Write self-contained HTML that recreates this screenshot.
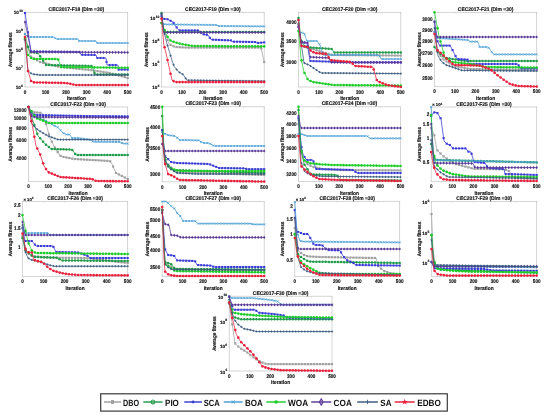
<!DOCTYPE html><html><head><meta charset="utf-8"><style>html,body{margin:0;padding:0;background:#fff;width:550px;height:416px;overflow:hidden}svg{display:block;will-change:transform;text-rendering:geometricPrecision}.t{font-weight:bold;fill:#111;stroke:#111;stroke-width:0.15px}.m{text-anchor:middle}.e{text-anchor:end}</style></head><body>
<svg width="550" height="416" viewBox="0 0 550 416" font-family='"Liberation Sans", sans-serif'>
<g><rect x="25" y="12.3" width="102.70" height="74.70" fill="#fff" stroke="#c4c4c4" stroke-width="0.7"/><path d="M25.00 87v-1M25.00 12.3v1" stroke="#c4c4c4" stroke-width="0.6"/><text x="25.00" y="93.70" class="t m" font-size="5.3" textLength="2.56" lengthAdjust="spacingAndGlyphs">0</text><path d="M45.54 87v-1M45.54 12.3v1" stroke="#c4c4c4" stroke-width="0.6"/><text x="45.54" y="93.70" class="t m" font-size="5.3" textLength="7.67" lengthAdjust="spacingAndGlyphs">100</text><path d="M66.08 87v-1M66.08 12.3v1" stroke="#c4c4c4" stroke-width="0.6"/><text x="66.08" y="93.70" class="t m" font-size="5.3" textLength="7.67" lengthAdjust="spacingAndGlyphs">200</text><path d="M86.62 87v-1M86.62 12.3v1" stroke="#c4c4c4" stroke-width="0.6"/><text x="86.62" y="93.70" class="t m" font-size="5.3" textLength="7.67" lengthAdjust="spacingAndGlyphs">300</text><path d="M107.16 87v-1M107.16 12.3v1" stroke="#c4c4c4" stroke-width="0.6"/><text x="107.16" y="93.70" class="t m" font-size="5.3" textLength="7.67" lengthAdjust="spacingAndGlyphs">400</text><path d="M127.70 87v-1M127.70 12.3v1" stroke="#c4c4c4" stroke-width="0.6"/><text x="127.70" y="93.70" class="t m" font-size="5.3" textLength="7.67" lengthAdjust="spacingAndGlyphs">500</text><text x="23.00" y="14.40" class="t e" font-size="4.6">10<tspan font-size="3.4" dx="0.3" dy="-2.3">10</tspan></text><text x="23.00" y="33.10" class="t e" font-size="4.6">10<tspan font-size="3.4" dx="0.3" dy="-2.3">9</tspan></text><text x="23.00" y="51.80" class="t e" font-size="4.6">10<tspan font-size="3.4" dx="0.3" dy="-2.3">8</tspan></text><text x="23.00" y="70.40" class="t e" font-size="4.6">10<tspan font-size="3.4" dx="0.3" dy="-2.3">7</tspan></text><text x="23.00" y="89.10" class="t e" font-size="4.6">10<tspan font-size="3.4" dx="0.3" dy="-2.3">6</tspan></text><text x="76.35" y="10.90" class="t m" font-size="5.4" textLength="55.5" lengthAdjust="spacingAndGlyphs">CEC2017-F18 (Dim =30)</text><text x="76.35" y="100.40" class="t m" font-size="5.4" textLength="19" lengthAdjust="spacingAndGlyphs">Iteration</text><text x="12.20" y="49.65" class="t m" font-size="5.3" textLength="34.5" lengthAdjust="spacingAndGlyphs" transform="rotate(-90 12.20 49.65)">Average fitness</text><path d="M25.00 34.00 L30.00 56.00 L40.00 62.00 L60.00 67.00 L90.00 70.00 L110.00 73.00 L127.70 78.00" fill="none" stroke="#a0a0a0" stroke-width="0.75" stroke-linejoin="round"/><rect x="23.90" y="32.90" width="2.2" height="2.2" fill="#a0a0a0"/><rect x="26.92" y="46.19" width="2.2" height="2.2" fill="#a0a0a0"/><rect x="29.94" y="55.52" width="2.2" height="2.2" fill="#a0a0a0"/><rect x="32.96" y="57.34" width="2.2" height="2.2" fill="#a0a0a0"/><rect x="35.98" y="59.15" width="2.2" height="2.2" fill="#a0a0a0"/><rect x="39.00" y="60.93" width="2.2" height="2.2" fill="#a0a0a0"/><rect x="42.02" y="61.68" width="2.2" height="2.2" fill="#a0a0a0"/><rect x="45.04" y="62.44" width="2.2" height="2.2" fill="#a0a0a0"/><rect x="48.06" y="63.19" width="2.2" height="2.2" fill="#a0a0a0"/><rect x="51.09" y="63.95" width="2.2" height="2.2" fill="#a0a0a0"/><rect x="54.11" y="64.70" width="2.2" height="2.2" fill="#a0a0a0"/><rect x="57.13" y="65.46" width="2.2" height="2.2" fill="#a0a0a0"/><rect x="60.15" y="66.02" width="2.2" height="2.2" fill="#a0a0a0"/><rect x="63.17" y="66.33" width="2.2" height="2.2" fill="#a0a0a0"/><rect x="66.19" y="66.63" width="2.2" height="2.2" fill="#a0a0a0"/><rect x="69.21" y="66.93" width="2.2" height="2.2" fill="#a0a0a0"/><rect x="72.23" y="67.23" width="2.2" height="2.2" fill="#a0a0a0"/><rect x="75.25" y="67.54" width="2.2" height="2.2" fill="#a0a0a0"/><rect x="78.27" y="67.84" width="2.2" height="2.2" fill="#a0a0a0"/><rect x="81.29" y="68.14" width="2.2" height="2.2" fill="#a0a0a0"/><rect x="84.31" y="68.44" width="2.2" height="2.2" fill="#a0a0a0"/><rect x="87.33" y="68.74" width="2.2" height="2.2" fill="#a0a0a0"/><rect x="90.35" y="69.12" width="2.2" height="2.2" fill="#a0a0a0"/><rect x="93.37" y="69.57" width="2.2" height="2.2" fill="#a0a0a0"/><rect x="96.39" y="70.02" width="2.2" height="2.2" fill="#a0a0a0"/><rect x="99.41" y="70.48" width="2.2" height="2.2" fill="#a0a0a0"/><rect x="102.44" y="70.93" width="2.2" height="2.2" fill="#a0a0a0"/><rect x="105.46" y="71.38" width="2.2" height="2.2" fill="#a0a0a0"/><rect x="108.48" y="71.84" width="2.2" height="2.2" fill="#a0a0a0"/><rect x="111.50" y="72.63" width="2.2" height="2.2" fill="#a0a0a0"/><rect x="114.52" y="73.49" width="2.2" height="2.2" fill="#a0a0a0"/><rect x="117.54" y="74.34" width="2.2" height="2.2" fill="#a0a0a0"/><rect x="120.56" y="75.19" width="2.2" height="2.2" fill="#a0a0a0"/><rect x="123.58" y="76.05" width="2.2" height="2.2" fill="#a0a0a0"/><rect x="126.60" y="76.90" width="2.2" height="2.2" fill="#a0a0a0"/><path d="M25.00 39.00 L30.00 52.00 L38.00 53.00 L46.00 65.00 L92.00 66.00 L95.00 74.40 L127.70 74.40" fill="none" stroke="#1f9a48" stroke-width="0.75" stroke-linejoin="round"/><circle cx="25.00" cy="39.00" r="1.25" fill="#1f9a48"/><circle cx="28.02" cy="46.85" r="1.25" fill="#1f9a48"/><circle cx="31.04" cy="52.13" r="1.25" fill="#1f9a48"/><circle cx="34.06" cy="52.51" r="1.25" fill="#1f9a48"/><circle cx="37.08" cy="52.89" r="1.25" fill="#1f9a48"/><circle cx="40.10" cy="56.15" r="1.25" fill="#1f9a48"/><circle cx="43.12" cy="60.69" r="1.25" fill="#1f9a48"/><circle cx="46.14" cy="65.00" r="1.25" fill="#1f9a48"/><circle cx="49.16" cy="65.07" r="1.25" fill="#1f9a48"/><circle cx="52.19" cy="65.13" r="1.25" fill="#1f9a48"/><circle cx="55.21" cy="65.20" r="1.25" fill="#1f9a48"/><circle cx="58.23" cy="65.27" r="1.25" fill="#1f9a48"/><circle cx="61.25" cy="65.33" r="1.25" fill="#1f9a48"/><circle cx="64.27" cy="65.40" r="1.25" fill="#1f9a48"/><circle cx="67.29" cy="65.46" r="1.25" fill="#1f9a48"/><circle cx="70.31" cy="65.53" r="1.25" fill="#1f9a48"/><circle cx="73.33" cy="65.59" r="1.25" fill="#1f9a48"/><circle cx="76.35" cy="65.66" r="1.25" fill="#1f9a48"/><circle cx="79.37" cy="65.73" r="1.25" fill="#1f9a48"/><circle cx="82.39" cy="65.79" r="1.25" fill="#1f9a48"/><circle cx="85.41" cy="65.86" r="1.25" fill="#1f9a48"/><circle cx="88.43" cy="65.92" r="1.25" fill="#1f9a48"/><circle cx="91.45" cy="65.99" r="1.25" fill="#1f9a48"/><circle cx="94.47" cy="72.93" r="1.25" fill="#1f9a48"/><circle cx="97.49" cy="74.40" r="1.25" fill="#1f9a48"/><circle cx="100.51" cy="74.40" r="1.25" fill="#1f9a48"/><circle cx="103.54" cy="74.40" r="1.25" fill="#1f9a48"/><circle cx="106.56" cy="74.40" r="1.25" fill="#1f9a48"/><circle cx="109.58" cy="74.40" r="1.25" fill="#1f9a48"/><circle cx="112.60" cy="74.40" r="1.25" fill="#1f9a48"/><circle cx="115.62" cy="74.40" r="1.25" fill="#1f9a48"/><circle cx="118.64" cy="74.40" r="1.25" fill="#1f9a48"/><circle cx="121.66" cy="74.40" r="1.25" fill="#1f9a48"/><circle cx="124.68" cy="74.40" r="1.25" fill="#1f9a48"/><circle cx="127.70" cy="74.40" r="1.25" fill="#1f9a48"/><path d="M25.00 13.00 L31.00 51.40 L80.00 52.00 L81.00 54.80 L96.00 55.00 L97.00 58.00 L106.00 58.00 L107.00 65.00 L118.00 65.00 L118.40 69.60 L127.70 69.60" fill="none" stroke="#3a3ad6" stroke-width="0.75" stroke-linejoin="round"/><rect x="23.95" y="11.95" width="2.1" height="2.1" fill="#3a3ad6"/><rect x="26.97" y="31.28" width="2.1" height="2.1" fill="#3a3ad6"/><rect x="29.99" y="50.35" width="2.1" height="2.1" fill="#3a3ad6"/><rect x="33.01" y="50.39" width="2.1" height="2.1" fill="#3a3ad6"/><rect x="36.03" y="50.42" width="2.1" height="2.1" fill="#3a3ad6"/><rect x="39.05" y="50.46" width="2.1" height="2.1" fill="#3a3ad6"/><rect x="42.07" y="50.50" width="2.1" height="2.1" fill="#3a3ad6"/><rect x="45.09" y="50.54" width="2.1" height="2.1" fill="#3a3ad6"/><rect x="48.11" y="50.57" width="2.1" height="2.1" fill="#3a3ad6"/><rect x="51.14" y="50.61" width="2.1" height="2.1" fill="#3a3ad6"/><rect x="54.16" y="50.65" width="2.1" height="2.1" fill="#3a3ad6"/><rect x="57.18" y="50.68" width="2.1" height="2.1" fill="#3a3ad6"/><rect x="60.20" y="50.72" width="2.1" height="2.1" fill="#3a3ad6"/><rect x="63.22" y="50.76" width="2.1" height="2.1" fill="#3a3ad6"/><rect x="66.24" y="50.79" width="2.1" height="2.1" fill="#3a3ad6"/><rect x="69.26" y="50.83" width="2.1" height="2.1" fill="#3a3ad6"/><rect x="72.28" y="50.87" width="2.1" height="2.1" fill="#3a3ad6"/><rect x="75.30" y="50.91" width="2.1" height="2.1" fill="#3a3ad6"/><rect x="78.32" y="50.94" width="2.1" height="2.1" fill="#3a3ad6"/><rect x="81.34" y="53.77" width="2.1" height="2.1" fill="#3a3ad6"/><rect x="84.36" y="53.81" width="2.1" height="2.1" fill="#3a3ad6"/><rect x="87.38" y="53.85" width="2.1" height="2.1" fill="#3a3ad6"/><rect x="90.40" y="53.89" width="2.1" height="2.1" fill="#3a3ad6"/><rect x="93.42" y="53.93" width="2.1" height="2.1" fill="#3a3ad6"/><rect x="96.44" y="56.95" width="2.1" height="2.1" fill="#3a3ad6"/><rect x="99.46" y="56.95" width="2.1" height="2.1" fill="#3a3ad6"/><rect x="102.49" y="56.95" width="2.1" height="2.1" fill="#3a3ad6"/><rect x="105.51" y="60.84" width="2.1" height="2.1" fill="#3a3ad6"/><rect x="108.53" y="63.95" width="2.1" height="2.1" fill="#3a3ad6"/><rect x="111.55" y="63.95" width="2.1" height="2.1" fill="#3a3ad6"/><rect x="114.57" y="63.95" width="2.1" height="2.1" fill="#3a3ad6"/><rect x="117.59" y="68.55" width="2.1" height="2.1" fill="#3a3ad6"/><rect x="120.61" y="68.55" width="2.1" height="2.1" fill="#3a3ad6"/><rect x="123.63" y="68.55" width="2.1" height="2.1" fill="#3a3ad6"/><rect x="126.65" y="68.55" width="2.1" height="2.1" fill="#3a3ad6"/><path d="M25.00 34.00 L27.00 36.00 L29.00 37.00 L54.00 37.00 L56.00 39.00 L78.00 39.00 L79.00 41.00 L96.00 41.00 L97.00 43.00 L127.70 43.00" fill="none" stroke="#4a9fd6" stroke-width="0.75" stroke-linejoin="round"/><path d="M24.00 33.00L26.00 35.00M24.00 35.00L26.00 33.00" stroke="#4a9fd6" stroke-width="0.8" fill="none"/><path d="M27.02 35.51L29.02 37.51M27.02 37.51L29.02 35.51" stroke="#4a9fd6" stroke-width="0.8" fill="none"/><path d="M30.04 36.00L32.04 38.00M30.04 38.00L32.04 36.00" stroke="#4a9fd6" stroke-width="0.8" fill="none"/><path d="M33.06 36.00L35.06 38.00M33.06 38.00L35.06 36.00" stroke="#4a9fd6" stroke-width="0.8" fill="none"/><path d="M36.08 36.00L38.08 38.00M36.08 38.00L38.08 36.00" stroke="#4a9fd6" stroke-width="0.8" fill="none"/><path d="M39.10 36.00L41.10 38.00M39.10 38.00L41.10 36.00" stroke="#4a9fd6" stroke-width="0.8" fill="none"/><path d="M42.12 36.00L44.12 38.00M42.12 38.00L44.12 36.00" stroke="#4a9fd6" stroke-width="0.8" fill="none"/><path d="M45.14 36.00L47.14 38.00M45.14 38.00L47.14 36.00" stroke="#4a9fd6" stroke-width="0.8" fill="none"/><path d="M48.16 36.00L50.16 38.00M48.16 38.00L50.16 36.00" stroke="#4a9fd6" stroke-width="0.8" fill="none"/><path d="M51.19 36.00L53.19 38.00M51.19 38.00L53.19 36.00" stroke="#4a9fd6" stroke-width="0.8" fill="none"/><path d="M54.21 37.21L56.21 39.21M54.21 39.21L56.21 37.21" stroke="#4a9fd6" stroke-width="0.8" fill="none"/><path d="M57.23 38.00L59.23 40.00M57.23 40.00L59.23 38.00" stroke="#4a9fd6" stroke-width="0.8" fill="none"/><path d="M60.25 38.00L62.25 40.00M60.25 40.00L62.25 38.00" stroke="#4a9fd6" stroke-width="0.8" fill="none"/><path d="M63.27 38.00L65.27 40.00M63.27 40.00L65.27 38.00" stroke="#4a9fd6" stroke-width="0.8" fill="none"/><path d="M66.29 38.00L68.29 40.00M66.29 40.00L68.29 38.00" stroke="#4a9fd6" stroke-width="0.8" fill="none"/><path d="M69.31 38.00L71.31 40.00M69.31 40.00L71.31 38.00" stroke="#4a9fd6" stroke-width="0.8" fill="none"/><path d="M72.33 38.00L74.33 40.00M72.33 40.00L74.33 38.00" stroke="#4a9fd6" stroke-width="0.8" fill="none"/><path d="M75.35 38.00L77.35 40.00M75.35 40.00L77.35 38.00" stroke="#4a9fd6" stroke-width="0.8" fill="none"/><path d="M78.37 40.00L80.37 42.00M78.37 42.00L80.37 40.00" stroke="#4a9fd6" stroke-width="0.8" fill="none"/><path d="M81.39 40.00L83.39 42.00M81.39 42.00L83.39 40.00" stroke="#4a9fd6" stroke-width="0.8" fill="none"/><path d="M84.41 40.00L86.41 42.00M84.41 42.00L86.41 40.00" stroke="#4a9fd6" stroke-width="0.8" fill="none"/><path d="M87.43 40.00L89.43 42.00M87.43 42.00L89.43 40.00" stroke="#4a9fd6" stroke-width="0.8" fill="none"/><path d="M90.45 40.00L92.45 42.00M90.45 42.00L92.45 40.00" stroke="#4a9fd6" stroke-width="0.8" fill="none"/><path d="M93.47 40.00L95.47 42.00M93.47 42.00L95.47 40.00" stroke="#4a9fd6" stroke-width="0.8" fill="none"/><path d="M96.49 42.00L98.49 44.00M96.49 44.00L98.49 42.00" stroke="#4a9fd6" stroke-width="0.8" fill="none"/><path d="M99.51 42.00L101.51 44.00M99.51 44.00L101.51 42.00" stroke="#4a9fd6" stroke-width="0.8" fill="none"/><path d="M102.54 42.00L104.54 44.00M102.54 44.00L104.54 42.00" stroke="#4a9fd6" stroke-width="0.8" fill="none"/><path d="M105.56 42.00L107.56 44.00M105.56 44.00L107.56 42.00" stroke="#4a9fd6" stroke-width="0.8" fill="none"/><path d="M108.58 42.00L110.58 44.00M108.58 44.00L110.58 42.00" stroke="#4a9fd6" stroke-width="0.8" fill="none"/><path d="M111.60 42.00L113.60 44.00M111.60 44.00L113.60 42.00" stroke="#4a9fd6" stroke-width="0.8" fill="none"/><path d="M114.62 42.00L116.62 44.00M114.62 44.00L116.62 42.00" stroke="#4a9fd6" stroke-width="0.8" fill="none"/><path d="M117.64 42.00L119.64 44.00M117.64 44.00L119.64 42.00" stroke="#4a9fd6" stroke-width="0.8" fill="none"/><path d="M120.66 42.00L122.66 44.00M120.66 44.00L122.66 42.00" stroke="#4a9fd6" stroke-width="0.8" fill="none"/><path d="M123.68 42.00L125.68 44.00M123.68 44.00L125.68 42.00" stroke="#4a9fd6" stroke-width="0.8" fill="none"/><path d="M126.70 42.00L128.70 44.00M126.70 44.00L128.70 42.00" stroke="#4a9fd6" stroke-width="0.8" fill="none"/><path d="M25.00 39.00 L28.00 55.00 L32.00 59.00 L58.00 59.00 L61.00 67.00 L127.70 67.80" fill="none" stroke="#1ecc28" stroke-width="0.75" stroke-linejoin="round"/><circle cx="25.00" cy="39.00" r="1.3" fill="#1ecc28"/><circle cx="28.02" cy="55.02" r="1.3" fill="#1ecc28"/><circle cx="31.04" cy="58.04" r="1.3" fill="#1ecc28"/><circle cx="34.06" cy="59.00" r="1.3" fill="#1ecc28"/><circle cx="37.08" cy="59.00" r="1.3" fill="#1ecc28"/><circle cx="40.10" cy="59.00" r="1.3" fill="#1ecc28"/><circle cx="43.12" cy="59.00" r="1.3" fill="#1ecc28"/><circle cx="46.14" cy="59.00" r="1.3" fill="#1ecc28"/><circle cx="49.16" cy="59.00" r="1.3" fill="#1ecc28"/><circle cx="52.19" cy="59.00" r="1.3" fill="#1ecc28"/><circle cx="55.21" cy="59.00" r="1.3" fill="#1ecc28"/><circle cx="58.23" cy="59.60" r="1.3" fill="#1ecc28"/><circle cx="61.25" cy="67.00" r="1.3" fill="#1ecc28"/><circle cx="64.27" cy="67.04" r="1.3" fill="#1ecc28"/><circle cx="67.29" cy="67.08" r="1.3" fill="#1ecc28"/><circle cx="70.31" cy="67.11" r="1.3" fill="#1ecc28"/><circle cx="73.33" cy="67.15" r="1.3" fill="#1ecc28"/><circle cx="76.35" cy="67.18" r="1.3" fill="#1ecc28"/><circle cx="79.37" cy="67.22" r="1.3" fill="#1ecc28"/><circle cx="82.39" cy="67.26" r="1.3" fill="#1ecc28"/><circle cx="85.41" cy="67.29" r="1.3" fill="#1ecc28"/><circle cx="88.43" cy="67.33" r="1.3" fill="#1ecc28"/><circle cx="91.45" cy="67.37" r="1.3" fill="#1ecc28"/><circle cx="94.47" cy="67.40" r="1.3" fill="#1ecc28"/><circle cx="97.49" cy="67.44" r="1.3" fill="#1ecc28"/><circle cx="100.51" cy="67.47" r="1.3" fill="#1ecc28"/><circle cx="103.54" cy="67.51" r="1.3" fill="#1ecc28"/><circle cx="106.56" cy="67.55" r="1.3" fill="#1ecc28"/><circle cx="109.58" cy="67.58" r="1.3" fill="#1ecc28"/><circle cx="112.60" cy="67.62" r="1.3" fill="#1ecc28"/><circle cx="115.62" cy="67.66" r="1.3" fill="#1ecc28"/><circle cx="118.64" cy="67.69" r="1.3" fill="#1ecc28"/><circle cx="121.66" cy="67.73" r="1.3" fill="#1ecc28"/><circle cx="124.68" cy="67.76" r="1.3" fill="#1ecc28"/><circle cx="127.70" cy="67.80" r="1.3" fill="#1ecc28"/><path d="M25.00 22.00 L28.00 36.00 L31.00 52.00 L127.70 52.40" fill="none" stroke="#5a3a98" stroke-width="0.75" stroke-linejoin="round"/><path d="M25.00 20.40L26.25 22.00L25.00 23.60L23.75 22.00Z" fill="#5a3a98"/><path d="M28.02 34.51L29.27 36.11L28.02 37.71L26.77 36.11Z" fill="#5a3a98"/><path d="M31.04 50.40L32.29 52.00L31.04 53.60L29.79 52.00Z" fill="#5a3a98"/><path d="M34.06 50.41L35.31 52.01L34.06 53.61L32.81 52.01Z" fill="#5a3a98"/><path d="M37.08 50.43L38.33 52.03L37.08 53.63L35.83 52.03Z" fill="#5a3a98"/><path d="M40.10 50.44L41.35 52.04L40.10 53.64L38.85 52.04Z" fill="#5a3a98"/><path d="M43.12 50.45L44.37 52.05L43.12 53.65L41.87 52.05Z" fill="#5a3a98"/><path d="M46.14 50.46L47.39 52.06L46.14 53.66L44.89 52.06Z" fill="#5a3a98"/><path d="M49.16 50.48L50.41 52.08L49.16 53.68L47.91 52.08Z" fill="#5a3a98"/><path d="M52.19 50.49L53.44 52.09L52.19 53.69L50.94 52.09Z" fill="#5a3a98"/><path d="M55.21 50.50L56.46 52.10L55.21 53.70L53.96 52.10Z" fill="#5a3a98"/><path d="M58.23 50.51L59.48 52.11L58.23 53.71L56.98 52.11Z" fill="#5a3a98"/><path d="M61.25 50.53L62.50 52.13L61.25 53.73L60.00 52.13Z" fill="#5a3a98"/><path d="M64.27 50.54L65.52 52.14L64.27 53.74L63.02 52.14Z" fill="#5a3a98"/><path d="M67.29 50.55L68.54 52.15L67.29 53.75L66.04 52.15Z" fill="#5a3a98"/><path d="M70.31 50.56L71.56 52.16L70.31 53.76L69.06 52.16Z" fill="#5a3a98"/><path d="M73.33 50.58L74.58 52.18L73.33 53.78L72.08 52.18Z" fill="#5a3a98"/><path d="M76.35 50.59L77.60 52.19L76.35 53.79L75.10 52.19Z" fill="#5a3a98"/><path d="M79.37 50.60L80.62 52.20L79.37 53.80L78.12 52.20Z" fill="#5a3a98"/><path d="M82.39 50.61L83.64 52.21L82.39 53.81L81.14 52.21Z" fill="#5a3a98"/><path d="M85.41 50.63L86.66 52.23L85.41 53.83L84.16 52.23Z" fill="#5a3a98"/><path d="M88.43 50.64L89.68 52.24L88.43 53.84L87.18 52.24Z" fill="#5a3a98"/><path d="M91.45 50.65L92.70 52.25L91.45 53.85L90.20 52.25Z" fill="#5a3a98"/><path d="M94.47 50.66L95.72 52.26L94.47 53.86L93.22 52.26Z" fill="#5a3a98"/><path d="M97.49 50.68L98.74 52.28L97.49 53.88L96.24 52.28Z" fill="#5a3a98"/><path d="M100.51 50.69L101.76 52.29L100.51 53.89L99.26 52.29Z" fill="#5a3a98"/><path d="M103.54 50.70L104.79 52.30L103.54 53.90L102.29 52.30Z" fill="#5a3a98"/><path d="M106.56 50.71L107.81 52.31L106.56 53.91L105.31 52.31Z" fill="#5a3a98"/><path d="M109.58 50.73L110.83 52.33L109.58 53.93L108.33 52.33Z" fill="#5a3a98"/><path d="M112.60 50.74L113.85 52.34L112.60 53.94L111.35 52.34Z" fill="#5a3a98"/><path d="M115.62 50.75L116.87 52.35L115.62 53.95L114.37 52.35Z" fill="#5a3a98"/><path d="M118.64 50.76L119.89 52.36L118.64 53.96L117.39 52.36Z" fill="#5a3a98"/><path d="M121.66 50.78L122.91 52.38L121.66 53.98L120.41 52.38Z" fill="#5a3a98"/><path d="M124.68 50.79L125.93 52.39L124.68 53.99L123.43 52.39Z" fill="#5a3a98"/><path d="M127.70 50.80L128.95 52.40L127.70 54.00L126.45 52.40Z" fill="#5a3a98"/><path d="M25.00 40.00 L28.00 71.00 L32.00 74.00 L40.00 75.00 L127.70 75.00" fill="none" stroke="#3a5a7e" stroke-width="0.75" stroke-linejoin="round"/><path d="M23.90 40.00H26.10M25.00 38.90V41.10" stroke="#3a5a7e" stroke-width="0.8" fill="none"/><path d="M26.92 71.02H29.12M28.02 69.92V72.12" stroke="#3a5a7e" stroke-width="0.8" fill="none"/><path d="M29.94 73.28H32.14M31.04 72.18V74.38" stroke="#3a5a7e" stroke-width="0.8" fill="none"/><path d="M32.96 74.26H35.16M34.06 73.16V75.36" stroke="#3a5a7e" stroke-width="0.8" fill="none"/><path d="M35.98 74.64H38.18M37.08 73.54V75.74" stroke="#3a5a7e" stroke-width="0.8" fill="none"/><path d="M39.00 75.00H41.20M40.10 73.90V76.10" stroke="#3a5a7e" stroke-width="0.8" fill="none"/><path d="M42.02 75.00H44.22M43.12 73.90V76.10" stroke="#3a5a7e" stroke-width="0.8" fill="none"/><path d="M45.04 75.00H47.24M46.14 73.90V76.10" stroke="#3a5a7e" stroke-width="0.8" fill="none"/><path d="M48.06 75.00H50.26M49.16 73.90V76.10" stroke="#3a5a7e" stroke-width="0.8" fill="none"/><path d="M51.09 75.00H53.29M52.19 73.90V76.10" stroke="#3a5a7e" stroke-width="0.8" fill="none"/><path d="M54.11 75.00H56.31M55.21 73.90V76.10" stroke="#3a5a7e" stroke-width="0.8" fill="none"/><path d="M57.13 75.00H59.33M58.23 73.90V76.10" stroke="#3a5a7e" stroke-width="0.8" fill="none"/><path d="M60.15 75.00H62.35M61.25 73.90V76.10" stroke="#3a5a7e" stroke-width="0.8" fill="none"/><path d="M63.17 75.00H65.37M64.27 73.90V76.10" stroke="#3a5a7e" stroke-width="0.8" fill="none"/><path d="M66.19 75.00H68.39M67.29 73.90V76.10" stroke="#3a5a7e" stroke-width="0.8" fill="none"/><path d="M69.21 75.00H71.41M70.31 73.90V76.10" stroke="#3a5a7e" stroke-width="0.8" fill="none"/><path d="M72.23 75.00H74.43M73.33 73.90V76.10" stroke="#3a5a7e" stroke-width="0.8" fill="none"/><path d="M75.25 75.00H77.45M76.35 73.90V76.10" stroke="#3a5a7e" stroke-width="0.8" fill="none"/><path d="M78.27 75.00H80.47M79.37 73.90V76.10" stroke="#3a5a7e" stroke-width="0.8" fill="none"/><path d="M81.29 75.00H83.49M82.39 73.90V76.10" stroke="#3a5a7e" stroke-width="0.8" fill="none"/><path d="M84.31 75.00H86.51M85.41 73.90V76.10" stroke="#3a5a7e" stroke-width="0.8" fill="none"/><path d="M87.33 75.00H89.53M88.43 73.90V76.10" stroke="#3a5a7e" stroke-width="0.8" fill="none"/><path d="M90.35 75.00H92.55M91.45 73.90V76.10" stroke="#3a5a7e" stroke-width="0.8" fill="none"/><path d="M93.37 75.00H95.57M94.47 73.90V76.10" stroke="#3a5a7e" stroke-width="0.8" fill="none"/><path d="M96.39 75.00H98.59M97.49 73.90V76.10" stroke="#3a5a7e" stroke-width="0.8" fill="none"/><path d="M99.41 75.00H101.61M100.51 73.90V76.10" stroke="#3a5a7e" stroke-width="0.8" fill="none"/><path d="M102.44 75.00H104.64M103.54 73.90V76.10" stroke="#3a5a7e" stroke-width="0.8" fill="none"/><path d="M105.46 75.00H107.66M106.56 73.90V76.10" stroke="#3a5a7e" stroke-width="0.8" fill="none"/><path d="M108.48 75.00H110.68M109.58 73.90V76.10" stroke="#3a5a7e" stroke-width="0.8" fill="none"/><path d="M111.50 75.00H113.70M112.60 73.90V76.10" stroke="#3a5a7e" stroke-width="0.8" fill="none"/><path d="M114.52 75.00H116.72M115.62 73.90V76.10" stroke="#3a5a7e" stroke-width="0.8" fill="none"/><path d="M117.54 75.00H119.74M118.64 73.90V76.10" stroke="#3a5a7e" stroke-width="0.8" fill="none"/><path d="M120.56 75.00H122.76M121.66 73.90V76.10" stroke="#3a5a7e" stroke-width="0.8" fill="none"/><path d="M123.58 75.00H125.78M124.68 73.90V76.10" stroke="#3a5a7e" stroke-width="0.8" fill="none"/><path d="M126.60 75.00H128.80M127.70 73.90V76.10" stroke="#3a5a7e" stroke-width="0.8" fill="none"/><path d="M25.00 37.00 L28.00 71.00 L31.00 81.00 L34.00 82.40 L66.00 83.00 L76.00 85.00 L127.70 85.00" fill="none" stroke="#e8203c" stroke-width="0.75" stroke-linejoin="round"/><circle cx="25.00" cy="37.00" r="1.3" fill="#e8203c"/><circle cx="28.02" cy="71.07" r="1.3" fill="#e8203c"/><circle cx="31.04" cy="81.02" r="1.3" fill="#e8203c"/><circle cx="34.06" cy="82.40" r="1.3" fill="#e8203c"/><circle cx="37.08" cy="82.46" r="1.3" fill="#e8203c"/><circle cx="40.10" cy="82.51" r="1.3" fill="#e8203c"/><circle cx="43.12" cy="82.57" r="1.3" fill="#e8203c"/><circle cx="46.14" cy="82.63" r="1.3" fill="#e8203c"/><circle cx="49.16" cy="82.68" r="1.3" fill="#e8203c"/><circle cx="52.19" cy="82.74" r="1.3" fill="#e8203c"/><circle cx="55.21" cy="82.80" r="1.3" fill="#e8203c"/><circle cx="58.23" cy="82.85" r="1.3" fill="#e8203c"/><circle cx="61.25" cy="82.91" r="1.3" fill="#e8203c"/><circle cx="64.27" cy="82.97" r="1.3" fill="#e8203c"/><circle cx="67.29" cy="83.26" r="1.3" fill="#e8203c"/><circle cx="70.31" cy="83.86" r="1.3" fill="#e8203c"/><circle cx="73.33" cy="84.47" r="1.3" fill="#e8203c"/><circle cx="76.35" cy="85.00" r="1.3" fill="#e8203c"/><circle cx="79.37" cy="85.00" r="1.3" fill="#e8203c"/><circle cx="82.39" cy="85.00" r="1.3" fill="#e8203c"/><circle cx="85.41" cy="85.00" r="1.3" fill="#e8203c"/><circle cx="88.43" cy="85.00" r="1.3" fill="#e8203c"/><circle cx="91.45" cy="85.00" r="1.3" fill="#e8203c"/><circle cx="94.47" cy="85.00" r="1.3" fill="#e8203c"/><circle cx="97.49" cy="85.00" r="1.3" fill="#e8203c"/><circle cx="100.51" cy="85.00" r="1.3" fill="#e8203c"/><circle cx="103.54" cy="85.00" r="1.3" fill="#e8203c"/><circle cx="106.56" cy="85.00" r="1.3" fill="#e8203c"/><circle cx="109.58" cy="85.00" r="1.3" fill="#e8203c"/><circle cx="112.60" cy="85.00" r="1.3" fill="#e8203c"/><circle cx="115.62" cy="85.00" r="1.3" fill="#e8203c"/><circle cx="118.64" cy="85.00" r="1.3" fill="#e8203c"/><circle cx="121.66" cy="85.00" r="1.3" fill="#e8203c"/><circle cx="124.68" cy="85.00" r="1.3" fill="#e8203c"/><circle cx="127.70" cy="85.00" r="1.3" fill="#e8203c"/></g>
<g><rect x="161.5" y="12.3" width="102.70" height="74.70" fill="#fff" stroke="#c4c4c4" stroke-width="0.7"/><path d="M161.50 87v-1M161.50 12.3v1" stroke="#c4c4c4" stroke-width="0.6"/><text x="161.50" y="93.70" class="t m" font-size="5.3" textLength="2.56" lengthAdjust="spacingAndGlyphs">0</text><path d="M182.04 87v-1M182.04 12.3v1" stroke="#c4c4c4" stroke-width="0.6"/><text x="182.04" y="93.70" class="t m" font-size="5.3" textLength="7.67" lengthAdjust="spacingAndGlyphs">100</text><path d="M202.58 87v-1M202.58 12.3v1" stroke="#c4c4c4" stroke-width="0.6"/><text x="202.58" y="93.70" class="t m" font-size="5.3" textLength="7.67" lengthAdjust="spacingAndGlyphs">200</text><path d="M223.12 87v-1M223.12 12.3v1" stroke="#c4c4c4" stroke-width="0.6"/><text x="223.12" y="93.70" class="t m" font-size="5.3" textLength="7.67" lengthAdjust="spacingAndGlyphs">300</text><path d="M243.66 87v-1M243.66 12.3v1" stroke="#c4c4c4" stroke-width="0.6"/><text x="243.66" y="93.70" class="t m" font-size="5.3" textLength="7.67" lengthAdjust="spacingAndGlyphs">400</text><path d="M264.20 87v-1M264.20 12.3v1" stroke="#c4c4c4" stroke-width="0.6"/><text x="264.20" y="93.70" class="t m" font-size="5.3" textLength="7.67" lengthAdjust="spacingAndGlyphs">500</text><text x="159.50" y="19.90" class="t e" font-size="4.6">10<tspan font-size="3.4" dx="0.3" dy="-2.3">10</tspan></text><text x="159.50" y="42.80" class="t e" font-size="4.6">10<tspan font-size="3.4" dx="0.3" dy="-2.3">8</tspan></text><text x="159.50" y="65.70" class="t e" font-size="4.6">10<tspan font-size="3.4" dx="0.3" dy="-2.3">6</tspan></text><text x="159.50" y="89.10" class="t e" font-size="4.6">10<tspan font-size="3.4" dx="0.3" dy="-2.3">4</tspan></text><text x="212.85" y="10.90" class="t m" font-size="5.4" textLength="55.5" lengthAdjust="spacingAndGlyphs">CEC2017-F19 (Dim =30)</text><text x="212.85" y="100.40" class="t m" font-size="5.4" textLength="19" lengthAdjust="spacingAndGlyphs">Iteration</text><text x="148.40" y="49.65" class="t m" font-size="5.3" textLength="34.5" lengthAdjust="spacingAndGlyphs" transform="rotate(-90 148.40 49.65)">Average fitness</text><path d="M161.50 23.00 L169.00 44.00 L175.00 47.00 L187.00 47.60 L261.00 47.60 L264.20 62.00" fill="none" stroke="#a0a0a0" stroke-width="0.75" stroke-linejoin="round"/><rect x="160.40" y="21.90" width="2.2" height="2.2" fill="#a0a0a0"/><rect x="163.42" y="30.36" width="2.2" height="2.2" fill="#a0a0a0"/><rect x="166.44" y="38.82" width="2.2" height="2.2" fill="#a0a0a0"/><rect x="169.46" y="43.68" width="2.2" height="2.2" fill="#a0a0a0"/><rect x="172.48" y="45.19" width="2.2" height="2.2" fill="#a0a0a0"/><rect x="175.50" y="45.98" width="2.2" height="2.2" fill="#a0a0a0"/><rect x="178.52" y="46.13" width="2.2" height="2.2" fill="#a0a0a0"/><rect x="181.54" y="46.28" width="2.2" height="2.2" fill="#a0a0a0"/><rect x="184.56" y="46.43" width="2.2" height="2.2" fill="#a0a0a0"/><rect x="187.59" y="46.50" width="2.2" height="2.2" fill="#a0a0a0"/><rect x="190.61" y="46.50" width="2.2" height="2.2" fill="#a0a0a0"/><rect x="193.63" y="46.50" width="2.2" height="2.2" fill="#a0a0a0"/><rect x="196.65" y="46.50" width="2.2" height="2.2" fill="#a0a0a0"/><rect x="199.67" y="46.50" width="2.2" height="2.2" fill="#a0a0a0"/><rect x="202.69" y="46.50" width="2.2" height="2.2" fill="#a0a0a0"/><rect x="205.71" y="46.50" width="2.2" height="2.2" fill="#a0a0a0"/><rect x="208.73" y="46.50" width="2.2" height="2.2" fill="#a0a0a0"/><rect x="211.75" y="46.50" width="2.2" height="2.2" fill="#a0a0a0"/><rect x="214.77" y="46.50" width="2.2" height="2.2" fill="#a0a0a0"/><rect x="217.79" y="46.50" width="2.2" height="2.2" fill="#a0a0a0"/><rect x="220.81" y="46.50" width="2.2" height="2.2" fill="#a0a0a0"/><rect x="223.83" y="46.50" width="2.2" height="2.2" fill="#a0a0a0"/><rect x="226.85" y="46.50" width="2.2" height="2.2" fill="#a0a0a0"/><rect x="229.87" y="46.50" width="2.2" height="2.2" fill="#a0a0a0"/><rect x="232.89" y="46.50" width="2.2" height="2.2" fill="#a0a0a0"/><rect x="235.91" y="46.50" width="2.2" height="2.2" fill="#a0a0a0"/><rect x="238.94" y="46.50" width="2.2" height="2.2" fill="#a0a0a0"/><rect x="241.96" y="46.50" width="2.2" height="2.2" fill="#a0a0a0"/><rect x="244.98" y="46.50" width="2.2" height="2.2" fill="#a0a0a0"/><rect x="248.00" y="46.50" width="2.2" height="2.2" fill="#a0a0a0"/><rect x="251.02" y="46.50" width="2.2" height="2.2" fill="#a0a0a0"/><rect x="254.04" y="46.50" width="2.2" height="2.2" fill="#a0a0a0"/><rect x="257.06" y="46.50" width="2.2" height="2.2" fill="#a0a0a0"/><rect x="260.08" y="47.31" width="2.2" height="2.2" fill="#a0a0a0"/><rect x="263.10" y="60.90" width="2.2" height="2.2" fill="#a0a0a0"/><path d="M161.50 13.00 L164.00 32.00 L264.20 32.00" fill="none" stroke="#1f9a48" stroke-width="0.75" stroke-linejoin="round"/><circle cx="161.50" cy="13.00" r="1.25" fill="#1f9a48"/><circle cx="164.52" cy="32.00" r="1.25" fill="#1f9a48"/><circle cx="167.54" cy="32.00" r="1.25" fill="#1f9a48"/><circle cx="170.56" cy="32.00" r="1.25" fill="#1f9a48"/><circle cx="173.58" cy="32.00" r="1.25" fill="#1f9a48"/><circle cx="176.60" cy="32.00" r="1.25" fill="#1f9a48"/><circle cx="179.62" cy="32.00" r="1.25" fill="#1f9a48"/><circle cx="182.64" cy="32.00" r="1.25" fill="#1f9a48"/><circle cx="185.66" cy="32.00" r="1.25" fill="#1f9a48"/><circle cx="188.69" cy="32.00" r="1.25" fill="#1f9a48"/><circle cx="191.71" cy="32.00" r="1.25" fill="#1f9a48"/><circle cx="194.73" cy="32.00" r="1.25" fill="#1f9a48"/><circle cx="197.75" cy="32.00" r="1.25" fill="#1f9a48"/><circle cx="200.77" cy="32.00" r="1.25" fill="#1f9a48"/><circle cx="203.79" cy="32.00" r="1.25" fill="#1f9a48"/><circle cx="206.81" cy="32.00" r="1.25" fill="#1f9a48"/><circle cx="209.83" cy="32.00" r="1.25" fill="#1f9a48"/><circle cx="212.85" cy="32.00" r="1.25" fill="#1f9a48"/><circle cx="215.87" cy="32.00" r="1.25" fill="#1f9a48"/><circle cx="218.89" cy="32.00" r="1.25" fill="#1f9a48"/><circle cx="221.91" cy="32.00" r="1.25" fill="#1f9a48"/><circle cx="224.93" cy="32.00" r="1.25" fill="#1f9a48"/><circle cx="227.95" cy="32.00" r="1.25" fill="#1f9a48"/><circle cx="230.97" cy="32.00" r="1.25" fill="#1f9a48"/><circle cx="233.99" cy="32.00" r="1.25" fill="#1f9a48"/><circle cx="237.01" cy="32.00" r="1.25" fill="#1f9a48"/><circle cx="240.04" cy="32.00" r="1.25" fill="#1f9a48"/><circle cx="243.06" cy="32.00" r="1.25" fill="#1f9a48"/><circle cx="246.08" cy="32.00" r="1.25" fill="#1f9a48"/><circle cx="249.10" cy="32.00" r="1.25" fill="#1f9a48"/><circle cx="252.12" cy="32.00" r="1.25" fill="#1f9a48"/><circle cx="255.14" cy="32.00" r="1.25" fill="#1f9a48"/><circle cx="258.16" cy="32.00" r="1.25" fill="#1f9a48"/><circle cx="261.18" cy="32.00" r="1.25" fill="#1f9a48"/><circle cx="264.20" cy="32.00" r="1.25" fill="#1f9a48"/><path d="M161.50 16.00 L164.00 19.00 L167.00 19.00 L173.00 22.00 L177.00 28.00 L179.00 30.40 L199.00 30.40 L202.00 34.00 L208.00 35.00 L211.00 39.60 L231.00 40.40 L232.00 41.60 L255.00 42.00 L257.00 43.00 L264.20 42.40" fill="none" stroke="#3a3ad6" stroke-width="0.75" stroke-linejoin="round"/><rect x="160.45" y="14.95" width="2.1" height="2.1" fill="#3a3ad6"/><rect x="163.47" y="17.95" width="2.1" height="2.1" fill="#3a3ad6"/><rect x="166.49" y="18.22" width="2.1" height="2.1" fill="#3a3ad6"/><rect x="169.51" y="19.73" width="2.1" height="2.1" fill="#3a3ad6"/><rect x="172.53" y="21.82" width="2.1" height="2.1" fill="#3a3ad6"/><rect x="175.55" y="26.35" width="2.1" height="2.1" fill="#3a3ad6"/><rect x="178.57" y="29.35" width="2.1" height="2.1" fill="#3a3ad6"/><rect x="181.59" y="29.35" width="2.1" height="2.1" fill="#3a3ad6"/><rect x="184.61" y="29.35" width="2.1" height="2.1" fill="#3a3ad6"/><rect x="187.64" y="29.35" width="2.1" height="2.1" fill="#3a3ad6"/><rect x="190.66" y="29.35" width="2.1" height="2.1" fill="#3a3ad6"/><rect x="193.68" y="29.35" width="2.1" height="2.1" fill="#3a3ad6"/><rect x="196.70" y="29.35" width="2.1" height="2.1" fill="#3a3ad6"/><rect x="199.72" y="31.47" width="2.1" height="2.1" fill="#3a3ad6"/><rect x="202.74" y="33.25" width="2.1" height="2.1" fill="#3a3ad6"/><rect x="205.76" y="33.75" width="2.1" height="2.1" fill="#3a3ad6"/><rect x="208.78" y="36.76" width="2.1" height="2.1" fill="#3a3ad6"/><rect x="211.80" y="38.62" width="2.1" height="2.1" fill="#3a3ad6"/><rect x="214.82" y="38.74" width="2.1" height="2.1" fill="#3a3ad6"/><rect x="217.84" y="38.87" width="2.1" height="2.1" fill="#3a3ad6"/><rect x="220.86" y="38.99" width="2.1" height="2.1" fill="#3a3ad6"/><rect x="223.88" y="39.11" width="2.1" height="2.1" fill="#3a3ad6"/><rect x="226.90" y="39.23" width="2.1" height="2.1" fill="#3a3ad6"/><rect x="229.92" y="39.35" width="2.1" height="2.1" fill="#3a3ad6"/><rect x="232.94" y="40.58" width="2.1" height="2.1" fill="#3a3ad6"/><rect x="235.96" y="40.64" width="2.1" height="2.1" fill="#3a3ad6"/><rect x="238.99" y="40.69" width="2.1" height="2.1" fill="#3a3ad6"/><rect x="242.01" y="40.74" width="2.1" height="2.1" fill="#3a3ad6"/><rect x="245.03" y="40.79" width="2.1" height="2.1" fill="#3a3ad6"/><rect x="248.05" y="40.85" width="2.1" height="2.1" fill="#3a3ad6"/><rect x="251.07" y="40.90" width="2.1" height="2.1" fill="#3a3ad6"/><rect x="254.09" y="41.02" width="2.1" height="2.1" fill="#3a3ad6"/><rect x="257.11" y="41.85" width="2.1" height="2.1" fill="#3a3ad6"/><rect x="260.13" y="41.60" width="2.1" height="2.1" fill="#3a3ad6"/><rect x="263.15" y="41.35" width="2.1" height="2.1" fill="#3a3ad6"/><path d="M161.50 23.00 L165.00 24.40 L217.00 25.00 L218.00 26.00 L264.20 26.40" fill="none" stroke="#4a9fd6" stroke-width="0.75" stroke-linejoin="round"/><path d="M160.50 22.00L162.50 24.00M160.50 24.00L162.50 22.00" stroke="#4a9fd6" stroke-width="0.8" fill="none"/><path d="M163.52 23.21L165.52 25.21M163.52 25.21L165.52 23.21" stroke="#4a9fd6" stroke-width="0.8" fill="none"/><path d="M166.54 23.43L168.54 25.43M166.54 25.43L168.54 23.43" stroke="#4a9fd6" stroke-width="0.8" fill="none"/><path d="M169.56 23.46L171.56 25.46M169.56 25.46L171.56 23.46" stroke="#4a9fd6" stroke-width="0.8" fill="none"/><path d="M172.58 23.50L174.58 25.50M172.58 25.50L174.58 23.50" stroke="#4a9fd6" stroke-width="0.8" fill="none"/><path d="M175.60 23.53L177.60 25.53M175.60 25.53L177.60 23.53" stroke="#4a9fd6" stroke-width="0.8" fill="none"/><path d="M178.62 23.57L180.62 25.57M178.62 25.57L180.62 23.57" stroke="#4a9fd6" stroke-width="0.8" fill="none"/><path d="M181.64 23.60L183.64 25.60M181.64 25.60L183.64 23.60" stroke="#4a9fd6" stroke-width="0.8" fill="none"/><path d="M184.66 23.64L186.66 25.64M184.66 25.64L186.66 23.64" stroke="#4a9fd6" stroke-width="0.8" fill="none"/><path d="M187.69 23.67L189.69 25.67M187.69 25.67L189.69 23.67" stroke="#4a9fd6" stroke-width="0.8" fill="none"/><path d="M190.71 23.71L192.71 25.71M190.71 25.71L192.71 23.71" stroke="#4a9fd6" stroke-width="0.8" fill="none"/><path d="M193.73 23.74L195.73 25.74M193.73 25.74L195.73 23.74" stroke="#4a9fd6" stroke-width="0.8" fill="none"/><path d="M196.75 23.78L198.75 25.78M196.75 25.78L198.75 23.78" stroke="#4a9fd6" stroke-width="0.8" fill="none"/><path d="M199.77 23.81L201.77 25.81M199.77 25.81L201.77 23.81" stroke="#4a9fd6" stroke-width="0.8" fill="none"/><path d="M202.79 23.85L204.79 25.85M202.79 25.85L204.79 23.85" stroke="#4a9fd6" stroke-width="0.8" fill="none"/><path d="M205.81 23.88L207.81 25.88M205.81 25.88L207.81 23.88" stroke="#4a9fd6" stroke-width="0.8" fill="none"/><path d="M208.83 23.92L210.83 25.92M208.83 25.92L210.83 23.92" stroke="#4a9fd6" stroke-width="0.8" fill="none"/><path d="M211.85 23.95L213.85 25.95M211.85 25.95L213.85 23.95" stroke="#4a9fd6" stroke-width="0.8" fill="none"/><path d="M214.87 23.99L216.87 25.99M214.87 25.99L216.87 23.99" stroke="#4a9fd6" stroke-width="0.8" fill="none"/><path d="M217.89 25.01L219.89 27.01M217.89 27.01L219.89 25.01" stroke="#4a9fd6" stroke-width="0.8" fill="none"/><path d="M220.91 25.03L222.91 27.03M220.91 27.03L222.91 25.03" stroke="#4a9fd6" stroke-width="0.8" fill="none"/><path d="M223.93 25.06L225.93 27.06M223.93 27.06L225.93 25.06" stroke="#4a9fd6" stroke-width="0.8" fill="none"/><path d="M226.95 25.09L228.95 27.09M226.95 27.09L228.95 25.09" stroke="#4a9fd6" stroke-width="0.8" fill="none"/><path d="M229.97 25.11L231.97 27.11M229.97 27.11L231.97 25.11" stroke="#4a9fd6" stroke-width="0.8" fill="none"/><path d="M232.99 25.14L234.99 27.14M232.99 27.14L234.99 25.14" stroke="#4a9fd6" stroke-width="0.8" fill="none"/><path d="M236.01 25.16L238.01 27.16M236.01 27.16L238.01 25.16" stroke="#4a9fd6" stroke-width="0.8" fill="none"/><path d="M239.04 25.19L241.04 27.19M239.04 27.19L241.04 25.19" stroke="#4a9fd6" stroke-width="0.8" fill="none"/><path d="M242.06 25.22L244.06 27.22M242.06 27.22L244.06 25.22" stroke="#4a9fd6" stroke-width="0.8" fill="none"/><path d="M245.08 25.24L247.08 27.24M245.08 27.24L247.08 25.24" stroke="#4a9fd6" stroke-width="0.8" fill="none"/><path d="M248.10 25.27L250.10 27.27M248.10 27.27L250.10 25.27" stroke="#4a9fd6" stroke-width="0.8" fill="none"/><path d="M251.12 25.30L253.12 27.30M251.12 27.30L253.12 25.30" stroke="#4a9fd6" stroke-width="0.8" fill="none"/><path d="M254.14 25.32L256.14 27.32M254.14 27.32L256.14 25.32" stroke="#4a9fd6" stroke-width="0.8" fill="none"/><path d="M257.16 25.35L259.16 27.35M257.16 27.35L259.16 25.35" stroke="#4a9fd6" stroke-width="0.8" fill="none"/><path d="M260.18 25.37L262.18 27.37M260.18 27.37L262.18 25.37" stroke="#4a9fd6" stroke-width="0.8" fill="none"/><path d="M263.20 25.40L265.20 27.40M263.20 27.40L265.20 25.40" stroke="#4a9fd6" stroke-width="0.8" fill="none"/><path d="M161.50 23.00 L167.00 36.00 L171.00 41.00 L181.00 44.00 L193.00 46.00 L264.20 46.40" fill="none" stroke="#1ecc28" stroke-width="0.75" stroke-linejoin="round"/><circle cx="161.50" cy="23.00" r="1.3" fill="#1ecc28"/><circle cx="164.52" cy="30.14" r="1.3" fill="#1ecc28"/><circle cx="167.54" cy="36.68" r="1.3" fill="#1ecc28"/><circle cx="170.56" cy="40.45" r="1.3" fill="#1ecc28"/><circle cx="173.58" cy="41.77" r="1.3" fill="#1ecc28"/><circle cx="176.60" cy="42.68" r="1.3" fill="#1ecc28"/><circle cx="179.62" cy="43.59" r="1.3" fill="#1ecc28"/><circle cx="182.64" cy="44.27" r="1.3" fill="#1ecc28"/><circle cx="185.66" cy="44.78" r="1.3" fill="#1ecc28"/><circle cx="188.69" cy="45.28" r="1.3" fill="#1ecc28"/><circle cx="191.71" cy="45.78" r="1.3" fill="#1ecc28"/><circle cx="194.73" cy="46.01" r="1.3" fill="#1ecc28"/><circle cx="197.75" cy="46.03" r="1.3" fill="#1ecc28"/><circle cx="200.77" cy="46.04" r="1.3" fill="#1ecc28"/><circle cx="203.79" cy="46.06" r="1.3" fill="#1ecc28"/><circle cx="206.81" cy="46.08" r="1.3" fill="#1ecc28"/><circle cx="209.83" cy="46.09" r="1.3" fill="#1ecc28"/><circle cx="212.85" cy="46.11" r="1.3" fill="#1ecc28"/><circle cx="215.87" cy="46.13" r="1.3" fill="#1ecc28"/><circle cx="218.89" cy="46.15" r="1.3" fill="#1ecc28"/><circle cx="221.91" cy="46.16" r="1.3" fill="#1ecc28"/><circle cx="224.93" cy="46.18" r="1.3" fill="#1ecc28"/><circle cx="227.95" cy="46.20" r="1.3" fill="#1ecc28"/><circle cx="230.97" cy="46.21" r="1.3" fill="#1ecc28"/><circle cx="233.99" cy="46.23" r="1.3" fill="#1ecc28"/><circle cx="237.01" cy="46.25" r="1.3" fill="#1ecc28"/><circle cx="240.04" cy="46.26" r="1.3" fill="#1ecc28"/><circle cx="243.06" cy="46.28" r="1.3" fill="#1ecc28"/><circle cx="246.08" cy="46.30" r="1.3" fill="#1ecc28"/><circle cx="249.10" cy="46.32" r="1.3" fill="#1ecc28"/><circle cx="252.12" cy="46.33" r="1.3" fill="#1ecc28"/><circle cx="255.14" cy="46.35" r="1.3" fill="#1ecc28"/><circle cx="258.16" cy="46.37" r="1.3" fill="#1ecc28"/><circle cx="261.18" cy="46.38" r="1.3" fill="#1ecc28"/><circle cx="264.20" cy="46.40" r="1.3" fill="#1ecc28"/><path d="M161.50 14.00 L164.00 32.40 L264.20 32.40" fill="none" stroke="#5a3a98" stroke-width="0.75" stroke-linejoin="round"/><path d="M161.50 12.40L162.75 14.00L161.50 15.60L160.25 14.00Z" fill="#5a3a98"/><path d="M164.52 30.80L165.77 32.40L164.52 34.00L163.27 32.40Z" fill="#5a3a98"/><path d="M167.54 30.80L168.79 32.40L167.54 34.00L166.29 32.40Z" fill="#5a3a98"/><path d="M170.56 30.80L171.81 32.40L170.56 34.00L169.31 32.40Z" fill="#5a3a98"/><path d="M173.58 30.80L174.83 32.40L173.58 34.00L172.33 32.40Z" fill="#5a3a98"/><path d="M176.60 30.80L177.85 32.40L176.60 34.00L175.35 32.40Z" fill="#5a3a98"/><path d="M179.62 30.80L180.87 32.40L179.62 34.00L178.37 32.40Z" fill="#5a3a98"/><path d="M182.64 30.80L183.89 32.40L182.64 34.00L181.39 32.40Z" fill="#5a3a98"/><path d="M185.66 30.80L186.91 32.40L185.66 34.00L184.41 32.40Z" fill="#5a3a98"/><path d="M188.69 30.80L189.94 32.40L188.69 34.00L187.44 32.40Z" fill="#5a3a98"/><path d="M191.71 30.80L192.96 32.40L191.71 34.00L190.46 32.40Z" fill="#5a3a98"/><path d="M194.73 30.80L195.98 32.40L194.73 34.00L193.48 32.40Z" fill="#5a3a98"/><path d="M197.75 30.80L199.00 32.40L197.75 34.00L196.50 32.40Z" fill="#5a3a98"/><path d="M200.77 30.80L202.02 32.40L200.77 34.00L199.52 32.40Z" fill="#5a3a98"/><path d="M203.79 30.80L205.04 32.40L203.79 34.00L202.54 32.40Z" fill="#5a3a98"/><path d="M206.81 30.80L208.06 32.40L206.81 34.00L205.56 32.40Z" fill="#5a3a98"/><path d="M209.83 30.80L211.08 32.40L209.83 34.00L208.58 32.40Z" fill="#5a3a98"/><path d="M212.85 30.80L214.10 32.40L212.85 34.00L211.60 32.40Z" fill="#5a3a98"/><path d="M215.87 30.80L217.12 32.40L215.87 34.00L214.62 32.40Z" fill="#5a3a98"/><path d="M218.89 30.80L220.14 32.40L218.89 34.00L217.64 32.40Z" fill="#5a3a98"/><path d="M221.91 30.80L223.16 32.40L221.91 34.00L220.66 32.40Z" fill="#5a3a98"/><path d="M224.93 30.80L226.18 32.40L224.93 34.00L223.68 32.40Z" fill="#5a3a98"/><path d="M227.95 30.80L229.20 32.40L227.95 34.00L226.70 32.40Z" fill="#5a3a98"/><path d="M230.97 30.80L232.22 32.40L230.97 34.00L229.72 32.40Z" fill="#5a3a98"/><path d="M233.99 30.80L235.24 32.40L233.99 34.00L232.74 32.40Z" fill="#5a3a98"/><path d="M237.01 30.80L238.26 32.40L237.01 34.00L235.76 32.40Z" fill="#5a3a98"/><path d="M240.04 30.80L241.29 32.40L240.04 34.00L238.79 32.40Z" fill="#5a3a98"/><path d="M243.06 30.80L244.31 32.40L243.06 34.00L241.81 32.40Z" fill="#5a3a98"/><path d="M246.08 30.80L247.33 32.40L246.08 34.00L244.83 32.40Z" fill="#5a3a98"/><path d="M249.10 30.80L250.35 32.40L249.10 34.00L247.85 32.40Z" fill="#5a3a98"/><path d="M252.12 30.80L253.37 32.40L252.12 34.00L250.87 32.40Z" fill="#5a3a98"/><path d="M255.14 30.80L256.39 32.40L255.14 34.00L253.89 32.40Z" fill="#5a3a98"/><path d="M258.16 30.80L259.41 32.40L258.16 34.00L256.91 32.40Z" fill="#5a3a98"/><path d="M261.18 30.80L262.43 32.40L261.18 34.00L259.93 32.40Z" fill="#5a3a98"/><path d="M264.20 30.80L265.45 32.40L264.20 34.00L262.95 32.40Z" fill="#5a3a98"/><path d="M161.50 13.85 L163.81 31.15 L166.69 42.69 L169.58 52.31 L172.46 61.92 L174.38 66.73 L178.23 71.54 L181.12 73.46 L183.04 74.42 L186.88 80.19 L264.19 81.15" fill="none" stroke="#3a5a7e" stroke-width="0.75" stroke-linejoin="round"/><path d="M160.40 13.85H162.60M161.50 12.75V14.95" stroke="#3a5a7e" stroke-width="0.8" fill="none"/><path d="M163.42 34.01H165.62M164.52 32.91V35.11" stroke="#3a5a7e" stroke-width="0.8" fill="none"/><path d="M166.44 45.52H168.64M167.54 44.42V46.62" stroke="#3a5a7e" stroke-width="0.8" fill="none"/><path d="M169.46 55.59H171.66M170.56 54.49V56.69" stroke="#3a5a7e" stroke-width="0.8" fill="none"/><path d="M172.48 64.73H174.68M173.58 63.63V65.83" stroke="#3a5a7e" stroke-width="0.8" fill="none"/><path d="M175.50 69.50H177.70M176.60 68.40V70.60" stroke="#3a5a7e" stroke-width="0.8" fill="none"/><path d="M178.52 72.47H180.72M179.62 71.37V73.57" stroke="#3a5a7e" stroke-width="0.8" fill="none"/><path d="M181.54 74.23H183.74M182.64 73.13V75.33" stroke="#3a5a7e" stroke-width="0.8" fill="none"/><path d="M184.56 78.36H186.76M185.66 77.26V79.46" stroke="#3a5a7e" stroke-width="0.8" fill="none"/><path d="M187.59 80.21H189.79M188.69 79.11V81.31" stroke="#3a5a7e" stroke-width="0.8" fill="none"/><path d="M190.61 80.25H192.81M191.71 79.15V81.35" stroke="#3a5a7e" stroke-width="0.8" fill="none"/><path d="M193.63 80.29H195.83M194.73 79.19V81.39" stroke="#3a5a7e" stroke-width="0.8" fill="none"/><path d="M196.65 80.33H198.85M197.75 79.23V81.43" stroke="#3a5a7e" stroke-width="0.8" fill="none"/><path d="M199.67 80.36H201.87M200.77 79.26V81.46" stroke="#3a5a7e" stroke-width="0.8" fill="none"/><path d="M202.69 80.40H204.89M203.79 79.30V81.50" stroke="#3a5a7e" stroke-width="0.8" fill="none"/><path d="M205.71 80.44H207.91M206.81 79.34V81.54" stroke="#3a5a7e" stroke-width="0.8" fill="none"/><path d="M208.73 80.48H210.93M209.83 79.38V81.58" stroke="#3a5a7e" stroke-width="0.8" fill="none"/><path d="M211.75 80.52H213.95M212.85 79.42V81.62" stroke="#3a5a7e" stroke-width="0.8" fill="none"/><path d="M214.77 80.55H216.97M215.87 79.45V81.65" stroke="#3a5a7e" stroke-width="0.8" fill="none"/><path d="M217.79 80.59H219.99M218.89 79.49V81.69" stroke="#3a5a7e" stroke-width="0.8" fill="none"/><path d="M220.81 80.63H223.01M221.91 79.53V81.73" stroke="#3a5a7e" stroke-width="0.8" fill="none"/><path d="M223.83 80.67H226.03M224.93 79.57V81.77" stroke="#3a5a7e" stroke-width="0.8" fill="none"/><path d="M226.85 80.70H229.05M227.95 79.60V81.80" stroke="#3a5a7e" stroke-width="0.8" fill="none"/><path d="M229.87 80.74H232.07M230.97 79.64V81.84" stroke="#3a5a7e" stroke-width="0.8" fill="none"/><path d="M232.89 80.78H235.09M233.99 79.68V81.88" stroke="#3a5a7e" stroke-width="0.8" fill="none"/><path d="M235.91 80.82H238.11M237.01 79.72V81.92" stroke="#3a5a7e" stroke-width="0.8" fill="none"/><path d="M238.94 80.85H241.14M240.04 79.75V81.95" stroke="#3a5a7e" stroke-width="0.8" fill="none"/><path d="M241.96 80.89H244.16M243.06 79.79V81.99" stroke="#3a5a7e" stroke-width="0.8" fill="none"/><path d="M244.98 80.93H247.18M246.08 79.83V82.03" stroke="#3a5a7e" stroke-width="0.8" fill="none"/><path d="M248.00 80.97H250.20M249.10 79.87V82.07" stroke="#3a5a7e" stroke-width="0.8" fill="none"/><path d="M251.02 81.00H253.22M252.12 79.90V82.10" stroke="#3a5a7e" stroke-width="0.8" fill="none"/><path d="M254.04 81.04H256.24M255.14 79.94V82.14" stroke="#3a5a7e" stroke-width="0.8" fill="none"/><path d="M257.06 81.08H259.26M258.16 79.98V82.18" stroke="#3a5a7e" stroke-width="0.8" fill="none"/><path d="M260.08 81.12H262.28M261.18 80.02V82.22" stroke="#3a5a7e" stroke-width="0.8" fill="none"/><path d="M263.10 81.15H265.30M264.20 80.05V82.25" stroke="#3a5a7e" stroke-width="0.8" fill="none"/><path d="M161.50 18.65 L163.81 44.23 L166.69 56.15 L169.58 69.62 L172.08 80.19 L175.35 82.12 L264.19 82.12" fill="none" stroke="#e8203c" stroke-width="0.75" stroke-linejoin="round"/><circle cx="161.50" cy="18.65" r="1.3" fill="#e8203c"/><circle cx="164.52" cy="47.18" r="1.3" fill="#e8203c"/><circle cx="167.54" cy="60.12" r="1.3" fill="#e8203c"/><circle cx="170.56" cy="73.78" r="1.3" fill="#e8203c"/><circle cx="173.58" cy="81.08" r="1.3" fill="#e8203c"/><circle cx="176.60" cy="82.12" r="1.3" fill="#e8203c"/><circle cx="179.62" cy="82.12" r="1.3" fill="#e8203c"/><circle cx="182.64" cy="82.12" r="1.3" fill="#e8203c"/><circle cx="185.66" cy="82.12" r="1.3" fill="#e8203c"/><circle cx="188.69" cy="82.12" r="1.3" fill="#e8203c"/><circle cx="191.71" cy="82.12" r="1.3" fill="#e8203c"/><circle cx="194.73" cy="82.12" r="1.3" fill="#e8203c"/><circle cx="197.75" cy="82.12" r="1.3" fill="#e8203c"/><circle cx="200.77" cy="82.12" r="1.3" fill="#e8203c"/><circle cx="203.79" cy="82.12" r="1.3" fill="#e8203c"/><circle cx="206.81" cy="82.12" r="1.3" fill="#e8203c"/><circle cx="209.83" cy="82.12" r="1.3" fill="#e8203c"/><circle cx="212.85" cy="82.12" r="1.3" fill="#e8203c"/><circle cx="215.87" cy="82.12" r="1.3" fill="#e8203c"/><circle cx="218.89" cy="82.12" r="1.3" fill="#e8203c"/><circle cx="221.91" cy="82.12" r="1.3" fill="#e8203c"/><circle cx="224.93" cy="82.12" r="1.3" fill="#e8203c"/><circle cx="227.95" cy="82.12" r="1.3" fill="#e8203c"/><circle cx="230.97" cy="82.12" r="1.3" fill="#e8203c"/><circle cx="233.99" cy="82.12" r="1.3" fill="#e8203c"/><circle cx="237.01" cy="82.12" r="1.3" fill="#e8203c"/><circle cx="240.04" cy="82.12" r="1.3" fill="#e8203c"/><circle cx="243.06" cy="82.12" r="1.3" fill="#e8203c"/><circle cx="246.08" cy="82.12" r="1.3" fill="#e8203c"/><circle cx="249.10" cy="82.12" r="1.3" fill="#e8203c"/><circle cx="252.12" cy="82.12" r="1.3" fill="#e8203c"/><circle cx="255.14" cy="82.12" r="1.3" fill="#e8203c"/><circle cx="258.16" cy="82.12" r="1.3" fill="#e8203c"/><circle cx="261.18" cy="82.12" r="1.3" fill="#e8203c"/><circle cx="264.20" cy="82.12" r="1.3" fill="#e8203c"/></g>
<g><rect x="298.5" y="12.3" width="102.30" height="74.70" fill="#fff" stroke="#c4c4c4" stroke-width="0.7"/><path d="M298.50 87v-1M298.50 12.3v1" stroke="#c4c4c4" stroke-width="0.6"/><text x="298.50" y="93.70" class="t m" font-size="5.3" textLength="2.56" lengthAdjust="spacingAndGlyphs">0</text><path d="M318.96 87v-1M318.96 12.3v1" stroke="#c4c4c4" stroke-width="0.6"/><text x="318.96" y="93.70" class="t m" font-size="5.3" textLength="7.67" lengthAdjust="spacingAndGlyphs">100</text><path d="M339.42 87v-1M339.42 12.3v1" stroke="#c4c4c4" stroke-width="0.6"/><text x="339.42" y="93.70" class="t m" font-size="5.3" textLength="7.67" lengthAdjust="spacingAndGlyphs">200</text><path d="M359.88 87v-1M359.88 12.3v1" stroke="#c4c4c4" stroke-width="0.6"/><text x="359.88" y="93.70" class="t m" font-size="5.3" textLength="7.67" lengthAdjust="spacingAndGlyphs">300</text><path d="M380.34 87v-1M380.34 12.3v1" stroke="#c4c4c4" stroke-width="0.6"/><text x="380.34" y="93.70" class="t m" font-size="5.3" textLength="7.67" lengthAdjust="spacingAndGlyphs">400</text><path d="M400.80 87v-1M400.80 12.3v1" stroke="#c4c4c4" stroke-width="0.6"/><text x="400.80" y="93.70" class="t m" font-size="5.3" textLength="7.67" lengthAdjust="spacingAndGlyphs">500</text><text x="296.50" y="23.50" class="t e" font-size="5.3" textLength="10.23" lengthAdjust="spacingAndGlyphs">4000</text><text x="296.50" y="42.60" class="t e" font-size="5.3" textLength="10.23" lengthAdjust="spacingAndGlyphs">3500</text><text x="296.50" y="63.70" class="t e" font-size="5.3" textLength="10.23" lengthAdjust="spacingAndGlyphs">3000</text><text x="349.65" y="10.90" class="t m" font-size="5.4" textLength="55.5" lengthAdjust="spacingAndGlyphs">CEC2017-F20 (Dim =30)</text><text x="349.65" y="100.40" class="t m" font-size="5.4" textLength="19" lengthAdjust="spacingAndGlyphs">Iteration</text><text x="284.20" y="49.65" class="t m" font-size="5.3" textLength="34.5" lengthAdjust="spacingAndGlyphs" transform="rotate(-90 284.20 49.65)">Average fitness</text><path d="M298.50 24.00 L302.00 46.00 L309.00 48.00 L329.00 54.00 L333.00 55.00 L400.80 55.60" fill="none" stroke="#a0a0a0" stroke-width="0.75" stroke-linejoin="round"/><rect x="297.40" y="22.90" width="2.2" height="2.2" fill="#a0a0a0"/><rect x="300.41" y="41.81" width="2.2" height="2.2" fill="#a0a0a0"/><rect x="303.42" y="45.62" width="2.2" height="2.2" fill="#a0a0a0"/><rect x="306.43" y="46.48" width="2.2" height="2.2" fill="#a0a0a0"/><rect x="309.44" y="47.36" width="2.2" height="2.2" fill="#a0a0a0"/><rect x="312.44" y="48.26" width="2.2" height="2.2" fill="#a0a0a0"/><rect x="315.45" y="49.17" width="2.2" height="2.2" fill="#a0a0a0"/><rect x="318.46" y="50.07" width="2.2" height="2.2" fill="#a0a0a0"/><rect x="321.47" y="50.97" width="2.2" height="2.2" fill="#a0a0a0"/><rect x="324.48" y="51.87" width="2.2" height="2.2" fill="#a0a0a0"/><rect x="327.49" y="52.78" width="2.2" height="2.2" fill="#a0a0a0"/><rect x="330.50" y="53.55" width="2.2" height="2.2" fill="#a0a0a0"/><rect x="333.51" y="53.91" width="2.2" height="2.2" fill="#a0a0a0"/><rect x="336.51" y="53.94" width="2.2" height="2.2" fill="#a0a0a0"/><rect x="339.52" y="53.97" width="2.2" height="2.2" fill="#a0a0a0"/><rect x="342.53" y="53.99" width="2.2" height="2.2" fill="#a0a0a0"/><rect x="345.54" y="54.02" width="2.2" height="2.2" fill="#a0a0a0"/><rect x="348.55" y="54.05" width="2.2" height="2.2" fill="#a0a0a0"/><rect x="351.56" y="54.07" width="2.2" height="2.2" fill="#a0a0a0"/><rect x="354.57" y="54.10" width="2.2" height="2.2" fill="#a0a0a0"/><rect x="357.58" y="54.13" width="2.2" height="2.2" fill="#a0a0a0"/><rect x="360.59" y="54.15" width="2.2" height="2.2" fill="#a0a0a0"/><rect x="363.59" y="54.18" width="2.2" height="2.2" fill="#a0a0a0"/><rect x="366.60" y="54.21" width="2.2" height="2.2" fill="#a0a0a0"/><rect x="369.61" y="54.23" width="2.2" height="2.2" fill="#a0a0a0"/><rect x="372.62" y="54.26" width="2.2" height="2.2" fill="#a0a0a0"/><rect x="375.63" y="54.29" width="2.2" height="2.2" fill="#a0a0a0"/><rect x="378.64" y="54.31" width="2.2" height="2.2" fill="#a0a0a0"/><rect x="381.65" y="54.34" width="2.2" height="2.2" fill="#a0a0a0"/><rect x="384.66" y="54.37" width="2.2" height="2.2" fill="#a0a0a0"/><rect x="387.66" y="54.39" width="2.2" height="2.2" fill="#a0a0a0"/><rect x="390.67" y="54.42" width="2.2" height="2.2" fill="#a0a0a0"/><rect x="393.68" y="54.45" width="2.2" height="2.2" fill="#a0a0a0"/><rect x="396.69" y="54.47" width="2.2" height="2.2" fill="#a0a0a0"/><rect x="399.70" y="54.50" width="2.2" height="2.2" fill="#a0a0a0"/><path d="M298.50 18.00 L301.00 40.00 L305.00 47.00 L311.00 47.60 L332.00 49.00 L334.00 52.40 L400.80 52.40" fill="none" stroke="#1f9a48" stroke-width="0.75" stroke-linejoin="round"/><circle cx="298.50" cy="18.00" r="1.25" fill="#1f9a48"/><circle cx="301.51" cy="40.89" r="1.25" fill="#1f9a48"/><circle cx="304.52" cy="46.16" r="1.25" fill="#1f9a48"/><circle cx="307.53" cy="47.25" r="1.25" fill="#1f9a48"/><circle cx="310.54" cy="47.55" r="1.25" fill="#1f9a48"/><circle cx="313.54" cy="47.77" r="1.25" fill="#1f9a48"/><circle cx="316.55" cy="47.97" r="1.25" fill="#1f9a48"/><circle cx="319.56" cy="48.17" r="1.25" fill="#1f9a48"/><circle cx="322.57" cy="48.37" r="1.25" fill="#1f9a48"/><circle cx="325.58" cy="48.57" r="1.25" fill="#1f9a48"/><circle cx="328.59" cy="48.77" r="1.25" fill="#1f9a48"/><circle cx="331.60" cy="48.97" r="1.25" fill="#1f9a48"/><circle cx="334.61" cy="52.40" r="1.25" fill="#1f9a48"/><circle cx="337.61" cy="52.40" r="1.25" fill="#1f9a48"/><circle cx="340.62" cy="52.40" r="1.25" fill="#1f9a48"/><circle cx="343.63" cy="52.40" r="1.25" fill="#1f9a48"/><circle cx="346.64" cy="52.40" r="1.25" fill="#1f9a48"/><circle cx="349.65" cy="52.40" r="1.25" fill="#1f9a48"/><circle cx="352.66" cy="52.40" r="1.25" fill="#1f9a48"/><circle cx="355.67" cy="52.40" r="1.25" fill="#1f9a48"/><circle cx="358.68" cy="52.40" r="1.25" fill="#1f9a48"/><circle cx="361.69" cy="52.40" r="1.25" fill="#1f9a48"/><circle cx="364.69" cy="52.40" r="1.25" fill="#1f9a48"/><circle cx="367.70" cy="52.40" r="1.25" fill="#1f9a48"/><circle cx="370.71" cy="52.40" r="1.25" fill="#1f9a48"/><circle cx="373.72" cy="52.40" r="1.25" fill="#1f9a48"/><circle cx="376.73" cy="52.40" r="1.25" fill="#1f9a48"/><circle cx="379.74" cy="52.40" r="1.25" fill="#1f9a48"/><circle cx="382.75" cy="52.40" r="1.25" fill="#1f9a48"/><circle cx="385.76" cy="52.40" r="1.25" fill="#1f9a48"/><circle cx="388.76" cy="52.40" r="1.25" fill="#1f9a48"/><circle cx="391.77" cy="52.40" r="1.25" fill="#1f9a48"/><circle cx="394.78" cy="52.40" r="1.25" fill="#1f9a48"/><circle cx="397.79" cy="52.40" r="1.25" fill="#1f9a48"/><circle cx="400.80" cy="52.40" r="1.25" fill="#1f9a48"/><path d="M298.50 27.00 L301.00 42.00 L307.00 43.00 L310.00 61.00 L353.00 62.40 L400.80 62.40" fill="none" stroke="#3a3ad6" stroke-width="0.75" stroke-linejoin="round"/><rect x="297.45" y="25.95" width="2.1" height="2.1" fill="#3a3ad6"/><rect x="300.46" y="41.03" width="2.1" height="2.1" fill="#3a3ad6"/><rect x="303.47" y="41.54" width="2.1" height="2.1" fill="#3a3ad6"/><rect x="306.48" y="45.11" width="2.1" height="2.1" fill="#3a3ad6"/><rect x="309.49" y="59.97" width="2.1" height="2.1" fill="#3a3ad6"/><rect x="312.49" y="60.07" width="2.1" height="2.1" fill="#3a3ad6"/><rect x="315.50" y="60.16" width="2.1" height="2.1" fill="#3a3ad6"/><rect x="318.51" y="60.26" width="2.1" height="2.1" fill="#3a3ad6"/><rect x="321.52" y="60.36" width="2.1" height="2.1" fill="#3a3ad6"/><rect x="324.53" y="60.46" width="2.1" height="2.1" fill="#3a3ad6"/><rect x="327.54" y="60.56" width="2.1" height="2.1" fill="#3a3ad6"/><rect x="330.55" y="60.65" width="2.1" height="2.1" fill="#3a3ad6"/><rect x="333.56" y="60.75" width="2.1" height="2.1" fill="#3a3ad6"/><rect x="336.56" y="60.85" width="2.1" height="2.1" fill="#3a3ad6"/><rect x="339.57" y="60.95" width="2.1" height="2.1" fill="#3a3ad6"/><rect x="342.58" y="61.05" width="2.1" height="2.1" fill="#3a3ad6"/><rect x="345.59" y="61.14" width="2.1" height="2.1" fill="#3a3ad6"/><rect x="348.60" y="61.24" width="2.1" height="2.1" fill="#3a3ad6"/><rect x="351.61" y="61.34" width="2.1" height="2.1" fill="#3a3ad6"/><rect x="354.62" y="61.35" width="2.1" height="2.1" fill="#3a3ad6"/><rect x="357.63" y="61.35" width="2.1" height="2.1" fill="#3a3ad6"/><rect x="360.64" y="61.35" width="2.1" height="2.1" fill="#3a3ad6"/><rect x="363.64" y="61.35" width="2.1" height="2.1" fill="#3a3ad6"/><rect x="366.65" y="61.35" width="2.1" height="2.1" fill="#3a3ad6"/><rect x="369.66" y="61.35" width="2.1" height="2.1" fill="#3a3ad6"/><rect x="372.67" y="61.35" width="2.1" height="2.1" fill="#3a3ad6"/><rect x="375.68" y="61.35" width="2.1" height="2.1" fill="#3a3ad6"/><rect x="378.69" y="61.35" width="2.1" height="2.1" fill="#3a3ad6"/><rect x="381.70" y="61.35" width="2.1" height="2.1" fill="#3a3ad6"/><rect x="384.71" y="61.35" width="2.1" height="2.1" fill="#3a3ad6"/><rect x="387.71" y="61.35" width="2.1" height="2.1" fill="#3a3ad6"/><rect x="390.72" y="61.35" width="2.1" height="2.1" fill="#3a3ad6"/><rect x="393.73" y="61.35" width="2.1" height="2.1" fill="#3a3ad6"/><rect x="396.74" y="61.35" width="2.1" height="2.1" fill="#3a3ad6"/><rect x="399.75" y="61.35" width="2.1" height="2.1" fill="#3a3ad6"/><path d="M298.50 20.00 L300.00 32.40 L304.00 33.00 L307.00 41.00 L317.00 41.00 L320.00 45.00 L323.00 55.00 L379.00 55.00 L381.00 59.00 L400.80 59.00" fill="none" stroke="#4a9fd6" stroke-width="0.75" stroke-linejoin="round"/><path d="M297.50 19.00L299.50 21.00M297.50 21.00L299.50 19.00" stroke="#4a9fd6" stroke-width="0.8" fill="none"/><path d="M300.51 31.63L302.51 33.63M300.51 33.63L302.51 31.63" stroke="#4a9fd6" stroke-width="0.8" fill="none"/><path d="M303.52 33.38L305.52 35.38M303.52 35.38L305.52 33.38" stroke="#4a9fd6" stroke-width="0.8" fill="none"/><path d="M306.53 40.00L308.53 42.00M306.53 42.00L308.53 40.00" stroke="#4a9fd6" stroke-width="0.8" fill="none"/><path d="M309.54 40.00L311.54 42.00M309.54 42.00L311.54 40.00" stroke="#4a9fd6" stroke-width="0.8" fill="none"/><path d="M312.54 40.00L314.54 42.00M312.54 42.00L314.54 40.00" stroke="#4a9fd6" stroke-width="0.8" fill="none"/><path d="M315.55 40.00L317.55 42.00M315.55 42.00L317.55 40.00" stroke="#4a9fd6" stroke-width="0.8" fill="none"/><path d="M318.56 43.42L320.56 45.42M318.56 45.42L320.56 43.42" stroke="#4a9fd6" stroke-width="0.8" fill="none"/><path d="M321.57 52.57L323.57 54.57M321.57 54.57L323.57 52.57" stroke="#4a9fd6" stroke-width="0.8" fill="none"/><path d="M324.58 54.00L326.58 56.00M324.58 56.00L326.58 54.00" stroke="#4a9fd6" stroke-width="0.8" fill="none"/><path d="M327.59 54.00L329.59 56.00M327.59 56.00L329.59 54.00" stroke="#4a9fd6" stroke-width="0.8" fill="none"/><path d="M330.60 54.00L332.60 56.00M330.60 56.00L332.60 54.00" stroke="#4a9fd6" stroke-width="0.8" fill="none"/><path d="M333.61 54.00L335.61 56.00M333.61 56.00L335.61 54.00" stroke="#4a9fd6" stroke-width="0.8" fill="none"/><path d="M336.61 54.00L338.61 56.00M336.61 56.00L338.61 54.00" stroke="#4a9fd6" stroke-width="0.8" fill="none"/><path d="M339.62 54.00L341.62 56.00M339.62 56.00L341.62 54.00" stroke="#4a9fd6" stroke-width="0.8" fill="none"/><path d="M342.63 54.00L344.63 56.00M342.63 56.00L344.63 54.00" stroke="#4a9fd6" stroke-width="0.8" fill="none"/><path d="M345.64 54.00L347.64 56.00M345.64 56.00L347.64 54.00" stroke="#4a9fd6" stroke-width="0.8" fill="none"/><path d="M348.65 54.00L350.65 56.00M348.65 56.00L350.65 54.00" stroke="#4a9fd6" stroke-width="0.8" fill="none"/><path d="M351.66 54.00L353.66 56.00M351.66 56.00L353.66 54.00" stroke="#4a9fd6" stroke-width="0.8" fill="none"/><path d="M354.67 54.00L356.67 56.00M354.67 56.00L356.67 54.00" stroke="#4a9fd6" stroke-width="0.8" fill="none"/><path d="M357.68 54.00L359.68 56.00M357.68 56.00L359.68 54.00" stroke="#4a9fd6" stroke-width="0.8" fill="none"/><path d="M360.69 54.00L362.69 56.00M360.69 56.00L362.69 54.00" stroke="#4a9fd6" stroke-width="0.8" fill="none"/><path d="M363.69 54.00L365.69 56.00M363.69 56.00L365.69 54.00" stroke="#4a9fd6" stroke-width="0.8" fill="none"/><path d="M366.70 54.00L368.70 56.00M366.70 56.00L368.70 54.00" stroke="#4a9fd6" stroke-width="0.8" fill="none"/><path d="M369.71 54.00L371.71 56.00M369.71 56.00L371.71 54.00" stroke="#4a9fd6" stroke-width="0.8" fill="none"/><path d="M372.72 54.00L374.72 56.00M372.72 56.00L374.72 54.00" stroke="#4a9fd6" stroke-width="0.8" fill="none"/><path d="M375.73 54.00L377.73 56.00M375.73 56.00L377.73 54.00" stroke="#4a9fd6" stroke-width="0.8" fill="none"/><path d="M378.74 55.48L380.74 57.48M378.74 57.48L380.74 55.48" stroke="#4a9fd6" stroke-width="0.8" fill="none"/><path d="M381.75 58.00L383.75 60.00M381.75 60.00L383.75 58.00" stroke="#4a9fd6" stroke-width="0.8" fill="none"/><path d="M384.76 58.00L386.76 60.00M384.76 60.00L386.76 58.00" stroke="#4a9fd6" stroke-width="0.8" fill="none"/><path d="M387.76 58.00L389.76 60.00M387.76 60.00L389.76 58.00" stroke="#4a9fd6" stroke-width="0.8" fill="none"/><path d="M390.77 58.00L392.77 60.00M390.77 60.00L392.77 58.00" stroke="#4a9fd6" stroke-width="0.8" fill="none"/><path d="M393.78 58.00L395.78 60.00M393.78 60.00L395.78 58.00" stroke="#4a9fd6" stroke-width="0.8" fill="none"/><path d="M396.79 58.00L398.79 60.00M396.79 60.00L398.79 58.00" stroke="#4a9fd6" stroke-width="0.8" fill="none"/><path d="M399.80 58.00L401.80 60.00M399.80 60.00L401.80 58.00" stroke="#4a9fd6" stroke-width="0.8" fill="none"/><path d="M298.50 31.00 L301.00 58.00 L304.00 72.00 L308.00 80.00 L313.00 82.00 L333.00 85.00 L400.80 85.60" fill="none" stroke="#1ecc28" stroke-width="0.75" stroke-linejoin="round"/><circle cx="298.50" cy="31.00" r="1.3" fill="#1ecc28"/><circle cx="301.51" cy="60.37" r="1.3" fill="#1ecc28"/><circle cx="304.52" cy="73.04" r="1.3" fill="#1ecc28"/><circle cx="307.53" cy="79.05" r="1.3" fill="#1ecc28"/><circle cx="310.54" cy="81.01" r="1.3" fill="#1ecc28"/><circle cx="313.54" cy="82.08" r="1.3" fill="#1ecc28"/><circle cx="316.55" cy="82.53" r="1.3" fill="#1ecc28"/><circle cx="319.56" cy="82.98" r="1.3" fill="#1ecc28"/><circle cx="322.57" cy="83.44" r="1.3" fill="#1ecc28"/><circle cx="325.58" cy="83.89" r="1.3" fill="#1ecc28"/><circle cx="328.59" cy="84.34" r="1.3" fill="#1ecc28"/><circle cx="331.60" cy="84.79" r="1.3" fill="#1ecc28"/><circle cx="334.61" cy="85.01" r="1.3" fill="#1ecc28"/><circle cx="337.61" cy="85.04" r="1.3" fill="#1ecc28"/><circle cx="340.62" cy="85.07" r="1.3" fill="#1ecc28"/><circle cx="343.63" cy="85.09" r="1.3" fill="#1ecc28"/><circle cx="346.64" cy="85.12" r="1.3" fill="#1ecc28"/><circle cx="349.65" cy="85.15" r="1.3" fill="#1ecc28"/><circle cx="352.66" cy="85.17" r="1.3" fill="#1ecc28"/><circle cx="355.67" cy="85.20" r="1.3" fill="#1ecc28"/><circle cx="358.68" cy="85.23" r="1.3" fill="#1ecc28"/><circle cx="361.69" cy="85.25" r="1.3" fill="#1ecc28"/><circle cx="364.69" cy="85.28" r="1.3" fill="#1ecc28"/><circle cx="367.70" cy="85.31" r="1.3" fill="#1ecc28"/><circle cx="370.71" cy="85.33" r="1.3" fill="#1ecc28"/><circle cx="373.72" cy="85.36" r="1.3" fill="#1ecc28"/><circle cx="376.73" cy="85.39" r="1.3" fill="#1ecc28"/><circle cx="379.74" cy="85.41" r="1.3" fill="#1ecc28"/><circle cx="382.75" cy="85.44" r="1.3" fill="#1ecc28"/><circle cx="385.76" cy="85.47" r="1.3" fill="#1ecc28"/><circle cx="388.76" cy="85.49" r="1.3" fill="#1ecc28"/><circle cx="391.77" cy="85.52" r="1.3" fill="#1ecc28"/><circle cx="394.78" cy="85.55" r="1.3" fill="#1ecc28"/><circle cx="397.79" cy="85.57" r="1.3" fill="#1ecc28"/><circle cx="400.80" cy="85.60" r="1.3" fill="#1ecc28"/><path d="M298.50 26.00 L301.00 42.00 L308.00 43.00 L310.00 57.00 L329.00 58.00 L331.00 62.40 L400.80 62.40" fill="none" stroke="#5a3a98" stroke-width="0.75" stroke-linejoin="round"/><path d="M298.50 24.40L299.75 26.00L298.50 27.60L297.25 26.00Z" fill="#5a3a98"/><path d="M301.51 40.47L302.76 42.07L301.51 43.67L300.26 42.07Z" fill="#5a3a98"/><path d="M304.52 40.90L305.77 42.50L304.52 44.10L303.27 42.50Z" fill="#5a3a98"/><path d="M307.53 41.33L308.78 42.93L307.53 44.53L306.28 42.93Z" fill="#5a3a98"/><path d="M310.54 55.43L311.79 57.03L310.54 58.63L309.29 57.03Z" fill="#5a3a98"/><path d="M313.54 55.59L314.79 57.19L313.54 58.79L312.29 57.19Z" fill="#5a3a98"/><path d="M316.55 55.74L317.80 57.34L316.55 58.94L315.30 57.34Z" fill="#5a3a98"/><path d="M319.56 55.90L320.81 57.50L319.56 59.10L318.31 57.50Z" fill="#5a3a98"/><path d="M322.57 56.06L323.82 57.66L322.57 59.26L321.32 57.66Z" fill="#5a3a98"/><path d="M325.58 56.22L326.83 57.82L325.58 59.42L324.33 57.82Z" fill="#5a3a98"/><path d="M328.59 56.38L329.84 57.98L328.59 59.58L327.34 57.98Z" fill="#5a3a98"/><path d="M331.60 60.80L332.85 62.40L331.60 64.00L330.35 62.40Z" fill="#5a3a98"/><path d="M334.61 60.80L335.86 62.40L334.61 64.00L333.36 62.40Z" fill="#5a3a98"/><path d="M337.61 60.80L338.86 62.40L337.61 64.00L336.36 62.40Z" fill="#5a3a98"/><path d="M340.62 60.80L341.87 62.40L340.62 64.00L339.37 62.40Z" fill="#5a3a98"/><path d="M343.63 60.80L344.88 62.40L343.63 64.00L342.38 62.40Z" fill="#5a3a98"/><path d="M346.64 60.80L347.89 62.40L346.64 64.00L345.39 62.40Z" fill="#5a3a98"/><path d="M349.65 60.80L350.90 62.40L349.65 64.00L348.40 62.40Z" fill="#5a3a98"/><path d="M352.66 60.80L353.91 62.40L352.66 64.00L351.41 62.40Z" fill="#5a3a98"/><path d="M355.67 60.80L356.92 62.40L355.67 64.00L354.42 62.40Z" fill="#5a3a98"/><path d="M358.68 60.80L359.93 62.40L358.68 64.00L357.43 62.40Z" fill="#5a3a98"/><path d="M361.69 60.80L362.94 62.40L361.69 64.00L360.44 62.40Z" fill="#5a3a98"/><path d="M364.69 60.80L365.94 62.40L364.69 64.00L363.44 62.40Z" fill="#5a3a98"/><path d="M367.70 60.80L368.95 62.40L367.70 64.00L366.45 62.40Z" fill="#5a3a98"/><path d="M370.71 60.80L371.96 62.40L370.71 64.00L369.46 62.40Z" fill="#5a3a98"/><path d="M373.72 60.80L374.97 62.40L373.72 64.00L372.47 62.40Z" fill="#5a3a98"/><path d="M376.73 60.80L377.98 62.40L376.73 64.00L375.48 62.40Z" fill="#5a3a98"/><path d="M379.74 60.80L380.99 62.40L379.74 64.00L378.49 62.40Z" fill="#5a3a98"/><path d="M382.75 60.80L384.00 62.40L382.75 64.00L381.50 62.40Z" fill="#5a3a98"/><path d="M385.76 60.80L387.01 62.40L385.76 64.00L384.51 62.40Z" fill="#5a3a98"/><path d="M388.76 60.80L390.01 62.40L388.76 64.00L387.51 62.40Z" fill="#5a3a98"/><path d="M391.77 60.80L393.02 62.40L391.77 64.00L390.52 62.40Z" fill="#5a3a98"/><path d="M394.78 60.80L396.03 62.40L394.78 64.00L393.53 62.40Z" fill="#5a3a98"/><path d="M397.79 60.80L399.04 62.40L397.79 64.00L396.54 62.40Z" fill="#5a3a98"/><path d="M400.80 60.80L402.05 62.40L400.80 64.00L399.55 62.40Z" fill="#5a3a98"/><path d="M298.50 24.00 L304.00 63.00 L309.00 65.00 L315.00 69.00 L321.00 73.00 L400.80 73.60" fill="none" stroke="#3a5a7e" stroke-width="0.75" stroke-linejoin="round"/><path d="M297.40 24.00H299.60M298.50 22.90V25.10" stroke="#3a5a7e" stroke-width="0.8" fill="none"/><path d="M300.41 45.34H302.61M301.51 44.24V46.44" stroke="#3a5a7e" stroke-width="0.8" fill="none"/><path d="M303.42 63.21H305.62M304.52 62.11V64.31" stroke="#3a5a7e" stroke-width="0.8" fill="none"/><path d="M306.43 64.41H308.63M307.53 63.31V65.51" stroke="#3a5a7e" stroke-width="0.8" fill="none"/><path d="M309.44 66.02H311.64M310.54 64.92V67.12" stroke="#3a5a7e" stroke-width="0.8" fill="none"/><path d="M312.44 68.03H314.64M313.54 66.93V69.13" stroke="#3a5a7e" stroke-width="0.8" fill="none"/><path d="M315.45 70.04H317.65M316.55 68.94V71.14" stroke="#3a5a7e" stroke-width="0.8" fill="none"/><path d="M318.46 72.04H320.66M319.56 70.94V73.14" stroke="#3a5a7e" stroke-width="0.8" fill="none"/><path d="M321.47 73.01H323.67M322.57 71.91V74.11" stroke="#3a5a7e" stroke-width="0.8" fill="none"/><path d="M324.48 73.03H326.68M325.58 71.93V74.13" stroke="#3a5a7e" stroke-width="0.8" fill="none"/><path d="M327.49 73.06H329.69M328.59 71.96V74.16" stroke="#3a5a7e" stroke-width="0.8" fill="none"/><path d="M330.50 73.08H332.70M331.60 71.98V74.18" stroke="#3a5a7e" stroke-width="0.8" fill="none"/><path d="M333.51 73.10H335.71M334.61 72.00V74.20" stroke="#3a5a7e" stroke-width="0.8" fill="none"/><path d="M336.51 73.12H338.71M337.61 72.02V74.22" stroke="#3a5a7e" stroke-width="0.8" fill="none"/><path d="M339.52 73.15H341.72M340.62 72.05V74.25" stroke="#3a5a7e" stroke-width="0.8" fill="none"/><path d="M342.53 73.17H344.73M343.63 72.07V74.27" stroke="#3a5a7e" stroke-width="0.8" fill="none"/><path d="M345.54 73.19H347.74M346.64 72.09V74.29" stroke="#3a5a7e" stroke-width="0.8" fill="none"/><path d="M348.55 73.22H350.75M349.65 72.12V74.32" stroke="#3a5a7e" stroke-width="0.8" fill="none"/><path d="M351.56 73.24H353.76M352.66 72.14V74.34" stroke="#3a5a7e" stroke-width="0.8" fill="none"/><path d="M354.57 73.26H356.77M355.67 72.16V74.36" stroke="#3a5a7e" stroke-width="0.8" fill="none"/><path d="M357.58 73.28H359.78M358.68 72.18V74.38" stroke="#3a5a7e" stroke-width="0.8" fill="none"/><path d="M360.59 73.31H362.79M361.69 72.21V74.41" stroke="#3a5a7e" stroke-width="0.8" fill="none"/><path d="M363.59 73.33H365.79M364.69 72.23V74.43" stroke="#3a5a7e" stroke-width="0.8" fill="none"/><path d="M366.60 73.35H368.80M367.70 72.25V74.45" stroke="#3a5a7e" stroke-width="0.8" fill="none"/><path d="M369.61 73.37H371.81M370.71 72.27V74.47" stroke="#3a5a7e" stroke-width="0.8" fill="none"/><path d="M372.62 73.40H374.82M373.72 72.30V74.50" stroke="#3a5a7e" stroke-width="0.8" fill="none"/><path d="M375.63 73.42H377.83M376.73 72.32V74.52" stroke="#3a5a7e" stroke-width="0.8" fill="none"/><path d="M378.64 73.44H380.84M379.74 72.34V74.54" stroke="#3a5a7e" stroke-width="0.8" fill="none"/><path d="M381.65 73.46H383.85M382.75 72.36V74.56" stroke="#3a5a7e" stroke-width="0.8" fill="none"/><path d="M384.66 73.49H386.86M385.76 72.39V74.59" stroke="#3a5a7e" stroke-width="0.8" fill="none"/><path d="M387.66 73.51H389.86M388.76 72.41V74.61" stroke="#3a5a7e" stroke-width="0.8" fill="none"/><path d="M390.67 73.53H392.87M391.77 72.43V74.63" stroke="#3a5a7e" stroke-width="0.8" fill="none"/><path d="M393.68 73.55H395.88M394.78 72.45V74.65" stroke="#3a5a7e" stroke-width="0.8" fill="none"/><path d="M396.69 73.58H398.89M397.79 72.48V74.68" stroke="#3a5a7e" stroke-width="0.8" fill="none"/><path d="M399.70 73.60H401.90M400.80 72.50V74.70" stroke="#3a5a7e" stroke-width="0.8" fill="none"/><path d="M298.50 20.00 L301.00 46.00 L308.00 47.00 L311.00 51.00 L315.00 53.00 L327.00 54.00 L330.00 60.00 L351.00 62.00 L355.00 66.00 L373.00 67.00 L375.00 74.00 L377.00 81.00 L387.00 85.00 L400.80 87.00" fill="none" stroke="#e8203c" stroke-width="0.75" stroke-linejoin="round"/><circle cx="298.50" cy="20.00" r="1.3" fill="#e8203c"/><circle cx="301.51" cy="46.07" r="1.3" fill="#e8203c"/><circle cx="304.52" cy="46.50" r="1.3" fill="#e8203c"/><circle cx="307.53" cy="46.93" r="1.3" fill="#e8203c"/><circle cx="310.54" cy="50.38" r="1.3" fill="#e8203c"/><circle cx="313.54" cy="52.27" r="1.3" fill="#e8203c"/><circle cx="316.55" cy="53.13" r="1.3" fill="#e8203c"/><circle cx="319.56" cy="53.38" r="1.3" fill="#e8203c"/><circle cx="322.57" cy="53.63" r="1.3" fill="#e8203c"/><circle cx="325.58" cy="53.88" r="1.3" fill="#e8203c"/><circle cx="328.59" cy="57.18" r="1.3" fill="#e8203c"/><circle cx="331.60" cy="60.15" r="1.3" fill="#e8203c"/><circle cx="334.61" cy="60.44" r="1.3" fill="#e8203c"/><circle cx="337.61" cy="60.73" r="1.3" fill="#e8203c"/><circle cx="340.62" cy="61.01" r="1.3" fill="#e8203c"/><circle cx="343.63" cy="61.30" r="1.3" fill="#e8203c"/><circle cx="346.64" cy="61.58" r="1.3" fill="#e8203c"/><circle cx="349.65" cy="61.87" r="1.3" fill="#e8203c"/><circle cx="352.66" cy="63.66" r="1.3" fill="#e8203c"/><circle cx="355.67" cy="66.04" r="1.3" fill="#e8203c"/><circle cx="358.68" cy="66.20" r="1.3" fill="#e8203c"/><circle cx="361.69" cy="66.37" r="1.3" fill="#e8203c"/><circle cx="364.69" cy="66.54" r="1.3" fill="#e8203c"/><circle cx="367.70" cy="66.71" r="1.3" fill="#e8203c"/><circle cx="370.71" cy="66.87" r="1.3" fill="#e8203c"/><circle cx="373.72" cy="69.52" r="1.3" fill="#e8203c"/><circle cx="376.73" cy="80.05" r="1.3" fill="#e8203c"/><circle cx="379.74" cy="82.10" r="1.3" fill="#e8203c"/><circle cx="382.75" cy="83.30" r="1.3" fill="#e8203c"/><circle cx="385.76" cy="84.50" r="1.3" fill="#e8203c"/><circle cx="388.76" cy="85.26" r="1.3" fill="#e8203c"/><circle cx="391.77" cy="85.69" r="1.3" fill="#e8203c"/><circle cx="394.78" cy="86.13" r="1.3" fill="#e8203c"/><circle cx="397.79" cy="86.56" r="1.3" fill="#e8203c"/><circle cx="400.80" cy="87.00" r="1.3" fill="#e8203c"/></g>
<g><rect x="434.5" y="12.3" width="102.20" height="74.40" fill="#fff" stroke="#c4c4c4" stroke-width="0.7"/><path d="M434.50 86.7v-1M434.50 12.3v1" stroke="#c4c4c4" stroke-width="0.6"/><text x="434.50" y="93.40" class="t m" font-size="5.3" textLength="2.56" lengthAdjust="spacingAndGlyphs">0</text><path d="M454.94 86.7v-1M454.94 12.3v1" stroke="#c4c4c4" stroke-width="0.6"/><text x="454.94" y="93.40" class="t m" font-size="5.3" textLength="7.67" lengthAdjust="spacingAndGlyphs">100</text><path d="M475.38 86.7v-1M475.38 12.3v1" stroke="#c4c4c4" stroke-width="0.6"/><text x="475.38" y="93.40" class="t m" font-size="5.3" textLength="7.67" lengthAdjust="spacingAndGlyphs">200</text><path d="M495.82 86.7v-1M495.82 12.3v1" stroke="#c4c4c4" stroke-width="0.6"/><text x="495.82" y="93.40" class="t m" font-size="5.3" textLength="7.67" lengthAdjust="spacingAndGlyphs">300</text><path d="M516.26 86.7v-1M516.26 12.3v1" stroke="#c4c4c4" stroke-width="0.6"/><text x="516.26" y="93.40" class="t m" font-size="5.3" textLength="7.67" lengthAdjust="spacingAndGlyphs">400</text><path d="M536.70 86.7v-1M536.70 12.3v1" stroke="#c4c4c4" stroke-width="0.6"/><text x="536.70" y="93.40" class="t m" font-size="5.3" textLength="7.67" lengthAdjust="spacingAndGlyphs">500</text><text x="432.50" y="21.40" class="t e" font-size="5.3" textLength="10.23" lengthAdjust="spacingAndGlyphs">3000</text><text x="432.50" y="31.70" class="t e" font-size="5.3" textLength="10.23" lengthAdjust="spacingAndGlyphs">2900</text><text x="432.50" y="43.10" class="t e" font-size="5.3" textLength="10.23" lengthAdjust="spacingAndGlyphs">2800</text><text x="432.50" y="54.80" class="t e" font-size="5.3" textLength="10.23" lengthAdjust="spacingAndGlyphs">2700</text><text x="432.50" y="66.80" class="t e" font-size="5.3" textLength="10.23" lengthAdjust="spacingAndGlyphs">2600</text><text x="432.50" y="79.50" class="t e" font-size="5.3" textLength="10.23" lengthAdjust="spacingAndGlyphs">2500</text><text x="485.60" y="10.90" class="t m" font-size="5.4" textLength="55.5" lengthAdjust="spacingAndGlyphs">CEC2017-F21 (Dim =30)</text><text x="485.60" y="100.10" class="t m" font-size="5.4" textLength="19" lengthAdjust="spacingAndGlyphs">Iteration</text><text x="421.20" y="49.50" class="t m" font-size="5.3" textLength="34.5" lengthAdjust="spacingAndGlyphs" transform="rotate(-90 421.20 49.50)">Average fitness</text><path d="M434.50 32.00 L438.00 53.00 L444.00 60.00 L454.00 66.00 L470.00 69.00 L536.70 70.00" fill="none" stroke="#a0a0a0" stroke-width="0.75" stroke-linejoin="round"/><rect x="433.40" y="30.90" width="2.2" height="2.2" fill="#a0a0a0"/><rect x="436.41" y="48.94" width="2.2" height="2.2" fill="#a0a0a0"/><rect x="439.41" y="54.83" width="2.2" height="2.2" fill="#a0a0a0"/><rect x="442.42" y="58.34" width="2.2" height="2.2" fill="#a0a0a0"/><rect x="445.42" y="60.41" width="2.2" height="2.2" fill="#a0a0a0"/><rect x="448.43" y="62.22" width="2.2" height="2.2" fill="#a0a0a0"/><rect x="451.44" y="64.02" width="2.2" height="2.2" fill="#a0a0a0"/><rect x="454.44" y="65.19" width="2.2" height="2.2" fill="#a0a0a0"/><rect x="457.45" y="65.75" width="2.2" height="2.2" fill="#a0a0a0"/><rect x="460.45" y="66.32" width="2.2" height="2.2" fill="#a0a0a0"/><rect x="463.46" y="66.88" width="2.2" height="2.2" fill="#a0a0a0"/><rect x="466.46" y="67.44" width="2.2" height="2.2" fill="#a0a0a0"/><rect x="469.47" y="67.91" width="2.2" height="2.2" fill="#a0a0a0"/><rect x="472.48" y="67.95" width="2.2" height="2.2" fill="#a0a0a0"/><rect x="475.48" y="68.00" width="2.2" height="2.2" fill="#a0a0a0"/><rect x="478.49" y="68.04" width="2.2" height="2.2" fill="#a0a0a0"/><rect x="481.49" y="68.09" width="2.2" height="2.2" fill="#a0a0a0"/><rect x="484.50" y="68.13" width="2.2" height="2.2" fill="#a0a0a0"/><rect x="487.51" y="68.18" width="2.2" height="2.2" fill="#a0a0a0"/><rect x="490.51" y="68.22" width="2.2" height="2.2" fill="#a0a0a0"/><rect x="493.52" y="68.27" width="2.2" height="2.2" fill="#a0a0a0"/><rect x="496.52" y="68.31" width="2.2" height="2.2" fill="#a0a0a0"/><rect x="499.53" y="68.36" width="2.2" height="2.2" fill="#a0a0a0"/><rect x="502.54" y="68.40" width="2.2" height="2.2" fill="#a0a0a0"/><rect x="505.54" y="68.45" width="2.2" height="2.2" fill="#a0a0a0"/><rect x="508.55" y="68.49" width="2.2" height="2.2" fill="#a0a0a0"/><rect x="511.55" y="68.54" width="2.2" height="2.2" fill="#a0a0a0"/><rect x="514.56" y="68.58" width="2.2" height="2.2" fill="#a0a0a0"/><rect x="517.56" y="68.63" width="2.2" height="2.2" fill="#a0a0a0"/><rect x="520.57" y="68.67" width="2.2" height="2.2" fill="#a0a0a0"/><rect x="523.58" y="68.72" width="2.2" height="2.2" fill="#a0a0a0"/><rect x="526.58" y="68.76" width="2.2" height="2.2" fill="#a0a0a0"/><rect x="529.59" y="68.81" width="2.2" height="2.2" fill="#a0a0a0"/><rect x="532.59" y="68.85" width="2.2" height="2.2" fill="#a0a0a0"/><rect x="535.60" y="68.90" width="2.2" height="2.2" fill="#a0a0a0"/><path d="M434.50 47.00 L438.00 52.00 L446.00 58.00 L456.00 59.60 L466.00 61.00 L536.70 61.00" fill="none" stroke="#1f9a48" stroke-width="0.75" stroke-linejoin="round"/><circle cx="434.50" cy="47.00" r="1.25" fill="#1f9a48"/><circle cx="437.51" cy="51.29" r="1.25" fill="#1f9a48"/><circle cx="440.51" cy="53.88" r="1.25" fill="#1f9a48"/><circle cx="443.52" cy="56.14" r="1.25" fill="#1f9a48"/><circle cx="446.52" cy="58.08" r="1.25" fill="#1f9a48"/><circle cx="449.53" cy="58.56" r="1.25" fill="#1f9a48"/><circle cx="452.54" cy="59.05" r="1.25" fill="#1f9a48"/><circle cx="455.54" cy="59.53" r="1.25" fill="#1f9a48"/><circle cx="458.55" cy="59.96" r="1.25" fill="#1f9a48"/><circle cx="461.55" cy="60.38" r="1.25" fill="#1f9a48"/><circle cx="464.56" cy="60.80" r="1.25" fill="#1f9a48"/><circle cx="467.56" cy="61.00" r="1.25" fill="#1f9a48"/><circle cx="470.57" cy="61.00" r="1.25" fill="#1f9a48"/><circle cx="473.58" cy="61.00" r="1.25" fill="#1f9a48"/><circle cx="476.58" cy="61.00" r="1.25" fill="#1f9a48"/><circle cx="479.59" cy="61.00" r="1.25" fill="#1f9a48"/><circle cx="482.59" cy="61.00" r="1.25" fill="#1f9a48"/><circle cx="485.60" cy="61.00" r="1.25" fill="#1f9a48"/><circle cx="488.61" cy="61.00" r="1.25" fill="#1f9a48"/><circle cx="491.61" cy="61.00" r="1.25" fill="#1f9a48"/><circle cx="494.62" cy="61.00" r="1.25" fill="#1f9a48"/><circle cx="497.62" cy="61.00" r="1.25" fill="#1f9a48"/><circle cx="500.63" cy="61.00" r="1.25" fill="#1f9a48"/><circle cx="503.64" cy="61.00" r="1.25" fill="#1f9a48"/><circle cx="506.64" cy="61.00" r="1.25" fill="#1f9a48"/><circle cx="509.65" cy="61.00" r="1.25" fill="#1f9a48"/><circle cx="512.65" cy="61.00" r="1.25" fill="#1f9a48"/><circle cx="515.66" cy="61.00" r="1.25" fill="#1f9a48"/><circle cx="518.66" cy="61.00" r="1.25" fill="#1f9a48"/><circle cx="521.67" cy="61.00" r="1.25" fill="#1f9a48"/><circle cx="524.68" cy="61.00" r="1.25" fill="#1f9a48"/><circle cx="527.68" cy="61.00" r="1.25" fill="#1f9a48"/><circle cx="530.69" cy="61.00" r="1.25" fill="#1f9a48"/><circle cx="533.69" cy="61.00" r="1.25" fill="#1f9a48"/><circle cx="536.70" cy="61.00" r="1.25" fill="#1f9a48"/><path d="M434.50 21.60 L436.80 39.80 L439.70 45.60 L450.20 45.60 L454.12 53.20 L457.00 59.00 L467.60 59.60 L468.60 62.40 L470.00 64.00 L518.00 64.00 L520.00 68.40 L536.70 68.40" fill="none" stroke="#3a3ad6" stroke-width="0.75" stroke-linejoin="round"/><rect x="433.45" y="20.55" width="2.1" height="2.1" fill="#3a3ad6"/><rect x="436.46" y="40.16" width="2.1" height="2.1" fill="#3a3ad6"/><rect x="439.46" y="44.55" width="2.1" height="2.1" fill="#3a3ad6"/><rect x="442.47" y="44.55" width="2.1" height="2.1" fill="#3a3ad6"/><rect x="445.47" y="44.55" width="2.1" height="2.1" fill="#3a3ad6"/><rect x="448.48" y="44.55" width="2.1" height="2.1" fill="#3a3ad6"/><rect x="451.49" y="49.08" width="2.1" height="2.1" fill="#3a3ad6"/><rect x="454.49" y="55.01" width="2.1" height="2.1" fill="#3a3ad6"/><rect x="457.50" y="58.04" width="2.1" height="2.1" fill="#3a3ad6"/><rect x="460.50" y="58.21" width="2.1" height="2.1" fill="#3a3ad6"/><rect x="463.51" y="58.38" width="2.1" height="2.1" fill="#3a3ad6"/><rect x="466.51" y="58.55" width="2.1" height="2.1" fill="#3a3ad6"/><rect x="469.52" y="62.95" width="2.1" height="2.1" fill="#3a3ad6"/><rect x="472.53" y="62.95" width="2.1" height="2.1" fill="#3a3ad6"/><rect x="475.53" y="62.95" width="2.1" height="2.1" fill="#3a3ad6"/><rect x="478.54" y="62.95" width="2.1" height="2.1" fill="#3a3ad6"/><rect x="481.54" y="62.95" width="2.1" height="2.1" fill="#3a3ad6"/><rect x="484.55" y="62.95" width="2.1" height="2.1" fill="#3a3ad6"/><rect x="487.56" y="62.95" width="2.1" height="2.1" fill="#3a3ad6"/><rect x="490.56" y="62.95" width="2.1" height="2.1" fill="#3a3ad6"/><rect x="493.57" y="62.95" width="2.1" height="2.1" fill="#3a3ad6"/><rect x="496.57" y="62.95" width="2.1" height="2.1" fill="#3a3ad6"/><rect x="499.58" y="62.95" width="2.1" height="2.1" fill="#3a3ad6"/><rect x="502.59" y="62.95" width="2.1" height="2.1" fill="#3a3ad6"/><rect x="505.59" y="62.95" width="2.1" height="2.1" fill="#3a3ad6"/><rect x="508.60" y="62.95" width="2.1" height="2.1" fill="#3a3ad6"/><rect x="511.60" y="62.95" width="2.1" height="2.1" fill="#3a3ad6"/><rect x="514.61" y="62.95" width="2.1" height="2.1" fill="#3a3ad6"/><rect x="517.61" y="64.41" width="2.1" height="2.1" fill="#3a3ad6"/><rect x="520.62" y="67.35" width="2.1" height="2.1" fill="#3a3ad6"/><rect x="523.63" y="67.35" width="2.1" height="2.1" fill="#3a3ad6"/><rect x="526.63" y="67.35" width="2.1" height="2.1" fill="#3a3ad6"/><rect x="529.64" y="67.35" width="2.1" height="2.1" fill="#3a3ad6"/><rect x="532.64" y="67.35" width="2.1" height="2.1" fill="#3a3ad6"/><rect x="535.65" y="67.35" width="2.1" height="2.1" fill="#3a3ad6"/><path d="M434.50 32.00 L437.00 38.00 L468.00 40.00 L470.00 41.60 L478.00 41.60 L479.60 47.00 L488.00 47.00 L493.60 54.40 L536.70 54.40" fill="none" stroke="#4a9fd6" stroke-width="0.75" stroke-linejoin="round"/><path d="M433.50 31.00L435.50 33.00M433.50 33.00L435.50 31.00" stroke="#4a9fd6" stroke-width="0.8" fill="none"/><path d="M436.51 37.03L438.51 39.03M436.51 39.03L438.51 37.03" stroke="#4a9fd6" stroke-width="0.8" fill="none"/><path d="M439.51 37.23L441.51 39.23M439.51 39.23L441.51 37.23" stroke="#4a9fd6" stroke-width="0.8" fill="none"/><path d="M442.52 37.42L444.52 39.42M442.52 39.42L444.52 37.42" stroke="#4a9fd6" stroke-width="0.8" fill="none"/><path d="M445.52 37.61L447.52 39.61M445.52 39.61L447.52 37.61" stroke="#4a9fd6" stroke-width="0.8" fill="none"/><path d="M448.53 37.81L450.53 39.81M448.53 39.81L450.53 37.81" stroke="#4a9fd6" stroke-width="0.8" fill="none"/><path d="M451.54 38.00L453.54 40.00M451.54 40.00L453.54 38.00" stroke="#4a9fd6" stroke-width="0.8" fill="none"/><path d="M454.54 38.20L456.54 40.20M454.54 40.20L456.54 38.20" stroke="#4a9fd6" stroke-width="0.8" fill="none"/><path d="M457.55 38.39L459.55 40.39M457.55 40.39L459.55 38.39" stroke="#4a9fd6" stroke-width="0.8" fill="none"/><path d="M460.55 38.58L462.55 40.58M460.55 40.58L462.55 38.58" stroke="#4a9fd6" stroke-width="0.8" fill="none"/><path d="M463.56 38.78L465.56 40.78M463.56 40.78L465.56 38.78" stroke="#4a9fd6" stroke-width="0.8" fill="none"/><path d="M466.56 38.97L468.56 40.97M466.56 40.97L468.56 38.97" stroke="#4a9fd6" stroke-width="0.8" fill="none"/><path d="M469.57 40.60L471.57 42.60M469.57 42.60L471.57 40.60" stroke="#4a9fd6" stroke-width="0.8" fill="none"/><path d="M472.58 40.60L474.58 42.60M472.58 42.60L474.58 40.60" stroke="#4a9fd6" stroke-width="0.8" fill="none"/><path d="M475.58 40.60L477.58 42.60M475.58 42.60L477.58 40.60" stroke="#4a9fd6" stroke-width="0.8" fill="none"/><path d="M478.59 45.96L480.59 47.96M478.59 47.96L480.59 45.96" stroke="#4a9fd6" stroke-width="0.8" fill="none"/><path d="M481.59 46.00L483.59 48.00M481.59 48.00L483.59 46.00" stroke="#4a9fd6" stroke-width="0.8" fill="none"/><path d="M484.60 46.00L486.60 48.00M484.60 48.00L486.60 46.00" stroke="#4a9fd6" stroke-width="0.8" fill="none"/><path d="M487.61 46.80L489.61 48.80M487.61 48.80L489.61 46.80" stroke="#4a9fd6" stroke-width="0.8" fill="none"/><path d="M490.61 50.77L492.61 52.77M490.61 52.77L492.61 50.77" stroke="#4a9fd6" stroke-width="0.8" fill="none"/><path d="M493.62 53.40L495.62 55.40M493.62 55.40L495.62 53.40" stroke="#4a9fd6" stroke-width="0.8" fill="none"/><path d="M496.62 53.40L498.62 55.40M496.62 55.40L498.62 53.40" stroke="#4a9fd6" stroke-width="0.8" fill="none"/><path d="M499.63 53.40L501.63 55.40M499.63 55.40L501.63 53.40" stroke="#4a9fd6" stroke-width="0.8" fill="none"/><path d="M502.64 53.40L504.64 55.40M502.64 55.40L504.64 53.40" stroke="#4a9fd6" stroke-width="0.8" fill="none"/><path d="M505.64 53.40L507.64 55.40M505.64 55.40L507.64 53.40" stroke="#4a9fd6" stroke-width="0.8" fill="none"/><path d="M508.65 53.40L510.65 55.40M508.65 55.40L510.65 53.40" stroke="#4a9fd6" stroke-width="0.8" fill="none"/><path d="M511.65 53.40L513.65 55.40M511.65 55.40L513.65 53.40" stroke="#4a9fd6" stroke-width="0.8" fill="none"/><path d="M514.66 53.40L516.66 55.40M514.66 55.40L516.66 53.40" stroke="#4a9fd6" stroke-width="0.8" fill="none"/><path d="M517.66 53.40L519.66 55.40M517.66 55.40L519.66 53.40" stroke="#4a9fd6" stroke-width="0.8" fill="none"/><path d="M520.67 53.40L522.67 55.40M520.67 55.40L522.67 53.40" stroke="#4a9fd6" stroke-width="0.8" fill="none"/><path d="M523.68 53.40L525.68 55.40M523.68 55.40L525.68 53.40" stroke="#4a9fd6" stroke-width="0.8" fill="none"/><path d="M526.68 53.40L528.68 55.40M526.68 55.40L528.68 53.40" stroke="#4a9fd6" stroke-width="0.8" fill="none"/><path d="M529.69 53.40L531.69 55.40M529.69 55.40L531.69 53.40" stroke="#4a9fd6" stroke-width="0.8" fill="none"/><path d="M532.69 53.40L534.69 55.40M532.69 55.40L534.69 53.40" stroke="#4a9fd6" stroke-width="0.8" fill="none"/><path d="M535.70 53.40L537.70 55.40M535.70 55.40L537.70 53.40" stroke="#4a9fd6" stroke-width="0.8" fill="none"/><path d="M434.50 12.30 L439.00 36.00 L445.00 58.00 L452.00 62.00 L470.00 64.00 L486.00 67.00 L536.70 67.60" fill="none" stroke="#1ecc28" stroke-width="0.75" stroke-linejoin="round"/><circle cx="434.50" cy="12.30" r="1.3" fill="#1ecc28"/><circle cx="437.51" cy="28.13" r="1.3" fill="#1ecc28"/><circle cx="440.51" cy="41.54" r="1.3" fill="#1ecc28"/><circle cx="443.52" cy="52.56" r="1.3" fill="#1ecc28"/><circle cx="446.52" cy="58.87" r="1.3" fill="#1ecc28"/><circle cx="449.53" cy="60.59" r="1.3" fill="#1ecc28"/><circle cx="452.54" cy="62.06" r="1.3" fill="#1ecc28"/><circle cx="455.54" cy="62.39" r="1.3" fill="#1ecc28"/><circle cx="458.55" cy="62.73" r="1.3" fill="#1ecc28"/><circle cx="461.55" cy="63.06" r="1.3" fill="#1ecc28"/><circle cx="464.56" cy="63.40" r="1.3" fill="#1ecc28"/><circle cx="467.56" cy="63.73" r="1.3" fill="#1ecc28"/><circle cx="470.57" cy="64.11" r="1.3" fill="#1ecc28"/><circle cx="473.58" cy="64.67" r="1.3" fill="#1ecc28"/><circle cx="476.58" cy="65.23" r="1.3" fill="#1ecc28"/><circle cx="479.59" cy="65.80" r="1.3" fill="#1ecc28"/><circle cx="482.59" cy="66.36" r="1.3" fill="#1ecc28"/><circle cx="485.60" cy="66.93" r="1.3" fill="#1ecc28"/><circle cx="488.61" cy="67.03" r="1.3" fill="#1ecc28"/><circle cx="491.61" cy="67.07" r="1.3" fill="#1ecc28"/><circle cx="494.62" cy="67.10" r="1.3" fill="#1ecc28"/><circle cx="497.62" cy="67.14" r="1.3" fill="#1ecc28"/><circle cx="500.63" cy="67.17" r="1.3" fill="#1ecc28"/><circle cx="503.64" cy="67.21" r="1.3" fill="#1ecc28"/><circle cx="506.64" cy="67.24" r="1.3" fill="#1ecc28"/><circle cx="509.65" cy="67.28" r="1.3" fill="#1ecc28"/><circle cx="512.65" cy="67.32" r="1.3" fill="#1ecc28"/><circle cx="515.66" cy="67.35" r="1.3" fill="#1ecc28"/><circle cx="518.66" cy="67.39" r="1.3" fill="#1ecc28"/><circle cx="521.67" cy="67.42" r="1.3" fill="#1ecc28"/><circle cx="524.68" cy="67.46" r="1.3" fill="#1ecc28"/><circle cx="527.68" cy="67.49" r="1.3" fill="#1ecc28"/><circle cx="530.69" cy="67.53" r="1.3" fill="#1ecc28"/><circle cx="533.69" cy="67.56" r="1.3" fill="#1ecc28"/><circle cx="536.70" cy="67.60" r="1.3" fill="#1ecc28"/><path d="M434.50 22.00 L437.00 37.00 L536.70 37.00" fill="none" stroke="#5a3a98" stroke-width="0.75" stroke-linejoin="round"/><path d="M434.50 20.40L435.75 22.00L434.50 23.60L433.25 22.00Z" fill="#5a3a98"/><path d="M437.51 35.40L438.76 37.00L437.51 38.60L436.26 37.00Z" fill="#5a3a98"/><path d="M440.51 35.40L441.76 37.00L440.51 38.60L439.26 37.00Z" fill="#5a3a98"/><path d="M443.52 35.40L444.77 37.00L443.52 38.60L442.27 37.00Z" fill="#5a3a98"/><path d="M446.52 35.40L447.77 37.00L446.52 38.60L445.27 37.00Z" fill="#5a3a98"/><path d="M449.53 35.40L450.78 37.00L449.53 38.60L448.28 37.00Z" fill="#5a3a98"/><path d="M452.54 35.40L453.79 37.00L452.54 38.60L451.29 37.00Z" fill="#5a3a98"/><path d="M455.54 35.40L456.79 37.00L455.54 38.60L454.29 37.00Z" fill="#5a3a98"/><path d="M458.55 35.40L459.80 37.00L458.55 38.60L457.30 37.00Z" fill="#5a3a98"/><path d="M461.55 35.40L462.80 37.00L461.55 38.60L460.30 37.00Z" fill="#5a3a98"/><path d="M464.56 35.40L465.81 37.00L464.56 38.60L463.31 37.00Z" fill="#5a3a98"/><path d="M467.56 35.40L468.81 37.00L467.56 38.60L466.31 37.00Z" fill="#5a3a98"/><path d="M470.57 35.40L471.82 37.00L470.57 38.60L469.32 37.00Z" fill="#5a3a98"/><path d="M473.58 35.40L474.83 37.00L473.58 38.60L472.33 37.00Z" fill="#5a3a98"/><path d="M476.58 35.40L477.83 37.00L476.58 38.60L475.33 37.00Z" fill="#5a3a98"/><path d="M479.59 35.40L480.84 37.00L479.59 38.60L478.34 37.00Z" fill="#5a3a98"/><path d="M482.59 35.40L483.84 37.00L482.59 38.60L481.34 37.00Z" fill="#5a3a98"/><path d="M485.60 35.40L486.85 37.00L485.60 38.60L484.35 37.00Z" fill="#5a3a98"/><path d="M488.61 35.40L489.86 37.00L488.61 38.60L487.36 37.00Z" fill="#5a3a98"/><path d="M491.61 35.40L492.86 37.00L491.61 38.60L490.36 37.00Z" fill="#5a3a98"/><path d="M494.62 35.40L495.87 37.00L494.62 38.60L493.37 37.00Z" fill="#5a3a98"/><path d="M497.62 35.40L498.87 37.00L497.62 38.60L496.37 37.00Z" fill="#5a3a98"/><path d="M500.63 35.40L501.88 37.00L500.63 38.60L499.38 37.00Z" fill="#5a3a98"/><path d="M503.64 35.40L504.89 37.00L503.64 38.60L502.39 37.00Z" fill="#5a3a98"/><path d="M506.64 35.40L507.89 37.00L506.64 38.60L505.39 37.00Z" fill="#5a3a98"/><path d="M509.65 35.40L510.90 37.00L509.65 38.60L508.40 37.00Z" fill="#5a3a98"/><path d="M512.65 35.40L513.90 37.00L512.65 38.60L511.40 37.00Z" fill="#5a3a98"/><path d="M515.66 35.40L516.91 37.00L515.66 38.60L514.41 37.00Z" fill="#5a3a98"/><path d="M518.66 35.40L519.91 37.00L518.66 38.60L517.41 37.00Z" fill="#5a3a98"/><path d="M521.67 35.40L522.92 37.00L521.67 38.60L520.42 37.00Z" fill="#5a3a98"/><path d="M524.68 35.40L525.93 37.00L524.68 38.60L523.43 37.00Z" fill="#5a3a98"/><path d="M527.68 35.40L528.93 37.00L527.68 38.60L526.43 37.00Z" fill="#5a3a98"/><path d="M530.69 35.40L531.94 37.00L530.69 38.60L529.44 37.00Z" fill="#5a3a98"/><path d="M533.69 35.40L534.94 37.00L533.69 38.60L532.44 37.00Z" fill="#5a3a98"/><path d="M536.70 35.40L537.95 37.00L536.70 38.60L535.45 37.00Z" fill="#5a3a98"/><path d="M434.50 28.00 L438.00 56.00 L442.00 62.00 L446.00 65.00 L452.00 67.00 L462.00 70.40 L536.70 71.00" fill="none" stroke="#3a5a7e" stroke-width="0.75" stroke-linejoin="round"/><path d="M433.40 28.00H435.60M434.50 26.90V29.10" stroke="#3a5a7e" stroke-width="0.8" fill="none"/><path d="M436.41 52.05H438.61M437.51 50.95V53.15" stroke="#3a5a7e" stroke-width="0.8" fill="none"/><path d="M439.41 59.77H441.61M440.51 58.67V60.87" stroke="#3a5a7e" stroke-width="0.8" fill="none"/><path d="M442.42 63.14H444.62M443.52 62.04V64.24" stroke="#3a5a7e" stroke-width="0.8" fill="none"/><path d="M445.42 65.17H447.62M446.52 64.07V66.27" stroke="#3a5a7e" stroke-width="0.8" fill="none"/><path d="M448.43 66.18H450.63M449.53 65.08V67.28" stroke="#3a5a7e" stroke-width="0.8" fill="none"/><path d="M451.44 67.18H453.64M452.54 66.08V68.28" stroke="#3a5a7e" stroke-width="0.8" fill="none"/><path d="M454.44 68.20H456.64M455.54 67.10V69.30" stroke="#3a5a7e" stroke-width="0.8" fill="none"/><path d="M457.45 69.23H459.65M458.55 68.13V70.33" stroke="#3a5a7e" stroke-width="0.8" fill="none"/><path d="M460.45 70.25H462.65M461.55 69.15V71.35" stroke="#3a5a7e" stroke-width="0.8" fill="none"/><path d="M463.46 70.42H465.66M464.56 69.32V71.52" stroke="#3a5a7e" stroke-width="0.8" fill="none"/><path d="M466.46 70.44H468.66M467.56 69.34V71.54" stroke="#3a5a7e" stroke-width="0.8" fill="none"/><path d="M469.47 70.47H471.67M470.57 69.37V71.57" stroke="#3a5a7e" stroke-width="0.8" fill="none"/><path d="M472.48 70.49H474.68M473.58 69.39V71.59" stroke="#3a5a7e" stroke-width="0.8" fill="none"/><path d="M475.48 70.52H477.68M476.58 69.42V71.62" stroke="#3a5a7e" stroke-width="0.8" fill="none"/><path d="M478.49 70.54H480.69M479.59 69.44V71.64" stroke="#3a5a7e" stroke-width="0.8" fill="none"/><path d="M481.49 70.57H483.69M482.59 69.47V71.67" stroke="#3a5a7e" stroke-width="0.8" fill="none"/><path d="M484.50 70.59H486.70M485.60 69.49V71.69" stroke="#3a5a7e" stroke-width="0.8" fill="none"/><path d="M487.51 70.61H489.71M488.61 69.51V71.71" stroke="#3a5a7e" stroke-width="0.8" fill="none"/><path d="M490.51 70.64H492.71M491.61 69.54V71.74" stroke="#3a5a7e" stroke-width="0.8" fill="none"/><path d="M493.52 70.66H495.72M494.62 69.56V71.76" stroke="#3a5a7e" stroke-width="0.8" fill="none"/><path d="M496.52 70.69H498.72M497.62 69.59V71.79" stroke="#3a5a7e" stroke-width="0.8" fill="none"/><path d="M499.53 70.71H501.73M500.63 69.61V71.81" stroke="#3a5a7e" stroke-width="0.8" fill="none"/><path d="M502.54 70.73H504.74M503.64 69.63V71.83" stroke="#3a5a7e" stroke-width="0.8" fill="none"/><path d="M505.54 70.76H507.74M506.64 69.66V71.86" stroke="#3a5a7e" stroke-width="0.8" fill="none"/><path d="M508.55 70.78H510.75M509.65 69.68V71.88" stroke="#3a5a7e" stroke-width="0.8" fill="none"/><path d="M511.55 70.81H513.75M512.65 69.71V71.91" stroke="#3a5a7e" stroke-width="0.8" fill="none"/><path d="M514.56 70.83H516.76M515.66 69.73V71.93" stroke="#3a5a7e" stroke-width="0.8" fill="none"/><path d="M517.56 70.86H519.76M518.66 69.76V71.96" stroke="#3a5a7e" stroke-width="0.8" fill="none"/><path d="M520.57 70.88H522.77M521.67 69.78V71.98" stroke="#3a5a7e" stroke-width="0.8" fill="none"/><path d="M523.58 70.90H525.78M524.68 69.80V72.00" stroke="#3a5a7e" stroke-width="0.8" fill="none"/><path d="M526.58 70.93H528.78M527.68 69.83V72.03" stroke="#3a5a7e" stroke-width="0.8" fill="none"/><path d="M529.59 70.95H531.79M530.69 69.85V72.05" stroke="#3a5a7e" stroke-width="0.8" fill="none"/><path d="M532.59 70.98H534.79M533.69 69.88V72.08" stroke="#3a5a7e" stroke-width="0.8" fill="none"/><path d="M535.60 71.00H537.80M536.70 69.90V72.10" stroke="#3a5a7e" stroke-width="0.8" fill="none"/><path d="M434.50 34.00 L437.00 50.00 L442.00 54.00 L448.00 60.00 L454.00 65.00 L480.00 65.60 L490.00 69.00 L496.00 74.00 L504.00 80.00 L510.00 84.00 L518.00 86.00 L536.70 86.60" fill="none" stroke="#e8203c" stroke-width="0.75" stroke-linejoin="round"/><circle cx="434.50" cy="34.00" r="1.3" fill="#e8203c"/><circle cx="437.51" cy="50.40" r="1.3" fill="#e8203c"/><circle cx="440.51" cy="52.81" r="1.3" fill="#e8203c"/><circle cx="443.52" cy="55.52" r="1.3" fill="#e8203c"/><circle cx="446.52" cy="58.52" r="1.3" fill="#e8203c"/><circle cx="449.53" cy="61.27" r="1.3" fill="#e8203c"/><circle cx="452.54" cy="63.78" r="1.3" fill="#e8203c"/><circle cx="455.54" cy="65.04" r="1.3" fill="#e8203c"/><circle cx="458.55" cy="65.10" r="1.3" fill="#e8203c"/><circle cx="461.55" cy="65.17" r="1.3" fill="#e8203c"/><circle cx="464.56" cy="65.24" r="1.3" fill="#e8203c"/><circle cx="467.56" cy="65.31" r="1.3" fill="#e8203c"/><circle cx="470.57" cy="65.38" r="1.3" fill="#e8203c"/><circle cx="473.58" cy="65.45" r="1.3" fill="#e8203c"/><circle cx="476.58" cy="65.52" r="1.3" fill="#e8203c"/><circle cx="479.59" cy="65.59" r="1.3" fill="#e8203c"/><circle cx="482.59" cy="66.48" r="1.3" fill="#e8203c"/><circle cx="485.60" cy="67.50" r="1.3" fill="#e8203c"/><circle cx="488.61" cy="68.53" r="1.3" fill="#e8203c"/><circle cx="491.61" cy="70.34" r="1.3" fill="#e8203c"/><circle cx="494.62" cy="72.85" r="1.3" fill="#e8203c"/><circle cx="497.62" cy="75.22" r="1.3" fill="#e8203c"/><circle cx="500.63" cy="77.47" r="1.3" fill="#e8203c"/><circle cx="503.64" cy="79.73" r="1.3" fill="#e8203c"/><circle cx="506.64" cy="81.76" r="1.3" fill="#e8203c"/><circle cx="509.65" cy="83.76" r="1.3" fill="#e8203c"/><circle cx="512.65" cy="84.66" r="1.3" fill="#e8203c"/><circle cx="515.66" cy="85.41" r="1.3" fill="#e8203c"/><circle cx="518.66" cy="86.02" r="1.3" fill="#e8203c"/><circle cx="521.67" cy="86.12" r="1.3" fill="#e8203c"/><circle cx="524.68" cy="86.21" r="1.3" fill="#e8203c"/><circle cx="527.68" cy="86.31" r="1.3" fill="#e8203c"/><circle cx="530.69" cy="86.41" r="1.3" fill="#e8203c"/><circle cx="533.69" cy="86.50" r="1.3" fill="#e8203c"/><circle cx="536.70" cy="86.60" r="1.3" fill="#e8203c"/></g>
<g><rect x="28.5" y="107" width="99.20" height="74.30" fill="#fff" stroke="#c4c4c4" stroke-width="0.7"/><path d="M28.50 181.3v-1M28.50 107v1" stroke="#c4c4c4" stroke-width="0.6"/><text x="28.50" y="188.00" class="t m" font-size="5.3" textLength="2.56" lengthAdjust="spacingAndGlyphs">0</text><path d="M48.34 181.3v-1M48.34 107v1" stroke="#c4c4c4" stroke-width="0.6"/><text x="48.34" y="188.00" class="t m" font-size="5.3" textLength="7.67" lengthAdjust="spacingAndGlyphs">100</text><path d="M68.18 181.3v-1M68.18 107v1" stroke="#c4c4c4" stroke-width="0.6"/><text x="68.18" y="188.00" class="t m" font-size="5.3" textLength="7.67" lengthAdjust="spacingAndGlyphs">200</text><path d="M88.02 181.3v-1M88.02 107v1" stroke="#c4c4c4" stroke-width="0.6"/><text x="88.02" y="188.00" class="t m" font-size="5.3" textLength="7.67" lengthAdjust="spacingAndGlyphs">300</text><path d="M107.86 181.3v-1M107.86 107v1" stroke="#c4c4c4" stroke-width="0.6"/><text x="107.86" y="188.00" class="t m" font-size="5.3" textLength="7.67" lengthAdjust="spacingAndGlyphs">400</text><path d="M127.70 181.3v-1M127.70 107v1" stroke="#c4c4c4" stroke-width="0.6"/><text x="127.70" y="188.00" class="t m" font-size="5.3" textLength="7.67" lengthAdjust="spacingAndGlyphs">500</text><text x="26.50" y="112.20" class="t e" font-size="5.3" textLength="12.79" lengthAdjust="spacingAndGlyphs">12000</text><text x="26.50" y="120.30" class="t e" font-size="5.3" textLength="12.79" lengthAdjust="spacingAndGlyphs">10000</text><text x="26.50" y="129.90" class="t e" font-size="5.3" textLength="10.23" lengthAdjust="spacingAndGlyphs">8000</text><text x="26.50" y="142.20" class="t e" font-size="5.3" textLength="10.23" lengthAdjust="spacingAndGlyphs">6000</text><text x="26.50" y="160.00" class="t e" font-size="5.3" textLength="10.23" lengthAdjust="spacingAndGlyphs">4000</text><text x="78.10" y="105.60" class="t m" font-size="5.4" textLength="55.5" lengthAdjust="spacingAndGlyphs">CEC2017-F22 (Dim =30)</text><text x="78.10" y="194.70" class="t m" font-size="5.4" textLength="19" lengthAdjust="spacingAndGlyphs">Iteration</text><text x="12.40" y="144.15" class="t m" font-size="5.3" textLength="34.5" lengthAdjust="spacingAndGlyphs" transform="rotate(-90 12.40 144.15)">Average fitness</text><path d="M28.50 107.00 L32.00 112.00 L42.00 113.00 L46.00 124.00 L50.00 138.00 L56.00 150.00 L61.00 156.40 L74.00 159.00 L110.00 161.00 L112.00 164.00 L116.00 173.00 L122.00 176.00 L127.60 179.00" fill="none" stroke="#a0a0a0" stroke-width="0.75" stroke-linejoin="round"/><rect x="27.40" y="105.90" width="2.2" height="2.2" fill="#a0a0a0"/><rect x="30.32" y="110.07" width="2.2" height="2.2" fill="#a0a0a0"/><rect x="33.24" y="111.13" width="2.2" height="2.2" fill="#a0a0a0"/><rect x="36.15" y="111.43" width="2.2" height="2.2" fill="#a0a0a0"/><rect x="39.07" y="111.72" width="2.2" height="2.2" fill="#a0a0a0"/><rect x="41.99" y="114.89" width="2.2" height="2.2" fill="#a0a0a0"/><rect x="44.91" y="122.92" width="2.2" height="2.2" fill="#a0a0a0"/><rect x="47.82" y="133.13" width="2.2" height="2.2" fill="#a0a0a0"/><rect x="50.74" y="140.58" width="2.2" height="2.2" fill="#a0a0a0"/><rect x="53.66" y="146.42" width="2.2" height="2.2" fill="#a0a0a0"/><rect x="56.58" y="151.05" width="2.2" height="2.2" fill="#a0a0a0"/><rect x="59.49" y="154.78" width="2.2" height="2.2" fill="#a0a0a0"/><rect x="62.41" y="155.80" width="2.2" height="2.2" fill="#a0a0a0"/><rect x="65.33" y="156.39" width="2.2" height="2.2" fill="#a0a0a0"/><rect x="68.25" y="156.97" width="2.2" height="2.2" fill="#a0a0a0"/><rect x="71.16" y="157.55" width="2.2" height="2.2" fill="#a0a0a0"/><rect x="74.08" y="157.97" width="2.2" height="2.2" fill="#a0a0a0"/><rect x="77.00" y="158.13" width="2.2" height="2.2" fill="#a0a0a0"/><rect x="79.92" y="158.29" width="2.2" height="2.2" fill="#a0a0a0"/><rect x="82.84" y="158.45" width="2.2" height="2.2" fill="#a0a0a0"/><rect x="85.75" y="158.61" width="2.2" height="2.2" fill="#a0a0a0"/><rect x="88.67" y="158.78" width="2.2" height="2.2" fill="#a0a0a0"/><rect x="91.59" y="158.94" width="2.2" height="2.2" fill="#a0a0a0"/><rect x="94.51" y="159.10" width="2.2" height="2.2" fill="#a0a0a0"/><rect x="97.42" y="159.26" width="2.2" height="2.2" fill="#a0a0a0"/><rect x="100.34" y="159.42" width="2.2" height="2.2" fill="#a0a0a0"/><rect x="103.26" y="159.59" width="2.2" height="2.2" fill="#a0a0a0"/><rect x="106.18" y="159.75" width="2.2" height="2.2" fill="#a0a0a0"/><rect x="109.09" y="160.19" width="2.2" height="2.2" fill="#a0a0a0"/><rect x="112.01" y="165.40" width="2.2" height="2.2" fill="#a0a0a0"/><rect x="114.93" y="171.91" width="2.2" height="2.2" fill="#a0a0a0"/><rect x="117.85" y="173.37" width="2.2" height="2.2" fill="#a0a0a0"/><rect x="120.76" y="174.83" width="2.2" height="2.2" fill="#a0a0a0"/><rect x="123.68" y="176.39" width="2.2" height="2.2" fill="#a0a0a0"/><rect x="126.60" y="177.90" width="2.2" height="2.2" fill="#a0a0a0"/><path d="M28.50 107.00 L34.00 124.00 L38.00 136.00 L41.00 139.00 L44.00 143.00 L50.00 148.00 L52.00 149.00 L72.00 149.60 L76.00 155.00 L127.60 155.00" fill="none" stroke="#1f9a48" stroke-width="0.75" stroke-linejoin="round"/><circle cx="28.50" cy="107.00" r="1.25" fill="#1f9a48"/><circle cx="31.42" cy="116.02" r="1.25" fill="#1f9a48"/><circle cx="34.34" cy="125.01" r="1.25" fill="#1f9a48"/><circle cx="37.25" cy="133.76" r="1.25" fill="#1f9a48"/><circle cx="40.17" cy="138.17" r="1.25" fill="#1f9a48"/><circle cx="43.09" cy="141.78" r="1.25" fill="#1f9a48"/><circle cx="46.01" cy="144.67" r="1.25" fill="#1f9a48"/><circle cx="48.92" cy="147.10" r="1.25" fill="#1f9a48"/><circle cx="51.84" cy="148.92" r="1.25" fill="#1f9a48"/><circle cx="54.76" cy="149.08" r="1.25" fill="#1f9a48"/><circle cx="57.68" cy="149.17" r="1.25" fill="#1f9a48"/><circle cx="60.59" cy="149.26" r="1.25" fill="#1f9a48"/><circle cx="63.51" cy="149.35" r="1.25" fill="#1f9a48"/><circle cx="66.43" cy="149.43" r="1.25" fill="#1f9a48"/><circle cx="69.35" cy="149.52" r="1.25" fill="#1f9a48"/><circle cx="72.26" cy="149.96" r="1.25" fill="#1f9a48"/><circle cx="75.18" cy="153.90" r="1.25" fill="#1f9a48"/><circle cx="78.10" cy="155.00" r="1.25" fill="#1f9a48"/><circle cx="81.02" cy="155.00" r="1.25" fill="#1f9a48"/><circle cx="83.94" cy="155.00" r="1.25" fill="#1f9a48"/><circle cx="86.85" cy="155.00" r="1.25" fill="#1f9a48"/><circle cx="89.77" cy="155.00" r="1.25" fill="#1f9a48"/><circle cx="92.69" cy="155.00" r="1.25" fill="#1f9a48"/><circle cx="95.61" cy="155.00" r="1.25" fill="#1f9a48"/><circle cx="98.52" cy="155.00" r="1.25" fill="#1f9a48"/><circle cx="101.44" cy="155.00" r="1.25" fill="#1f9a48"/><circle cx="104.36" cy="155.00" r="1.25" fill="#1f9a48"/><circle cx="107.28" cy="155.00" r="1.25" fill="#1f9a48"/><circle cx="110.19" cy="155.00" r="1.25" fill="#1f9a48"/><circle cx="113.11" cy="155.00" r="1.25" fill="#1f9a48"/><circle cx="116.03" cy="155.00" r="1.25" fill="#1f9a48"/><circle cx="118.95" cy="155.00" r="1.25" fill="#1f9a48"/><circle cx="121.86" cy="155.00" r="1.25" fill="#1f9a48"/><circle cx="124.78" cy="155.00" r="1.25" fill="#1f9a48"/><circle cx="127.70" cy="155.00" r="1.25" fill="#1f9a48"/><path d="M28.50 107.00 L32.00 114.00 L36.00 115.00 L84.00 116.00 L127.60 116.40" fill="none" stroke="#3a3ad6" stroke-width="0.75" stroke-linejoin="round"/><rect x="27.45" y="105.95" width="2.1" height="2.1" fill="#3a3ad6"/><rect x="30.37" y="111.79" width="2.1" height="2.1" fill="#3a3ad6"/><rect x="33.29" y="113.53" width="2.1" height="2.1" fill="#3a3ad6"/><rect x="36.20" y="113.98" width="2.1" height="2.1" fill="#3a3ad6"/><rect x="39.12" y="114.04" width="2.1" height="2.1" fill="#3a3ad6"/><rect x="42.04" y="114.10" width="2.1" height="2.1" fill="#3a3ad6"/><rect x="44.96" y="114.16" width="2.1" height="2.1" fill="#3a3ad6"/><rect x="47.87" y="114.22" width="2.1" height="2.1" fill="#3a3ad6"/><rect x="50.79" y="114.28" width="2.1" height="2.1" fill="#3a3ad6"/><rect x="53.71" y="114.34" width="2.1" height="2.1" fill="#3a3ad6"/><rect x="56.63" y="114.40" width="2.1" height="2.1" fill="#3a3ad6"/><rect x="59.54" y="114.46" width="2.1" height="2.1" fill="#3a3ad6"/><rect x="62.46" y="114.52" width="2.1" height="2.1" fill="#3a3ad6"/><rect x="65.38" y="114.58" width="2.1" height="2.1" fill="#3a3ad6"/><rect x="68.30" y="114.64" width="2.1" height="2.1" fill="#3a3ad6"/><rect x="71.21" y="114.71" width="2.1" height="2.1" fill="#3a3ad6"/><rect x="74.13" y="114.77" width="2.1" height="2.1" fill="#3a3ad6"/><rect x="77.05" y="114.83" width="2.1" height="2.1" fill="#3a3ad6"/><rect x="79.97" y="114.89" width="2.1" height="2.1" fill="#3a3ad6"/><rect x="82.89" y="114.95" width="2.1" height="2.1" fill="#3a3ad6"/><rect x="85.80" y="114.98" width="2.1" height="2.1" fill="#3a3ad6"/><rect x="88.72" y="115.00" width="2.1" height="2.1" fill="#3a3ad6"/><rect x="91.64" y="115.03" width="2.1" height="2.1" fill="#3a3ad6"/><rect x="94.56" y="115.06" width="2.1" height="2.1" fill="#3a3ad6"/><rect x="97.47" y="115.08" width="2.1" height="2.1" fill="#3a3ad6"/><rect x="100.39" y="115.11" width="2.1" height="2.1" fill="#3a3ad6"/><rect x="103.31" y="115.14" width="2.1" height="2.1" fill="#3a3ad6"/><rect x="106.23" y="115.16" width="2.1" height="2.1" fill="#3a3ad6"/><rect x="109.14" y="115.19" width="2.1" height="2.1" fill="#3a3ad6"/><rect x="112.06" y="115.22" width="2.1" height="2.1" fill="#3a3ad6"/><rect x="114.98" y="115.24" width="2.1" height="2.1" fill="#3a3ad6"/><rect x="117.90" y="115.27" width="2.1" height="2.1" fill="#3a3ad6"/><rect x="120.81" y="115.30" width="2.1" height="2.1" fill="#3a3ad6"/><rect x="123.73" y="115.32" width="2.1" height="2.1" fill="#3a3ad6"/><rect x="126.65" y="115.35" width="2.1" height="2.1" fill="#3a3ad6"/><path d="M28.50 107.00 L32.00 115.00 L47.00 121.50 L53.00 125.00 L58.00 127.50 L63.00 133.00 L66.00 134.50 L69.50 134.50 L72.00 138.00 L79.00 138.20 L91.00 139.80 L93.00 141.80 L120.00 142.00 L123.00 143.60 L127.60 143.60" fill="none" stroke="#4a9fd6" stroke-width="0.75" stroke-linejoin="round"/><path d="M27.50 106.00L29.50 108.00M27.50 108.00L29.50 106.00" stroke="#4a9fd6" stroke-width="0.8" fill="none"/><path d="M30.42 112.67L32.42 114.67M30.42 114.67L32.42 112.67" stroke="#4a9fd6" stroke-width="0.8" fill="none"/><path d="M33.34 115.01L35.34 117.01M33.34 117.01L35.34 115.01" stroke="#4a9fd6" stroke-width="0.8" fill="none"/><path d="M36.25 116.28L38.25 118.28M36.25 118.28L38.25 116.28" stroke="#4a9fd6" stroke-width="0.8" fill="none"/><path d="M39.17 117.54L41.17 119.54M39.17 119.54L41.17 117.54" stroke="#4a9fd6" stroke-width="0.8" fill="none"/><path d="M42.09 118.80L44.09 120.80M42.09 120.80L44.09 118.80" stroke="#4a9fd6" stroke-width="0.8" fill="none"/><path d="M45.01 120.07L47.01 122.07M45.01 122.07L47.01 120.07" stroke="#4a9fd6" stroke-width="0.8" fill="none"/><path d="M47.92 121.62L49.92 123.62M47.92 123.62L49.92 121.62" stroke="#4a9fd6" stroke-width="0.8" fill="none"/><path d="M50.84 123.32L52.84 125.32M50.84 125.32L52.84 123.32" stroke="#4a9fd6" stroke-width="0.8" fill="none"/><path d="M53.76 124.88L55.76 126.88M53.76 126.88L55.76 124.88" stroke="#4a9fd6" stroke-width="0.8" fill="none"/><path d="M56.68 126.34L58.68 128.34M56.68 128.34L58.68 126.34" stroke="#4a9fd6" stroke-width="0.8" fill="none"/><path d="M59.59 129.35L61.59 131.35M59.59 131.35L61.59 129.35" stroke="#4a9fd6" stroke-width="0.8" fill="none"/><path d="M62.51 132.26L64.51 134.26M62.51 134.26L64.51 132.26" stroke="#4a9fd6" stroke-width="0.8" fill="none"/><path d="M65.43 133.50L67.43 135.50M65.43 135.50L67.43 133.50" stroke="#4a9fd6" stroke-width="0.8" fill="none"/><path d="M68.35 133.50L70.35 135.50M68.35 135.50L70.35 133.50" stroke="#4a9fd6" stroke-width="0.8" fill="none"/><path d="M71.26 137.01L73.26 139.01M71.26 139.01L73.26 137.01" stroke="#4a9fd6" stroke-width="0.8" fill="none"/><path d="M74.18 137.09L76.18 139.09M74.18 139.09L76.18 137.09" stroke="#4a9fd6" stroke-width="0.8" fill="none"/><path d="M77.10 137.17L79.10 139.17M77.10 139.17L79.10 137.17" stroke="#4a9fd6" stroke-width="0.8" fill="none"/><path d="M80.02 137.47L82.02 139.47M80.02 139.47L82.02 137.47" stroke="#4a9fd6" stroke-width="0.8" fill="none"/><path d="M82.94 137.86L84.94 139.86M82.94 139.86L84.94 137.86" stroke="#4a9fd6" stroke-width="0.8" fill="none"/><path d="M85.85 138.25L87.85 140.25M85.85 140.25L87.85 138.25" stroke="#4a9fd6" stroke-width="0.8" fill="none"/><path d="M88.77 138.64L90.77 140.64M88.77 140.64L90.77 138.64" stroke="#4a9fd6" stroke-width="0.8" fill="none"/><path d="M91.69 140.49L93.69 142.49M91.69 142.49L93.69 140.49" stroke="#4a9fd6" stroke-width="0.8" fill="none"/><path d="M94.61 140.82L96.61 142.82M94.61 142.82L96.61 140.82" stroke="#4a9fd6" stroke-width="0.8" fill="none"/><path d="M97.52 140.84L99.52 142.84M97.52 142.84L99.52 140.84" stroke="#4a9fd6" stroke-width="0.8" fill="none"/><path d="M100.44 140.86L102.44 142.86M100.44 142.86L102.44 140.86" stroke="#4a9fd6" stroke-width="0.8" fill="none"/><path d="M103.36 140.88L105.36 142.88M103.36 142.88L105.36 140.88" stroke="#4a9fd6" stroke-width="0.8" fill="none"/><path d="M106.28 140.91L108.28 142.91M106.28 142.91L108.28 140.91" stroke="#4a9fd6" stroke-width="0.8" fill="none"/><path d="M109.19 140.93L111.19 142.93M109.19 142.93L111.19 140.93" stroke="#4a9fd6" stroke-width="0.8" fill="none"/><path d="M112.11 140.95L114.11 142.95M112.11 142.95L114.11 140.95" stroke="#4a9fd6" stroke-width="0.8" fill="none"/><path d="M115.03 140.97L117.03 142.97M115.03 142.97L117.03 140.97" stroke="#4a9fd6" stroke-width="0.8" fill="none"/><path d="M117.95 140.99L119.95 142.99M117.95 142.99L119.95 140.99" stroke="#4a9fd6" stroke-width="0.8" fill="none"/><path d="M120.86 141.99L122.86 143.99M120.86 143.99L122.86 141.99" stroke="#4a9fd6" stroke-width="0.8" fill="none"/><path d="M123.78 142.60L125.78 144.60M123.78 144.60L125.78 142.60" stroke="#4a9fd6" stroke-width="0.8" fill="none"/><path d="M126.70 142.60L128.70 144.60M126.70 144.60L128.70 142.60" stroke="#4a9fd6" stroke-width="0.8" fill="none"/><path d="M28.50 107.00 L36.00 118.00 L44.00 121.00 L48.00 123.00 L127.60 123.00" fill="none" stroke="#1ecc28" stroke-width="0.75" stroke-linejoin="round"/><circle cx="28.50" cy="107.00" r="1.3" fill="#1ecc28"/><circle cx="31.42" cy="111.28" r="1.3" fill="#1ecc28"/><circle cx="34.34" cy="115.56" r="1.3" fill="#1ecc28"/><circle cx="37.25" cy="118.47" r="1.3" fill="#1ecc28"/><circle cx="40.17" cy="119.56" r="1.3" fill="#1ecc28"/><circle cx="43.09" cy="120.66" r="1.3" fill="#1ecc28"/><circle cx="46.01" cy="122.00" r="1.3" fill="#1ecc28"/><circle cx="48.92" cy="123.00" r="1.3" fill="#1ecc28"/><circle cx="51.84" cy="123.00" r="1.3" fill="#1ecc28"/><circle cx="54.76" cy="123.00" r="1.3" fill="#1ecc28"/><circle cx="57.68" cy="123.00" r="1.3" fill="#1ecc28"/><circle cx="60.59" cy="123.00" r="1.3" fill="#1ecc28"/><circle cx="63.51" cy="123.00" r="1.3" fill="#1ecc28"/><circle cx="66.43" cy="123.00" r="1.3" fill="#1ecc28"/><circle cx="69.35" cy="123.00" r="1.3" fill="#1ecc28"/><circle cx="72.26" cy="123.00" r="1.3" fill="#1ecc28"/><circle cx="75.18" cy="123.00" r="1.3" fill="#1ecc28"/><circle cx="78.10" cy="123.00" r="1.3" fill="#1ecc28"/><circle cx="81.02" cy="123.00" r="1.3" fill="#1ecc28"/><circle cx="83.94" cy="123.00" r="1.3" fill="#1ecc28"/><circle cx="86.85" cy="123.00" r="1.3" fill="#1ecc28"/><circle cx="89.77" cy="123.00" r="1.3" fill="#1ecc28"/><circle cx="92.69" cy="123.00" r="1.3" fill="#1ecc28"/><circle cx="95.61" cy="123.00" r="1.3" fill="#1ecc28"/><circle cx="98.52" cy="123.00" r="1.3" fill="#1ecc28"/><circle cx="101.44" cy="123.00" r="1.3" fill="#1ecc28"/><circle cx="104.36" cy="123.00" r="1.3" fill="#1ecc28"/><circle cx="107.28" cy="123.00" r="1.3" fill="#1ecc28"/><circle cx="110.19" cy="123.00" r="1.3" fill="#1ecc28"/><circle cx="113.11" cy="123.00" r="1.3" fill="#1ecc28"/><circle cx="116.03" cy="123.00" r="1.3" fill="#1ecc28"/><circle cx="118.95" cy="123.00" r="1.3" fill="#1ecc28"/><circle cx="121.86" cy="123.00" r="1.3" fill="#1ecc28"/><circle cx="124.78" cy="123.00" r="1.3" fill="#1ecc28"/><circle cx="127.70" cy="123.00" r="1.3" fill="#1ecc28"/><path d="M28.50 107.00 L32.00 117.00 L127.60 117.60" fill="none" stroke="#5a3a98" stroke-width="0.75" stroke-linejoin="round"/><path d="M28.50 105.40L29.75 107.00L28.50 108.60L27.25 107.00Z" fill="#5a3a98"/><path d="M31.42 113.74L32.67 115.34L31.42 116.94L30.17 115.34Z" fill="#5a3a98"/><path d="M34.34 115.41L35.59 117.01L34.34 118.61L33.09 117.01Z" fill="#5a3a98"/><path d="M37.25 115.43L38.50 117.03L37.25 118.63L36.00 117.03Z" fill="#5a3a98"/><path d="M40.17 115.45L41.42 117.05L40.17 118.65L38.92 117.05Z" fill="#5a3a98"/><path d="M43.09 115.47L44.34 117.07L43.09 118.67L41.84 117.07Z" fill="#5a3a98"/><path d="M46.01 115.49L47.26 117.09L46.01 118.69L44.76 117.09Z" fill="#5a3a98"/><path d="M48.92 115.51L50.17 117.11L48.92 118.71L47.67 117.11Z" fill="#5a3a98"/><path d="M51.84 115.52L53.09 117.12L51.84 118.72L50.59 117.12Z" fill="#5a3a98"/><path d="M54.76 115.54L56.01 117.14L54.76 118.74L53.51 117.14Z" fill="#5a3a98"/><path d="M57.68 115.56L58.93 117.16L57.68 118.76L56.43 117.16Z" fill="#5a3a98"/><path d="M60.59 115.58L61.84 117.18L60.59 118.78L59.34 117.18Z" fill="#5a3a98"/><path d="M63.51 115.60L64.76 117.20L63.51 118.80L62.26 117.20Z" fill="#5a3a98"/><path d="M66.43 115.62L67.68 117.22L66.43 118.82L65.18 117.22Z" fill="#5a3a98"/><path d="M69.35 115.63L70.60 117.23L69.35 118.83L68.10 117.23Z" fill="#5a3a98"/><path d="M72.26 115.65L73.51 117.25L72.26 118.85L71.01 117.25Z" fill="#5a3a98"/><path d="M75.18 115.67L76.43 117.27L75.18 118.87L73.93 117.27Z" fill="#5a3a98"/><path d="M78.10 115.69L79.35 117.29L78.10 118.89L76.85 117.29Z" fill="#5a3a98"/><path d="M81.02 115.71L82.27 117.31L81.02 118.91L79.77 117.31Z" fill="#5a3a98"/><path d="M83.94 115.73L85.19 117.33L83.94 118.93L82.69 117.33Z" fill="#5a3a98"/><path d="M86.85 115.74L88.10 117.34L86.85 118.94L85.60 117.34Z" fill="#5a3a98"/><path d="M89.77 115.76L91.02 117.36L89.77 118.96L88.52 117.36Z" fill="#5a3a98"/><path d="M92.69 115.78L93.94 117.38L92.69 118.98L91.44 117.38Z" fill="#5a3a98"/><path d="M95.61 115.80L96.86 117.40L95.61 119.00L94.36 117.40Z" fill="#5a3a98"/><path d="M98.52 115.82L99.77 117.42L98.52 119.02L97.27 117.42Z" fill="#5a3a98"/><path d="M101.44 115.84L102.69 117.44L101.44 119.04L100.19 117.44Z" fill="#5a3a98"/><path d="M104.36 115.85L105.61 117.45L104.36 119.05L103.11 117.45Z" fill="#5a3a98"/><path d="M107.28 115.87L108.53 117.47L107.28 119.07L106.03 117.47Z" fill="#5a3a98"/><path d="M110.19 115.89L111.44 117.49L110.19 119.09L108.94 117.49Z" fill="#5a3a98"/><path d="M113.11 115.91L114.36 117.51L113.11 119.11L111.86 117.51Z" fill="#5a3a98"/><path d="M116.03 115.93L117.28 117.53L116.03 119.13L114.78 117.53Z" fill="#5a3a98"/><path d="M118.95 115.95L120.20 117.55L118.95 119.15L117.70 117.55Z" fill="#5a3a98"/><path d="M121.86 115.96L123.11 117.56L121.86 119.16L120.61 117.56Z" fill="#5a3a98"/><path d="M124.78 115.98L126.03 117.58L124.78 119.18L123.53 117.58Z" fill="#5a3a98"/><path d="M127.70 116.00L128.95 117.60L127.70 119.20L126.45 117.60Z" fill="#5a3a98"/><path d="M28.50 107.00 L32.00 124.00 L38.00 130.00 L48.00 136.00 L58.00 139.60 L127.60 139.60" fill="none" stroke="#3a5a7e" stroke-width="0.75" stroke-linejoin="round"/><path d="M27.40 107.00H29.60M28.50 105.90V108.10" stroke="#3a5a7e" stroke-width="0.8" fill="none"/><path d="M30.32 121.17H32.52M31.42 120.07V122.27" stroke="#3a5a7e" stroke-width="0.8" fill="none"/><path d="M33.24 126.34H35.44M34.34 125.24V127.44" stroke="#3a5a7e" stroke-width="0.8" fill="none"/><path d="M36.15 129.25H38.35M37.25 128.15V130.35" stroke="#3a5a7e" stroke-width="0.8" fill="none"/><path d="M39.07 131.30H41.27M40.17 130.20V132.40" stroke="#3a5a7e" stroke-width="0.8" fill="none"/><path d="M41.99 133.05H44.19M43.09 131.95V134.15" stroke="#3a5a7e" stroke-width="0.8" fill="none"/><path d="M44.91 134.80H47.11M46.01 133.70V135.90" stroke="#3a5a7e" stroke-width="0.8" fill="none"/><path d="M47.82 136.33H50.02M48.92 135.23V137.43" stroke="#3a5a7e" stroke-width="0.8" fill="none"/><path d="M50.74 137.38H52.94M51.84 136.28V138.48" stroke="#3a5a7e" stroke-width="0.8" fill="none"/><path d="M53.66 138.43H55.86M54.76 137.33V139.53" stroke="#3a5a7e" stroke-width="0.8" fill="none"/><path d="M56.58 139.48H58.78M57.68 138.38V140.58" stroke="#3a5a7e" stroke-width="0.8" fill="none"/><path d="M59.49 139.60H61.69M60.59 138.50V140.70" stroke="#3a5a7e" stroke-width="0.8" fill="none"/><path d="M62.41 139.60H64.61M63.51 138.50V140.70" stroke="#3a5a7e" stroke-width="0.8" fill="none"/><path d="M65.33 139.60H67.53M66.43 138.50V140.70" stroke="#3a5a7e" stroke-width="0.8" fill="none"/><path d="M68.25 139.60H70.45M69.35 138.50V140.70" stroke="#3a5a7e" stroke-width="0.8" fill="none"/><path d="M71.16 139.60H73.36M72.26 138.50V140.70" stroke="#3a5a7e" stroke-width="0.8" fill="none"/><path d="M74.08 139.60H76.28M75.18 138.50V140.70" stroke="#3a5a7e" stroke-width="0.8" fill="none"/><path d="M77.00 139.60H79.20M78.10 138.50V140.70" stroke="#3a5a7e" stroke-width="0.8" fill="none"/><path d="M79.92 139.60H82.12M81.02 138.50V140.70" stroke="#3a5a7e" stroke-width="0.8" fill="none"/><path d="M82.84 139.60H85.04M83.94 138.50V140.70" stroke="#3a5a7e" stroke-width="0.8" fill="none"/><path d="M85.75 139.60H87.95M86.85 138.50V140.70" stroke="#3a5a7e" stroke-width="0.8" fill="none"/><path d="M88.67 139.60H90.87M89.77 138.50V140.70" stroke="#3a5a7e" stroke-width="0.8" fill="none"/><path d="M91.59 139.60H93.79M92.69 138.50V140.70" stroke="#3a5a7e" stroke-width="0.8" fill="none"/><path d="M94.51 139.60H96.71M95.61 138.50V140.70" stroke="#3a5a7e" stroke-width="0.8" fill="none"/><path d="M97.42 139.60H99.62M98.52 138.50V140.70" stroke="#3a5a7e" stroke-width="0.8" fill="none"/><path d="M100.34 139.60H102.54M101.44 138.50V140.70" stroke="#3a5a7e" stroke-width="0.8" fill="none"/><path d="M103.26 139.60H105.46M104.36 138.50V140.70" stroke="#3a5a7e" stroke-width="0.8" fill="none"/><path d="M106.18 139.60H108.38M107.28 138.50V140.70" stroke="#3a5a7e" stroke-width="0.8" fill="none"/><path d="M109.09 139.60H111.29M110.19 138.50V140.70" stroke="#3a5a7e" stroke-width="0.8" fill="none"/><path d="M112.01 139.60H114.21M113.11 138.50V140.70" stroke="#3a5a7e" stroke-width="0.8" fill="none"/><path d="M114.93 139.60H117.13M116.03 138.50V140.70" stroke="#3a5a7e" stroke-width="0.8" fill="none"/><path d="M117.85 139.60H120.05M118.95 138.50V140.70" stroke="#3a5a7e" stroke-width="0.8" fill="none"/><path d="M120.76 139.60H122.96M121.86 138.50V140.70" stroke="#3a5a7e" stroke-width="0.8" fill="none"/><path d="M123.68 139.60H125.88M124.78 138.50V140.70" stroke="#3a5a7e" stroke-width="0.8" fill="none"/><path d="M126.60 139.60H128.80M127.70 138.50V140.70" stroke="#3a5a7e" stroke-width="0.8" fill="none"/><path d="M28.50 107.00 L32.00 124.00 L36.00 146.00 L40.00 154.00 L44.00 166.00 L48.00 172.00 L60.00 177.00 L92.00 179.00 L96.00 181.00 L127.60 181.30" fill="none" stroke="#e8203c" stroke-width="0.75" stroke-linejoin="round"/><circle cx="28.50" cy="107.00" r="1.3" fill="#e8203c"/><circle cx="31.42" cy="121.17" r="1.3" fill="#e8203c"/><circle cx="34.34" cy="136.84" r="1.3" fill="#e8203c"/><circle cx="37.25" cy="148.51" r="1.3" fill="#e8203c"/><circle cx="40.17" cy="154.51" r="1.3" fill="#e8203c"/><circle cx="43.09" cy="163.26" r="1.3" fill="#e8203c"/><circle cx="46.01" cy="169.01" r="1.3" fill="#e8203c"/><circle cx="48.92" cy="172.38" r="1.3" fill="#e8203c"/><circle cx="51.84" cy="173.60" r="1.3" fill="#e8203c"/><circle cx="54.76" cy="174.82" r="1.3" fill="#e8203c"/><circle cx="57.68" cy="176.03" r="1.3" fill="#e8203c"/><circle cx="60.59" cy="177.04" r="1.3" fill="#e8203c"/><circle cx="63.51" cy="177.22" r="1.3" fill="#e8203c"/><circle cx="66.43" cy="177.40" r="1.3" fill="#e8203c"/><circle cx="69.35" cy="177.58" r="1.3" fill="#e8203c"/><circle cx="72.26" cy="177.77" r="1.3" fill="#e8203c"/><circle cx="75.18" cy="177.95" r="1.3" fill="#e8203c"/><circle cx="78.10" cy="178.13" r="1.3" fill="#e8203c"/><circle cx="81.02" cy="178.31" r="1.3" fill="#e8203c"/><circle cx="83.94" cy="178.50" r="1.3" fill="#e8203c"/><circle cx="86.85" cy="178.68" r="1.3" fill="#e8203c"/><circle cx="89.77" cy="178.86" r="1.3" fill="#e8203c"/><circle cx="92.69" cy="179.34" r="1.3" fill="#e8203c"/><circle cx="95.61" cy="180.80" r="1.3" fill="#e8203c"/><circle cx="98.52" cy="181.02" r="1.3" fill="#e8203c"/><circle cx="101.44" cy="181.05" r="1.3" fill="#e8203c"/><circle cx="104.36" cy="181.08" r="1.3" fill="#e8203c"/><circle cx="107.28" cy="181.11" r="1.3" fill="#e8203c"/><circle cx="110.19" cy="181.13" r="1.3" fill="#e8203c"/><circle cx="113.11" cy="181.16" r="1.3" fill="#e8203c"/><circle cx="116.03" cy="181.19" r="1.3" fill="#e8203c"/><circle cx="118.95" cy="181.22" r="1.3" fill="#e8203c"/><circle cx="121.86" cy="181.25" r="1.3" fill="#e8203c"/><circle cx="124.78" cy="181.27" r="1.3" fill="#e8203c"/><circle cx="127.70" cy="181.30" r="1.3" fill="#e8203c"/></g>
<g><rect x="162.2" y="106.8" width="102.00" height="75.00" fill="#fff" stroke="#c4c4c4" stroke-width="0.7"/><path d="M162.20 181.8v-1M162.20 106.8v1" stroke="#c4c4c4" stroke-width="0.6"/><text x="162.20" y="188.50" class="t m" font-size="5.3" textLength="2.56" lengthAdjust="spacingAndGlyphs">0</text><path d="M182.60 181.8v-1M182.60 106.8v1" stroke="#c4c4c4" stroke-width="0.6"/><text x="182.60" y="188.50" class="t m" font-size="5.3" textLength="7.67" lengthAdjust="spacingAndGlyphs">100</text><path d="M203.00 181.8v-1M203.00 106.8v1" stroke="#c4c4c4" stroke-width="0.6"/><text x="203.00" y="188.50" class="t m" font-size="5.3" textLength="7.67" lengthAdjust="spacingAndGlyphs">200</text><path d="M223.40 181.8v-1M223.40 106.8v1" stroke="#c4c4c4" stroke-width="0.6"/><text x="223.40" y="188.50" class="t m" font-size="5.3" textLength="7.67" lengthAdjust="spacingAndGlyphs">300</text><path d="M243.80 181.8v-1M243.80 106.8v1" stroke="#c4c4c4" stroke-width="0.6"/><text x="243.80" y="188.50" class="t m" font-size="5.3" textLength="7.67" lengthAdjust="spacingAndGlyphs">400</text><path d="M264.20 181.8v-1M264.20 106.8v1" stroke="#c4c4c4" stroke-width="0.6"/><text x="264.20" y="188.50" class="t m" font-size="5.3" textLength="7.67" lengthAdjust="spacingAndGlyphs">500</text><text x="160.20" y="108.90" class="t e" font-size="5.3" textLength="10.23" lengthAdjust="spacingAndGlyphs">4500</text><text x="160.20" y="128.70" class="t e" font-size="5.3" textLength="10.23" lengthAdjust="spacingAndGlyphs">4000</text><text x="160.20" y="150.30" class="t e" font-size="5.3" textLength="10.23" lengthAdjust="spacingAndGlyphs">3500</text><text x="160.20" y="176.30" class="t e" font-size="5.3" textLength="10.23" lengthAdjust="spacingAndGlyphs">3000</text><text x="213.20" y="105.40" class="t m" font-size="5.4" textLength="55.5" lengthAdjust="spacingAndGlyphs">CEC2017-F23 (Dim =30)</text><text x="213.20" y="195.20" class="t m" font-size="5.4" textLength="19" lengthAdjust="spacingAndGlyphs">Iteration</text><text x="148.70" y="144.30" class="t m" font-size="5.3" textLength="34.5" lengthAdjust="spacingAndGlyphs" transform="rotate(-90 148.70 144.30)">Average fitness</text><path d="M162.20 144.00 L165.00 162.00 L169.00 165.00 L175.00 172.00 L264.20 175.00" fill="none" stroke="#a0a0a0" stroke-width="0.75" stroke-linejoin="round"/><rect x="161.10" y="142.90" width="2.2" height="2.2" fill="#a0a0a0"/><rect x="164.10" y="161.05" width="2.2" height="2.2" fill="#a0a0a0"/><rect x="167.10" y="163.30" width="2.2" height="2.2" fill="#a0a0a0"/><rect x="170.10" y="166.47" width="2.2" height="2.2" fill="#a0a0a0"/><rect x="173.10" y="169.97" width="2.2" height="2.2" fill="#a0a0a0"/><rect x="176.10" y="170.97" width="2.2" height="2.2" fill="#a0a0a0"/><rect x="179.10" y="171.07" width="2.2" height="2.2" fill="#a0a0a0"/><rect x="182.10" y="171.18" width="2.2" height="2.2" fill="#a0a0a0"/><rect x="185.10" y="171.28" width="2.2" height="2.2" fill="#a0a0a0"/><rect x="188.10" y="171.38" width="2.2" height="2.2" fill="#a0a0a0"/><rect x="191.10" y="171.48" width="2.2" height="2.2" fill="#a0a0a0"/><rect x="194.10" y="171.58" width="2.2" height="2.2" fill="#a0a0a0"/><rect x="197.10" y="171.68" width="2.2" height="2.2" fill="#a0a0a0"/><rect x="200.10" y="171.78" width="2.2" height="2.2" fill="#a0a0a0"/><rect x="203.10" y="171.88" width="2.2" height="2.2" fill="#a0a0a0"/><rect x="206.10" y="171.98" width="2.2" height="2.2" fill="#a0a0a0"/><rect x="209.10" y="172.08" width="2.2" height="2.2" fill="#a0a0a0"/><rect x="212.10" y="172.18" width="2.2" height="2.2" fill="#a0a0a0"/><rect x="215.10" y="172.29" width="2.2" height="2.2" fill="#a0a0a0"/><rect x="218.10" y="172.39" width="2.2" height="2.2" fill="#a0a0a0"/><rect x="221.10" y="172.49" width="2.2" height="2.2" fill="#a0a0a0"/><rect x="224.10" y="172.59" width="2.2" height="2.2" fill="#a0a0a0"/><rect x="227.10" y="172.69" width="2.2" height="2.2" fill="#a0a0a0"/><rect x="230.10" y="172.79" width="2.2" height="2.2" fill="#a0a0a0"/><rect x="233.10" y="172.89" width="2.2" height="2.2" fill="#a0a0a0"/><rect x="236.10" y="172.99" width="2.2" height="2.2" fill="#a0a0a0"/><rect x="239.10" y="173.09" width="2.2" height="2.2" fill="#a0a0a0"/><rect x="242.10" y="173.19" width="2.2" height="2.2" fill="#a0a0a0"/><rect x="245.10" y="173.29" width="2.2" height="2.2" fill="#a0a0a0"/><rect x="248.10" y="173.40" width="2.2" height="2.2" fill="#a0a0a0"/><rect x="251.10" y="173.50" width="2.2" height="2.2" fill="#a0a0a0"/><rect x="254.10" y="173.60" width="2.2" height="2.2" fill="#a0a0a0"/><rect x="257.10" y="173.70" width="2.2" height="2.2" fill="#a0a0a0"/><rect x="260.10" y="173.80" width="2.2" height="2.2" fill="#a0a0a0"/><rect x="263.10" y="173.90" width="2.2" height="2.2" fill="#a0a0a0"/><path d="M162.20 116.00 L164.00 154.00 L167.00 164.00 L173.00 170.00 L264.20 173.00" fill="none" stroke="#1f9a48" stroke-width="0.75" stroke-linejoin="round"/><circle cx="162.20" cy="116.00" r="1.25" fill="#1f9a48"/><circle cx="165.20" cy="158.00" r="1.25" fill="#1f9a48"/><circle cx="168.20" cy="165.20" r="1.25" fill="#1f9a48"/><circle cx="171.20" cy="168.20" r="1.25" fill="#1f9a48"/><circle cx="174.20" cy="170.04" r="1.25" fill="#1f9a48"/><circle cx="177.20" cy="170.14" r="1.25" fill="#1f9a48"/><circle cx="180.20" cy="170.24" r="1.25" fill="#1f9a48"/><circle cx="183.20" cy="170.34" r="1.25" fill="#1f9a48"/><circle cx="186.20" cy="170.43" r="1.25" fill="#1f9a48"/><circle cx="189.20" cy="170.53" r="1.25" fill="#1f9a48"/><circle cx="192.20" cy="170.63" r="1.25" fill="#1f9a48"/><circle cx="195.20" cy="170.73" r="1.25" fill="#1f9a48"/><circle cx="198.20" cy="170.83" r="1.25" fill="#1f9a48"/><circle cx="201.20" cy="170.93" r="1.25" fill="#1f9a48"/><circle cx="204.20" cy="171.03" r="1.25" fill="#1f9a48"/><circle cx="207.20" cy="171.12" r="1.25" fill="#1f9a48"/><circle cx="210.20" cy="171.22" r="1.25" fill="#1f9a48"/><circle cx="213.20" cy="171.32" r="1.25" fill="#1f9a48"/><circle cx="216.20" cy="171.42" r="1.25" fill="#1f9a48"/><circle cx="219.20" cy="171.52" r="1.25" fill="#1f9a48"/><circle cx="222.20" cy="171.62" r="1.25" fill="#1f9a48"/><circle cx="225.20" cy="171.72" r="1.25" fill="#1f9a48"/><circle cx="228.20" cy="171.82" r="1.25" fill="#1f9a48"/><circle cx="231.20" cy="171.91" r="1.25" fill="#1f9a48"/><circle cx="234.20" cy="172.01" r="1.25" fill="#1f9a48"/><circle cx="237.20" cy="172.11" r="1.25" fill="#1f9a48"/><circle cx="240.20" cy="172.21" r="1.25" fill="#1f9a48"/><circle cx="243.20" cy="172.31" r="1.25" fill="#1f9a48"/><circle cx="246.20" cy="172.41" r="1.25" fill="#1f9a48"/><circle cx="249.20" cy="172.51" r="1.25" fill="#1f9a48"/><circle cx="252.20" cy="172.61" r="1.25" fill="#1f9a48"/><circle cx="255.20" cy="172.70" r="1.25" fill="#1f9a48"/><circle cx="258.20" cy="172.80" r="1.25" fill="#1f9a48"/><circle cx="261.20" cy="172.90" r="1.25" fill="#1f9a48"/><circle cx="264.20" cy="173.00" r="1.25" fill="#1f9a48"/><path d="M162.20 130.00 L165.00 156.00 L171.00 162.00 L177.00 163.00 L209.00 164.00 L219.00 168.00 L245.00 168.40 L247.00 169.20 L264.20 169.20" fill="none" stroke="#3a3ad6" stroke-width="0.75" stroke-linejoin="round"/><rect x="161.15" y="128.95" width="2.1" height="2.1" fill="#3a3ad6"/><rect x="164.15" y="155.15" width="2.1" height="2.1" fill="#3a3ad6"/><rect x="167.15" y="158.15" width="2.1" height="2.1" fill="#3a3ad6"/><rect x="170.15" y="160.98" width="2.1" height="2.1" fill="#3a3ad6"/><rect x="173.15" y="161.48" width="2.1" height="2.1" fill="#3a3ad6"/><rect x="176.15" y="161.96" width="2.1" height="2.1" fill="#3a3ad6"/><rect x="179.15" y="162.05" width="2.1" height="2.1" fill="#3a3ad6"/><rect x="182.15" y="162.14" width="2.1" height="2.1" fill="#3a3ad6"/><rect x="185.15" y="162.24" width="2.1" height="2.1" fill="#3a3ad6"/><rect x="188.15" y="162.33" width="2.1" height="2.1" fill="#3a3ad6"/><rect x="191.15" y="162.42" width="2.1" height="2.1" fill="#3a3ad6"/><rect x="194.15" y="162.52" width="2.1" height="2.1" fill="#3a3ad6"/><rect x="197.15" y="162.61" width="2.1" height="2.1" fill="#3a3ad6"/><rect x="200.15" y="162.71" width="2.1" height="2.1" fill="#3a3ad6"/><rect x="203.15" y="162.80" width="2.1" height="2.1" fill="#3a3ad6"/><rect x="206.15" y="162.89" width="2.1" height="2.1" fill="#3a3ad6"/><rect x="209.15" y="163.43" width="2.1" height="2.1" fill="#3a3ad6"/><rect x="212.15" y="164.63" width="2.1" height="2.1" fill="#3a3ad6"/><rect x="215.15" y="165.83" width="2.1" height="2.1" fill="#3a3ad6"/><rect x="218.15" y="166.95" width="2.1" height="2.1" fill="#3a3ad6"/><rect x="221.15" y="167.00" width="2.1" height="2.1" fill="#3a3ad6"/><rect x="224.15" y="167.05" width="2.1" height="2.1" fill="#3a3ad6"/><rect x="227.15" y="167.09" width="2.1" height="2.1" fill="#3a3ad6"/><rect x="230.15" y="167.14" width="2.1" height="2.1" fill="#3a3ad6"/><rect x="233.15" y="167.18" width="2.1" height="2.1" fill="#3a3ad6"/><rect x="236.15" y="167.23" width="2.1" height="2.1" fill="#3a3ad6"/><rect x="239.15" y="167.28" width="2.1" height="2.1" fill="#3a3ad6"/><rect x="242.15" y="167.32" width="2.1" height="2.1" fill="#3a3ad6"/><rect x="245.15" y="167.83" width="2.1" height="2.1" fill="#3a3ad6"/><rect x="248.15" y="168.15" width="2.1" height="2.1" fill="#3a3ad6"/><rect x="251.15" y="168.15" width="2.1" height="2.1" fill="#3a3ad6"/><rect x="254.15" y="168.15" width="2.1" height="2.1" fill="#3a3ad6"/><rect x="257.15" y="168.15" width="2.1" height="2.1" fill="#3a3ad6"/><rect x="260.15" y="168.15" width="2.1" height="2.1" fill="#3a3ad6"/><rect x="263.15" y="168.15" width="2.1" height="2.1" fill="#3a3ad6"/><path d="M162.20 132.00 L167.00 135.00 L175.00 136.00 L180.00 140.00 L199.00 140.40 L203.00 143.00 L209.00 143.00 L214.00 146.00 L264.20 146.00" fill="none" stroke="#4a9fd6" stroke-width="0.75" stroke-linejoin="round"/><path d="M161.20 131.00L163.20 133.00M161.20 133.00L163.20 131.00" stroke="#4a9fd6" stroke-width="0.8" fill="none"/><path d="M164.20 132.88L166.20 134.88M164.20 134.88L166.20 132.88" stroke="#4a9fd6" stroke-width="0.8" fill="none"/><path d="M167.20 134.15L169.20 136.15M167.20 136.15L169.20 134.15" stroke="#4a9fd6" stroke-width="0.8" fill="none"/><path d="M170.20 134.53L172.20 136.53M170.20 136.53L172.20 134.53" stroke="#4a9fd6" stroke-width="0.8" fill="none"/><path d="M173.20 134.90L175.20 136.90M173.20 136.90L175.20 134.90" stroke="#4a9fd6" stroke-width="0.8" fill="none"/><path d="M176.20 136.76L178.20 138.76M176.20 138.76L178.20 136.76" stroke="#4a9fd6" stroke-width="0.8" fill="none"/><path d="M179.20 139.00L181.20 141.00M179.20 141.00L181.20 139.00" stroke="#4a9fd6" stroke-width="0.8" fill="none"/><path d="M182.20 139.07L184.20 141.07M182.20 141.07L184.20 139.07" stroke="#4a9fd6" stroke-width="0.8" fill="none"/><path d="M185.20 139.13L187.20 141.13M185.20 141.13L187.20 139.13" stroke="#4a9fd6" stroke-width="0.8" fill="none"/><path d="M188.20 139.19L190.20 141.19M188.20 141.19L190.20 139.19" stroke="#4a9fd6" stroke-width="0.8" fill="none"/><path d="M191.20 139.26L193.20 141.26M191.20 141.26L193.20 139.26" stroke="#4a9fd6" stroke-width="0.8" fill="none"/><path d="M194.20 139.32L196.20 141.32M194.20 141.32L196.20 139.32" stroke="#4a9fd6" stroke-width="0.8" fill="none"/><path d="M197.20 139.38L199.20 141.38M197.20 141.38L199.20 139.38" stroke="#4a9fd6" stroke-width="0.8" fill="none"/><path d="M200.20 140.83L202.20 142.83M200.20 142.83L202.20 140.83" stroke="#4a9fd6" stroke-width="0.8" fill="none"/><path d="M203.20 142.00L205.20 144.00M203.20 144.00L205.20 142.00" stroke="#4a9fd6" stroke-width="0.8" fill="none"/><path d="M206.20 142.00L208.20 144.00M206.20 144.00L208.20 142.00" stroke="#4a9fd6" stroke-width="0.8" fill="none"/><path d="M209.20 142.72L211.20 144.72M209.20 144.72L211.20 142.72" stroke="#4a9fd6" stroke-width="0.8" fill="none"/><path d="M212.20 144.52L214.20 146.52M212.20 146.52L214.20 144.52" stroke="#4a9fd6" stroke-width="0.8" fill="none"/><path d="M215.20 145.00L217.20 147.00M215.20 147.00L217.20 145.00" stroke="#4a9fd6" stroke-width="0.8" fill="none"/><path d="M218.20 145.00L220.20 147.00M218.20 147.00L220.20 145.00" stroke="#4a9fd6" stroke-width="0.8" fill="none"/><path d="M221.20 145.00L223.20 147.00M221.20 147.00L223.20 145.00" stroke="#4a9fd6" stroke-width="0.8" fill="none"/><path d="M224.20 145.00L226.20 147.00M224.20 147.00L226.20 145.00" stroke="#4a9fd6" stroke-width="0.8" fill="none"/><path d="M227.20 145.00L229.20 147.00M227.20 147.00L229.20 145.00" stroke="#4a9fd6" stroke-width="0.8" fill="none"/><path d="M230.20 145.00L232.20 147.00M230.20 147.00L232.20 145.00" stroke="#4a9fd6" stroke-width="0.8" fill="none"/><path d="M233.20 145.00L235.20 147.00M233.20 147.00L235.20 145.00" stroke="#4a9fd6" stroke-width="0.8" fill="none"/><path d="M236.20 145.00L238.20 147.00M236.20 147.00L238.20 145.00" stroke="#4a9fd6" stroke-width="0.8" fill="none"/><path d="M239.20 145.00L241.20 147.00M239.20 147.00L241.20 145.00" stroke="#4a9fd6" stroke-width="0.8" fill="none"/><path d="M242.20 145.00L244.20 147.00M242.20 147.00L244.20 145.00" stroke="#4a9fd6" stroke-width="0.8" fill="none"/><path d="M245.20 145.00L247.20 147.00M245.20 147.00L247.20 145.00" stroke="#4a9fd6" stroke-width="0.8" fill="none"/><path d="M248.20 145.00L250.20 147.00M248.20 147.00L250.20 145.00" stroke="#4a9fd6" stroke-width="0.8" fill="none"/><path d="M251.20 145.00L253.20 147.00M251.20 147.00L253.20 145.00" stroke="#4a9fd6" stroke-width="0.8" fill="none"/><path d="M254.20 145.00L256.20 147.00M254.20 147.00L256.20 145.00" stroke="#4a9fd6" stroke-width="0.8" fill="none"/><path d="M257.20 145.00L259.20 147.00M257.20 147.00L259.20 145.00" stroke="#4a9fd6" stroke-width="0.8" fill="none"/><path d="M260.20 145.00L262.20 147.00M260.20 147.00L262.20 145.00" stroke="#4a9fd6" stroke-width="0.8" fill="none"/><path d="M263.20 145.00L265.20 147.00M263.20 147.00L265.20 145.00" stroke="#4a9fd6" stroke-width="0.8" fill="none"/><path d="M162.20 106.80 L163.00 124.00 L164.00 152.00 L166.00 164.00 L171.00 169.00 L181.00 171.00 L264.20 171.00" fill="none" stroke="#1ecc28" stroke-width="0.75" stroke-linejoin="round"/><circle cx="162.20" cy="106.80" r="1.3" fill="#1ecc28"/><circle cx="165.20" cy="159.20" r="1.3" fill="#1ecc28"/><circle cx="168.20" cy="166.20" r="1.3" fill="#1ecc28"/><circle cx="171.20" cy="169.04" r="1.3" fill="#1ecc28"/><circle cx="174.20" cy="169.64" r="1.3" fill="#1ecc28"/><circle cx="177.20" cy="170.24" r="1.3" fill="#1ecc28"/><circle cx="180.20" cy="170.84" r="1.3" fill="#1ecc28"/><circle cx="183.20" cy="171.00" r="1.3" fill="#1ecc28"/><circle cx="186.20" cy="171.00" r="1.3" fill="#1ecc28"/><circle cx="189.20" cy="171.00" r="1.3" fill="#1ecc28"/><circle cx="192.20" cy="171.00" r="1.3" fill="#1ecc28"/><circle cx="195.20" cy="171.00" r="1.3" fill="#1ecc28"/><circle cx="198.20" cy="171.00" r="1.3" fill="#1ecc28"/><circle cx="201.20" cy="171.00" r="1.3" fill="#1ecc28"/><circle cx="204.20" cy="171.00" r="1.3" fill="#1ecc28"/><circle cx="207.20" cy="171.00" r="1.3" fill="#1ecc28"/><circle cx="210.20" cy="171.00" r="1.3" fill="#1ecc28"/><circle cx="213.20" cy="171.00" r="1.3" fill="#1ecc28"/><circle cx="216.20" cy="171.00" r="1.3" fill="#1ecc28"/><circle cx="219.20" cy="171.00" r="1.3" fill="#1ecc28"/><circle cx="222.20" cy="171.00" r="1.3" fill="#1ecc28"/><circle cx="225.20" cy="171.00" r="1.3" fill="#1ecc28"/><circle cx="228.20" cy="171.00" r="1.3" fill="#1ecc28"/><circle cx="231.20" cy="171.00" r="1.3" fill="#1ecc28"/><circle cx="234.20" cy="171.00" r="1.3" fill="#1ecc28"/><circle cx="237.20" cy="171.00" r="1.3" fill="#1ecc28"/><circle cx="240.20" cy="171.00" r="1.3" fill="#1ecc28"/><circle cx="243.20" cy="171.00" r="1.3" fill="#1ecc28"/><circle cx="246.20" cy="171.00" r="1.3" fill="#1ecc28"/><circle cx="249.20" cy="171.00" r="1.3" fill="#1ecc28"/><circle cx="252.20" cy="171.00" r="1.3" fill="#1ecc28"/><circle cx="255.20" cy="171.00" r="1.3" fill="#1ecc28"/><circle cx="258.20" cy="171.00" r="1.3" fill="#1ecc28"/><circle cx="261.20" cy="171.00" r="1.3" fill="#1ecc28"/><circle cx="264.20" cy="171.00" r="1.3" fill="#1ecc28"/><path d="M162.20 144.00 L165.00 151.00 L264.20 151.00" fill="none" stroke="#5a3a98" stroke-width="0.75" stroke-linejoin="round"/><path d="M162.20 142.40L163.45 144.00L162.20 145.60L160.95 144.00Z" fill="#5a3a98"/><path d="M165.20 149.40L166.45 151.00L165.20 152.60L163.95 151.00Z" fill="#5a3a98"/><path d="M168.20 149.40L169.45 151.00L168.20 152.60L166.95 151.00Z" fill="#5a3a98"/><path d="M171.20 149.40L172.45 151.00L171.20 152.60L169.95 151.00Z" fill="#5a3a98"/><path d="M174.20 149.40L175.45 151.00L174.20 152.60L172.95 151.00Z" fill="#5a3a98"/><path d="M177.20 149.40L178.45 151.00L177.20 152.60L175.95 151.00Z" fill="#5a3a98"/><path d="M180.20 149.40L181.45 151.00L180.20 152.60L178.95 151.00Z" fill="#5a3a98"/><path d="M183.20 149.40L184.45 151.00L183.20 152.60L181.95 151.00Z" fill="#5a3a98"/><path d="M186.20 149.40L187.45 151.00L186.20 152.60L184.95 151.00Z" fill="#5a3a98"/><path d="M189.20 149.40L190.45 151.00L189.20 152.60L187.95 151.00Z" fill="#5a3a98"/><path d="M192.20 149.40L193.45 151.00L192.20 152.60L190.95 151.00Z" fill="#5a3a98"/><path d="M195.20 149.40L196.45 151.00L195.20 152.60L193.95 151.00Z" fill="#5a3a98"/><path d="M198.20 149.40L199.45 151.00L198.20 152.60L196.95 151.00Z" fill="#5a3a98"/><path d="M201.20 149.40L202.45 151.00L201.20 152.60L199.95 151.00Z" fill="#5a3a98"/><path d="M204.20 149.40L205.45 151.00L204.20 152.60L202.95 151.00Z" fill="#5a3a98"/><path d="M207.20 149.40L208.45 151.00L207.20 152.60L205.95 151.00Z" fill="#5a3a98"/><path d="M210.20 149.40L211.45 151.00L210.20 152.60L208.95 151.00Z" fill="#5a3a98"/><path d="M213.20 149.40L214.45 151.00L213.20 152.60L211.95 151.00Z" fill="#5a3a98"/><path d="M216.20 149.40L217.45 151.00L216.20 152.60L214.95 151.00Z" fill="#5a3a98"/><path d="M219.20 149.40L220.45 151.00L219.20 152.60L217.95 151.00Z" fill="#5a3a98"/><path d="M222.20 149.40L223.45 151.00L222.20 152.60L220.95 151.00Z" fill="#5a3a98"/><path d="M225.20 149.40L226.45 151.00L225.20 152.60L223.95 151.00Z" fill="#5a3a98"/><path d="M228.20 149.40L229.45 151.00L228.20 152.60L226.95 151.00Z" fill="#5a3a98"/><path d="M231.20 149.40L232.45 151.00L231.20 152.60L229.95 151.00Z" fill="#5a3a98"/><path d="M234.20 149.40L235.45 151.00L234.20 152.60L232.95 151.00Z" fill="#5a3a98"/><path d="M237.20 149.40L238.45 151.00L237.20 152.60L235.95 151.00Z" fill="#5a3a98"/><path d="M240.20 149.40L241.45 151.00L240.20 152.60L238.95 151.00Z" fill="#5a3a98"/><path d="M243.20 149.40L244.45 151.00L243.20 152.60L241.95 151.00Z" fill="#5a3a98"/><path d="M246.20 149.40L247.45 151.00L246.20 152.60L244.95 151.00Z" fill="#5a3a98"/><path d="M249.20 149.40L250.45 151.00L249.20 152.60L247.95 151.00Z" fill="#5a3a98"/><path d="M252.20 149.40L253.45 151.00L252.20 152.60L250.95 151.00Z" fill="#5a3a98"/><path d="M255.20 149.40L256.45 151.00L255.20 152.60L253.95 151.00Z" fill="#5a3a98"/><path d="M258.20 149.40L259.45 151.00L258.20 152.60L256.95 151.00Z" fill="#5a3a98"/><path d="M261.20 149.40L262.45 151.00L261.20 152.60L259.95 151.00Z" fill="#5a3a98"/><path d="M264.20 149.40L265.45 151.00L264.20 152.60L262.95 151.00Z" fill="#5a3a98"/><path d="M162.20 130.00 L165.00 160.00 L169.00 168.00 L177.00 173.00 L197.00 174.00 L264.20 174.00" fill="none" stroke="#3a5a7e" stroke-width="0.75" stroke-linejoin="round"/><path d="M161.10 130.00H163.30M162.20 128.90V131.10" stroke="#3a5a7e" stroke-width="0.8" fill="none"/><path d="M164.10 160.40H166.30M165.20 159.30V161.50" stroke="#3a5a7e" stroke-width="0.8" fill="none"/><path d="M167.10 166.40H169.30M168.20 165.30V167.50" stroke="#3a5a7e" stroke-width="0.8" fill="none"/><path d="M170.10 169.38H172.30M171.20 168.28V170.47" stroke="#3a5a7e" stroke-width="0.8" fill="none"/><path d="M173.10 171.25H175.30M174.20 170.15V172.35" stroke="#3a5a7e" stroke-width="0.8" fill="none"/><path d="M176.10 173.01H178.30M177.20 171.91V174.11" stroke="#3a5a7e" stroke-width="0.8" fill="none"/><path d="M179.10 173.16H181.30M180.20 172.06V174.26" stroke="#3a5a7e" stroke-width="0.8" fill="none"/><path d="M182.10 173.31H184.30M183.20 172.21V174.41" stroke="#3a5a7e" stroke-width="0.8" fill="none"/><path d="M185.10 173.46H187.30M186.20 172.36V174.56" stroke="#3a5a7e" stroke-width="0.8" fill="none"/><path d="M188.10 173.61H190.30M189.20 172.51V174.71" stroke="#3a5a7e" stroke-width="0.8" fill="none"/><path d="M191.10 173.76H193.30M192.20 172.66V174.86" stroke="#3a5a7e" stroke-width="0.8" fill="none"/><path d="M194.10 173.91H196.30M195.20 172.81V175.01" stroke="#3a5a7e" stroke-width="0.8" fill="none"/><path d="M197.10 174.00H199.30M198.20 172.90V175.10" stroke="#3a5a7e" stroke-width="0.8" fill="none"/><path d="M200.10 174.00H202.30M201.20 172.90V175.10" stroke="#3a5a7e" stroke-width="0.8" fill="none"/><path d="M203.10 174.00H205.30M204.20 172.90V175.10" stroke="#3a5a7e" stroke-width="0.8" fill="none"/><path d="M206.10 174.00H208.30M207.20 172.90V175.10" stroke="#3a5a7e" stroke-width="0.8" fill="none"/><path d="M209.10 174.00H211.30M210.20 172.90V175.10" stroke="#3a5a7e" stroke-width="0.8" fill="none"/><path d="M212.10 174.00H214.30M213.20 172.90V175.10" stroke="#3a5a7e" stroke-width="0.8" fill="none"/><path d="M215.10 174.00H217.30M216.20 172.90V175.10" stroke="#3a5a7e" stroke-width="0.8" fill="none"/><path d="M218.10 174.00H220.30M219.20 172.90V175.10" stroke="#3a5a7e" stroke-width="0.8" fill="none"/><path d="M221.10 174.00H223.30M222.20 172.90V175.10" stroke="#3a5a7e" stroke-width="0.8" fill="none"/><path d="M224.10 174.00H226.30M225.20 172.90V175.10" stroke="#3a5a7e" stroke-width="0.8" fill="none"/><path d="M227.10 174.00H229.30M228.20 172.90V175.10" stroke="#3a5a7e" stroke-width="0.8" fill="none"/><path d="M230.10 174.00H232.30M231.20 172.90V175.10" stroke="#3a5a7e" stroke-width="0.8" fill="none"/><path d="M233.10 174.00H235.30M234.20 172.90V175.10" stroke="#3a5a7e" stroke-width="0.8" fill="none"/><path d="M236.10 174.00H238.30M237.20 172.90V175.10" stroke="#3a5a7e" stroke-width="0.8" fill="none"/><path d="M239.10 174.00H241.30M240.20 172.90V175.10" stroke="#3a5a7e" stroke-width="0.8" fill="none"/><path d="M242.10 174.00H244.30M243.20 172.90V175.10" stroke="#3a5a7e" stroke-width="0.8" fill="none"/><path d="M245.10 174.00H247.30M246.20 172.90V175.10" stroke="#3a5a7e" stroke-width="0.8" fill="none"/><path d="M248.10 174.00H250.30M249.20 172.90V175.10" stroke="#3a5a7e" stroke-width="0.8" fill="none"/><path d="M251.10 174.00H253.30M252.20 172.90V175.10" stroke="#3a5a7e" stroke-width="0.8" fill="none"/><path d="M254.10 174.00H256.30M255.20 172.90V175.10" stroke="#3a5a7e" stroke-width="0.8" fill="none"/><path d="M257.10 174.00H259.30M258.20 172.90V175.10" stroke="#3a5a7e" stroke-width="0.8" fill="none"/><path d="M260.10 174.00H262.30M261.20 172.90V175.10" stroke="#3a5a7e" stroke-width="0.8" fill="none"/><path d="M263.10 174.00H265.30M264.20 172.90V175.10" stroke="#3a5a7e" stroke-width="0.8" fill="none"/><path d="M162.20 136.00 L164.60 162.00 L168.00 174.00 L173.00 176.00 L179.00 180.00 L264.20 181.60" fill="none" stroke="#e8203c" stroke-width="0.75" stroke-linejoin="round"/><circle cx="162.20" cy="136.00" r="1.3" fill="#e8203c"/><circle cx="165.20" cy="164.12" r="1.3" fill="#e8203c"/><circle cx="168.20" cy="174.08" r="1.3" fill="#e8203c"/><circle cx="171.20" cy="175.28" r="1.3" fill="#e8203c"/><circle cx="174.20" cy="176.80" r="1.3" fill="#e8203c"/><circle cx="177.20" cy="178.80" r="1.3" fill="#e8203c"/><circle cx="180.20" cy="180.02" r="1.3" fill="#e8203c"/><circle cx="183.20" cy="180.08" r="1.3" fill="#e8203c"/><circle cx="186.20" cy="180.14" r="1.3" fill="#e8203c"/><circle cx="189.20" cy="180.19" r="1.3" fill="#e8203c"/><circle cx="192.20" cy="180.25" r="1.3" fill="#e8203c"/><circle cx="195.20" cy="180.30" r="1.3" fill="#e8203c"/><circle cx="198.20" cy="180.36" r="1.3" fill="#e8203c"/><circle cx="201.20" cy="180.42" r="1.3" fill="#e8203c"/><circle cx="204.20" cy="180.47" r="1.3" fill="#e8203c"/><circle cx="207.20" cy="180.53" r="1.3" fill="#e8203c"/><circle cx="210.20" cy="180.59" r="1.3" fill="#e8203c"/><circle cx="213.20" cy="180.64" r="1.3" fill="#e8203c"/><circle cx="216.20" cy="180.70" r="1.3" fill="#e8203c"/><circle cx="219.20" cy="180.75" r="1.3" fill="#e8203c"/><circle cx="222.20" cy="180.81" r="1.3" fill="#e8203c"/><circle cx="225.20" cy="180.87" r="1.3" fill="#e8203c"/><circle cx="228.20" cy="180.92" r="1.3" fill="#e8203c"/><circle cx="231.20" cy="180.98" r="1.3" fill="#e8203c"/><circle cx="234.20" cy="181.04" r="1.3" fill="#e8203c"/><circle cx="237.20" cy="181.09" r="1.3" fill="#e8203c"/><circle cx="240.20" cy="181.15" r="1.3" fill="#e8203c"/><circle cx="243.20" cy="181.21" r="1.3" fill="#e8203c"/><circle cx="246.20" cy="181.26" r="1.3" fill="#e8203c"/><circle cx="249.20" cy="181.32" r="1.3" fill="#e8203c"/><circle cx="252.20" cy="181.37" r="1.3" fill="#e8203c"/><circle cx="255.20" cy="181.43" r="1.3" fill="#e8203c"/><circle cx="258.20" cy="181.49" r="1.3" fill="#e8203c"/><circle cx="261.20" cy="181.54" r="1.3" fill="#e8203c"/><circle cx="264.20" cy="181.60" r="1.3" fill="#e8203c"/></g>
<g><rect x="298.5" y="106.8" width="102.00" height="74.70" fill="#fff" stroke="#c4c4c4" stroke-width="0.7"/><path d="M298.50 181.5v-1M298.50 106.8v1" stroke="#c4c4c4" stroke-width="0.6"/><text x="298.50" y="188.20" class="t m" font-size="5.3" textLength="2.56" lengthAdjust="spacingAndGlyphs">0</text><path d="M318.90 181.5v-1M318.90 106.8v1" stroke="#c4c4c4" stroke-width="0.6"/><text x="318.90" y="188.20" class="t m" font-size="5.3" textLength="7.67" lengthAdjust="spacingAndGlyphs">100</text><path d="M339.30 181.5v-1M339.30 106.8v1" stroke="#c4c4c4" stroke-width="0.6"/><text x="339.30" y="188.20" class="t m" font-size="5.3" textLength="7.67" lengthAdjust="spacingAndGlyphs">200</text><path d="M359.70 181.5v-1M359.70 106.8v1" stroke="#c4c4c4" stroke-width="0.6"/><text x="359.70" y="188.20" class="t m" font-size="5.3" textLength="7.67" lengthAdjust="spacingAndGlyphs">300</text><path d="M380.10 181.5v-1M380.10 106.8v1" stroke="#c4c4c4" stroke-width="0.6"/><text x="380.10" y="188.20" class="t m" font-size="5.3" textLength="7.67" lengthAdjust="spacingAndGlyphs">400</text><path d="M400.50 181.5v-1M400.50 106.8v1" stroke="#c4c4c4" stroke-width="0.6"/><text x="400.50" y="188.20" class="t m" font-size="5.3" textLength="7.67" lengthAdjust="spacingAndGlyphs">500</text><text x="296.50" y="114.70" class="t e" font-size="5.3" textLength="10.23" lengthAdjust="spacingAndGlyphs">4200</text><text x="296.50" y="126.20" class="t e" font-size="5.3" textLength="10.23" lengthAdjust="spacingAndGlyphs">4000</text><text x="296.50" y="137.60" class="t e" font-size="5.3" textLength="10.23" lengthAdjust="spacingAndGlyphs">3800</text><text x="296.50" y="149.80" class="t e" font-size="5.3" textLength="10.23" lengthAdjust="spacingAndGlyphs">3600</text><text x="296.50" y="163.10" class="t e" font-size="5.3" textLength="10.23" lengthAdjust="spacingAndGlyphs">3400</text><text x="296.50" y="176.30" class="t e" font-size="5.3" textLength="10.23" lengthAdjust="spacingAndGlyphs">3200</text><text x="349.50" y="105.40" class="t m" font-size="5.4" textLength="55.5" lengthAdjust="spacingAndGlyphs">CEC2017-F24 (Dim =30)</text><text x="349.50" y="194.90" class="t m" font-size="5.4" textLength="19" lengthAdjust="spacingAndGlyphs">Iteration</text><text x="283.90" y="144.15" class="t m" font-size="5.3" textLength="34.5" lengthAdjust="spacingAndGlyphs" transform="rotate(-90 283.90 144.15)">Average fitness</text><path d="M298.50 124.00 L302.00 158.00 L307.00 164.00 L313.00 167.00 L323.00 169.00 L343.00 170.00 L400.40 170.40" fill="none" stroke="#a0a0a0" stroke-width="0.75" stroke-linejoin="round"/><rect x="297.40" y="122.90" width="2.2" height="2.2" fill="#a0a0a0"/><rect x="300.40" y="152.04" width="2.2" height="2.2" fill="#a0a0a0"/><rect x="303.40" y="159.90" width="2.2" height="2.2" fill="#a0a0a0"/><rect x="306.40" y="163.15" width="2.2" height="2.2" fill="#a0a0a0"/><rect x="309.40" y="164.65" width="2.2" height="2.2" fill="#a0a0a0"/><rect x="312.40" y="166.00" width="2.2" height="2.2" fill="#a0a0a0"/><rect x="315.40" y="166.60" width="2.2" height="2.2" fill="#a0a0a0"/><rect x="318.40" y="167.20" width="2.2" height="2.2" fill="#a0a0a0"/><rect x="321.40" y="167.80" width="2.2" height="2.2" fill="#a0a0a0"/><rect x="324.40" y="168.03" width="2.2" height="2.2" fill="#a0a0a0"/><rect x="327.40" y="168.18" width="2.2" height="2.2" fill="#a0a0a0"/><rect x="330.40" y="168.33" width="2.2" height="2.2" fill="#a0a0a0"/><rect x="333.40" y="168.47" width="2.2" height="2.2" fill="#a0a0a0"/><rect x="336.40" y="168.62" width="2.2" height="2.2" fill="#a0a0a0"/><rect x="339.40" y="168.78" width="2.2" height="2.2" fill="#a0a0a0"/><rect x="342.40" y="168.90" width="2.2" height="2.2" fill="#a0a0a0"/><rect x="345.40" y="168.92" width="2.2" height="2.2" fill="#a0a0a0"/><rect x="348.40" y="168.95" width="2.2" height="2.2" fill="#a0a0a0"/><rect x="351.40" y="168.97" width="2.2" height="2.2" fill="#a0a0a0"/><rect x="354.40" y="168.99" width="2.2" height="2.2" fill="#a0a0a0"/><rect x="357.40" y="169.01" width="2.2" height="2.2" fill="#a0a0a0"/><rect x="360.40" y="169.03" width="2.2" height="2.2" fill="#a0a0a0"/><rect x="363.40" y="169.05" width="2.2" height="2.2" fill="#a0a0a0"/><rect x="366.40" y="169.07" width="2.2" height="2.2" fill="#a0a0a0"/><rect x="369.40" y="169.09" width="2.2" height="2.2" fill="#a0a0a0"/><rect x="372.40" y="169.11" width="2.2" height="2.2" fill="#a0a0a0"/><rect x="375.40" y="169.13" width="2.2" height="2.2" fill="#a0a0a0"/><rect x="378.40" y="169.15" width="2.2" height="2.2" fill="#a0a0a0"/><rect x="381.40" y="169.18" width="2.2" height="2.2" fill="#a0a0a0"/><rect x="384.40" y="169.20" width="2.2" height="2.2" fill="#a0a0a0"/><rect x="387.40" y="169.22" width="2.2" height="2.2" fill="#a0a0a0"/><rect x="390.40" y="169.24" width="2.2" height="2.2" fill="#a0a0a0"/><rect x="393.40" y="169.26" width="2.2" height="2.2" fill="#a0a0a0"/><rect x="396.40" y="169.28" width="2.2" height="2.2" fill="#a0a0a0"/><rect x="399.40" y="169.30" width="2.2" height="2.2" fill="#a0a0a0"/><path d="M298.50 110.00 L301.00 148.00 L304.00 164.00 L308.00 170.00 L311.00 174.40 L337.00 175.00 L340.00 180.00 L400.40 180.40" fill="none" stroke="#1f9a48" stroke-width="0.75" stroke-linejoin="round"/><circle cx="298.50" cy="110.00" r="1.25" fill="#1f9a48"/><circle cx="301.50" cy="150.67" r="1.25" fill="#1f9a48"/><circle cx="304.50" cy="164.75" r="1.25" fill="#1f9a48"/><circle cx="307.50" cy="169.25" r="1.25" fill="#1f9a48"/><circle cx="310.50" cy="173.67" r="1.25" fill="#1f9a48"/><circle cx="313.50" cy="174.46" r="1.25" fill="#1f9a48"/><circle cx="316.50" cy="174.53" r="1.25" fill="#1f9a48"/><circle cx="319.50" cy="174.60" r="1.25" fill="#1f9a48"/><circle cx="322.50" cy="174.67" r="1.25" fill="#1f9a48"/><circle cx="325.50" cy="174.73" r="1.25" fill="#1f9a48"/><circle cx="328.50" cy="174.80" r="1.25" fill="#1f9a48"/><circle cx="331.50" cy="174.87" r="1.25" fill="#1f9a48"/><circle cx="334.50" cy="174.94" r="1.25" fill="#1f9a48"/><circle cx="337.50" cy="175.83" r="1.25" fill="#1f9a48"/><circle cx="340.50" cy="180.00" r="1.25" fill="#1f9a48"/><circle cx="343.50" cy="180.02" r="1.25" fill="#1f9a48"/><circle cx="346.50" cy="180.04" r="1.25" fill="#1f9a48"/><circle cx="349.50" cy="180.06" r="1.25" fill="#1f9a48"/><circle cx="352.50" cy="180.08" r="1.25" fill="#1f9a48"/><circle cx="355.50" cy="180.10" r="1.25" fill="#1f9a48"/><circle cx="358.50" cy="180.12" r="1.25" fill="#1f9a48"/><circle cx="361.50" cy="180.14" r="1.25" fill="#1f9a48"/><circle cx="364.50" cy="180.16" r="1.25" fill="#1f9a48"/><circle cx="367.50" cy="180.18" r="1.25" fill="#1f9a48"/><circle cx="370.50" cy="180.20" r="1.25" fill="#1f9a48"/><circle cx="373.50" cy="180.22" r="1.25" fill="#1f9a48"/><circle cx="376.50" cy="180.24" r="1.25" fill="#1f9a48"/><circle cx="379.50" cy="180.26" r="1.25" fill="#1f9a48"/><circle cx="382.50" cy="180.28" r="1.25" fill="#1f9a48"/><circle cx="385.50" cy="180.30" r="1.25" fill="#1f9a48"/><circle cx="388.50" cy="180.32" r="1.25" fill="#1f9a48"/><circle cx="391.50" cy="180.34" r="1.25" fill="#1f9a48"/><circle cx="394.50" cy="180.36" r="1.25" fill="#1f9a48"/><circle cx="397.50" cy="180.38" r="1.25" fill="#1f9a48"/><circle cx="400.50" cy="180.40" r="1.25" fill="#1f9a48"/><path d="M298.50 118.00 L302.00 152.00 L305.00 158.00 L307.00 160.00 L313.00 160.00 L316.00 169.00 L353.00 170.00 L357.00 173.00 L400.40 173.00" fill="none" stroke="#3a3ad6" stroke-width="0.75" stroke-linejoin="round"/><rect x="297.45" y="116.95" width="2.1" height="2.1" fill="#3a3ad6"/><rect x="300.45" y="146.09" width="2.1" height="2.1" fill="#3a3ad6"/><rect x="303.45" y="155.95" width="2.1" height="2.1" fill="#3a3ad6"/><rect x="306.45" y="158.95" width="2.1" height="2.1" fill="#3a3ad6"/><rect x="309.45" y="158.95" width="2.1" height="2.1" fill="#3a3ad6"/><rect x="312.45" y="160.45" width="2.1" height="2.1" fill="#3a3ad6"/><rect x="315.45" y="167.96" width="2.1" height="2.1" fill="#3a3ad6"/><rect x="318.45" y="168.04" width="2.1" height="2.1" fill="#3a3ad6"/><rect x="321.45" y="168.13" width="2.1" height="2.1" fill="#3a3ad6"/><rect x="324.45" y="168.21" width="2.1" height="2.1" fill="#3a3ad6"/><rect x="327.45" y="168.29" width="2.1" height="2.1" fill="#3a3ad6"/><rect x="330.45" y="168.37" width="2.1" height="2.1" fill="#3a3ad6"/><rect x="333.45" y="168.45" width="2.1" height="2.1" fill="#3a3ad6"/><rect x="336.45" y="168.53" width="2.1" height="2.1" fill="#3a3ad6"/><rect x="339.45" y="168.61" width="2.1" height="2.1" fill="#3a3ad6"/><rect x="342.45" y="168.69" width="2.1" height="2.1" fill="#3a3ad6"/><rect x="345.45" y="168.77" width="2.1" height="2.1" fill="#3a3ad6"/><rect x="348.45" y="168.86" width="2.1" height="2.1" fill="#3a3ad6"/><rect x="351.45" y="168.94" width="2.1" height="2.1" fill="#3a3ad6"/><rect x="354.45" y="170.82" width="2.1" height="2.1" fill="#3a3ad6"/><rect x="357.45" y="171.95" width="2.1" height="2.1" fill="#3a3ad6"/><rect x="360.45" y="171.95" width="2.1" height="2.1" fill="#3a3ad6"/><rect x="363.45" y="171.95" width="2.1" height="2.1" fill="#3a3ad6"/><rect x="366.45" y="171.95" width="2.1" height="2.1" fill="#3a3ad6"/><rect x="369.45" y="171.95" width="2.1" height="2.1" fill="#3a3ad6"/><rect x="372.45" y="171.95" width="2.1" height="2.1" fill="#3a3ad6"/><rect x="375.45" y="171.95" width="2.1" height="2.1" fill="#3a3ad6"/><rect x="378.45" y="171.95" width="2.1" height="2.1" fill="#3a3ad6"/><rect x="381.45" y="171.95" width="2.1" height="2.1" fill="#3a3ad6"/><rect x="384.45" y="171.95" width="2.1" height="2.1" fill="#3a3ad6"/><rect x="387.45" y="171.95" width="2.1" height="2.1" fill="#3a3ad6"/><rect x="390.45" y="171.95" width="2.1" height="2.1" fill="#3a3ad6"/><rect x="393.45" y="171.95" width="2.1" height="2.1" fill="#3a3ad6"/><rect x="396.45" y="171.95" width="2.1" height="2.1" fill="#3a3ad6"/><rect x="399.45" y="171.95" width="2.1" height="2.1" fill="#3a3ad6"/><path d="M298.50 134.00 L301.00 134.00 L307.00 136.00 L367.00 136.00 L370.00 138.40 L400.40 138.40" fill="none" stroke="#4a9fd6" stroke-width="0.75" stroke-linejoin="round"/><path d="M297.50 133.00L299.50 135.00M297.50 135.00L299.50 133.00" stroke="#4a9fd6" stroke-width="0.8" fill="none"/><path d="M300.50 133.17L302.50 135.17M300.50 135.17L302.50 133.17" stroke="#4a9fd6" stroke-width="0.8" fill="none"/><path d="M303.50 134.17L305.50 136.17M303.50 136.17L305.50 134.17" stroke="#4a9fd6" stroke-width="0.8" fill="none"/><path d="M306.50 135.00L308.50 137.00M306.50 137.00L308.50 135.00" stroke="#4a9fd6" stroke-width="0.8" fill="none"/><path d="M309.50 135.00L311.50 137.00M309.50 137.00L311.50 135.00" stroke="#4a9fd6" stroke-width="0.8" fill="none"/><path d="M312.50 135.00L314.50 137.00M312.50 137.00L314.50 135.00" stroke="#4a9fd6" stroke-width="0.8" fill="none"/><path d="M315.50 135.00L317.50 137.00M315.50 137.00L317.50 135.00" stroke="#4a9fd6" stroke-width="0.8" fill="none"/><path d="M318.50 135.00L320.50 137.00M318.50 137.00L320.50 135.00" stroke="#4a9fd6" stroke-width="0.8" fill="none"/><path d="M321.50 135.00L323.50 137.00M321.50 137.00L323.50 135.00" stroke="#4a9fd6" stroke-width="0.8" fill="none"/><path d="M324.50 135.00L326.50 137.00M324.50 137.00L326.50 135.00" stroke="#4a9fd6" stroke-width="0.8" fill="none"/><path d="M327.50 135.00L329.50 137.00M327.50 137.00L329.50 135.00" stroke="#4a9fd6" stroke-width="0.8" fill="none"/><path d="M330.50 135.00L332.50 137.00M330.50 137.00L332.50 135.00" stroke="#4a9fd6" stroke-width="0.8" fill="none"/><path d="M333.50 135.00L335.50 137.00M333.50 137.00L335.50 135.00" stroke="#4a9fd6" stroke-width="0.8" fill="none"/><path d="M336.50 135.00L338.50 137.00M336.50 137.00L338.50 135.00" stroke="#4a9fd6" stroke-width="0.8" fill="none"/><path d="M339.50 135.00L341.50 137.00M339.50 137.00L341.50 135.00" stroke="#4a9fd6" stroke-width="0.8" fill="none"/><path d="M342.50 135.00L344.50 137.00M342.50 137.00L344.50 135.00" stroke="#4a9fd6" stroke-width="0.8" fill="none"/><path d="M345.50 135.00L347.50 137.00M345.50 137.00L347.50 135.00" stroke="#4a9fd6" stroke-width="0.8" fill="none"/><path d="M348.50 135.00L350.50 137.00M348.50 137.00L350.50 135.00" stroke="#4a9fd6" stroke-width="0.8" fill="none"/><path d="M351.50 135.00L353.50 137.00M351.50 137.00L353.50 135.00" stroke="#4a9fd6" stroke-width="0.8" fill="none"/><path d="M354.50 135.00L356.50 137.00M354.50 137.00L356.50 135.00" stroke="#4a9fd6" stroke-width="0.8" fill="none"/><path d="M357.50 135.00L359.50 137.00M357.50 137.00L359.50 135.00" stroke="#4a9fd6" stroke-width="0.8" fill="none"/><path d="M360.50 135.00L362.50 137.00M360.50 137.00L362.50 135.00" stroke="#4a9fd6" stroke-width="0.8" fill="none"/><path d="M363.50 135.00L365.50 137.00M363.50 137.00L365.50 135.00" stroke="#4a9fd6" stroke-width="0.8" fill="none"/><path d="M366.50 135.40L368.50 137.40M366.50 137.40L368.50 135.40" stroke="#4a9fd6" stroke-width="0.8" fill="none"/><path d="M369.50 137.40L371.50 139.40M369.50 139.40L371.50 137.40" stroke="#4a9fd6" stroke-width="0.8" fill="none"/><path d="M372.50 137.40L374.50 139.40M372.50 139.40L374.50 137.40" stroke="#4a9fd6" stroke-width="0.8" fill="none"/><path d="M375.50 137.40L377.50 139.40M375.50 139.40L377.50 137.40" stroke="#4a9fd6" stroke-width="0.8" fill="none"/><path d="M378.50 137.40L380.50 139.40M378.50 139.40L380.50 137.40" stroke="#4a9fd6" stroke-width="0.8" fill="none"/><path d="M381.50 137.40L383.50 139.40M381.50 139.40L383.50 137.40" stroke="#4a9fd6" stroke-width="0.8" fill="none"/><path d="M384.50 137.40L386.50 139.40M384.50 139.40L386.50 137.40" stroke="#4a9fd6" stroke-width="0.8" fill="none"/><path d="M387.50 137.40L389.50 139.40M387.50 139.40L389.50 137.40" stroke="#4a9fd6" stroke-width="0.8" fill="none"/><path d="M390.50 137.40L392.50 139.40M390.50 139.40L392.50 137.40" stroke="#4a9fd6" stroke-width="0.8" fill="none"/><path d="M393.50 137.40L395.50 139.40M393.50 139.40L395.50 137.40" stroke="#4a9fd6" stroke-width="0.8" fill="none"/><path d="M396.50 137.40L398.50 139.40M396.50 139.40L398.50 137.40" stroke="#4a9fd6" stroke-width="0.8" fill="none"/><path d="M399.50 137.40L401.50 139.40M399.50 139.40L401.50 137.40" stroke="#4a9fd6" stroke-width="0.8" fill="none"/><path d="M298.50 106.80 L299.40 124.00 L301.00 150.00 L304.00 160.00 L309.00 163.00 L321.00 164.40 L333.00 165.00 L400.40 166.00" fill="none" stroke="#1ecc28" stroke-width="0.75" stroke-linejoin="round"/><circle cx="298.50" cy="106.80" r="1.3" fill="#1ecc28"/><circle cx="301.50" cy="151.67" r="1.3" fill="#1ecc28"/><circle cx="304.50" cy="160.30" r="1.3" fill="#1ecc28"/><circle cx="307.50" cy="162.10" r="1.3" fill="#1ecc28"/><circle cx="310.50" cy="163.18" r="1.3" fill="#1ecc28"/><circle cx="313.50" cy="163.53" r="1.3" fill="#1ecc28"/><circle cx="316.50" cy="163.88" r="1.3" fill="#1ecc28"/><circle cx="319.50" cy="164.22" r="1.3" fill="#1ecc28"/><circle cx="322.50" cy="164.47" r="1.3" fill="#1ecc28"/><circle cx="325.50" cy="164.62" r="1.3" fill="#1ecc28"/><circle cx="328.50" cy="164.78" r="1.3" fill="#1ecc28"/><circle cx="331.50" cy="164.93" r="1.3" fill="#1ecc28"/><circle cx="334.50" cy="165.02" r="1.3" fill="#1ecc28"/><circle cx="337.50" cy="165.07" r="1.3" fill="#1ecc28"/><circle cx="340.50" cy="165.11" r="1.3" fill="#1ecc28"/><circle cx="343.50" cy="165.16" r="1.3" fill="#1ecc28"/><circle cx="346.50" cy="165.20" r="1.3" fill="#1ecc28"/><circle cx="349.50" cy="165.24" r="1.3" fill="#1ecc28"/><circle cx="352.50" cy="165.29" r="1.3" fill="#1ecc28"/><circle cx="355.50" cy="165.33" r="1.3" fill="#1ecc28"/><circle cx="358.50" cy="165.38" r="1.3" fill="#1ecc28"/><circle cx="361.50" cy="165.42" r="1.3" fill="#1ecc28"/><circle cx="364.50" cy="165.47" r="1.3" fill="#1ecc28"/><circle cx="367.50" cy="165.51" r="1.3" fill="#1ecc28"/><circle cx="370.50" cy="165.56" r="1.3" fill="#1ecc28"/><circle cx="373.50" cy="165.60" r="1.3" fill="#1ecc28"/><circle cx="376.50" cy="165.65" r="1.3" fill="#1ecc28"/><circle cx="379.50" cy="165.69" r="1.3" fill="#1ecc28"/><circle cx="382.50" cy="165.73" r="1.3" fill="#1ecc28"/><circle cx="385.50" cy="165.78" r="1.3" fill="#1ecc28"/><circle cx="388.50" cy="165.82" r="1.3" fill="#1ecc28"/><circle cx="391.50" cy="165.87" r="1.3" fill="#1ecc28"/><circle cx="394.50" cy="165.91" r="1.3" fill="#1ecc28"/><circle cx="397.50" cy="165.96" r="1.3" fill="#1ecc28"/><circle cx="400.50" cy="166.00" r="1.3" fill="#1ecc28"/><path d="M298.50 116.00 L301.00 128.00 L400.40 128.00" fill="none" stroke="#5a3a98" stroke-width="0.75" stroke-linejoin="round"/><path d="M298.50 114.40L299.75 116.00L298.50 117.60L297.25 116.00Z" fill="#5a3a98"/><path d="M301.50 126.40L302.75 128.00L301.50 129.60L300.25 128.00Z" fill="#5a3a98"/><path d="M304.50 126.40L305.75 128.00L304.50 129.60L303.25 128.00Z" fill="#5a3a98"/><path d="M307.50 126.40L308.75 128.00L307.50 129.60L306.25 128.00Z" fill="#5a3a98"/><path d="M310.50 126.40L311.75 128.00L310.50 129.60L309.25 128.00Z" fill="#5a3a98"/><path d="M313.50 126.40L314.75 128.00L313.50 129.60L312.25 128.00Z" fill="#5a3a98"/><path d="M316.50 126.40L317.75 128.00L316.50 129.60L315.25 128.00Z" fill="#5a3a98"/><path d="M319.50 126.40L320.75 128.00L319.50 129.60L318.25 128.00Z" fill="#5a3a98"/><path d="M322.50 126.40L323.75 128.00L322.50 129.60L321.25 128.00Z" fill="#5a3a98"/><path d="M325.50 126.40L326.75 128.00L325.50 129.60L324.25 128.00Z" fill="#5a3a98"/><path d="M328.50 126.40L329.75 128.00L328.50 129.60L327.25 128.00Z" fill="#5a3a98"/><path d="M331.50 126.40L332.75 128.00L331.50 129.60L330.25 128.00Z" fill="#5a3a98"/><path d="M334.50 126.40L335.75 128.00L334.50 129.60L333.25 128.00Z" fill="#5a3a98"/><path d="M337.50 126.40L338.75 128.00L337.50 129.60L336.25 128.00Z" fill="#5a3a98"/><path d="M340.50 126.40L341.75 128.00L340.50 129.60L339.25 128.00Z" fill="#5a3a98"/><path d="M343.50 126.40L344.75 128.00L343.50 129.60L342.25 128.00Z" fill="#5a3a98"/><path d="M346.50 126.40L347.75 128.00L346.50 129.60L345.25 128.00Z" fill="#5a3a98"/><path d="M349.50 126.40L350.75 128.00L349.50 129.60L348.25 128.00Z" fill="#5a3a98"/><path d="M352.50 126.40L353.75 128.00L352.50 129.60L351.25 128.00Z" fill="#5a3a98"/><path d="M355.50 126.40L356.75 128.00L355.50 129.60L354.25 128.00Z" fill="#5a3a98"/><path d="M358.50 126.40L359.75 128.00L358.50 129.60L357.25 128.00Z" fill="#5a3a98"/><path d="M361.50 126.40L362.75 128.00L361.50 129.60L360.25 128.00Z" fill="#5a3a98"/><path d="M364.50 126.40L365.75 128.00L364.50 129.60L363.25 128.00Z" fill="#5a3a98"/><path d="M367.50 126.40L368.75 128.00L367.50 129.60L366.25 128.00Z" fill="#5a3a98"/><path d="M370.50 126.40L371.75 128.00L370.50 129.60L369.25 128.00Z" fill="#5a3a98"/><path d="M373.50 126.40L374.75 128.00L373.50 129.60L372.25 128.00Z" fill="#5a3a98"/><path d="M376.50 126.40L377.75 128.00L376.50 129.60L375.25 128.00Z" fill="#5a3a98"/><path d="M379.50 126.40L380.75 128.00L379.50 129.60L378.25 128.00Z" fill="#5a3a98"/><path d="M382.50 126.40L383.75 128.00L382.50 129.60L381.25 128.00Z" fill="#5a3a98"/><path d="M385.50 126.40L386.75 128.00L385.50 129.60L384.25 128.00Z" fill="#5a3a98"/><path d="M388.50 126.40L389.75 128.00L388.50 129.60L387.25 128.00Z" fill="#5a3a98"/><path d="M391.50 126.40L392.75 128.00L391.50 129.60L390.25 128.00Z" fill="#5a3a98"/><path d="M394.50 126.40L395.75 128.00L394.50 129.60L393.25 128.00Z" fill="#5a3a98"/><path d="M397.50 126.40L398.75 128.00L397.50 129.60L396.25 128.00Z" fill="#5a3a98"/><path d="M400.50 126.40L401.75 128.00L400.50 129.60L399.25 128.00Z" fill="#5a3a98"/><path d="M298.50 120.00 L301.00 162.00 L305.00 172.00 L311.00 175.00 L323.00 176.40 L400.40 177.00" fill="none" stroke="#3a5a7e" stroke-width="0.75" stroke-linejoin="round"/><path d="M297.40 120.00H299.60M298.50 118.90V121.10" stroke="#3a5a7e" stroke-width="0.8" fill="none"/><path d="M300.40 163.25H302.60M301.50 162.15V164.35" stroke="#3a5a7e" stroke-width="0.8" fill="none"/><path d="M303.40 170.75H305.60M304.50 169.65V171.85" stroke="#3a5a7e" stroke-width="0.8" fill="none"/><path d="M306.40 173.25H308.60M307.50 172.15V174.35" stroke="#3a5a7e" stroke-width="0.8" fill="none"/><path d="M309.40 174.75H311.60M310.50 173.65V175.85" stroke="#3a5a7e" stroke-width="0.8" fill="none"/><path d="M312.40 175.29H314.60M313.50 174.19V176.39" stroke="#3a5a7e" stroke-width="0.8" fill="none"/><path d="M315.40 175.64H317.60M316.50 174.54V176.74" stroke="#3a5a7e" stroke-width="0.8" fill="none"/><path d="M318.40 175.99H320.60M319.50 174.89V177.09" stroke="#3a5a7e" stroke-width="0.8" fill="none"/><path d="M321.40 176.34H323.60M322.50 175.24V177.44" stroke="#3a5a7e" stroke-width="0.8" fill="none"/><path d="M324.40 176.42H326.60M325.50 175.32V177.52" stroke="#3a5a7e" stroke-width="0.8" fill="none"/><path d="M327.40 176.44H329.60M328.50 175.34V177.54" stroke="#3a5a7e" stroke-width="0.8" fill="none"/><path d="M330.40 176.47H332.60M331.50 175.37V177.57" stroke="#3a5a7e" stroke-width="0.8" fill="none"/><path d="M333.40 176.49H335.60M334.50 175.39V177.59" stroke="#3a5a7e" stroke-width="0.8" fill="none"/><path d="M336.40 176.51H338.60M337.50 175.41V177.61" stroke="#3a5a7e" stroke-width="0.8" fill="none"/><path d="M339.40 176.54H341.60M340.50 175.44V177.64" stroke="#3a5a7e" stroke-width="0.8" fill="none"/><path d="M342.40 176.56H344.60M343.50 175.46V177.66" stroke="#3a5a7e" stroke-width="0.8" fill="none"/><path d="M345.40 176.58H347.60M346.50 175.48V177.68" stroke="#3a5a7e" stroke-width="0.8" fill="none"/><path d="M348.40 176.61H350.60M349.50 175.51V177.71" stroke="#3a5a7e" stroke-width="0.8" fill="none"/><path d="M351.40 176.63H353.60M352.50 175.53V177.73" stroke="#3a5a7e" stroke-width="0.8" fill="none"/><path d="M354.40 176.65H356.60M355.50 175.55V177.75" stroke="#3a5a7e" stroke-width="0.8" fill="none"/><path d="M357.40 176.68H359.60M358.50 175.58V177.78" stroke="#3a5a7e" stroke-width="0.8" fill="none"/><path d="M360.40 176.70H362.60M361.50 175.60V177.80" stroke="#3a5a7e" stroke-width="0.8" fill="none"/><path d="M363.40 176.72H365.60M364.50 175.62V177.82" stroke="#3a5a7e" stroke-width="0.8" fill="none"/><path d="M366.40 176.74H368.60M367.50 175.64V177.84" stroke="#3a5a7e" stroke-width="0.8" fill="none"/><path d="M369.40 176.77H371.60M370.50 175.67V177.87" stroke="#3a5a7e" stroke-width="0.8" fill="none"/><path d="M372.40 176.79H374.60M373.50 175.69V177.89" stroke="#3a5a7e" stroke-width="0.8" fill="none"/><path d="M375.40 176.81H377.60M376.50 175.71V177.91" stroke="#3a5a7e" stroke-width="0.8" fill="none"/><path d="M378.40 176.84H380.60M379.50 175.74V177.94" stroke="#3a5a7e" stroke-width="0.8" fill="none"/><path d="M381.40 176.86H383.60M382.50 175.76V177.96" stroke="#3a5a7e" stroke-width="0.8" fill="none"/><path d="M384.40 176.88H386.60M385.50 175.78V177.98" stroke="#3a5a7e" stroke-width="0.8" fill="none"/><path d="M387.40 176.91H389.60M388.50 175.81V178.01" stroke="#3a5a7e" stroke-width="0.8" fill="none"/><path d="M390.40 176.93H392.60M391.50 175.83V178.03" stroke="#3a5a7e" stroke-width="0.8" fill="none"/><path d="M393.40 176.95H395.60M394.50 175.85V178.05" stroke="#3a5a7e" stroke-width="0.8" fill="none"/><path d="M396.40 176.98H398.60M397.50 175.88V178.08" stroke="#3a5a7e" stroke-width="0.8" fill="none"/><path d="M399.40 177.00H401.60M400.50 175.90V178.10" stroke="#3a5a7e" stroke-width="0.8" fill="none"/><path d="M298.50 136.00 L301.00 166.00 L305.00 170.00 L309.00 173.00 L313.00 176.00 L319.00 179.00 L337.00 180.00 L400.40 181.00" fill="none" stroke="#e8203c" stroke-width="0.75" stroke-linejoin="round"/><circle cx="298.50" cy="136.00" r="1.3" fill="#e8203c"/><circle cx="301.50" cy="166.50" r="1.3" fill="#e8203c"/><circle cx="304.50" cy="169.50" r="1.3" fill="#e8203c"/><circle cx="307.50" cy="171.88" r="1.3" fill="#e8203c"/><circle cx="310.50" cy="174.12" r="1.3" fill="#e8203c"/><circle cx="313.50" cy="176.25" r="1.3" fill="#e8203c"/><circle cx="316.50" cy="177.75" r="1.3" fill="#e8203c"/><circle cx="319.50" cy="179.03" r="1.3" fill="#e8203c"/><circle cx="322.50" cy="179.19" r="1.3" fill="#e8203c"/><circle cx="325.50" cy="179.36" r="1.3" fill="#e8203c"/><circle cx="328.50" cy="179.53" r="1.3" fill="#e8203c"/><circle cx="331.50" cy="179.69" r="1.3" fill="#e8203c"/><circle cx="334.50" cy="179.86" r="1.3" fill="#e8203c"/><circle cx="337.50" cy="180.01" r="1.3" fill="#e8203c"/><circle cx="340.50" cy="180.06" r="1.3" fill="#e8203c"/><circle cx="343.50" cy="180.10" r="1.3" fill="#e8203c"/><circle cx="346.50" cy="180.15" r="1.3" fill="#e8203c"/><circle cx="349.50" cy="180.20" r="1.3" fill="#e8203c"/><circle cx="352.50" cy="180.24" r="1.3" fill="#e8203c"/><circle cx="355.50" cy="180.29" r="1.3" fill="#e8203c"/><circle cx="358.50" cy="180.34" r="1.3" fill="#e8203c"/><circle cx="361.50" cy="180.39" r="1.3" fill="#e8203c"/><circle cx="364.50" cy="180.43" r="1.3" fill="#e8203c"/><circle cx="367.50" cy="180.48" r="1.3" fill="#e8203c"/><circle cx="370.50" cy="180.53" r="1.3" fill="#e8203c"/><circle cx="373.50" cy="180.58" r="1.3" fill="#e8203c"/><circle cx="376.50" cy="180.62" r="1.3" fill="#e8203c"/><circle cx="379.50" cy="180.67" r="1.3" fill="#e8203c"/><circle cx="382.50" cy="180.72" r="1.3" fill="#e8203c"/><circle cx="385.50" cy="180.76" r="1.3" fill="#e8203c"/><circle cx="388.50" cy="180.81" r="1.3" fill="#e8203c"/><circle cx="391.50" cy="180.86" r="1.3" fill="#e8203c"/><circle cx="394.50" cy="180.91" r="1.3" fill="#e8203c"/><circle cx="397.50" cy="180.95" r="1.3" fill="#e8203c"/><circle cx="400.50" cy="181.00" r="1.3" fill="#e8203c"/></g>
<g><rect x="431.2" y="107" width="105.50" height="74.50" fill="#fff" stroke="#c4c4c4" stroke-width="0.7"/><path d="M431.20 181.5v-1M431.20 107v1" stroke="#c4c4c4" stroke-width="0.6"/><text x="431.20" y="188.20" class="t m" font-size="5.3" textLength="2.56" lengthAdjust="spacingAndGlyphs">0</text><path d="M452.30 181.5v-1M452.30 107v1" stroke="#c4c4c4" stroke-width="0.6"/><text x="452.30" y="188.20" class="t m" font-size="5.3" textLength="7.67" lengthAdjust="spacingAndGlyphs">100</text><path d="M473.40 181.5v-1M473.40 107v1" stroke="#c4c4c4" stroke-width="0.6"/><text x="473.40" y="188.20" class="t m" font-size="5.3" textLength="7.67" lengthAdjust="spacingAndGlyphs">200</text><path d="M494.50 181.5v-1M494.50 107v1" stroke="#c4c4c4" stroke-width="0.6"/><text x="494.50" y="188.20" class="t m" font-size="5.3" textLength="7.67" lengthAdjust="spacingAndGlyphs">300</text><path d="M515.60 181.5v-1M515.60 107v1" stroke="#c4c4c4" stroke-width="0.6"/><text x="515.60" y="188.20" class="t m" font-size="5.3" textLength="7.67" lengthAdjust="spacingAndGlyphs">400</text><path d="M536.70 181.5v-1M536.70 107v1" stroke="#c4c4c4" stroke-width="0.6"/><text x="536.70" y="188.20" class="t m" font-size="5.3" textLength="7.67" lengthAdjust="spacingAndGlyphs">500</text><text x="429.20" y="116.00" class="t e" font-size="5.3" textLength="2.56" lengthAdjust="spacingAndGlyphs">2</text><text x="429.20" y="126.20" class="t e" font-size="5.3" textLength="6.39" lengthAdjust="spacingAndGlyphs">1.5</text><text x="429.20" y="140.20" class="t e" font-size="5.3" textLength="2.56" lengthAdjust="spacingAndGlyphs">1</text><text x="429.20" y="164.30" class="t e" font-size="5.3" textLength="6.39" lengthAdjust="spacingAndGlyphs">0.5</text><text x="432.20" y="106.40" class="t" font-size="4.2">× 10<tspan font-size="3" dy="-1.8">4</tspan></text><text x="483.95" y="105.60" class="t m" font-size="5.4" textLength="55.5" lengthAdjust="spacingAndGlyphs">CEC2017-F25 (Dim =30)</text><text x="483.95" y="194.90" class="t m" font-size="5.4" textLength="19" lengthAdjust="spacingAndGlyphs">Iteration</text><text x="420.90" y="144.25" class="t m" font-size="5.3" textLength="34.5" lengthAdjust="spacingAndGlyphs" transform="rotate(-90 420.90 144.25)">Average fitness</text><path d="M431.20 128.08 L434.17 134.44 L436.72 149.71 L443.08 156.07 L454.53 163.70 L473.61 168.79 L504.15 169.30 L509.24 171.34 L514.33 177.70 L536.70 178.97" fill="none" stroke="#a0a0a0" stroke-width="0.75" stroke-linejoin="round"/><rect x="430.10" y="126.98" width="2.2" height="2.2" fill="#a0a0a0"/><rect x="433.20" y="134.12" width="2.2" height="2.2" fill="#a0a0a0"/><rect x="436.31" y="149.30" width="2.2" height="2.2" fill="#a0a0a0"/><rect x="439.41" y="152.40" width="2.2" height="2.2" fill="#a0a0a0"/><rect x="442.51" y="155.32" width="2.2" height="2.2" fill="#a0a0a0"/><rect x="445.61" y="157.39" width="2.2" height="2.2" fill="#a0a0a0"/><rect x="448.72" y="159.46" width="2.2" height="2.2" fill="#a0a0a0"/><rect x="451.82" y="161.53" width="2.2" height="2.2" fill="#a0a0a0"/><rect x="454.92" y="163.00" width="2.2" height="2.2" fill="#a0a0a0"/><rect x="458.03" y="163.83" width="2.2" height="2.2" fill="#a0a0a0"/><rect x="461.13" y="164.66" width="2.2" height="2.2" fill="#a0a0a0"/><rect x="464.23" y="165.48" width="2.2" height="2.2" fill="#a0a0a0"/><rect x="467.34" y="166.31" width="2.2" height="2.2" fill="#a0a0a0"/><rect x="470.44" y="167.14" width="2.2" height="2.2" fill="#a0a0a0"/><rect x="473.54" y="167.71" width="2.2" height="2.2" fill="#a0a0a0"/><rect x="476.64" y="167.76" width="2.2" height="2.2" fill="#a0a0a0"/><rect x="479.75" y="167.81" width="2.2" height="2.2" fill="#a0a0a0"/><rect x="482.85" y="167.86" width="2.2" height="2.2" fill="#a0a0a0"/><rect x="485.95" y="167.92" width="2.2" height="2.2" fill="#a0a0a0"/><rect x="489.06" y="167.97" width="2.2" height="2.2" fill="#a0a0a0"/><rect x="492.16" y="168.02" width="2.2" height="2.2" fill="#a0a0a0"/><rect x="495.26" y="168.07" width="2.2" height="2.2" fill="#a0a0a0"/><rect x="498.36" y="168.12" width="2.2" height="2.2" fill="#a0a0a0"/><rect x="501.47" y="168.17" width="2.2" height="2.2" fill="#a0a0a0"/><rect x="504.57" y="168.81" width="2.2" height="2.2" fill="#a0a0a0"/><rect x="507.67" y="170.05" width="2.2" height="2.2" fill="#a0a0a0"/><rect x="510.78" y="173.54" width="2.2" height="2.2" fill="#a0a0a0"/><rect x="513.88" y="176.63" width="2.2" height="2.2" fill="#a0a0a0"/><rect x="516.98" y="176.81" width="2.2" height="2.2" fill="#a0a0a0"/><rect x="520.09" y="176.99" width="2.2" height="2.2" fill="#a0a0a0"/><rect x="523.19" y="177.16" width="2.2" height="2.2" fill="#a0a0a0"/><rect x="526.29" y="177.34" width="2.2" height="2.2" fill="#a0a0a0"/><rect x="529.39" y="177.52" width="2.2" height="2.2" fill="#a0a0a0"/><rect x="532.50" y="177.69" width="2.2" height="2.2" fill="#a0a0a0"/><rect x="535.60" y="177.87" width="2.2" height="2.2" fill="#a0a0a0"/><path d="M431.20 144.00 L434.00 158.00 L436.00 160.00 L536.60 162.40" fill="none" stroke="#1f9a48" stroke-width="0.75" stroke-linejoin="round"/><circle cx="431.20" cy="144.00" r="1.25" fill="#1f9a48"/><circle cx="434.30" cy="158.30" r="1.25" fill="#1f9a48"/><circle cx="437.41" cy="160.03" r="1.25" fill="#1f9a48"/><circle cx="440.51" cy="160.11" r="1.25" fill="#1f9a48"/><circle cx="443.61" cy="160.18" r="1.25" fill="#1f9a48"/><circle cx="446.71" cy="160.26" r="1.25" fill="#1f9a48"/><circle cx="449.82" cy="160.33" r="1.25" fill="#1f9a48"/><circle cx="452.92" cy="160.40" r="1.25" fill="#1f9a48"/><circle cx="456.02" cy="160.48" r="1.25" fill="#1f9a48"/><circle cx="459.13" cy="160.55" r="1.25" fill="#1f9a48"/><circle cx="462.23" cy="160.63" r="1.25" fill="#1f9a48"/><circle cx="465.33" cy="160.70" r="1.25" fill="#1f9a48"/><circle cx="468.44" cy="160.77" r="1.25" fill="#1f9a48"/><circle cx="471.54" cy="160.85" r="1.25" fill="#1f9a48"/><circle cx="474.64" cy="160.92" r="1.25" fill="#1f9a48"/><circle cx="477.74" cy="161.00" r="1.25" fill="#1f9a48"/><circle cx="480.85" cy="161.07" r="1.25" fill="#1f9a48"/><circle cx="483.95" cy="161.14" r="1.25" fill="#1f9a48"/><circle cx="487.05" cy="161.22" r="1.25" fill="#1f9a48"/><circle cx="490.16" cy="161.29" r="1.25" fill="#1f9a48"/><circle cx="493.26" cy="161.37" r="1.25" fill="#1f9a48"/><circle cx="496.36" cy="161.44" r="1.25" fill="#1f9a48"/><circle cx="499.46" cy="161.51" r="1.25" fill="#1f9a48"/><circle cx="502.57" cy="161.59" r="1.25" fill="#1f9a48"/><circle cx="505.67" cy="161.66" r="1.25" fill="#1f9a48"/><circle cx="508.77" cy="161.74" r="1.25" fill="#1f9a48"/><circle cx="511.88" cy="161.81" r="1.25" fill="#1f9a48"/><circle cx="514.98" cy="161.88" r="1.25" fill="#1f9a48"/><circle cx="518.08" cy="161.96" r="1.25" fill="#1f9a48"/><circle cx="521.19" cy="162.03" r="1.25" fill="#1f9a48"/><circle cx="524.29" cy="162.11" r="1.25" fill="#1f9a48"/><circle cx="527.39" cy="162.18" r="1.25" fill="#1f9a48"/><circle cx="530.49" cy="162.25" r="1.25" fill="#1f9a48"/><circle cx="533.60" cy="162.33" r="1.25" fill="#1f9a48"/><circle cx="536.70" cy="162.40" r="1.25" fill="#1f9a48"/><path d="M431.20 116.00 L433.60 112.40 L437.00 112.40 L441.00 119.00 L444.00 141.00 L447.00 144.00 L450.00 145.00 L453.00 148.40 L466.00 148.40 L468.00 151.60 L471.00 152.00 L474.00 162.00 L485.00 163.00 L488.00 168.00 L504.00 169.00 L505.00 174.00 L520.00 174.40 L536.60 175.00" fill="none" stroke="#3a3ad6" stroke-width="0.75" stroke-linejoin="round"/><rect x="430.15" y="114.95" width="2.1" height="2.1" fill="#3a3ad6"/><rect x="433.25" y="111.35" width="2.1" height="2.1" fill="#3a3ad6"/><rect x="436.36" y="112.02" width="2.1" height="2.1" fill="#3a3ad6"/><rect x="439.46" y="117.14" width="2.1" height="2.1" fill="#3a3ad6"/><rect x="442.56" y="137.10" width="2.1" height="2.1" fill="#3a3ad6"/><rect x="445.66" y="142.66" width="2.1" height="2.1" fill="#3a3ad6"/><rect x="448.77" y="143.89" width="2.1" height="2.1" fill="#3a3ad6"/><rect x="451.87" y="147.26" width="2.1" height="2.1" fill="#3a3ad6"/><rect x="454.97" y="147.35" width="2.1" height="2.1" fill="#3a3ad6"/><rect x="458.08" y="147.35" width="2.1" height="2.1" fill="#3a3ad6"/><rect x="461.18" y="147.35" width="2.1" height="2.1" fill="#3a3ad6"/><rect x="464.28" y="147.35" width="2.1" height="2.1" fill="#3a3ad6"/><rect x="467.39" y="150.61" width="2.1" height="2.1" fill="#3a3ad6"/><rect x="470.49" y="152.74" width="2.1" height="2.1" fill="#3a3ad6"/><rect x="473.59" y="161.01" width="2.1" height="2.1" fill="#3a3ad6"/><rect x="476.69" y="161.29" width="2.1" height="2.1" fill="#3a3ad6"/><rect x="479.80" y="161.57" width="2.1" height="2.1" fill="#3a3ad6"/><rect x="482.90" y="161.85" width="2.1" height="2.1" fill="#3a3ad6"/><rect x="486.00" y="165.37" width="2.1" height="2.1" fill="#3a3ad6"/><rect x="489.11" y="167.08" width="2.1" height="2.1" fill="#3a3ad6"/><rect x="492.21" y="167.28" width="2.1" height="2.1" fill="#3a3ad6"/><rect x="495.31" y="167.47" width="2.1" height="2.1" fill="#3a3ad6"/><rect x="498.41" y="167.67" width="2.1" height="2.1" fill="#3a3ad6"/><rect x="501.52" y="167.86" width="2.1" height="2.1" fill="#3a3ad6"/><rect x="504.62" y="172.97" width="2.1" height="2.1" fill="#3a3ad6"/><rect x="507.72" y="173.05" width="2.1" height="2.1" fill="#3a3ad6"/><rect x="510.83" y="173.13" width="2.1" height="2.1" fill="#3a3ad6"/><rect x="513.93" y="173.22" width="2.1" height="2.1" fill="#3a3ad6"/><rect x="517.03" y="173.30" width="2.1" height="2.1" fill="#3a3ad6"/><rect x="520.14" y="173.39" width="2.1" height="2.1" fill="#3a3ad6"/><rect x="523.24" y="173.50" width="2.1" height="2.1" fill="#3a3ad6"/><rect x="526.34" y="173.62" width="2.1" height="2.1" fill="#3a3ad6"/><rect x="529.44" y="173.73" width="2.1" height="2.1" fill="#3a3ad6"/><rect x="532.55" y="173.84" width="2.1" height="2.1" fill="#3a3ad6"/><rect x="535.65" y="173.95" width="2.1" height="2.1" fill="#3a3ad6"/><path d="M431.20 107.00 L432.00 134.00 L434.00 160.00 L536.60 162.40" fill="none" stroke="#4a9fd6" stroke-width="0.75" stroke-linejoin="round"/><path d="M430.20 106.00L432.20 108.00M430.20 108.00L432.20 106.00" stroke="#4a9fd6" stroke-width="0.8" fill="none"/><path d="M433.30 159.01L435.30 161.01M433.30 161.01L435.30 159.01" stroke="#4a9fd6" stroke-width="0.8" fill="none"/><path d="M436.41 159.08L438.41 161.08M436.41 161.08L438.41 159.08" stroke="#4a9fd6" stroke-width="0.8" fill="none"/><path d="M439.51 159.15L441.51 161.15M439.51 161.15L441.51 159.15" stroke="#4a9fd6" stroke-width="0.8" fill="none"/><path d="M442.61 159.22L444.61 161.22M442.61 161.22L444.61 159.22" stroke="#4a9fd6" stroke-width="0.8" fill="none"/><path d="M445.71 159.30L447.71 161.30M445.71 161.30L447.71 159.30" stroke="#4a9fd6" stroke-width="0.8" fill="none"/><path d="M448.82 159.37L450.82 161.37M448.82 161.37L450.82 159.37" stroke="#4a9fd6" stroke-width="0.8" fill="none"/><path d="M451.92 159.44L453.92 161.44M451.92 161.44L453.92 159.44" stroke="#4a9fd6" stroke-width="0.8" fill="none"/><path d="M455.02 159.52L457.02 161.52M455.02 161.52L457.02 159.52" stroke="#4a9fd6" stroke-width="0.8" fill="none"/><path d="M458.13 159.59L460.13 161.59M458.13 161.59L460.13 159.59" stroke="#4a9fd6" stroke-width="0.8" fill="none"/><path d="M461.23 159.66L463.23 161.66M461.23 161.66L463.23 159.66" stroke="#4a9fd6" stroke-width="0.8" fill="none"/><path d="M464.33 159.73L466.33 161.73M464.33 161.73L466.33 159.73" stroke="#4a9fd6" stroke-width="0.8" fill="none"/><path d="M467.44 159.81L469.44 161.81M467.44 161.81L469.44 159.81" stroke="#4a9fd6" stroke-width="0.8" fill="none"/><path d="M470.54 159.88L472.54 161.88M470.54 161.88L472.54 159.88" stroke="#4a9fd6" stroke-width="0.8" fill="none"/><path d="M473.64 159.95L475.64 161.95M473.64 161.95L475.64 159.95" stroke="#4a9fd6" stroke-width="0.8" fill="none"/><path d="M476.74 160.02L478.74 162.02M476.74 162.02L478.74 160.02" stroke="#4a9fd6" stroke-width="0.8" fill="none"/><path d="M479.85 160.10L481.85 162.10M479.85 162.10L481.85 160.10" stroke="#4a9fd6" stroke-width="0.8" fill="none"/><path d="M482.95 160.17L484.95 162.17M482.95 162.17L484.95 160.17" stroke="#4a9fd6" stroke-width="0.8" fill="none"/><path d="M486.05 160.24L488.05 162.24M486.05 162.24L488.05 160.24" stroke="#4a9fd6" stroke-width="0.8" fill="none"/><path d="M489.16 160.31L491.16 162.31M489.16 162.31L491.16 160.31" stroke="#4a9fd6" stroke-width="0.8" fill="none"/><path d="M492.26 160.39L494.26 162.39M492.26 162.39L494.26 160.39" stroke="#4a9fd6" stroke-width="0.8" fill="none"/><path d="M495.36 160.46L497.36 162.46M495.36 162.46L497.36 160.46" stroke="#4a9fd6" stroke-width="0.8" fill="none"/><path d="M498.46 160.53L500.46 162.53M498.46 162.53L500.46 160.53" stroke="#4a9fd6" stroke-width="0.8" fill="none"/><path d="M501.57 160.60L503.57 162.60M501.57 162.60L503.57 160.60" stroke="#4a9fd6" stroke-width="0.8" fill="none"/><path d="M504.67 160.68L506.67 162.68M504.67 162.68L506.67 160.68" stroke="#4a9fd6" stroke-width="0.8" fill="none"/><path d="M507.77 160.75L509.77 162.75M507.77 162.75L509.77 160.75" stroke="#4a9fd6" stroke-width="0.8" fill="none"/><path d="M510.88 160.82L512.88 162.82M510.88 162.82L512.88 160.82" stroke="#4a9fd6" stroke-width="0.8" fill="none"/><path d="M513.98 160.89L515.98 162.89M513.98 162.89L515.98 160.89" stroke="#4a9fd6" stroke-width="0.8" fill="none"/><path d="M517.08 160.97L519.08 162.97M517.08 162.97L519.08 160.97" stroke="#4a9fd6" stroke-width="0.8" fill="none"/><path d="M520.19 161.04L522.19 163.04M520.19 163.04L522.19 161.04" stroke="#4a9fd6" stroke-width="0.8" fill="none"/><path d="M523.29 161.11L525.29 163.11M523.29 163.11L525.29 161.11" stroke="#4a9fd6" stroke-width="0.8" fill="none"/><path d="M526.39 161.18L528.39 163.18M526.39 163.18L528.39 161.18" stroke="#4a9fd6" stroke-width="0.8" fill="none"/><path d="M529.49 161.26L531.49 163.26M529.49 163.26L531.49 161.26" stroke="#4a9fd6" stroke-width="0.8" fill="none"/><path d="M532.60 161.33L534.60 163.33M532.60 163.33L534.60 161.33" stroke="#4a9fd6" stroke-width="0.8" fill="none"/><path d="M535.70 161.40L537.70 163.40M535.70 163.40L537.70 161.40" stroke="#4a9fd6" stroke-width="0.8" fill="none"/><path d="M431.20 115.00 L433.00 150.00 L436.00 164.00 L442.00 170.00 L452.00 174.00 L468.00 176.40 L536.60 177.00" fill="none" stroke="#1ecc28" stroke-width="0.75" stroke-linejoin="round"/><circle cx="431.20" cy="115.00" r="1.3" fill="#1ecc28"/><circle cx="434.30" cy="156.08" r="1.3" fill="#1ecc28"/><circle cx="437.41" cy="165.41" r="1.3" fill="#1ecc28"/><circle cx="440.51" cy="168.51" r="1.3" fill="#1ecc28"/><circle cx="443.61" cy="170.64" r="1.3" fill="#1ecc28"/><circle cx="446.71" cy="171.89" r="1.3" fill="#1ecc28"/><circle cx="449.82" cy="173.13" r="1.3" fill="#1ecc28"/><circle cx="452.92" cy="174.14" r="1.3" fill="#1ecc28"/><circle cx="456.02" cy="174.60" r="1.3" fill="#1ecc28"/><circle cx="459.13" cy="175.07" r="1.3" fill="#1ecc28"/><circle cx="462.23" cy="175.53" r="1.3" fill="#1ecc28"/><circle cx="465.33" cy="176.00" r="1.3" fill="#1ecc28"/><circle cx="468.44" cy="176.40" r="1.3" fill="#1ecc28"/><circle cx="471.54" cy="176.43" r="1.3" fill="#1ecc28"/><circle cx="474.64" cy="176.46" r="1.3" fill="#1ecc28"/><circle cx="477.74" cy="176.49" r="1.3" fill="#1ecc28"/><circle cx="480.85" cy="176.51" r="1.3" fill="#1ecc28"/><circle cx="483.95" cy="176.54" r="1.3" fill="#1ecc28"/><circle cx="487.05" cy="176.57" r="1.3" fill="#1ecc28"/><circle cx="490.16" cy="176.59" r="1.3" fill="#1ecc28"/><circle cx="493.26" cy="176.62" r="1.3" fill="#1ecc28"/><circle cx="496.36" cy="176.65" r="1.3" fill="#1ecc28"/><circle cx="499.46" cy="176.68" r="1.3" fill="#1ecc28"/><circle cx="502.57" cy="176.70" r="1.3" fill="#1ecc28"/><circle cx="505.67" cy="176.73" r="1.3" fill="#1ecc28"/><circle cx="508.77" cy="176.76" r="1.3" fill="#1ecc28"/><circle cx="511.88" cy="176.78" r="1.3" fill="#1ecc28"/><circle cx="514.98" cy="176.81" r="1.3" fill="#1ecc28"/><circle cx="518.08" cy="176.84" r="1.3" fill="#1ecc28"/><circle cx="521.19" cy="176.87" r="1.3" fill="#1ecc28"/><circle cx="524.29" cy="176.89" r="1.3" fill="#1ecc28"/><circle cx="527.39" cy="176.92" r="1.3" fill="#1ecc28"/><circle cx="530.49" cy="176.95" r="1.3" fill="#1ecc28"/><circle cx="533.60" cy="176.97" r="1.3" fill="#1ecc28"/><circle cx="536.70" cy="177.00" r="1.3" fill="#1ecc28"/><path d="M431.20 124.00 L434.00 163.00 L473.00 163.40 L475.00 167.60 L536.60 167.60" fill="none" stroke="#5a3a98" stroke-width="0.75" stroke-linejoin="round"/><path d="M431.20 122.40L432.45 124.00L431.20 125.60L429.95 124.00Z" fill="#5a3a98"/><path d="M434.30 161.40L435.55 163.00L434.30 164.60L433.05 163.00Z" fill="#5a3a98"/><path d="M437.41 161.43L438.66 163.03L437.41 164.63L436.16 163.03Z" fill="#5a3a98"/><path d="M440.51 161.47L441.76 163.07L440.51 164.67L439.26 163.07Z" fill="#5a3a98"/><path d="M443.61 161.50L444.86 163.10L443.61 164.70L442.36 163.10Z" fill="#5a3a98"/><path d="M446.71 161.53L447.96 163.13L446.71 164.73L445.46 163.13Z" fill="#5a3a98"/><path d="M449.82 161.56L451.07 163.16L449.82 164.76L448.57 163.16Z" fill="#5a3a98"/><path d="M452.92 161.59L454.17 163.19L452.92 164.79L451.67 163.19Z" fill="#5a3a98"/><path d="M456.02 161.63L457.27 163.23L456.02 164.83L454.77 163.23Z" fill="#5a3a98"/><path d="M459.13 161.66L460.38 163.26L459.13 164.86L457.88 163.26Z" fill="#5a3a98"/><path d="M462.23 161.69L463.48 163.29L462.23 164.89L460.98 163.29Z" fill="#5a3a98"/><path d="M465.33 161.72L466.58 163.32L465.33 164.92L464.08 163.32Z" fill="#5a3a98"/><path d="M468.44 161.75L469.69 163.35L468.44 164.95L467.19 163.35Z" fill="#5a3a98"/><path d="M471.54 161.79L472.79 163.39L471.54 164.99L470.29 163.39Z" fill="#5a3a98"/><path d="M474.64 165.25L475.89 166.85L474.64 168.45L473.39 166.85Z" fill="#5a3a98"/><path d="M477.74 166.00L478.99 167.60L477.74 169.20L476.49 167.60Z" fill="#5a3a98"/><path d="M480.85 166.00L482.10 167.60L480.85 169.20L479.60 167.60Z" fill="#5a3a98"/><path d="M483.95 166.00L485.20 167.60L483.95 169.20L482.70 167.60Z" fill="#5a3a98"/><path d="M487.05 166.00L488.30 167.60L487.05 169.20L485.80 167.60Z" fill="#5a3a98"/><path d="M490.16 166.00L491.41 167.60L490.16 169.20L488.91 167.60Z" fill="#5a3a98"/><path d="M493.26 166.00L494.51 167.60L493.26 169.20L492.01 167.60Z" fill="#5a3a98"/><path d="M496.36 166.00L497.61 167.60L496.36 169.20L495.11 167.60Z" fill="#5a3a98"/><path d="M499.46 166.00L500.71 167.60L499.46 169.20L498.21 167.60Z" fill="#5a3a98"/><path d="M502.57 166.00L503.82 167.60L502.57 169.20L501.32 167.60Z" fill="#5a3a98"/><path d="M505.67 166.00L506.92 167.60L505.67 169.20L504.42 167.60Z" fill="#5a3a98"/><path d="M508.77 166.00L510.02 167.60L508.77 169.20L507.52 167.60Z" fill="#5a3a98"/><path d="M511.88 166.00L513.13 167.60L511.88 169.20L510.63 167.60Z" fill="#5a3a98"/><path d="M514.98 166.00L516.23 167.60L514.98 169.20L513.73 167.60Z" fill="#5a3a98"/><path d="M518.08 166.00L519.33 167.60L518.08 169.20L516.83 167.60Z" fill="#5a3a98"/><path d="M521.19 166.00L522.44 167.60L521.19 169.20L519.94 167.60Z" fill="#5a3a98"/><path d="M524.29 166.00L525.54 167.60L524.29 169.20L523.04 167.60Z" fill="#5a3a98"/><path d="M527.39 166.00L528.64 167.60L527.39 169.20L526.14 167.60Z" fill="#5a3a98"/><path d="M530.49 166.00L531.74 167.60L530.49 169.20L529.24 167.60Z" fill="#5a3a98"/><path d="M533.60 166.00L534.85 167.60L533.60 169.20L532.35 167.60Z" fill="#5a3a98"/><path d="M536.70 166.00L537.95 167.60L536.70 169.20L535.45 167.60Z" fill="#5a3a98"/><path d="M431.20 140.00 L434.00 166.00 L440.00 172.00 L448.00 177.00 L536.60 178.40" fill="none" stroke="#3a5a7e" stroke-width="0.75" stroke-linejoin="round"/><path d="M430.10 140.00H432.30M431.20 138.90V141.10" stroke="#3a5a7e" stroke-width="0.8" fill="none"/><path d="M433.20 166.30H435.40M434.30 165.20V167.40" stroke="#3a5a7e" stroke-width="0.8" fill="none"/><path d="M436.31 169.41H438.51M437.41 168.31V170.51" stroke="#3a5a7e" stroke-width="0.8" fill="none"/><path d="M439.41 172.32H441.61M440.51 171.22V173.42" stroke="#3a5a7e" stroke-width="0.8" fill="none"/><path d="M442.51 174.26H444.71M443.61 173.16V175.36" stroke="#3a5a7e" stroke-width="0.8" fill="none"/><path d="M445.61 176.20H447.81M446.71 175.10V177.30" stroke="#3a5a7e" stroke-width="0.8" fill="none"/><path d="M448.72 177.03H450.92M449.82 175.93V178.13" stroke="#3a5a7e" stroke-width="0.8" fill="none"/><path d="M451.82 177.08H454.02M452.92 175.98V178.18" stroke="#3a5a7e" stroke-width="0.8" fill="none"/><path d="M454.92 177.13H457.12M456.02 176.03V178.23" stroke="#3a5a7e" stroke-width="0.8" fill="none"/><path d="M458.03 177.18H460.23M459.13 176.08V178.28" stroke="#3a5a7e" stroke-width="0.8" fill="none"/><path d="M461.13 177.22H463.33M462.23 176.12V178.32" stroke="#3a5a7e" stroke-width="0.8" fill="none"/><path d="M464.23 177.27H466.43M465.33 176.17V178.37" stroke="#3a5a7e" stroke-width="0.8" fill="none"/><path d="M467.34 177.32H469.54M468.44 176.22V178.42" stroke="#3a5a7e" stroke-width="0.8" fill="none"/><path d="M470.44 177.37H472.64M471.54 176.27V178.47" stroke="#3a5a7e" stroke-width="0.8" fill="none"/><path d="M473.54 177.42H475.74M474.64 176.32V178.52" stroke="#3a5a7e" stroke-width="0.8" fill="none"/><path d="M476.64 177.47H478.84M477.74 176.37V178.57" stroke="#3a5a7e" stroke-width="0.8" fill="none"/><path d="M479.75 177.52H481.95M480.85 176.42V178.62" stroke="#3a5a7e" stroke-width="0.8" fill="none"/><path d="M482.85 177.57H485.05M483.95 176.47V178.67" stroke="#3a5a7e" stroke-width="0.8" fill="none"/><path d="M485.95 177.62H488.15M487.05 176.52V178.72" stroke="#3a5a7e" stroke-width="0.8" fill="none"/><path d="M489.06 177.67H491.26M490.16 176.57V178.77" stroke="#3a5a7e" stroke-width="0.8" fill="none"/><path d="M492.16 177.72H494.36M493.26 176.62V178.82" stroke="#3a5a7e" stroke-width="0.8" fill="none"/><path d="M495.26 177.76H497.46M496.36 176.66V178.86" stroke="#3a5a7e" stroke-width="0.8" fill="none"/><path d="M498.36 177.81H500.56M499.46 176.71V178.91" stroke="#3a5a7e" stroke-width="0.8" fill="none"/><path d="M501.47 177.86H503.67M502.57 176.76V178.96" stroke="#3a5a7e" stroke-width="0.8" fill="none"/><path d="M504.57 177.91H506.77M505.67 176.81V179.01" stroke="#3a5a7e" stroke-width="0.8" fill="none"/><path d="M507.67 177.96H509.87M508.77 176.86V179.06" stroke="#3a5a7e" stroke-width="0.8" fill="none"/><path d="M510.78 178.01H512.98M511.88 176.91V179.11" stroke="#3a5a7e" stroke-width="0.8" fill="none"/><path d="M513.88 178.06H516.08M514.98 176.96V179.16" stroke="#3a5a7e" stroke-width="0.8" fill="none"/><path d="M516.98 178.11H519.18M518.08 177.01V179.21" stroke="#3a5a7e" stroke-width="0.8" fill="none"/><path d="M520.09 178.16H522.29M521.19 177.06V179.26" stroke="#3a5a7e" stroke-width="0.8" fill="none"/><path d="M523.19 178.21H525.39M524.29 177.11V179.31" stroke="#3a5a7e" stroke-width="0.8" fill="none"/><path d="M526.29 178.25H528.49M527.39 177.15V179.35" stroke="#3a5a7e" stroke-width="0.8" fill="none"/><path d="M529.39 178.30H531.59M530.49 177.20V179.40" stroke="#3a5a7e" stroke-width="0.8" fill="none"/><path d="M532.50 178.35H534.70M533.60 177.25V179.45" stroke="#3a5a7e" stroke-width="0.8" fill="none"/><path d="M535.60 178.40H537.80M536.70 177.30V179.50" stroke="#3a5a7e" stroke-width="0.8" fill="none"/><path d="M431.20 152.00 L433.00 164.00 L436.00 173.00 L442.00 179.00 L450.00 180.00 L536.60 181.00" fill="none" stroke="#e8203c" stroke-width="0.75" stroke-linejoin="round"/><circle cx="431.20" cy="152.00" r="1.3" fill="#e8203c"/><circle cx="434.30" cy="167.91" r="1.3" fill="#e8203c"/><circle cx="437.41" cy="174.41" r="1.3" fill="#e8203c"/><circle cx="440.51" cy="177.51" r="1.3" fill="#e8203c"/><circle cx="443.61" cy="179.20" r="1.3" fill="#e8203c"/><circle cx="446.71" cy="179.59" r="1.3" fill="#e8203c"/><circle cx="449.82" cy="179.98" r="1.3" fill="#e8203c"/><circle cx="452.92" cy="180.03" r="1.3" fill="#e8203c"/><circle cx="456.02" cy="180.07" r="1.3" fill="#e8203c"/><circle cx="459.13" cy="180.11" r="1.3" fill="#e8203c"/><circle cx="462.23" cy="180.14" r="1.3" fill="#e8203c"/><circle cx="465.33" cy="180.18" r="1.3" fill="#e8203c"/><circle cx="468.44" cy="180.21" r="1.3" fill="#e8203c"/><circle cx="471.54" cy="180.25" r="1.3" fill="#e8203c"/><circle cx="474.64" cy="180.28" r="1.3" fill="#e8203c"/><circle cx="477.74" cy="180.32" r="1.3" fill="#e8203c"/><circle cx="480.85" cy="180.36" r="1.3" fill="#e8203c"/><circle cx="483.95" cy="180.39" r="1.3" fill="#e8203c"/><circle cx="487.05" cy="180.43" r="1.3" fill="#e8203c"/><circle cx="490.16" cy="180.46" r="1.3" fill="#e8203c"/><circle cx="493.26" cy="180.50" r="1.3" fill="#e8203c"/><circle cx="496.36" cy="180.54" r="1.3" fill="#e8203c"/><circle cx="499.46" cy="180.57" r="1.3" fill="#e8203c"/><circle cx="502.57" cy="180.61" r="1.3" fill="#e8203c"/><circle cx="505.67" cy="180.64" r="1.3" fill="#e8203c"/><circle cx="508.77" cy="180.68" r="1.3" fill="#e8203c"/><circle cx="511.88" cy="180.71" r="1.3" fill="#e8203c"/><circle cx="514.98" cy="180.75" r="1.3" fill="#e8203c"/><circle cx="518.08" cy="180.79" r="1.3" fill="#e8203c"/><circle cx="521.19" cy="180.82" r="1.3" fill="#e8203c"/><circle cx="524.29" cy="180.86" r="1.3" fill="#e8203c"/><circle cx="527.39" cy="180.89" r="1.3" fill="#e8203c"/><circle cx="530.49" cy="180.93" r="1.3" fill="#e8203c"/><circle cx="533.60" cy="180.97" r="1.3" fill="#e8203c"/><circle cx="536.70" cy="181.00" r="1.3" fill="#e8203c"/></g>
<g><rect x="22.5" y="201.5" width="105.20" height="75.00" fill="#fff" stroke="#c4c4c4" stroke-width="0.7"/><path d="M22.50 276.5v-1M22.50 201.5v1" stroke="#c4c4c4" stroke-width="0.6"/><text x="22.50" y="283.20" class="t m" font-size="5.3" textLength="2.56" lengthAdjust="spacingAndGlyphs">0</text><path d="M43.54 276.5v-1M43.54 201.5v1" stroke="#c4c4c4" stroke-width="0.6"/><text x="43.54" y="283.20" class="t m" font-size="5.3" textLength="7.67" lengthAdjust="spacingAndGlyphs">100</text><path d="M64.58 276.5v-1M64.58 201.5v1" stroke="#c4c4c4" stroke-width="0.6"/><text x="64.58" y="283.20" class="t m" font-size="5.3" textLength="7.67" lengthAdjust="spacingAndGlyphs">200</text><path d="M85.62 276.5v-1M85.62 201.5v1" stroke="#c4c4c4" stroke-width="0.6"/><text x="85.62" y="283.20" class="t m" font-size="5.3" textLength="7.67" lengthAdjust="spacingAndGlyphs">300</text><path d="M106.66 276.5v-1M106.66 201.5v1" stroke="#c4c4c4" stroke-width="0.6"/><text x="106.66" y="283.20" class="t m" font-size="5.3" textLength="7.67" lengthAdjust="spacingAndGlyphs">400</text><path d="M127.70 276.5v-1M127.70 201.5v1" stroke="#c4c4c4" stroke-width="0.6"/><text x="127.70" y="283.20" class="t m" font-size="5.3" textLength="7.67" lengthAdjust="spacingAndGlyphs">500</text><text x="20.50" y="207.10" class="t e" font-size="5.3" textLength="6.39" lengthAdjust="spacingAndGlyphs">2.5</text><text x="20.50" y="217.30" class="t e" font-size="5.3" textLength="2.56" lengthAdjust="spacingAndGlyphs">2</text><text x="20.50" y="229.90" class="t e" font-size="5.3" textLength="6.39" lengthAdjust="spacingAndGlyphs">1.5</text><text x="20.50" y="249.10" class="t e" font-size="5.3" textLength="2.56" lengthAdjust="spacingAndGlyphs">1</text><text x="23.50" y="200.90" class="t" font-size="4.2">× 10<tspan font-size="3" dy="-1.8">4</tspan></text><text x="75.10" y="200.10" class="t m" font-size="5.4" textLength="55.5" lengthAdjust="spacingAndGlyphs">CEC2017-F26 (Dim =30)</text><text x="75.10" y="289.90" class="t m" font-size="5.4" textLength="19" lengthAdjust="spacingAndGlyphs">Iteration</text><text x="12.40" y="239.00" class="t m" font-size="5.3" textLength="34.5" lengthAdjust="spacingAndGlyphs" transform="rotate(-90 12.40 239.00)">Average fitness</text><path d="M22.50 236.00 L26.00 252.00 L32.00 256.00 L48.00 257.60 L88.00 258.00 L118.00 262.00 L127.60 263.00" fill="none" stroke="#a0a0a0" stroke-width="0.75" stroke-linejoin="round"/><rect x="21.40" y="234.90" width="2.2" height="2.2" fill="#a0a0a0"/><rect x="24.49" y="249.04" width="2.2" height="2.2" fill="#a0a0a0"/><rect x="27.59" y="252.69" width="2.2" height="2.2" fill="#a0a0a0"/><rect x="30.68" y="254.75" width="2.2" height="2.2" fill="#a0a0a0"/><rect x="33.78" y="255.19" width="2.2" height="2.2" fill="#a0a0a0"/><rect x="36.87" y="255.50" width="2.2" height="2.2" fill="#a0a0a0"/><rect x="39.96" y="255.81" width="2.2" height="2.2" fill="#a0a0a0"/><rect x="43.06" y="256.12" width="2.2" height="2.2" fill="#a0a0a0"/><rect x="46.15" y="256.43" width="2.2" height="2.2" fill="#a0a0a0"/><rect x="49.25" y="256.52" width="2.2" height="2.2" fill="#a0a0a0"/><rect x="52.34" y="256.55" width="2.2" height="2.2" fill="#a0a0a0"/><rect x="55.44" y="256.59" width="2.2" height="2.2" fill="#a0a0a0"/><rect x="58.53" y="256.62" width="2.2" height="2.2" fill="#a0a0a0"/><rect x="61.62" y="256.65" width="2.2" height="2.2" fill="#a0a0a0"/><rect x="64.72" y="256.68" width="2.2" height="2.2" fill="#a0a0a0"/><rect x="67.81" y="256.71" width="2.2" height="2.2" fill="#a0a0a0"/><rect x="70.91" y="256.74" width="2.2" height="2.2" fill="#a0a0a0"/><rect x="74.00" y="256.77" width="2.2" height="2.2" fill="#a0a0a0"/><rect x="77.09" y="256.80" width="2.2" height="2.2" fill="#a0a0a0"/><rect x="80.19" y="256.83" width="2.2" height="2.2" fill="#a0a0a0"/><rect x="83.28" y="256.86" width="2.2" height="2.2" fill="#a0a0a0"/><rect x="86.38" y="256.89" width="2.2" height="2.2" fill="#a0a0a0"/><rect x="89.47" y="257.24" width="2.2" height="2.2" fill="#a0a0a0"/><rect x="92.56" y="257.66" width="2.2" height="2.2" fill="#a0a0a0"/><rect x="95.66" y="258.07" width="2.2" height="2.2" fill="#a0a0a0"/><rect x="98.75" y="258.48" width="2.2" height="2.2" fill="#a0a0a0"/><rect x="101.85" y="258.89" width="2.2" height="2.2" fill="#a0a0a0"/><rect x="104.94" y="259.31" width="2.2" height="2.2" fill="#a0a0a0"/><rect x="108.04" y="259.72" width="2.2" height="2.2" fill="#a0a0a0"/><rect x="111.13" y="260.13" width="2.2" height="2.2" fill="#a0a0a0"/><rect x="114.22" y="260.54" width="2.2" height="2.2" fill="#a0a0a0"/><rect x="117.32" y="260.94" width="2.2" height="2.2" fill="#a0a0a0"/><rect x="120.41" y="261.27" width="2.2" height="2.2" fill="#a0a0a0"/><rect x="123.51" y="261.59" width="2.2" height="2.2" fill="#a0a0a0"/><rect x="126.60" y="261.90" width="2.2" height="2.2" fill="#a0a0a0"/><path d="M22.50 238.00 L25.00 250.00 L30.00 254.00 L34.00 257.00 L56.00 257.60 L62.00 260.40 L127.60 261.00" fill="none" stroke="#1f9a48" stroke-width="0.75" stroke-linejoin="round"/><circle cx="22.50" cy="238.00" r="1.25" fill="#1f9a48"/><circle cx="25.59" cy="250.48" r="1.25" fill="#1f9a48"/><circle cx="28.69" cy="252.95" r="1.25" fill="#1f9a48"/><circle cx="31.78" cy="255.34" r="1.25" fill="#1f9a48"/><circle cx="34.88" cy="257.02" r="1.25" fill="#1f9a48"/><circle cx="37.97" cy="257.11" r="1.25" fill="#1f9a48"/><circle cx="41.06" cy="257.19" r="1.25" fill="#1f9a48"/><circle cx="44.16" cy="257.28" r="1.25" fill="#1f9a48"/><circle cx="47.25" cy="257.36" r="1.25" fill="#1f9a48"/><circle cx="50.35" cy="257.45" r="1.25" fill="#1f9a48"/><circle cx="53.44" cy="257.53" r="1.25" fill="#1f9a48"/><circle cx="56.54" cy="257.85" r="1.25" fill="#1f9a48"/><circle cx="59.63" cy="259.29" r="1.25" fill="#1f9a48"/><circle cx="62.72" cy="260.41" r="1.25" fill="#1f9a48"/><circle cx="65.82" cy="260.43" r="1.25" fill="#1f9a48"/><circle cx="68.91" cy="260.46" r="1.25" fill="#1f9a48"/><circle cx="72.01" cy="260.49" r="1.25" fill="#1f9a48"/><circle cx="75.10" cy="260.52" r="1.25" fill="#1f9a48"/><circle cx="78.19" cy="260.55" r="1.25" fill="#1f9a48"/><circle cx="81.29" cy="260.58" r="1.25" fill="#1f9a48"/><circle cx="84.38" cy="260.60" r="1.25" fill="#1f9a48"/><circle cx="87.48" cy="260.63" r="1.25" fill="#1f9a48"/><circle cx="90.57" cy="260.66" r="1.25" fill="#1f9a48"/><circle cx="93.66" cy="260.69" r="1.25" fill="#1f9a48"/><circle cx="96.76" cy="260.72" r="1.25" fill="#1f9a48"/><circle cx="99.85" cy="260.75" r="1.25" fill="#1f9a48"/><circle cx="102.95" cy="260.77" r="1.25" fill="#1f9a48"/><circle cx="106.04" cy="260.80" r="1.25" fill="#1f9a48"/><circle cx="109.14" cy="260.83" r="1.25" fill="#1f9a48"/><circle cx="112.23" cy="260.86" r="1.25" fill="#1f9a48"/><circle cx="115.32" cy="260.89" r="1.25" fill="#1f9a48"/><circle cx="118.42" cy="260.92" r="1.25" fill="#1f9a48"/><circle cx="121.51" cy="260.94" r="1.25" fill="#1f9a48"/><circle cx="124.61" cy="260.97" r="1.25" fill="#1f9a48"/><circle cx="127.70" cy="261.00" r="1.25" fill="#1f9a48"/><path d="M22.50 228.00 L25.00 241.00 L32.00 241.00 L36.00 246.00 L53.00 246.00 L56.00 252.00 L78.00 252.40 L88.00 256.00 L90.00 258.00 L127.60 258.00" fill="none" stroke="#3a3ad6" stroke-width="0.75" stroke-linejoin="round"/><rect x="21.45" y="226.95" width="2.1" height="2.1" fill="#3a3ad6"/><rect x="24.54" y="239.95" width="2.1" height="2.1" fill="#3a3ad6"/><rect x="27.64" y="239.95" width="2.1" height="2.1" fill="#3a3ad6"/><rect x="30.73" y="239.95" width="2.1" height="2.1" fill="#3a3ad6"/><rect x="33.83" y="243.55" width="2.1" height="2.1" fill="#3a3ad6"/><rect x="36.92" y="244.95" width="2.1" height="2.1" fill="#3a3ad6"/><rect x="40.01" y="244.95" width="2.1" height="2.1" fill="#3a3ad6"/><rect x="43.11" y="244.95" width="2.1" height="2.1" fill="#3a3ad6"/><rect x="46.20" y="244.95" width="2.1" height="2.1" fill="#3a3ad6"/><rect x="49.30" y="244.95" width="2.1" height="2.1" fill="#3a3ad6"/><rect x="52.39" y="245.83" width="2.1" height="2.1" fill="#3a3ad6"/><rect x="55.49" y="250.96" width="2.1" height="2.1" fill="#3a3ad6"/><rect x="58.58" y="251.02" width="2.1" height="2.1" fill="#3a3ad6"/><rect x="61.67" y="251.07" width="2.1" height="2.1" fill="#3a3ad6"/><rect x="64.77" y="251.13" width="2.1" height="2.1" fill="#3a3ad6"/><rect x="67.86" y="251.18" width="2.1" height="2.1" fill="#3a3ad6"/><rect x="70.96" y="251.24" width="2.1" height="2.1" fill="#3a3ad6"/><rect x="74.05" y="251.30" width="2.1" height="2.1" fill="#3a3ad6"/><rect x="77.14" y="251.42" width="2.1" height="2.1" fill="#3a3ad6"/><rect x="80.24" y="252.53" width="2.1" height="2.1" fill="#3a3ad6"/><rect x="83.33" y="253.65" width="2.1" height="2.1" fill="#3a3ad6"/><rect x="86.43" y="254.76" width="2.1" height="2.1" fill="#3a3ad6"/><rect x="89.52" y="256.95" width="2.1" height="2.1" fill="#3a3ad6"/><rect x="92.61" y="256.95" width="2.1" height="2.1" fill="#3a3ad6"/><rect x="95.71" y="256.95" width="2.1" height="2.1" fill="#3a3ad6"/><rect x="98.80" y="256.95" width="2.1" height="2.1" fill="#3a3ad6"/><rect x="101.90" y="256.95" width="2.1" height="2.1" fill="#3a3ad6"/><rect x="104.99" y="256.95" width="2.1" height="2.1" fill="#3a3ad6"/><rect x="108.09" y="256.95" width="2.1" height="2.1" fill="#3a3ad6"/><rect x="111.18" y="256.95" width="2.1" height="2.1" fill="#3a3ad6"/><rect x="114.27" y="256.95" width="2.1" height="2.1" fill="#3a3ad6"/><rect x="117.37" y="256.95" width="2.1" height="2.1" fill="#3a3ad6"/><rect x="120.46" y="256.95" width="2.1" height="2.1" fill="#3a3ad6"/><rect x="123.56" y="256.95" width="2.1" height="2.1" fill="#3a3ad6"/><rect x="126.65" y="256.95" width="2.1" height="2.1" fill="#3a3ad6"/><path d="M22.50 228.00 L25.00 233.00 L48.00 233.00 L50.00 235.00 L127.60 235.00" fill="none" stroke="#4a9fd6" stroke-width="0.75" stroke-linejoin="round"/><path d="M21.50 227.00L23.50 229.00M21.50 229.00L23.50 227.00" stroke="#4a9fd6" stroke-width="0.8" fill="none"/><path d="M24.59 232.00L26.59 234.00M24.59 234.00L26.59 232.00" stroke="#4a9fd6" stroke-width="0.8" fill="none"/><path d="M27.69 232.00L29.69 234.00M27.69 234.00L29.69 232.00" stroke="#4a9fd6" stroke-width="0.8" fill="none"/><path d="M30.78 232.00L32.78 234.00M30.78 234.00L32.78 232.00" stroke="#4a9fd6" stroke-width="0.8" fill="none"/><path d="M33.88 232.00L35.88 234.00M33.88 234.00L35.88 232.00" stroke="#4a9fd6" stroke-width="0.8" fill="none"/><path d="M36.97 232.00L38.97 234.00M36.97 234.00L38.97 232.00" stroke="#4a9fd6" stroke-width="0.8" fill="none"/><path d="M40.06 232.00L42.06 234.00M40.06 234.00L42.06 232.00" stroke="#4a9fd6" stroke-width="0.8" fill="none"/><path d="M43.16 232.00L45.16 234.00M43.16 234.00L45.16 232.00" stroke="#4a9fd6" stroke-width="0.8" fill="none"/><path d="M46.25 232.00L48.25 234.00M46.25 234.00L48.25 232.00" stroke="#4a9fd6" stroke-width="0.8" fill="none"/><path d="M49.35 234.00L51.35 236.00M49.35 236.00L51.35 234.00" stroke="#4a9fd6" stroke-width="0.8" fill="none"/><path d="M52.44 234.00L54.44 236.00M52.44 236.00L54.44 234.00" stroke="#4a9fd6" stroke-width="0.8" fill="none"/><path d="M55.54 234.00L57.54 236.00M55.54 236.00L57.54 234.00" stroke="#4a9fd6" stroke-width="0.8" fill="none"/><path d="M58.63 234.00L60.63 236.00M58.63 236.00L60.63 234.00" stroke="#4a9fd6" stroke-width="0.8" fill="none"/><path d="M61.72 234.00L63.72 236.00M61.72 236.00L63.72 234.00" stroke="#4a9fd6" stroke-width="0.8" fill="none"/><path d="M64.82 234.00L66.82 236.00M64.82 236.00L66.82 234.00" stroke="#4a9fd6" stroke-width="0.8" fill="none"/><path d="M67.91 234.00L69.91 236.00M67.91 236.00L69.91 234.00" stroke="#4a9fd6" stroke-width="0.8" fill="none"/><path d="M71.01 234.00L73.01 236.00M71.01 236.00L73.01 234.00" stroke="#4a9fd6" stroke-width="0.8" fill="none"/><path d="M74.10 234.00L76.10 236.00M74.10 236.00L76.10 234.00" stroke="#4a9fd6" stroke-width="0.8" fill="none"/><path d="M77.19 234.00L79.19 236.00M77.19 236.00L79.19 234.00" stroke="#4a9fd6" stroke-width="0.8" fill="none"/><path d="M80.29 234.00L82.29 236.00M80.29 236.00L82.29 234.00" stroke="#4a9fd6" stroke-width="0.8" fill="none"/><path d="M83.38 234.00L85.38 236.00M83.38 236.00L85.38 234.00" stroke="#4a9fd6" stroke-width="0.8" fill="none"/><path d="M86.48 234.00L88.48 236.00M86.48 236.00L88.48 234.00" stroke="#4a9fd6" stroke-width="0.8" fill="none"/><path d="M89.57 234.00L91.57 236.00M89.57 236.00L91.57 234.00" stroke="#4a9fd6" stroke-width="0.8" fill="none"/><path d="M92.66 234.00L94.66 236.00M92.66 236.00L94.66 234.00" stroke="#4a9fd6" stroke-width="0.8" fill="none"/><path d="M95.76 234.00L97.76 236.00M95.76 236.00L97.76 234.00" stroke="#4a9fd6" stroke-width="0.8" fill="none"/><path d="M98.85 234.00L100.85 236.00M98.85 236.00L100.85 234.00" stroke="#4a9fd6" stroke-width="0.8" fill="none"/><path d="M101.95 234.00L103.95 236.00M101.95 236.00L103.95 234.00" stroke="#4a9fd6" stroke-width="0.8" fill="none"/><path d="M105.04 234.00L107.04 236.00M105.04 236.00L107.04 234.00" stroke="#4a9fd6" stroke-width="0.8" fill="none"/><path d="M108.14 234.00L110.14 236.00M108.14 236.00L110.14 234.00" stroke="#4a9fd6" stroke-width="0.8" fill="none"/><path d="M111.23 234.00L113.23 236.00M111.23 236.00L113.23 234.00" stroke="#4a9fd6" stroke-width="0.8" fill="none"/><path d="M114.32 234.00L116.32 236.00M114.32 236.00L116.32 234.00" stroke="#4a9fd6" stroke-width="0.8" fill="none"/><path d="M117.42 234.00L119.42 236.00M117.42 236.00L119.42 234.00" stroke="#4a9fd6" stroke-width="0.8" fill="none"/><path d="M120.51 234.00L122.51 236.00M120.51 236.00L122.51 234.00" stroke="#4a9fd6" stroke-width="0.8" fill="none"/><path d="M123.61 234.00L125.61 236.00M123.61 236.00L125.61 234.00" stroke="#4a9fd6" stroke-width="0.8" fill="none"/><path d="M126.70 234.00L128.70 236.00M126.70 236.00L128.70 234.00" stroke="#4a9fd6" stroke-width="0.8" fill="none"/><path d="M22.50 215.00 L25.00 228.00 L28.00 242.00 L32.00 251.00 L36.00 253.00 L127.60 254.00" fill="none" stroke="#1ecc28" stroke-width="0.75" stroke-linejoin="round"/><circle cx="22.50" cy="215.00" r="1.3" fill="#1ecc28"/><circle cx="25.59" cy="230.77" r="1.3" fill="#1ecc28"/><circle cx="28.69" cy="243.55" r="1.3" fill="#1ecc28"/><circle cx="31.78" cy="250.51" r="1.3" fill="#1ecc28"/><circle cx="34.88" cy="252.44" r="1.3" fill="#1ecc28"/><circle cx="37.97" cy="253.02" r="1.3" fill="#1ecc28"/><circle cx="41.06" cy="253.06" r="1.3" fill="#1ecc28"/><circle cx="44.16" cy="253.09" r="1.3" fill="#1ecc28"/><circle cx="47.25" cy="253.12" r="1.3" fill="#1ecc28"/><circle cx="50.35" cy="253.16" r="1.3" fill="#1ecc28"/><circle cx="53.44" cy="253.19" r="1.3" fill="#1ecc28"/><circle cx="56.54" cy="253.22" r="1.3" fill="#1ecc28"/><circle cx="59.63" cy="253.26" r="1.3" fill="#1ecc28"/><circle cx="62.72" cy="253.29" r="1.3" fill="#1ecc28"/><circle cx="65.82" cy="253.33" r="1.3" fill="#1ecc28"/><circle cx="68.91" cy="253.36" r="1.3" fill="#1ecc28"/><circle cx="72.01" cy="253.39" r="1.3" fill="#1ecc28"/><circle cx="75.10" cy="253.43" r="1.3" fill="#1ecc28"/><circle cx="78.19" cy="253.46" r="1.3" fill="#1ecc28"/><circle cx="81.29" cy="253.49" r="1.3" fill="#1ecc28"/><circle cx="84.38" cy="253.53" r="1.3" fill="#1ecc28"/><circle cx="87.48" cy="253.56" r="1.3" fill="#1ecc28"/><circle cx="90.57" cy="253.60" r="1.3" fill="#1ecc28"/><circle cx="93.66" cy="253.63" r="1.3" fill="#1ecc28"/><circle cx="96.76" cy="253.66" r="1.3" fill="#1ecc28"/><circle cx="99.85" cy="253.70" r="1.3" fill="#1ecc28"/><circle cx="102.95" cy="253.73" r="1.3" fill="#1ecc28"/><circle cx="106.04" cy="253.76" r="1.3" fill="#1ecc28"/><circle cx="109.14" cy="253.80" r="1.3" fill="#1ecc28"/><circle cx="112.23" cy="253.83" r="1.3" fill="#1ecc28"/><circle cx="115.32" cy="253.87" r="1.3" fill="#1ecc28"/><circle cx="118.42" cy="253.90" r="1.3" fill="#1ecc28"/><circle cx="121.51" cy="253.93" r="1.3" fill="#1ecc28"/><circle cx="124.61" cy="253.97" r="1.3" fill="#1ecc28"/><circle cx="127.70" cy="254.00" r="1.3" fill="#1ecc28"/><path d="M22.50 222.00 L25.00 235.00 L127.60 235.00" fill="none" stroke="#5a3a98" stroke-width="0.75" stroke-linejoin="round"/><path d="M22.50 220.40L23.75 222.00L22.50 223.60L21.25 222.00Z" fill="#5a3a98"/><path d="M25.59 233.40L26.84 235.00L25.59 236.60L24.34 235.00Z" fill="#5a3a98"/><path d="M28.69 233.40L29.94 235.00L28.69 236.60L27.44 235.00Z" fill="#5a3a98"/><path d="M31.78 233.40L33.03 235.00L31.78 236.60L30.53 235.00Z" fill="#5a3a98"/><path d="M34.88 233.40L36.13 235.00L34.88 236.60L33.63 235.00Z" fill="#5a3a98"/><path d="M37.97 233.40L39.22 235.00L37.97 236.60L36.72 235.00Z" fill="#5a3a98"/><path d="M41.06 233.40L42.31 235.00L41.06 236.60L39.81 235.00Z" fill="#5a3a98"/><path d="M44.16 233.40L45.41 235.00L44.16 236.60L42.91 235.00Z" fill="#5a3a98"/><path d="M47.25 233.40L48.50 235.00L47.25 236.60L46.00 235.00Z" fill="#5a3a98"/><path d="M50.35 233.40L51.60 235.00L50.35 236.60L49.10 235.00Z" fill="#5a3a98"/><path d="M53.44 233.40L54.69 235.00L53.44 236.60L52.19 235.00Z" fill="#5a3a98"/><path d="M56.54 233.40L57.79 235.00L56.54 236.60L55.29 235.00Z" fill="#5a3a98"/><path d="M59.63 233.40L60.88 235.00L59.63 236.60L58.38 235.00Z" fill="#5a3a98"/><path d="M62.72 233.40L63.97 235.00L62.72 236.60L61.47 235.00Z" fill="#5a3a98"/><path d="M65.82 233.40L67.07 235.00L65.82 236.60L64.57 235.00Z" fill="#5a3a98"/><path d="M68.91 233.40L70.16 235.00L68.91 236.60L67.66 235.00Z" fill="#5a3a98"/><path d="M72.01 233.40L73.26 235.00L72.01 236.60L70.76 235.00Z" fill="#5a3a98"/><path d="M75.10 233.40L76.35 235.00L75.10 236.60L73.85 235.00Z" fill="#5a3a98"/><path d="M78.19 233.40L79.44 235.00L78.19 236.60L76.94 235.00Z" fill="#5a3a98"/><path d="M81.29 233.40L82.54 235.00L81.29 236.60L80.04 235.00Z" fill="#5a3a98"/><path d="M84.38 233.40L85.63 235.00L84.38 236.60L83.13 235.00Z" fill="#5a3a98"/><path d="M87.48 233.40L88.73 235.00L87.48 236.60L86.23 235.00Z" fill="#5a3a98"/><path d="M90.57 233.40L91.82 235.00L90.57 236.60L89.32 235.00Z" fill="#5a3a98"/><path d="M93.66 233.40L94.91 235.00L93.66 236.60L92.41 235.00Z" fill="#5a3a98"/><path d="M96.76 233.40L98.01 235.00L96.76 236.60L95.51 235.00Z" fill="#5a3a98"/><path d="M99.85 233.40L101.10 235.00L99.85 236.60L98.60 235.00Z" fill="#5a3a98"/><path d="M102.95 233.40L104.20 235.00L102.95 236.60L101.70 235.00Z" fill="#5a3a98"/><path d="M106.04 233.40L107.29 235.00L106.04 236.60L104.79 235.00Z" fill="#5a3a98"/><path d="M109.14 233.40L110.39 235.00L109.14 236.60L107.89 235.00Z" fill="#5a3a98"/><path d="M112.23 233.40L113.48 235.00L112.23 236.60L110.98 235.00Z" fill="#5a3a98"/><path d="M115.32 233.40L116.57 235.00L115.32 236.60L114.07 235.00Z" fill="#5a3a98"/><path d="M118.42 233.40L119.67 235.00L118.42 236.60L117.17 235.00Z" fill="#5a3a98"/><path d="M121.51 233.40L122.76 235.00L121.51 236.60L120.26 235.00Z" fill="#5a3a98"/><path d="M124.61 233.40L125.86 235.00L124.61 236.60L123.36 235.00Z" fill="#5a3a98"/><path d="M127.70 233.40L128.95 235.00L127.70 236.60L126.45 235.00Z" fill="#5a3a98"/><path d="M22.65 225.00 L23.97 240.87 L25.56 252.12 L27.94 258.07 L31.90 260.05 L37.20 260.98 L43.81 263.36 L50.42 265.34 L54.39 266.27 L127.54 266.27" fill="none" stroke="#3a5a7e" stroke-width="0.75" stroke-linejoin="round"/><path d="M21.40 225.00H23.60M22.50 223.90V226.10" stroke="#3a5a7e" stroke-width="0.8" fill="none"/><path d="M24.49 252.21H26.69M25.59 251.11V253.31" stroke="#3a5a7e" stroke-width="0.8" fill="none"/><path d="M27.59 258.44H29.79M28.69 257.34V259.54" stroke="#3a5a7e" stroke-width="0.8" fill="none"/><path d="M30.68 259.99H32.88M31.78 258.89V261.09" stroke="#3a5a7e" stroke-width="0.8" fill="none"/><path d="M33.78 260.57H35.98M34.88 259.47V261.67" stroke="#3a5a7e" stroke-width="0.8" fill="none"/><path d="M36.87 261.26H39.07M37.97 260.16V262.36" stroke="#3a5a7e" stroke-width="0.8" fill="none"/><path d="M39.96 262.37H42.16M41.06 261.27V263.47" stroke="#3a5a7e" stroke-width="0.8" fill="none"/><path d="M43.06 263.46H45.26M44.16 262.36V264.56" stroke="#3a5a7e" stroke-width="0.8" fill="none"/><path d="M46.15 264.39H48.35M47.25 263.29V265.49" stroke="#3a5a7e" stroke-width="0.8" fill="none"/><path d="M49.25 265.32H51.45M50.35 264.22V266.42" stroke="#3a5a7e" stroke-width="0.8" fill="none"/><path d="M52.34 266.05H54.54M53.44 264.95V267.15" stroke="#3a5a7e" stroke-width="0.8" fill="none"/><path d="M55.44 266.27H57.64M56.54 265.17V267.37" stroke="#3a5a7e" stroke-width="0.8" fill="none"/><path d="M58.53 266.27H60.73M59.63 265.17V267.37" stroke="#3a5a7e" stroke-width="0.8" fill="none"/><path d="M61.62 266.27H63.82M62.72 265.17V267.37" stroke="#3a5a7e" stroke-width="0.8" fill="none"/><path d="M64.72 266.27H66.92M65.82 265.17V267.37" stroke="#3a5a7e" stroke-width="0.8" fill="none"/><path d="M67.81 266.27H70.01M68.91 265.17V267.37" stroke="#3a5a7e" stroke-width="0.8" fill="none"/><path d="M70.91 266.27H73.11M72.01 265.17V267.37" stroke="#3a5a7e" stroke-width="0.8" fill="none"/><path d="M74.00 266.27H76.20M75.10 265.17V267.37" stroke="#3a5a7e" stroke-width="0.8" fill="none"/><path d="M77.09 266.27H79.29M78.19 265.17V267.37" stroke="#3a5a7e" stroke-width="0.8" fill="none"/><path d="M80.19 266.27H82.39M81.29 265.17V267.37" stroke="#3a5a7e" stroke-width="0.8" fill="none"/><path d="M83.28 266.27H85.48M84.38 265.17V267.37" stroke="#3a5a7e" stroke-width="0.8" fill="none"/><path d="M86.38 266.27H88.58M87.48 265.17V267.37" stroke="#3a5a7e" stroke-width="0.8" fill="none"/><path d="M89.47 266.27H91.67M90.57 265.17V267.37" stroke="#3a5a7e" stroke-width="0.8" fill="none"/><path d="M92.56 266.27H94.76M93.66 265.17V267.37" stroke="#3a5a7e" stroke-width="0.8" fill="none"/><path d="M95.66 266.27H97.86M96.76 265.17V267.37" stroke="#3a5a7e" stroke-width="0.8" fill="none"/><path d="M98.75 266.27H100.95M99.85 265.17V267.37" stroke="#3a5a7e" stroke-width="0.8" fill="none"/><path d="M101.85 266.27H104.05M102.95 265.17V267.37" stroke="#3a5a7e" stroke-width="0.8" fill="none"/><path d="M104.94 266.27H107.14M106.04 265.17V267.37" stroke="#3a5a7e" stroke-width="0.8" fill="none"/><path d="M108.04 266.27H110.24M109.14 265.17V267.37" stroke="#3a5a7e" stroke-width="0.8" fill="none"/><path d="M111.13 266.27H113.33M112.23 265.17V267.37" stroke="#3a5a7e" stroke-width="0.8" fill="none"/><path d="M114.22 266.27H116.42M115.32 265.17V267.37" stroke="#3a5a7e" stroke-width="0.8" fill="none"/><path d="M117.32 266.27H119.52M118.42 265.17V267.37" stroke="#3a5a7e" stroke-width="0.8" fill="none"/><path d="M120.41 266.27H122.61M121.51 265.17V267.37" stroke="#3a5a7e" stroke-width="0.8" fill="none"/><path d="M123.51 266.27H125.71M124.61 265.17V267.37" stroke="#3a5a7e" stroke-width="0.8" fill="none"/><path d="M126.60 266.27H128.80M127.70 265.17V267.37" stroke="#3a5a7e" stroke-width="0.8" fill="none"/><path d="M22.65 233.60 L24.63 243.52 L25.95 250.79 L27.94 252.12 L32.17 252.51 L33.49 259.66 L35.87 260.71 L41.16 261.77 L44.47 264.02 L47.78 267.33 L53.07 270.63 L59.68 272.62 L66.30 273.94 L77.94 275.00 L127.54 275.40" fill="none" stroke="#e8203c" stroke-width="0.75" stroke-linejoin="round"/><circle cx="22.50" cy="233.60" r="1.3" fill="#e8203c"/><circle cx="25.59" cy="248.82" r="1.3" fill="#e8203c"/><circle cx="28.69" cy="252.19" r="1.3" fill="#e8203c"/><circle cx="31.78" cy="252.48" r="1.3" fill="#e8203c"/><circle cx="34.88" cy="260.27" r="1.3" fill="#e8203c"/><circle cx="37.97" cy="261.13" r="1.3" fill="#e8203c"/><circle cx="41.06" cy="261.75" r="1.3" fill="#e8203c"/><circle cx="44.16" cy="263.81" r="1.3" fill="#e8203c"/><circle cx="47.25" cy="266.80" r="1.3" fill="#e8203c"/><circle cx="50.35" cy="268.93" r="1.3" fill="#e8203c"/><circle cx="53.44" cy="270.75" r="1.3" fill="#e8203c"/><circle cx="56.54" cy="271.67" r="1.3" fill="#e8203c"/><circle cx="59.63" cy="272.60" r="1.3" fill="#e8203c"/><circle cx="62.72" cy="273.23" r="1.3" fill="#e8203c"/><circle cx="65.82" cy="273.85" r="1.3" fill="#e8203c"/><circle cx="68.91" cy="274.18" r="1.3" fill="#e8203c"/><circle cx="72.01" cy="274.46" r="1.3" fill="#e8203c"/><circle cx="75.10" cy="274.74" r="1.3" fill="#e8203c"/><circle cx="78.19" cy="275.00" r="1.3" fill="#e8203c"/><circle cx="81.29" cy="275.03" r="1.3" fill="#e8203c"/><circle cx="84.38" cy="275.05" r="1.3" fill="#e8203c"/><circle cx="87.48" cy="275.08" r="1.3" fill="#e8203c"/><circle cx="90.57" cy="275.10" r="1.3" fill="#e8203c"/><circle cx="93.66" cy="275.13" r="1.3" fill="#e8203c"/><circle cx="96.76" cy="275.15" r="1.3" fill="#e8203c"/><circle cx="99.85" cy="275.18" r="1.3" fill="#e8203c"/><circle cx="102.95" cy="275.20" r="1.3" fill="#e8203c"/><circle cx="106.04" cy="275.22" r="1.3" fill="#e8203c"/><circle cx="109.14" cy="275.25" r="1.3" fill="#e8203c"/><circle cx="112.23" cy="275.27" r="1.3" fill="#e8203c"/><circle cx="115.32" cy="275.30" r="1.3" fill="#e8203c"/><circle cx="118.42" cy="275.32" r="1.3" fill="#e8203c"/><circle cx="121.51" cy="275.35" r="1.3" fill="#e8203c"/><circle cx="124.61" cy="275.37" r="1.3" fill="#e8203c"/><circle cx="127.70" cy="275.40" r="1.3" fill="#e8203c"/></g>
<g><rect x="162.2" y="201.5" width="102.00" height="75.00" fill="#fff" stroke="#c4c4c4" stroke-width="0.7"/><path d="M162.20 276.5v-1M162.20 201.5v1" stroke="#c4c4c4" stroke-width="0.6"/><text x="162.20" y="283.20" class="t m" font-size="5.3" textLength="2.56" lengthAdjust="spacingAndGlyphs">0</text><path d="M182.60 276.5v-1M182.60 201.5v1" stroke="#c4c4c4" stroke-width="0.6"/><text x="182.60" y="283.20" class="t m" font-size="5.3" textLength="7.67" lengthAdjust="spacingAndGlyphs">100</text><path d="M203.00 276.5v-1M203.00 201.5v1" stroke="#c4c4c4" stroke-width="0.6"/><text x="203.00" y="283.20" class="t m" font-size="5.3" textLength="7.67" lengthAdjust="spacingAndGlyphs">200</text><path d="M223.40 276.5v-1M223.40 201.5v1" stroke="#c4c4c4" stroke-width="0.6"/><text x="223.40" y="283.20" class="t m" font-size="5.3" textLength="7.67" lengthAdjust="spacingAndGlyphs">300</text><path d="M243.80 276.5v-1M243.80 201.5v1" stroke="#c4c4c4" stroke-width="0.6"/><text x="243.80" y="283.20" class="t m" font-size="5.3" textLength="7.67" lengthAdjust="spacingAndGlyphs">400</text><path d="M264.20 276.5v-1M264.20 201.5v1" stroke="#c4c4c4" stroke-width="0.6"/><text x="264.20" y="283.20" class="t m" font-size="5.3" textLength="7.67" lengthAdjust="spacingAndGlyphs">500</text><text x="160.20" y="210.90" class="t e" font-size="5.3" textLength="10.23" lengthAdjust="spacingAndGlyphs">5500</text><text x="160.20" y="222.30" class="t e" font-size="5.3" textLength="10.23" lengthAdjust="spacingAndGlyphs">5000</text><text x="160.20" y="237.60" class="t e" font-size="5.3" textLength="10.23" lengthAdjust="spacingAndGlyphs">4500</text><text x="160.20" y="251.60" class="t e" font-size="5.3" textLength="10.23" lengthAdjust="spacingAndGlyphs">4000</text><text x="160.20" y="268.70" class="t e" font-size="5.3" textLength="10.23" lengthAdjust="spacingAndGlyphs">3500</text><text x="213.20" y="200.10" class="t m" font-size="5.4" textLength="55.5" lengthAdjust="spacingAndGlyphs">CEC2017-F27 (Dim =30)</text><text x="213.20" y="289.90" class="t m" font-size="5.4" textLength="19" lengthAdjust="spacingAndGlyphs">Iteration</text><text x="148.70" y="239.00" class="t m" font-size="5.3" textLength="34.5" lengthAdjust="spacingAndGlyphs" transform="rotate(-90 148.70 239.00)">Average fitness</text><path d="M162.20 212.00 L165.00 263.00 L169.00 266.00 L177.00 269.00 L264.20 270.40" fill="none" stroke="#a0a0a0" stroke-width="0.75" stroke-linejoin="round"/><rect x="161.10" y="210.90" width="2.2" height="2.2" fill="#a0a0a0"/><rect x="164.10" y="262.05" width="2.2" height="2.2" fill="#a0a0a0"/><rect x="167.10" y="264.30" width="2.2" height="2.2" fill="#a0a0a0"/><rect x="170.10" y="265.72" width="2.2" height="2.2" fill="#a0a0a0"/><rect x="173.10" y="266.85" width="2.2" height="2.2" fill="#a0a0a0"/><rect x="176.10" y="267.90" width="2.2" height="2.2" fill="#a0a0a0"/><rect x="179.10" y="267.95" width="2.2" height="2.2" fill="#a0a0a0"/><rect x="182.10" y="268.00" width="2.2" height="2.2" fill="#a0a0a0"/><rect x="185.10" y="268.05" width="2.2" height="2.2" fill="#a0a0a0"/><rect x="188.10" y="268.10" width="2.2" height="2.2" fill="#a0a0a0"/><rect x="191.10" y="268.14" width="2.2" height="2.2" fill="#a0a0a0"/><rect x="194.10" y="268.19" width="2.2" height="2.2" fill="#a0a0a0"/><rect x="197.10" y="268.24" width="2.2" height="2.2" fill="#a0a0a0"/><rect x="200.10" y="268.29" width="2.2" height="2.2" fill="#a0a0a0"/><rect x="203.10" y="268.34" width="2.2" height="2.2" fill="#a0a0a0"/><rect x="206.10" y="268.38" width="2.2" height="2.2" fill="#a0a0a0"/><rect x="209.10" y="268.43" width="2.2" height="2.2" fill="#a0a0a0"/><rect x="212.10" y="268.48" width="2.2" height="2.2" fill="#a0a0a0"/><rect x="215.10" y="268.53" width="2.2" height="2.2" fill="#a0a0a0"/><rect x="218.10" y="268.58" width="2.2" height="2.2" fill="#a0a0a0"/><rect x="221.10" y="268.63" width="2.2" height="2.2" fill="#a0a0a0"/><rect x="224.10" y="268.67" width="2.2" height="2.2" fill="#a0a0a0"/><rect x="227.10" y="268.72" width="2.2" height="2.2" fill="#a0a0a0"/><rect x="230.10" y="268.77" width="2.2" height="2.2" fill="#a0a0a0"/><rect x="233.10" y="268.82" width="2.2" height="2.2" fill="#a0a0a0"/><rect x="236.10" y="268.87" width="2.2" height="2.2" fill="#a0a0a0"/><rect x="239.10" y="268.91" width="2.2" height="2.2" fill="#a0a0a0"/><rect x="242.10" y="268.96" width="2.2" height="2.2" fill="#a0a0a0"/><rect x="245.10" y="269.01" width="2.2" height="2.2" fill="#a0a0a0"/><rect x="248.10" y="269.06" width="2.2" height="2.2" fill="#a0a0a0"/><rect x="251.10" y="269.11" width="2.2" height="2.2" fill="#a0a0a0"/><rect x="254.10" y="269.16" width="2.2" height="2.2" fill="#a0a0a0"/><rect x="257.10" y="269.20" width="2.2" height="2.2" fill="#a0a0a0"/><rect x="260.10" y="269.25" width="2.2" height="2.2" fill="#a0a0a0"/><rect x="263.10" y="269.30" width="2.2" height="2.2" fill="#a0a0a0"/><path d="M162.20 210.00 L165.00 262.00 L171.00 264.00 L175.00 269.00 L264.20 269.60" fill="none" stroke="#1f9a48" stroke-width="0.75" stroke-linejoin="round"/><circle cx="162.20" cy="210.00" r="1.25" fill="#1f9a48"/><circle cx="165.20" cy="262.07" r="1.25" fill="#1f9a48"/><circle cx="168.20" cy="263.07" r="1.25" fill="#1f9a48"/><circle cx="171.20" cy="264.25" r="1.25" fill="#1f9a48"/><circle cx="174.20" cy="268.00" r="1.25" fill="#1f9a48"/><circle cx="177.20" cy="269.01" r="1.25" fill="#1f9a48"/><circle cx="180.20" cy="269.03" r="1.25" fill="#1f9a48"/><circle cx="183.20" cy="269.06" r="1.25" fill="#1f9a48"/><circle cx="186.20" cy="269.08" r="1.25" fill="#1f9a48"/><circle cx="189.20" cy="269.10" r="1.25" fill="#1f9a48"/><circle cx="192.20" cy="269.12" r="1.25" fill="#1f9a48"/><circle cx="195.20" cy="269.14" r="1.25" fill="#1f9a48"/><circle cx="198.20" cy="269.16" r="1.25" fill="#1f9a48"/><circle cx="201.20" cy="269.18" r="1.25" fill="#1f9a48"/><circle cx="204.20" cy="269.20" r="1.25" fill="#1f9a48"/><circle cx="207.20" cy="269.22" r="1.25" fill="#1f9a48"/><circle cx="210.20" cy="269.24" r="1.25" fill="#1f9a48"/><circle cx="213.20" cy="269.26" r="1.25" fill="#1f9a48"/><circle cx="216.20" cy="269.28" r="1.25" fill="#1f9a48"/><circle cx="219.20" cy="269.30" r="1.25" fill="#1f9a48"/><circle cx="222.20" cy="269.32" r="1.25" fill="#1f9a48"/><circle cx="225.20" cy="269.34" r="1.25" fill="#1f9a48"/><circle cx="228.20" cy="269.36" r="1.25" fill="#1f9a48"/><circle cx="231.20" cy="269.38" r="1.25" fill="#1f9a48"/><circle cx="234.20" cy="269.40" r="1.25" fill="#1f9a48"/><circle cx="237.20" cy="269.42" r="1.25" fill="#1f9a48"/><circle cx="240.20" cy="269.44" r="1.25" fill="#1f9a48"/><circle cx="243.20" cy="269.46" r="1.25" fill="#1f9a48"/><circle cx="246.20" cy="269.48" r="1.25" fill="#1f9a48"/><circle cx="249.20" cy="269.50" r="1.25" fill="#1f9a48"/><circle cx="252.20" cy="269.52" r="1.25" fill="#1f9a48"/><circle cx="255.20" cy="269.54" r="1.25" fill="#1f9a48"/><circle cx="258.20" cy="269.56" r="1.25" fill="#1f9a48"/><circle cx="261.20" cy="269.58" r="1.25" fill="#1f9a48"/><circle cx="264.20" cy="269.60" r="1.25" fill="#1f9a48"/><path d="M162.20 210.00 L165.00 249.00 L168.00 255.00 L174.00 255.60 L177.00 260.40 L195.00 261.00 L197.00 265.00 L211.00 265.60 L214.00 267.00 L264.20 267.00" fill="none" stroke="#3a3ad6" stroke-width="0.75" stroke-linejoin="round"/><rect x="161.15" y="208.95" width="2.1" height="2.1" fill="#3a3ad6"/><rect x="164.15" y="248.35" width="2.1" height="2.1" fill="#3a3ad6"/><rect x="167.15" y="253.97" width="2.1" height="2.1" fill="#3a3ad6"/><rect x="170.15" y="254.27" width="2.1" height="2.1" fill="#3a3ad6"/><rect x="173.15" y="254.87" width="2.1" height="2.1" fill="#3a3ad6"/><rect x="176.15" y="259.36" width="2.1" height="2.1" fill="#3a3ad6"/><rect x="179.15" y="259.46" width="2.1" height="2.1" fill="#3a3ad6"/><rect x="182.15" y="259.56" width="2.1" height="2.1" fill="#3a3ad6"/><rect x="185.15" y="259.66" width="2.1" height="2.1" fill="#3a3ad6"/><rect x="188.15" y="259.76" width="2.1" height="2.1" fill="#3a3ad6"/><rect x="191.15" y="259.86" width="2.1" height="2.1" fill="#3a3ad6"/><rect x="194.15" y="260.35" width="2.1" height="2.1" fill="#3a3ad6"/><rect x="197.15" y="264.00" width="2.1" height="2.1" fill="#3a3ad6"/><rect x="200.15" y="264.13" width="2.1" height="2.1" fill="#3a3ad6"/><rect x="203.15" y="264.26" width="2.1" height="2.1" fill="#3a3ad6"/><rect x="206.15" y="264.39" width="2.1" height="2.1" fill="#3a3ad6"/><rect x="209.15" y="264.52" width="2.1" height="2.1" fill="#3a3ad6"/><rect x="212.15" y="265.58" width="2.1" height="2.1" fill="#3a3ad6"/><rect x="215.15" y="265.95" width="2.1" height="2.1" fill="#3a3ad6"/><rect x="218.15" y="265.95" width="2.1" height="2.1" fill="#3a3ad6"/><rect x="221.15" y="265.95" width="2.1" height="2.1" fill="#3a3ad6"/><rect x="224.15" y="265.95" width="2.1" height="2.1" fill="#3a3ad6"/><rect x="227.15" y="265.95" width="2.1" height="2.1" fill="#3a3ad6"/><rect x="230.15" y="265.95" width="2.1" height="2.1" fill="#3a3ad6"/><rect x="233.15" y="265.95" width="2.1" height="2.1" fill="#3a3ad6"/><rect x="236.15" y="265.95" width="2.1" height="2.1" fill="#3a3ad6"/><rect x="239.15" y="265.95" width="2.1" height="2.1" fill="#3a3ad6"/><rect x="242.15" y="265.95" width="2.1" height="2.1" fill="#3a3ad6"/><rect x="245.15" y="265.95" width="2.1" height="2.1" fill="#3a3ad6"/><rect x="248.15" y="265.95" width="2.1" height="2.1" fill="#3a3ad6"/><rect x="251.15" y="265.95" width="2.1" height="2.1" fill="#3a3ad6"/><rect x="254.15" y="265.95" width="2.1" height="2.1" fill="#3a3ad6"/><rect x="257.15" y="265.95" width="2.1" height="2.1" fill="#3a3ad6"/><rect x="260.15" y="265.95" width="2.1" height="2.1" fill="#3a3ad6"/><rect x="263.15" y="265.95" width="2.1" height="2.1" fill="#3a3ad6"/><path d="M162.20 201.50 L166.00 201.50 L168.00 203.00 L172.00 207.00 L175.00 209.00 L177.00 213.00 L180.00 215.60 L183.00 221.00 L195.00 221.00 L198.00 223.60 L251.00 223.60 L253.00 224.40 L264.20 224.40" fill="none" stroke="#4a9fd6" stroke-width="0.75" stroke-linejoin="round"/><path d="M161.20 200.50L163.20 202.50M161.20 202.50L163.20 200.50" stroke="#4a9fd6" stroke-width="0.8" fill="none"/><path d="M164.20 200.50L166.20 202.50M164.20 202.50L166.20 200.50" stroke="#4a9fd6" stroke-width="0.8" fill="none"/><path d="M167.20 202.20L169.20 204.20M167.20 204.20L169.20 202.20" stroke="#4a9fd6" stroke-width="0.8" fill="none"/><path d="M170.20 205.20L172.20 207.20M170.20 207.20L172.20 205.20" stroke="#4a9fd6" stroke-width="0.8" fill="none"/><path d="M173.20 207.47L175.20 209.47M173.20 209.47L175.20 207.47" stroke="#4a9fd6" stroke-width="0.8" fill="none"/><path d="M176.20 212.17L178.20 214.17M176.20 214.17L178.20 212.17" stroke="#4a9fd6" stroke-width="0.8" fill="none"/><path d="M179.20 214.96L181.20 216.96M179.20 216.96L181.20 214.96" stroke="#4a9fd6" stroke-width="0.8" fill="none"/><path d="M182.20 220.00L184.20 222.00M182.20 222.00L184.20 220.00" stroke="#4a9fd6" stroke-width="0.8" fill="none"/><path d="M185.20 220.00L187.20 222.00M185.20 222.00L187.20 220.00" stroke="#4a9fd6" stroke-width="0.8" fill="none"/><path d="M188.20 220.00L190.20 222.00M188.20 222.00L190.20 220.00" stroke="#4a9fd6" stroke-width="0.8" fill="none"/><path d="M191.20 220.00L193.20 222.00M191.20 222.00L193.20 220.00" stroke="#4a9fd6" stroke-width="0.8" fill="none"/><path d="M194.20 220.17L196.20 222.17M194.20 222.17L196.20 220.17" stroke="#4a9fd6" stroke-width="0.8" fill="none"/><path d="M197.20 222.60L199.20 224.60M197.20 224.60L199.20 222.60" stroke="#4a9fd6" stroke-width="0.8" fill="none"/><path d="M200.20 222.60L202.20 224.60M200.20 224.60L202.20 222.60" stroke="#4a9fd6" stroke-width="0.8" fill="none"/><path d="M203.20 222.60L205.20 224.60M203.20 224.60L205.20 222.60" stroke="#4a9fd6" stroke-width="0.8" fill="none"/><path d="M206.20 222.60L208.20 224.60M206.20 224.60L208.20 222.60" stroke="#4a9fd6" stroke-width="0.8" fill="none"/><path d="M209.20 222.60L211.20 224.60M209.20 224.60L211.20 222.60" stroke="#4a9fd6" stroke-width="0.8" fill="none"/><path d="M212.20 222.60L214.20 224.60M212.20 224.60L214.20 222.60" stroke="#4a9fd6" stroke-width="0.8" fill="none"/><path d="M215.20 222.60L217.20 224.60M215.20 224.60L217.20 222.60" stroke="#4a9fd6" stroke-width="0.8" fill="none"/><path d="M218.20 222.60L220.20 224.60M218.20 224.60L220.20 222.60" stroke="#4a9fd6" stroke-width="0.8" fill="none"/><path d="M221.20 222.60L223.20 224.60M221.20 224.60L223.20 222.60" stroke="#4a9fd6" stroke-width="0.8" fill="none"/><path d="M224.20 222.60L226.20 224.60M224.20 224.60L226.20 222.60" stroke="#4a9fd6" stroke-width="0.8" fill="none"/><path d="M227.20 222.60L229.20 224.60M227.20 224.60L229.20 222.60" stroke="#4a9fd6" stroke-width="0.8" fill="none"/><path d="M230.20 222.60L232.20 224.60M230.20 224.60L232.20 222.60" stroke="#4a9fd6" stroke-width="0.8" fill="none"/><path d="M233.20 222.60L235.20 224.60M233.20 224.60L235.20 222.60" stroke="#4a9fd6" stroke-width="0.8" fill="none"/><path d="M236.20 222.60L238.20 224.60M236.20 224.60L238.20 222.60" stroke="#4a9fd6" stroke-width="0.8" fill="none"/><path d="M239.20 222.60L241.20 224.60M239.20 224.60L241.20 222.60" stroke="#4a9fd6" stroke-width="0.8" fill="none"/><path d="M242.20 222.60L244.20 224.60M242.20 224.60L244.20 222.60" stroke="#4a9fd6" stroke-width="0.8" fill="none"/><path d="M245.20 222.60L247.20 224.60M245.20 224.60L247.20 222.60" stroke="#4a9fd6" stroke-width="0.8" fill="none"/><path d="M248.20 222.60L250.20 224.60M248.20 224.60L250.20 222.60" stroke="#4a9fd6" stroke-width="0.8" fill="none"/><path d="M251.20 223.08L253.20 225.08M251.20 225.08L253.20 223.08" stroke="#4a9fd6" stroke-width="0.8" fill="none"/><path d="M254.20 223.40L256.20 225.40M254.20 225.40L256.20 223.40" stroke="#4a9fd6" stroke-width="0.8" fill="none"/><path d="M257.20 223.40L259.20 225.40M257.20 225.40L259.20 223.40" stroke="#4a9fd6" stroke-width="0.8" fill="none"/><path d="M260.20 223.40L262.20 225.40M260.20 225.40L262.20 223.40" stroke="#4a9fd6" stroke-width="0.8" fill="none"/><path d="M263.20 223.40L265.20 225.40M263.20 225.40L265.20 223.40" stroke="#4a9fd6" stroke-width="0.8" fill="none"/><path d="M162.20 210.00 L165.00 264.00 L169.00 267.00 L175.00 271.00 L264.20 272.40" fill="none" stroke="#1ecc28" stroke-width="0.75" stroke-linejoin="round"/><circle cx="162.20" cy="210.00" r="1.3" fill="#1ecc28"/><circle cx="165.20" cy="264.15" r="1.3" fill="#1ecc28"/><circle cx="168.20" cy="266.40" r="1.3" fill="#1ecc28"/><circle cx="171.20" cy="268.47" r="1.3" fill="#1ecc28"/><circle cx="174.20" cy="270.47" r="1.3" fill="#1ecc28"/><circle cx="177.20" cy="271.03" r="1.3" fill="#1ecc28"/><circle cx="180.20" cy="271.08" r="1.3" fill="#1ecc28"/><circle cx="183.20" cy="271.13" r="1.3" fill="#1ecc28"/><circle cx="186.20" cy="271.18" r="1.3" fill="#1ecc28"/><circle cx="189.20" cy="271.22" r="1.3" fill="#1ecc28"/><circle cx="192.20" cy="271.27" r="1.3" fill="#1ecc28"/><circle cx="195.20" cy="271.32" r="1.3" fill="#1ecc28"/><circle cx="198.20" cy="271.36" r="1.3" fill="#1ecc28"/><circle cx="201.20" cy="271.41" r="1.3" fill="#1ecc28"/><circle cx="204.20" cy="271.46" r="1.3" fill="#1ecc28"/><circle cx="207.20" cy="271.51" r="1.3" fill="#1ecc28"/><circle cx="210.20" cy="271.55" r="1.3" fill="#1ecc28"/><circle cx="213.20" cy="271.60" r="1.3" fill="#1ecc28"/><circle cx="216.20" cy="271.65" r="1.3" fill="#1ecc28"/><circle cx="219.20" cy="271.69" r="1.3" fill="#1ecc28"/><circle cx="222.20" cy="271.74" r="1.3" fill="#1ecc28"/><circle cx="225.20" cy="271.79" r="1.3" fill="#1ecc28"/><circle cx="228.20" cy="271.83" r="1.3" fill="#1ecc28"/><circle cx="231.20" cy="271.88" r="1.3" fill="#1ecc28"/><circle cx="234.20" cy="271.93" r="1.3" fill="#1ecc28"/><circle cx="237.20" cy="271.98" r="1.3" fill="#1ecc28"/><circle cx="240.20" cy="272.02" r="1.3" fill="#1ecc28"/><circle cx="243.20" cy="272.07" r="1.3" fill="#1ecc28"/><circle cx="246.20" cy="272.12" r="1.3" fill="#1ecc28"/><circle cx="249.20" cy="272.16" r="1.3" fill="#1ecc28"/><circle cx="252.20" cy="272.21" r="1.3" fill="#1ecc28"/><circle cx="255.20" cy="272.26" r="1.3" fill="#1ecc28"/><circle cx="258.20" cy="272.31" r="1.3" fill="#1ecc28"/><circle cx="261.20" cy="272.35" r="1.3" fill="#1ecc28"/><circle cx="264.20" cy="272.40" r="1.3" fill="#1ecc28"/><path d="M162.20 213.00 L165.00 224.00 L169.00 225.00 L171.00 235.00 L177.00 235.60 L181.00 237.40 L264.20 237.40" fill="none" stroke="#5a3a98" stroke-width="0.75" stroke-linejoin="round"/><path d="M162.20 211.40L163.45 213.00L162.20 214.60L160.95 213.00Z" fill="#5a3a98"/><path d="M165.20 222.45L166.45 224.05L165.20 225.65L163.95 224.05Z" fill="#5a3a98"/><path d="M168.20 223.20L169.45 224.80L168.20 226.40L166.95 224.80Z" fill="#5a3a98"/><path d="M171.20 233.42L172.45 235.02L171.20 236.62L169.95 235.02Z" fill="#5a3a98"/><path d="M174.20 233.72L175.45 235.32L174.20 236.92L172.95 235.32Z" fill="#5a3a98"/><path d="M177.20 234.09L178.45 235.69L177.20 237.29L175.95 235.69Z" fill="#5a3a98"/><path d="M180.20 235.44L181.45 237.04L180.20 238.64L178.95 237.04Z" fill="#5a3a98"/><path d="M183.20 235.80L184.45 237.40L183.20 239.00L181.95 237.40Z" fill="#5a3a98"/><path d="M186.20 235.80L187.45 237.40L186.20 239.00L184.95 237.40Z" fill="#5a3a98"/><path d="M189.20 235.80L190.45 237.40L189.20 239.00L187.95 237.40Z" fill="#5a3a98"/><path d="M192.20 235.80L193.45 237.40L192.20 239.00L190.95 237.40Z" fill="#5a3a98"/><path d="M195.20 235.80L196.45 237.40L195.20 239.00L193.95 237.40Z" fill="#5a3a98"/><path d="M198.20 235.80L199.45 237.40L198.20 239.00L196.95 237.40Z" fill="#5a3a98"/><path d="M201.20 235.80L202.45 237.40L201.20 239.00L199.95 237.40Z" fill="#5a3a98"/><path d="M204.20 235.80L205.45 237.40L204.20 239.00L202.95 237.40Z" fill="#5a3a98"/><path d="M207.20 235.80L208.45 237.40L207.20 239.00L205.95 237.40Z" fill="#5a3a98"/><path d="M210.20 235.80L211.45 237.40L210.20 239.00L208.95 237.40Z" fill="#5a3a98"/><path d="M213.20 235.80L214.45 237.40L213.20 239.00L211.95 237.40Z" fill="#5a3a98"/><path d="M216.20 235.80L217.45 237.40L216.20 239.00L214.95 237.40Z" fill="#5a3a98"/><path d="M219.20 235.80L220.45 237.40L219.20 239.00L217.95 237.40Z" fill="#5a3a98"/><path d="M222.20 235.80L223.45 237.40L222.20 239.00L220.95 237.40Z" fill="#5a3a98"/><path d="M225.20 235.80L226.45 237.40L225.20 239.00L223.95 237.40Z" fill="#5a3a98"/><path d="M228.20 235.80L229.45 237.40L228.20 239.00L226.95 237.40Z" fill="#5a3a98"/><path d="M231.20 235.80L232.45 237.40L231.20 239.00L229.95 237.40Z" fill="#5a3a98"/><path d="M234.20 235.80L235.45 237.40L234.20 239.00L232.95 237.40Z" fill="#5a3a98"/><path d="M237.20 235.80L238.45 237.40L237.20 239.00L235.95 237.40Z" fill="#5a3a98"/><path d="M240.20 235.80L241.45 237.40L240.20 239.00L238.95 237.40Z" fill="#5a3a98"/><path d="M243.20 235.80L244.45 237.40L243.20 239.00L241.95 237.40Z" fill="#5a3a98"/><path d="M246.20 235.80L247.45 237.40L246.20 239.00L244.95 237.40Z" fill="#5a3a98"/><path d="M249.20 235.80L250.45 237.40L249.20 239.00L247.95 237.40Z" fill="#5a3a98"/><path d="M252.20 235.80L253.45 237.40L252.20 239.00L250.95 237.40Z" fill="#5a3a98"/><path d="M255.20 235.80L256.45 237.40L255.20 239.00L253.95 237.40Z" fill="#5a3a98"/><path d="M258.20 235.80L259.45 237.40L258.20 239.00L256.95 237.40Z" fill="#5a3a98"/><path d="M261.20 235.80L262.45 237.40L261.20 239.00L259.95 237.40Z" fill="#5a3a98"/><path d="M264.20 235.80L265.45 237.40L264.20 239.00L262.95 237.40Z" fill="#5a3a98"/><path d="M162.20 210.00 L165.00 264.00 L169.00 268.00 L173.00 269.60 L264.20 270.00" fill="none" stroke="#3a5a7e" stroke-width="0.75" stroke-linejoin="round"/><path d="M161.10 210.00H163.30M162.20 208.90V211.10" stroke="#3a5a7e" stroke-width="0.8" fill="none"/><path d="M164.10 264.20H166.30M165.20 263.10V265.30" stroke="#3a5a7e" stroke-width="0.8" fill="none"/><path d="M167.10 267.20H169.30M168.20 266.10V268.30" stroke="#3a5a7e" stroke-width="0.8" fill="none"/><path d="M170.10 268.88H172.30M171.20 267.78V269.98" stroke="#3a5a7e" stroke-width="0.8" fill="none"/><path d="M173.10 269.61H175.30M174.20 268.51V270.71" stroke="#3a5a7e" stroke-width="0.8" fill="none"/><path d="M176.10 269.62H178.30M177.20 268.52V270.72" stroke="#3a5a7e" stroke-width="0.8" fill="none"/><path d="M179.10 269.63H181.30M180.20 268.53V270.73" stroke="#3a5a7e" stroke-width="0.8" fill="none"/><path d="M182.10 269.64H184.30M183.20 268.54V270.74" stroke="#3a5a7e" stroke-width="0.8" fill="none"/><path d="M185.10 269.66H187.30M186.20 268.56V270.76" stroke="#3a5a7e" stroke-width="0.8" fill="none"/><path d="M188.10 269.67H190.30M189.20 268.57V270.77" stroke="#3a5a7e" stroke-width="0.8" fill="none"/><path d="M191.10 269.68H193.30M192.20 268.58V270.78" stroke="#3a5a7e" stroke-width="0.8" fill="none"/><path d="M194.10 269.70H196.30M195.20 268.60V270.80" stroke="#3a5a7e" stroke-width="0.8" fill="none"/><path d="M197.10 269.71H199.30M198.20 268.61V270.81" stroke="#3a5a7e" stroke-width="0.8" fill="none"/><path d="M200.10 269.72H202.30M201.20 268.62V270.82" stroke="#3a5a7e" stroke-width="0.8" fill="none"/><path d="M203.10 269.74H205.30M204.20 268.64V270.84" stroke="#3a5a7e" stroke-width="0.8" fill="none"/><path d="M206.10 269.75H208.30M207.20 268.65V270.85" stroke="#3a5a7e" stroke-width="0.8" fill="none"/><path d="M209.10 269.76H211.30M210.20 268.66V270.86" stroke="#3a5a7e" stroke-width="0.8" fill="none"/><path d="M212.10 269.78H214.30M213.20 268.68V270.88" stroke="#3a5a7e" stroke-width="0.8" fill="none"/><path d="M215.10 269.79H217.30M216.20 268.69V270.89" stroke="#3a5a7e" stroke-width="0.8" fill="none"/><path d="M218.10 269.80H220.30M219.20 268.70V270.90" stroke="#3a5a7e" stroke-width="0.8" fill="none"/><path d="M221.10 269.82H223.30M222.20 268.72V270.92" stroke="#3a5a7e" stroke-width="0.8" fill="none"/><path d="M224.10 269.83H226.30M225.20 268.73V270.93" stroke="#3a5a7e" stroke-width="0.8" fill="none"/><path d="M227.10 269.84H229.30M228.20 268.74V270.94" stroke="#3a5a7e" stroke-width="0.8" fill="none"/><path d="M230.10 269.86H232.30M231.20 268.76V270.96" stroke="#3a5a7e" stroke-width="0.8" fill="none"/><path d="M233.10 269.87H235.30M234.20 268.77V270.97" stroke="#3a5a7e" stroke-width="0.8" fill="none"/><path d="M236.10 269.88H238.30M237.20 268.78V270.98" stroke="#3a5a7e" stroke-width="0.8" fill="none"/><path d="M239.10 269.89H241.30M240.20 268.79V270.99" stroke="#3a5a7e" stroke-width="0.8" fill="none"/><path d="M242.10 269.91H244.30M243.20 268.81V271.01" stroke="#3a5a7e" stroke-width="0.8" fill="none"/><path d="M245.10 269.92H247.30M246.20 268.82V271.02" stroke="#3a5a7e" stroke-width="0.8" fill="none"/><path d="M248.10 269.93H250.30M249.20 268.83V271.03" stroke="#3a5a7e" stroke-width="0.8" fill="none"/><path d="M251.10 269.95H253.30M252.20 268.85V271.05" stroke="#3a5a7e" stroke-width="0.8" fill="none"/><path d="M254.10 269.96H256.30M255.20 268.86V271.06" stroke="#3a5a7e" stroke-width="0.8" fill="none"/><path d="M257.10 269.97H259.30M258.20 268.87V271.07" stroke="#3a5a7e" stroke-width="0.8" fill="none"/><path d="M260.10 269.99H262.30M261.20 268.89V271.09" stroke="#3a5a7e" stroke-width="0.8" fill="none"/><path d="M263.10 270.00H265.30M264.20 268.90V271.10" stroke="#3a5a7e" stroke-width="0.8" fill="none"/><path d="M162.20 207.00 L164.00 258.00 L165.00 271.60 L169.00 275.00 L177.00 276.00 L264.20 276.00" fill="none" stroke="#e8203c" stroke-width="0.75" stroke-linejoin="round"/><circle cx="162.20" cy="207.00" r="1.3" fill="#e8203c"/><circle cx="165.20" cy="271.77" r="1.3" fill="#e8203c"/><circle cx="168.20" cy="274.32" r="1.3" fill="#e8203c"/><circle cx="171.20" cy="275.27" r="1.3" fill="#e8203c"/><circle cx="174.20" cy="275.65" r="1.3" fill="#e8203c"/><circle cx="177.20" cy="276.00" r="1.3" fill="#e8203c"/><circle cx="180.20" cy="276.00" r="1.3" fill="#e8203c"/><circle cx="183.20" cy="276.00" r="1.3" fill="#e8203c"/><circle cx="186.20" cy="276.00" r="1.3" fill="#e8203c"/><circle cx="189.20" cy="276.00" r="1.3" fill="#e8203c"/><circle cx="192.20" cy="276.00" r="1.3" fill="#e8203c"/><circle cx="195.20" cy="276.00" r="1.3" fill="#e8203c"/><circle cx="198.20" cy="276.00" r="1.3" fill="#e8203c"/><circle cx="201.20" cy="276.00" r="1.3" fill="#e8203c"/><circle cx="204.20" cy="276.00" r="1.3" fill="#e8203c"/><circle cx="207.20" cy="276.00" r="1.3" fill="#e8203c"/><circle cx="210.20" cy="276.00" r="1.3" fill="#e8203c"/><circle cx="213.20" cy="276.00" r="1.3" fill="#e8203c"/><circle cx="216.20" cy="276.00" r="1.3" fill="#e8203c"/><circle cx="219.20" cy="276.00" r="1.3" fill="#e8203c"/><circle cx="222.20" cy="276.00" r="1.3" fill="#e8203c"/><circle cx="225.20" cy="276.00" r="1.3" fill="#e8203c"/><circle cx="228.20" cy="276.00" r="1.3" fill="#e8203c"/><circle cx="231.20" cy="276.00" r="1.3" fill="#e8203c"/><circle cx="234.20" cy="276.00" r="1.3" fill="#e8203c"/><circle cx="237.20" cy="276.00" r="1.3" fill="#e8203c"/><circle cx="240.20" cy="276.00" r="1.3" fill="#e8203c"/><circle cx="243.20" cy="276.00" r="1.3" fill="#e8203c"/><circle cx="246.20" cy="276.00" r="1.3" fill="#e8203c"/><circle cx="249.20" cy="276.00" r="1.3" fill="#e8203c"/><circle cx="252.20" cy="276.00" r="1.3" fill="#e8203c"/><circle cx="255.20" cy="276.00" r="1.3" fill="#e8203c"/><circle cx="258.20" cy="276.00" r="1.3" fill="#e8203c"/><circle cx="261.20" cy="276.00" r="1.3" fill="#e8203c"/><circle cx="264.20" cy="276.00" r="1.3" fill="#e8203c"/></g>
<g><rect x="294.8" y="201.3" width="104.90" height="75.20" fill="#fff" stroke="#c4c4c4" stroke-width="0.7"/><path d="M294.80 276.5v-1M294.80 201.3v1" stroke="#c4c4c4" stroke-width="0.6"/><text x="294.80" y="283.20" class="t m" font-size="5.3" textLength="2.56" lengthAdjust="spacingAndGlyphs">0</text><path d="M315.78 276.5v-1M315.78 201.3v1" stroke="#c4c4c4" stroke-width="0.6"/><text x="315.78" y="283.20" class="t m" font-size="5.3" textLength="7.67" lengthAdjust="spacingAndGlyphs">100</text><path d="M336.76 276.5v-1M336.76 201.3v1" stroke="#c4c4c4" stroke-width="0.6"/><text x="336.76" y="283.20" class="t m" font-size="5.3" textLength="7.67" lengthAdjust="spacingAndGlyphs">200</text><path d="M357.74 276.5v-1M357.74 201.3v1" stroke="#c4c4c4" stroke-width="0.6"/><text x="357.74" y="283.20" class="t m" font-size="5.3" textLength="7.67" lengthAdjust="spacingAndGlyphs">300</text><path d="M378.72 276.5v-1M378.72 201.3v1" stroke="#c4c4c4" stroke-width="0.6"/><text x="378.72" y="283.20" class="t m" font-size="5.3" textLength="7.67" lengthAdjust="spacingAndGlyphs">400</text><path d="M399.70 276.5v-1M399.70 201.3v1" stroke="#c4c4c4" stroke-width="0.6"/><text x="399.70" y="283.20" class="t m" font-size="5.3" textLength="7.67" lengthAdjust="spacingAndGlyphs">500</text><text x="292.80" y="208.40" class="t e" font-size="5.3" textLength="2.56" lengthAdjust="spacingAndGlyphs">2</text><text x="292.80" y="221.10" class="t e" font-size="5.3" textLength="6.39" lengthAdjust="spacingAndGlyphs">1.5</text><text x="292.80" y="236.30" class="t e" font-size="5.3" textLength="2.56" lengthAdjust="spacingAndGlyphs">1</text><text x="292.80" y="261.80" class="t e" font-size="5.3" textLength="6.39" lengthAdjust="spacingAndGlyphs">0.5</text><text x="295.80" y="200.70" class="t" font-size="4.2">× 10<tspan font-size="3" dy="-1.8">4</tspan></text><text x="347.25" y="199.90" class="t m" font-size="5.4" textLength="55.5" lengthAdjust="spacingAndGlyphs">CEC2017-F28 (Dim =30)</text><text x="347.25" y="289.90" class="t m" font-size="5.4" textLength="19" lengthAdjust="spacingAndGlyphs">Iteration</text><text x="283.90" y="238.90" class="t m" font-size="5.3" textLength="34.5" lengthAdjust="spacingAndGlyphs" transform="rotate(-90 283.90 238.90)">Average fitness</text><path d="M294.80 228.00 L298.00 251.00 L304.00 255.00 L308.00 256.40 L320.00 257.00 L376.00 258.00 L378.00 266.00 L384.00 271.00 L390.00 273.00 L399.60 274.40" fill="none" stroke="#a0a0a0" stroke-width="0.75" stroke-linejoin="round"/><rect x="293.70" y="226.90" width="2.2" height="2.2" fill="#a0a0a0"/><rect x="296.79" y="249.08" width="2.2" height="2.2" fill="#a0a0a0"/><rect x="299.87" y="251.88" width="2.2" height="2.2" fill="#a0a0a0"/><rect x="302.96" y="253.92" width="2.2" height="2.2" fill="#a0a0a0"/><rect x="306.04" y="255.00" width="2.2" height="2.2" fill="#a0a0a0"/><rect x="309.13" y="255.41" width="2.2" height="2.2" fill="#a0a0a0"/><rect x="312.21" y="255.57" width="2.2" height="2.2" fill="#a0a0a0"/><rect x="315.30" y="255.72" width="2.2" height="2.2" fill="#a0a0a0"/><rect x="318.38" y="255.87" width="2.2" height="2.2" fill="#a0a0a0"/><rect x="321.47" y="255.95" width="2.2" height="2.2" fill="#a0a0a0"/><rect x="324.55" y="256.00" width="2.2" height="2.2" fill="#a0a0a0"/><rect x="327.64" y="256.06" width="2.2" height="2.2" fill="#a0a0a0"/><rect x="330.72" y="256.11" width="2.2" height="2.2" fill="#a0a0a0"/><rect x="333.81" y="256.17" width="2.2" height="2.2" fill="#a0a0a0"/><rect x="336.89" y="256.22" width="2.2" height="2.2" fill="#a0a0a0"/><rect x="339.98" y="256.28" width="2.2" height="2.2" fill="#a0a0a0"/><rect x="343.06" y="256.33" width="2.2" height="2.2" fill="#a0a0a0"/><rect x="346.15" y="256.39" width="2.2" height="2.2" fill="#a0a0a0"/><rect x="349.24" y="256.44" width="2.2" height="2.2" fill="#a0a0a0"/><rect x="352.32" y="256.50" width="2.2" height="2.2" fill="#a0a0a0"/><rect x="355.41" y="256.55" width="2.2" height="2.2" fill="#a0a0a0"/><rect x="358.49" y="256.61" width="2.2" height="2.2" fill="#a0a0a0"/><rect x="361.58" y="256.66" width="2.2" height="2.2" fill="#a0a0a0"/><rect x="364.66" y="256.72" width="2.2" height="2.2" fill="#a0a0a0"/><rect x="367.75" y="256.77" width="2.2" height="2.2" fill="#a0a0a0"/><rect x="370.83" y="256.83" width="2.2" height="2.2" fill="#a0a0a0"/><rect x="373.92" y="256.88" width="2.2" height="2.2" fill="#a0a0a0"/><rect x="377.00" y="264.99" width="2.2" height="2.2" fill="#a0a0a0"/><rect x="380.09" y="267.56" width="2.2" height="2.2" fill="#a0a0a0"/><rect x="383.17" y="269.99" width="2.2" height="2.2" fill="#a0a0a0"/><rect x="386.26" y="271.02" width="2.2" height="2.2" fill="#a0a0a0"/><rect x="389.34" y="271.96" width="2.2" height="2.2" fill="#a0a0a0"/><rect x="392.43" y="272.41" width="2.2" height="2.2" fill="#a0a0a0"/><rect x="395.51" y="272.86" width="2.2" height="2.2" fill="#a0a0a0"/><rect x="398.60" y="273.30" width="2.2" height="2.2" fill="#a0a0a0"/><path d="M294.80 234.00 L298.00 255.00 L304.00 259.00 L309.00 261.60 L399.60 263.00" fill="none" stroke="#1f9a48" stroke-width="0.75" stroke-linejoin="round"/><circle cx="294.80" cy="234.00" r="1.25" fill="#1f9a48"/><circle cx="297.89" cy="254.25" r="1.25" fill="#1f9a48"/><circle cx="300.97" cy="256.98" r="1.25" fill="#1f9a48"/><circle cx="304.06" cy="259.03" r="1.25" fill="#1f9a48"/><circle cx="307.14" cy="260.63" r="1.25" fill="#1f9a48"/><circle cx="310.23" cy="261.62" r="1.25" fill="#1f9a48"/><circle cx="313.31" cy="261.67" r="1.25" fill="#1f9a48"/><circle cx="316.40" cy="261.71" r="1.25" fill="#1f9a48"/><circle cx="319.48" cy="261.76" r="1.25" fill="#1f9a48"/><circle cx="322.57" cy="261.81" r="1.25" fill="#1f9a48"/><circle cx="325.65" cy="261.86" r="1.25" fill="#1f9a48"/><circle cx="328.74" cy="261.91" r="1.25" fill="#1f9a48"/><circle cx="331.82" cy="261.95" r="1.25" fill="#1f9a48"/><circle cx="334.91" cy="262.00" r="1.25" fill="#1f9a48"/><circle cx="337.99" cy="262.05" r="1.25" fill="#1f9a48"/><circle cx="341.08" cy="262.10" r="1.25" fill="#1f9a48"/><circle cx="344.16" cy="262.14" r="1.25" fill="#1f9a48"/><circle cx="347.25" cy="262.19" r="1.25" fill="#1f9a48"/><circle cx="350.34" cy="262.24" r="1.25" fill="#1f9a48"/><circle cx="353.42" cy="262.29" r="1.25" fill="#1f9a48"/><circle cx="356.51" cy="262.33" r="1.25" fill="#1f9a48"/><circle cx="359.59" cy="262.38" r="1.25" fill="#1f9a48"/><circle cx="362.68" cy="262.43" r="1.25" fill="#1f9a48"/><circle cx="365.76" cy="262.48" r="1.25" fill="#1f9a48"/><circle cx="368.85" cy="262.52" r="1.25" fill="#1f9a48"/><circle cx="371.93" cy="262.57" r="1.25" fill="#1f9a48"/><circle cx="375.02" cy="262.62" r="1.25" fill="#1f9a48"/><circle cx="378.10" cy="262.67" r="1.25" fill="#1f9a48"/><circle cx="381.19" cy="262.72" r="1.25" fill="#1f9a48"/><circle cx="384.27" cy="262.76" r="1.25" fill="#1f9a48"/><circle cx="387.36" cy="262.81" r="1.25" fill="#1f9a48"/><circle cx="390.44" cy="262.86" r="1.25" fill="#1f9a48"/><circle cx="393.53" cy="262.91" r="1.25" fill="#1f9a48"/><circle cx="396.61" cy="262.95" r="1.25" fill="#1f9a48"/><circle cx="399.70" cy="263.00" r="1.25" fill="#1f9a48"/><path d="M294.80 210.00 L297.00 232.00 L300.00 232.00 L302.00 234.00 L308.00 234.00 L312.00 241.00 L314.00 245.00 L322.00 245.00 L327.00 250.00 L340.00 250.40 L343.00 256.00 L348.00 261.00 L352.00 262.00 L356.00 265.00 L399.60 265.60" fill="none" stroke="#3a3ad6" stroke-width="0.75" stroke-linejoin="round"/><rect x="293.75" y="208.95" width="2.1" height="2.1" fill="#3a3ad6"/><rect x="296.84" y="230.95" width="2.1" height="2.1" fill="#3a3ad6"/><rect x="299.92" y="231.92" width="2.1" height="2.1" fill="#3a3ad6"/><rect x="303.01" y="232.95" width="2.1" height="2.1" fill="#3a3ad6"/><rect x="306.09" y="232.95" width="2.1" height="2.1" fill="#3a3ad6"/><rect x="309.18" y="236.85" width="2.1" height="2.1" fill="#3a3ad6"/><rect x="312.26" y="242.57" width="2.1" height="2.1" fill="#3a3ad6"/><rect x="315.35" y="243.95" width="2.1" height="2.1" fill="#3a3ad6"/><rect x="318.43" y="243.95" width="2.1" height="2.1" fill="#3a3ad6"/><rect x="321.52" y="244.52" width="2.1" height="2.1" fill="#3a3ad6"/><rect x="324.60" y="247.60" width="2.1" height="2.1" fill="#3a3ad6"/><rect x="327.69" y="249.00" width="2.1" height="2.1" fill="#3a3ad6"/><rect x="330.77" y="249.10" width="2.1" height="2.1" fill="#3a3ad6"/><rect x="333.86" y="249.19" width="2.1" height="2.1" fill="#3a3ad6"/><rect x="336.94" y="249.29" width="2.1" height="2.1" fill="#3a3ad6"/><rect x="340.03" y="251.36" width="2.1" height="2.1" fill="#3a3ad6"/><rect x="343.11" y="256.11" width="2.1" height="2.1" fill="#3a3ad6"/><rect x="346.20" y="259.20" width="2.1" height="2.1" fill="#3a3ad6"/><rect x="349.29" y="260.53" width="2.1" height="2.1" fill="#3a3ad6"/><rect x="352.37" y="262.02" width="2.1" height="2.1" fill="#3a3ad6"/><rect x="355.46" y="263.96" width="2.1" height="2.1" fill="#3a3ad6"/><rect x="358.54" y="264.00" width="2.1" height="2.1" fill="#3a3ad6"/><rect x="361.63" y="264.04" width="2.1" height="2.1" fill="#3a3ad6"/><rect x="364.71" y="264.08" width="2.1" height="2.1" fill="#3a3ad6"/><rect x="367.80" y="264.13" width="2.1" height="2.1" fill="#3a3ad6"/><rect x="370.88" y="264.17" width="2.1" height="2.1" fill="#3a3ad6"/><rect x="373.97" y="264.21" width="2.1" height="2.1" fill="#3a3ad6"/><rect x="377.05" y="264.25" width="2.1" height="2.1" fill="#3a3ad6"/><rect x="380.14" y="264.30" width="2.1" height="2.1" fill="#3a3ad6"/><rect x="383.22" y="264.34" width="2.1" height="2.1" fill="#3a3ad6"/><rect x="386.31" y="264.38" width="2.1" height="2.1" fill="#3a3ad6"/><rect x="389.39" y="264.42" width="2.1" height="2.1" fill="#3a3ad6"/><rect x="392.48" y="264.47" width="2.1" height="2.1" fill="#3a3ad6"/><rect x="395.56" y="264.51" width="2.1" height="2.1" fill="#3a3ad6"/><rect x="398.65" y="264.55" width="2.1" height="2.1" fill="#3a3ad6"/><path d="M294.80 202.00 L297.00 232.00 L300.00 241.00 L304.00 241.60 L399.60 242.40" fill="none" stroke="#4a9fd6" stroke-width="0.75" stroke-linejoin="round"/><path d="M293.80 201.00L295.80 203.00M293.80 203.00L295.80 201.00" stroke="#4a9fd6" stroke-width="0.8" fill="none"/><path d="M296.89 233.66L298.89 235.66M296.89 235.66L298.89 233.66" stroke="#4a9fd6" stroke-width="0.8" fill="none"/><path d="M299.97 240.15L301.97 242.15M299.97 242.15L301.97 240.15" stroke="#4a9fd6" stroke-width="0.8" fill="none"/><path d="M303.06 240.60L305.06 242.60M303.06 242.60L305.06 240.60" stroke="#4a9fd6" stroke-width="0.8" fill="none"/><path d="M306.14 240.63L308.14 242.63M306.14 242.63L308.14 240.63" stroke="#4a9fd6" stroke-width="0.8" fill="none"/><path d="M309.23 240.65L311.23 242.65M309.23 242.65L311.23 240.65" stroke="#4a9fd6" stroke-width="0.8" fill="none"/><path d="M312.31 240.68L314.31 242.68M312.31 242.68L314.31 240.68" stroke="#4a9fd6" stroke-width="0.8" fill="none"/><path d="M315.40 240.70L317.40 242.70M315.40 242.70L317.40 240.70" stroke="#4a9fd6" stroke-width="0.8" fill="none"/><path d="M318.48 240.73L320.48 242.73M318.48 242.73L320.48 240.73" stroke="#4a9fd6" stroke-width="0.8" fill="none"/><path d="M321.57 240.76L323.57 242.76M321.57 242.76L323.57 240.76" stroke="#4a9fd6" stroke-width="0.8" fill="none"/><path d="M324.65 240.78L326.65 242.78M324.65 242.78L326.65 240.78" stroke="#4a9fd6" stroke-width="0.8" fill="none"/><path d="M327.74 240.81L329.74 242.81M327.74 242.81L329.74 240.81" stroke="#4a9fd6" stroke-width="0.8" fill="none"/><path d="M330.82 240.83L332.82 242.83M330.82 242.83L332.82 240.83" stroke="#4a9fd6" stroke-width="0.8" fill="none"/><path d="M333.91 240.86L335.91 242.86M333.91 242.86L335.91 240.86" stroke="#4a9fd6" stroke-width="0.8" fill="none"/><path d="M336.99 240.88L338.99 242.88M336.99 242.88L338.99 240.88" stroke="#4a9fd6" stroke-width="0.8" fill="none"/><path d="M340.08 240.91L342.08 242.91M340.08 242.91L342.08 240.91" stroke="#4a9fd6" stroke-width="0.8" fill="none"/><path d="M343.16 240.94L345.16 242.94M343.16 242.94L345.16 240.94" stroke="#4a9fd6" stroke-width="0.8" fill="none"/><path d="M346.25 240.96L348.25 242.96M346.25 242.96L348.25 240.96" stroke="#4a9fd6" stroke-width="0.8" fill="none"/><path d="M349.34 240.99L351.34 242.99M349.34 242.99L351.34 240.99" stroke="#4a9fd6" stroke-width="0.8" fill="none"/><path d="M352.42 241.01L354.42 243.01M352.42 243.01L354.42 241.01" stroke="#4a9fd6" stroke-width="0.8" fill="none"/><path d="M355.51 241.04L357.51 243.04M355.51 243.04L357.51 241.04" stroke="#4a9fd6" stroke-width="0.8" fill="none"/><path d="M358.59 241.07L360.59 243.07M358.59 243.07L360.59 241.07" stroke="#4a9fd6" stroke-width="0.8" fill="none"/><path d="M361.68 241.09L363.68 243.09M361.68 243.09L363.68 241.09" stroke="#4a9fd6" stroke-width="0.8" fill="none"/><path d="M364.76 241.12L366.76 243.12M364.76 243.12L366.76 241.12" stroke="#4a9fd6" stroke-width="0.8" fill="none"/><path d="M367.85 241.14L369.85 243.14M367.85 243.14L369.85 241.14" stroke="#4a9fd6" stroke-width="0.8" fill="none"/><path d="M370.93 241.17L372.93 243.17M370.93 243.17L372.93 241.17" stroke="#4a9fd6" stroke-width="0.8" fill="none"/><path d="M374.02 241.19L376.02 243.19M374.02 243.19L376.02 241.19" stroke="#4a9fd6" stroke-width="0.8" fill="none"/><path d="M377.10 241.22L379.10 243.22M377.10 243.22L379.10 241.22" stroke="#4a9fd6" stroke-width="0.8" fill="none"/><path d="M380.19 241.25L382.19 243.25M380.19 243.25L382.19 241.25" stroke="#4a9fd6" stroke-width="0.8" fill="none"/><path d="M383.27 241.27L385.27 243.27M383.27 243.27L385.27 241.27" stroke="#4a9fd6" stroke-width="0.8" fill="none"/><path d="M386.36 241.30L388.36 243.30M386.36 243.30L388.36 241.30" stroke="#4a9fd6" stroke-width="0.8" fill="none"/><path d="M389.44 241.32L391.44 243.32M389.44 243.32L391.44 241.32" stroke="#4a9fd6" stroke-width="0.8" fill="none"/><path d="M392.53 241.35L394.53 243.35M392.53 243.35L394.53 241.35" stroke="#4a9fd6" stroke-width="0.8" fill="none"/><path d="M395.61 241.38L397.61 243.38M395.61 243.38L397.61 241.38" stroke="#4a9fd6" stroke-width="0.8" fill="none"/><path d="M398.70 241.40L400.70 243.40M398.70 243.40L400.70 241.40" stroke="#4a9fd6" stroke-width="0.8" fill="none"/><path d="M294.80 234.00 L297.00 252.00 L299.00 258.00 L302.00 263.00 L310.00 268.00 L320.00 273.00 L330.00 274.00 L399.60 274.00" fill="none" stroke="#1ecc28" stroke-width="0.75" stroke-linejoin="round"/><circle cx="294.80" cy="234.00" r="1.3" fill="#1ecc28"/><circle cx="297.89" cy="254.66" r="1.3" fill="#1ecc28"/><circle cx="300.97" cy="261.28" r="1.3" fill="#1ecc28"/><circle cx="304.06" cy="264.28" r="1.3" fill="#1ecc28"/><circle cx="307.14" cy="266.21" r="1.3" fill="#1ecc28"/><circle cx="310.23" cy="268.11" r="1.3" fill="#1ecc28"/><circle cx="313.31" cy="269.66" r="1.3" fill="#1ecc28"/><circle cx="316.40" cy="271.20" r="1.3" fill="#1ecc28"/><circle cx="319.48" cy="272.74" r="1.3" fill="#1ecc28"/><circle cx="322.57" cy="273.26" r="1.3" fill="#1ecc28"/><circle cx="325.65" cy="273.57" r="1.3" fill="#1ecc28"/><circle cx="328.74" cy="273.87" r="1.3" fill="#1ecc28"/><circle cx="331.82" cy="274.00" r="1.3" fill="#1ecc28"/><circle cx="334.91" cy="274.00" r="1.3" fill="#1ecc28"/><circle cx="337.99" cy="274.00" r="1.3" fill="#1ecc28"/><circle cx="341.08" cy="274.00" r="1.3" fill="#1ecc28"/><circle cx="344.16" cy="274.00" r="1.3" fill="#1ecc28"/><circle cx="347.25" cy="274.00" r="1.3" fill="#1ecc28"/><circle cx="350.34" cy="274.00" r="1.3" fill="#1ecc28"/><circle cx="353.42" cy="274.00" r="1.3" fill="#1ecc28"/><circle cx="356.51" cy="274.00" r="1.3" fill="#1ecc28"/><circle cx="359.59" cy="274.00" r="1.3" fill="#1ecc28"/><circle cx="362.68" cy="274.00" r="1.3" fill="#1ecc28"/><circle cx="365.76" cy="274.00" r="1.3" fill="#1ecc28"/><circle cx="368.85" cy="274.00" r="1.3" fill="#1ecc28"/><circle cx="371.93" cy="274.00" r="1.3" fill="#1ecc28"/><circle cx="375.02" cy="274.00" r="1.3" fill="#1ecc28"/><circle cx="378.10" cy="274.00" r="1.3" fill="#1ecc28"/><circle cx="381.19" cy="274.00" r="1.3" fill="#1ecc28"/><circle cx="384.27" cy="274.00" r="1.3" fill="#1ecc28"/><circle cx="387.36" cy="274.00" r="1.3" fill="#1ecc28"/><circle cx="390.44" cy="274.00" r="1.3" fill="#1ecc28"/><circle cx="393.53" cy="274.00" r="1.3" fill="#1ecc28"/><circle cx="396.61" cy="274.00" r="1.3" fill="#1ecc28"/><circle cx="399.70" cy="274.00" r="1.3" fill="#1ecc28"/><path d="M294.80 218.00 L298.00 249.00 L399.60 249.00" fill="none" stroke="#5a3a98" stroke-width="0.75" stroke-linejoin="round"/><path d="M294.80 216.40L296.05 218.00L294.80 219.60L293.55 218.00Z" fill="#5a3a98"/><path d="M297.89 246.29L299.14 247.89L297.89 249.49L296.64 247.89Z" fill="#5a3a98"/><path d="M300.97 247.40L302.22 249.00L300.97 250.60L299.72 249.00Z" fill="#5a3a98"/><path d="M304.06 247.40L305.31 249.00L304.06 250.60L302.81 249.00Z" fill="#5a3a98"/><path d="M307.14 247.40L308.39 249.00L307.14 250.60L305.89 249.00Z" fill="#5a3a98"/><path d="M310.23 247.40L311.48 249.00L310.23 250.60L308.98 249.00Z" fill="#5a3a98"/><path d="M313.31 247.40L314.56 249.00L313.31 250.60L312.06 249.00Z" fill="#5a3a98"/><path d="M316.40 247.40L317.65 249.00L316.40 250.60L315.15 249.00Z" fill="#5a3a98"/><path d="M319.48 247.40L320.73 249.00L319.48 250.60L318.23 249.00Z" fill="#5a3a98"/><path d="M322.57 247.40L323.82 249.00L322.57 250.60L321.32 249.00Z" fill="#5a3a98"/><path d="M325.65 247.40L326.90 249.00L325.65 250.60L324.40 249.00Z" fill="#5a3a98"/><path d="M328.74 247.40L329.99 249.00L328.74 250.60L327.49 249.00Z" fill="#5a3a98"/><path d="M331.82 247.40L333.07 249.00L331.82 250.60L330.57 249.00Z" fill="#5a3a98"/><path d="M334.91 247.40L336.16 249.00L334.91 250.60L333.66 249.00Z" fill="#5a3a98"/><path d="M337.99 247.40L339.24 249.00L337.99 250.60L336.74 249.00Z" fill="#5a3a98"/><path d="M341.08 247.40L342.33 249.00L341.08 250.60L339.83 249.00Z" fill="#5a3a98"/><path d="M344.16 247.40L345.41 249.00L344.16 250.60L342.91 249.00Z" fill="#5a3a98"/><path d="M347.25 247.40L348.50 249.00L347.25 250.60L346.00 249.00Z" fill="#5a3a98"/><path d="M350.34 247.40L351.59 249.00L350.34 250.60L349.09 249.00Z" fill="#5a3a98"/><path d="M353.42 247.40L354.67 249.00L353.42 250.60L352.17 249.00Z" fill="#5a3a98"/><path d="M356.51 247.40L357.76 249.00L356.51 250.60L355.26 249.00Z" fill="#5a3a98"/><path d="M359.59 247.40L360.84 249.00L359.59 250.60L358.34 249.00Z" fill="#5a3a98"/><path d="M362.68 247.40L363.93 249.00L362.68 250.60L361.43 249.00Z" fill="#5a3a98"/><path d="M365.76 247.40L367.01 249.00L365.76 250.60L364.51 249.00Z" fill="#5a3a98"/><path d="M368.85 247.40L370.10 249.00L368.85 250.60L367.60 249.00Z" fill="#5a3a98"/><path d="M371.93 247.40L373.18 249.00L371.93 250.60L370.68 249.00Z" fill="#5a3a98"/><path d="M375.02 247.40L376.27 249.00L375.02 250.60L373.77 249.00Z" fill="#5a3a98"/><path d="M378.10 247.40L379.35 249.00L378.10 250.60L376.85 249.00Z" fill="#5a3a98"/><path d="M381.19 247.40L382.44 249.00L381.19 250.60L379.94 249.00Z" fill="#5a3a98"/><path d="M384.27 247.40L385.52 249.00L384.27 250.60L383.02 249.00Z" fill="#5a3a98"/><path d="M387.36 247.40L388.61 249.00L387.36 250.60L386.11 249.00Z" fill="#5a3a98"/><path d="M390.44 247.40L391.69 249.00L390.44 250.60L389.19 249.00Z" fill="#5a3a98"/><path d="M393.53 247.40L394.78 249.00L393.53 250.60L392.28 249.00Z" fill="#5a3a98"/><path d="M396.61 247.40L397.86 249.00L396.61 250.60L395.36 249.00Z" fill="#5a3a98"/><path d="M399.70 247.40L400.95 249.00L399.70 250.60L398.45 249.00Z" fill="#5a3a98"/><path d="M294.80 218.00 L298.00 258.00 L301.00 267.00 L306.00 271.00 L314.00 273.00 L399.60 275.00" fill="none" stroke="#3a5a7e" stroke-width="0.75" stroke-linejoin="round"/><path d="M293.70 218.00H295.90M294.80 216.90V219.10" stroke="#3a5a7e" stroke-width="0.8" fill="none"/><path d="M296.79 256.57H298.99M297.89 255.47V257.67" stroke="#3a5a7e" stroke-width="0.8" fill="none"/><path d="M299.87 266.91H302.07M300.97 265.81V268.01" stroke="#3a5a7e" stroke-width="0.8" fill="none"/><path d="M302.96 269.44H305.16M304.06 268.34V270.54" stroke="#3a5a7e" stroke-width="0.8" fill="none"/><path d="M306.04 271.29H308.24M307.14 270.19V272.39" stroke="#3a5a7e" stroke-width="0.8" fill="none"/><path d="M309.13 272.06H311.33M310.23 270.96V273.16" stroke="#3a5a7e" stroke-width="0.8" fill="none"/><path d="M312.21 272.83H314.41M313.31 271.73V273.93" stroke="#3a5a7e" stroke-width="0.8" fill="none"/><path d="M315.30 273.06H317.50M316.40 271.96V274.16" stroke="#3a5a7e" stroke-width="0.8" fill="none"/><path d="M318.38 273.13H320.58M319.48 272.03V274.23" stroke="#3a5a7e" stroke-width="0.8" fill="none"/><path d="M321.47 273.20H323.67M322.57 272.10V274.30" stroke="#3a5a7e" stroke-width="0.8" fill="none"/><path d="M324.55 273.27H326.75M325.65 272.17V274.37" stroke="#3a5a7e" stroke-width="0.8" fill="none"/><path d="M327.64 273.34H329.84M328.74 272.24V274.44" stroke="#3a5a7e" stroke-width="0.8" fill="none"/><path d="M330.72 273.42H332.92M331.82 272.32V274.52" stroke="#3a5a7e" stroke-width="0.8" fill="none"/><path d="M333.81 273.49H336.01M334.91 272.39V274.59" stroke="#3a5a7e" stroke-width="0.8" fill="none"/><path d="M336.89 273.56H339.09M337.99 272.46V274.66" stroke="#3a5a7e" stroke-width="0.8" fill="none"/><path d="M339.98 273.63H342.18M341.08 272.53V274.73" stroke="#3a5a7e" stroke-width="0.8" fill="none"/><path d="M343.06 273.70H345.26M344.16 272.60V274.80" stroke="#3a5a7e" stroke-width="0.8" fill="none"/><path d="M346.15 273.78H348.35M347.25 272.68V274.88" stroke="#3a5a7e" stroke-width="0.8" fill="none"/><path d="M349.24 273.85H351.44M350.34 272.75V274.95" stroke="#3a5a7e" stroke-width="0.8" fill="none"/><path d="M352.32 273.92H354.52M353.42 272.82V275.02" stroke="#3a5a7e" stroke-width="0.8" fill="none"/><path d="M355.41 273.99H357.61M356.51 272.89V275.09" stroke="#3a5a7e" stroke-width="0.8" fill="none"/><path d="M358.49 274.07H360.69M359.59 272.97V275.17" stroke="#3a5a7e" stroke-width="0.8" fill="none"/><path d="M361.58 274.14H363.78M362.68 273.04V275.24" stroke="#3a5a7e" stroke-width="0.8" fill="none"/><path d="M364.66 274.21H366.86M365.76 273.11V275.31" stroke="#3a5a7e" stroke-width="0.8" fill="none"/><path d="M367.75 274.28H369.95M368.85 273.18V275.38" stroke="#3a5a7e" stroke-width="0.8" fill="none"/><path d="M370.83 274.35H373.03M371.93 273.25V275.45" stroke="#3a5a7e" stroke-width="0.8" fill="none"/><path d="M373.92 274.43H376.12M375.02 273.33V275.53" stroke="#3a5a7e" stroke-width="0.8" fill="none"/><path d="M377.00 274.50H379.20M378.10 273.40V275.60" stroke="#3a5a7e" stroke-width="0.8" fill="none"/><path d="M380.09 274.57H382.29M381.19 273.47V275.67" stroke="#3a5a7e" stroke-width="0.8" fill="none"/><path d="M383.17 274.64H385.37M384.27 273.54V275.74" stroke="#3a5a7e" stroke-width="0.8" fill="none"/><path d="M386.26 274.71H388.46M387.36 273.61V275.81" stroke="#3a5a7e" stroke-width="0.8" fill="none"/><path d="M389.34 274.79H391.54M390.44 273.69V275.89" stroke="#3a5a7e" stroke-width="0.8" fill="none"/><path d="M392.43 274.86H394.63M393.53 273.76V275.96" stroke="#3a5a7e" stroke-width="0.8" fill="none"/><path d="M395.51 274.93H397.71M396.61 273.83V276.03" stroke="#3a5a7e" stroke-width="0.8" fill="none"/><path d="M398.60 275.00H400.80M399.70 273.90V276.10" stroke="#3a5a7e" stroke-width="0.8" fill="none"/><path d="M294.80 238.00 L297.00 254.00 L300.00 262.00 L306.00 268.00 L312.00 272.00 L320.00 275.00 L399.60 275.60" fill="none" stroke="#e8203c" stroke-width="0.75" stroke-linejoin="round"/><circle cx="294.80" cy="238.00" r="1.3" fill="#e8203c"/><circle cx="297.89" cy="256.36" r="1.3" fill="#e8203c"/><circle cx="300.97" cy="262.97" r="1.3" fill="#e8203c"/><circle cx="304.06" cy="266.06" r="1.3" fill="#e8203c"/><circle cx="307.14" cy="268.76" r="1.3" fill="#e8203c"/><circle cx="310.23" cy="270.82" r="1.3" fill="#e8203c"/><circle cx="313.31" cy="272.49" r="1.3" fill="#e8203c"/><circle cx="316.40" cy="273.65" r="1.3" fill="#e8203c"/><circle cx="319.48" cy="274.81" r="1.3" fill="#e8203c"/><circle cx="322.57" cy="275.02" r="1.3" fill="#e8203c"/><circle cx="325.65" cy="275.04" r="1.3" fill="#e8203c"/><circle cx="328.74" cy="275.07" r="1.3" fill="#e8203c"/><circle cx="331.82" cy="275.09" r="1.3" fill="#e8203c"/><circle cx="334.91" cy="275.11" r="1.3" fill="#e8203c"/><circle cx="337.99" cy="275.14" r="1.3" fill="#e8203c"/><circle cx="341.08" cy="275.16" r="1.3" fill="#e8203c"/><circle cx="344.16" cy="275.18" r="1.3" fill="#e8203c"/><circle cx="347.25" cy="275.21" r="1.3" fill="#e8203c"/><circle cx="350.34" cy="275.23" r="1.3" fill="#e8203c"/><circle cx="353.42" cy="275.25" r="1.3" fill="#e8203c"/><circle cx="356.51" cy="275.28" r="1.3" fill="#e8203c"/><circle cx="359.59" cy="275.30" r="1.3" fill="#e8203c"/><circle cx="362.68" cy="275.32" r="1.3" fill="#e8203c"/><circle cx="365.76" cy="275.34" r="1.3" fill="#e8203c"/><circle cx="368.85" cy="275.37" r="1.3" fill="#e8203c"/><circle cx="371.93" cy="275.39" r="1.3" fill="#e8203c"/><circle cx="375.02" cy="275.41" r="1.3" fill="#e8203c"/><circle cx="378.10" cy="275.44" r="1.3" fill="#e8203c"/><circle cx="381.19" cy="275.46" r="1.3" fill="#e8203c"/><circle cx="384.27" cy="275.48" r="1.3" fill="#e8203c"/><circle cx="387.36" cy="275.51" r="1.3" fill="#e8203c"/><circle cx="390.44" cy="275.53" r="1.3" fill="#e8203c"/><circle cx="393.53" cy="275.55" r="1.3" fill="#e8203c"/><circle cx="396.61" cy="275.58" r="1.3" fill="#e8203c"/><circle cx="399.70" cy="275.60" r="1.3" fill="#e8203c"/></g>
<g><rect x="431.5" y="201.5" width="105.20" height="75.00" fill="#fff" stroke="#c4c4c4" stroke-width="0.7"/><path d="M431.50 276.5v-1M431.50 201.5v1" stroke="#c4c4c4" stroke-width="0.6"/><text x="431.50" y="283.20" class="t m" font-size="5.3" textLength="2.56" lengthAdjust="spacingAndGlyphs">0</text><path d="M452.54 276.5v-1M452.54 201.5v1" stroke="#c4c4c4" stroke-width="0.6"/><text x="452.54" y="283.20" class="t m" font-size="5.3" textLength="7.67" lengthAdjust="spacingAndGlyphs">100</text><path d="M473.58 276.5v-1M473.58 201.5v1" stroke="#c4c4c4" stroke-width="0.6"/><text x="473.58" y="283.20" class="t m" font-size="5.3" textLength="7.67" lengthAdjust="spacingAndGlyphs">200</text><path d="M494.62 276.5v-1M494.62 201.5v1" stroke="#c4c4c4" stroke-width="0.6"/><text x="494.62" y="283.20" class="t m" font-size="5.3" textLength="7.67" lengthAdjust="spacingAndGlyphs">300</text><path d="M515.66 276.5v-1M515.66 201.5v1" stroke="#c4c4c4" stroke-width="0.6"/><text x="515.66" y="283.20" class="t m" font-size="5.3" textLength="7.67" lengthAdjust="spacingAndGlyphs">400</text><path d="M536.70 276.5v-1M536.70 201.5v1" stroke="#c4c4c4" stroke-width="0.6"/><text x="536.70" y="283.20" class="t m" font-size="5.3" textLength="7.67" lengthAdjust="spacingAndGlyphs">500</text><text x="429.50" y="204.20" class="t e" font-size="4.6">10<tspan font-size="3.4" dx="0.3" dy="-2.3">6</tspan></text><text x="429.50" y="234.80" class="t e" font-size="4.6">10<tspan font-size="3.4" dx="0.3" dy="-2.3">5</tspan></text><text x="429.50" y="264.50" class="t e" font-size="4.6">10<tspan font-size="3.4" dx="0.3" dy="-2.3">4</tspan></text><text x="484.10" y="200.10" class="t m" font-size="5.4" textLength="55.5" lengthAdjust="spacingAndGlyphs">CEC2017-F29 (Dim =30)</text><text x="484.10" y="289.90" class="t m" font-size="5.4" textLength="19" lengthAdjust="spacingAndGlyphs">Iteration</text><text x="421.20" y="239.00" class="t m" font-size="5.3" textLength="34.5" lengthAdjust="spacingAndGlyphs" transform="rotate(-90 421.20 239.00)">Average fitness</text><path d="M431.50 214.00 L433.00 248.00 L435.00 266.00 L536.60 267.00" fill="none" stroke="#a0a0a0" stroke-width="0.75" stroke-linejoin="round"/><rect x="430.40" y="212.90" width="2.2" height="2.2" fill="#a0a0a0"/><rect x="433.49" y="261.25" width="2.2" height="2.2" fill="#a0a0a0"/><rect x="436.59" y="264.93" width="2.2" height="2.2" fill="#a0a0a0"/><rect x="439.68" y="264.96" width="2.2" height="2.2" fill="#a0a0a0"/><rect x="442.78" y="264.99" width="2.2" height="2.2" fill="#a0a0a0"/><rect x="445.87" y="265.02" width="2.2" height="2.2" fill="#a0a0a0"/><rect x="448.96" y="265.05" width="2.2" height="2.2" fill="#a0a0a0"/><rect x="452.06" y="265.08" width="2.2" height="2.2" fill="#a0a0a0"/><rect x="455.15" y="265.11" width="2.2" height="2.2" fill="#a0a0a0"/><rect x="458.25" y="265.14" width="2.2" height="2.2" fill="#a0a0a0"/><rect x="461.34" y="265.17" width="2.2" height="2.2" fill="#a0a0a0"/><rect x="464.44" y="265.20" width="2.2" height="2.2" fill="#a0a0a0"/><rect x="467.53" y="265.23" width="2.2" height="2.2" fill="#a0a0a0"/><rect x="470.62" y="265.26" width="2.2" height="2.2" fill="#a0a0a0"/><rect x="473.72" y="265.29" width="2.2" height="2.2" fill="#a0a0a0"/><rect x="476.81" y="265.32" width="2.2" height="2.2" fill="#a0a0a0"/><rect x="479.91" y="265.35" width="2.2" height="2.2" fill="#a0a0a0"/><rect x="483.00" y="265.38" width="2.2" height="2.2" fill="#a0a0a0"/><rect x="486.09" y="265.41" width="2.2" height="2.2" fill="#a0a0a0"/><rect x="489.19" y="265.44" width="2.2" height="2.2" fill="#a0a0a0"/><rect x="492.28" y="265.47" width="2.2" height="2.2" fill="#a0a0a0"/><rect x="495.38" y="265.51" width="2.2" height="2.2" fill="#a0a0a0"/><rect x="498.47" y="265.54" width="2.2" height="2.2" fill="#a0a0a0"/><rect x="501.56" y="265.57" width="2.2" height="2.2" fill="#a0a0a0"/><rect x="504.66" y="265.60" width="2.2" height="2.2" fill="#a0a0a0"/><rect x="507.75" y="265.63" width="2.2" height="2.2" fill="#a0a0a0"/><rect x="510.85" y="265.66" width="2.2" height="2.2" fill="#a0a0a0"/><rect x="513.94" y="265.69" width="2.2" height="2.2" fill="#a0a0a0"/><rect x="517.04" y="265.72" width="2.2" height="2.2" fill="#a0a0a0"/><rect x="520.13" y="265.75" width="2.2" height="2.2" fill="#a0a0a0"/><rect x="523.22" y="265.78" width="2.2" height="2.2" fill="#a0a0a0"/><rect x="526.32" y="265.81" width="2.2" height="2.2" fill="#a0a0a0"/><rect x="529.41" y="265.84" width="2.2" height="2.2" fill="#a0a0a0"/><rect x="532.51" y="265.87" width="2.2" height="2.2" fill="#a0a0a0"/><rect x="535.60" y="265.90" width="2.2" height="2.2" fill="#a0a0a0"/><path d="M431.50 235.00 L434.00 262.00 L440.00 269.60 L536.60 272.80" fill="none" stroke="#1f9a48" stroke-width="0.75" stroke-linejoin="round"/><circle cx="431.50" cy="235.00" r="1.25" fill="#1f9a48"/><circle cx="434.59" cy="262.75" r="1.25" fill="#1f9a48"/><circle cx="437.69" cy="266.67" r="1.25" fill="#1f9a48"/><circle cx="440.78" cy="269.63" r="1.25" fill="#1f9a48"/><circle cx="443.88" cy="269.73" r="1.25" fill="#1f9a48"/><circle cx="446.97" cy="269.83" r="1.25" fill="#1f9a48"/><circle cx="450.06" cy="269.93" r="1.25" fill="#1f9a48"/><circle cx="453.16" cy="270.04" r="1.25" fill="#1f9a48"/><circle cx="456.25" cy="270.14" r="1.25" fill="#1f9a48"/><circle cx="459.35" cy="270.24" r="1.25" fill="#1f9a48"/><circle cx="462.44" cy="270.34" r="1.25" fill="#1f9a48"/><circle cx="465.54" cy="270.45" r="1.25" fill="#1f9a48"/><circle cx="468.63" cy="270.55" r="1.25" fill="#1f9a48"/><circle cx="471.72" cy="270.65" r="1.25" fill="#1f9a48"/><circle cx="474.82" cy="270.75" r="1.25" fill="#1f9a48"/><circle cx="477.91" cy="270.86" r="1.25" fill="#1f9a48"/><circle cx="481.01" cy="270.96" r="1.25" fill="#1f9a48"/><circle cx="484.10" cy="271.06" r="1.25" fill="#1f9a48"/><circle cx="487.19" cy="271.16" r="1.25" fill="#1f9a48"/><circle cx="490.29" cy="271.27" r="1.25" fill="#1f9a48"/><circle cx="493.38" cy="271.37" r="1.25" fill="#1f9a48"/><circle cx="496.48" cy="271.47" r="1.25" fill="#1f9a48"/><circle cx="499.57" cy="271.57" r="1.25" fill="#1f9a48"/><circle cx="502.66" cy="271.68" r="1.25" fill="#1f9a48"/><circle cx="505.76" cy="271.78" r="1.25" fill="#1f9a48"/><circle cx="508.85" cy="271.88" r="1.25" fill="#1f9a48"/><circle cx="511.95" cy="271.98" r="1.25" fill="#1f9a48"/><circle cx="515.04" cy="272.09" r="1.25" fill="#1f9a48"/><circle cx="518.14" cy="272.19" r="1.25" fill="#1f9a48"/><circle cx="521.23" cy="272.29" r="1.25" fill="#1f9a48"/><circle cx="524.32" cy="272.39" r="1.25" fill="#1f9a48"/><circle cx="527.42" cy="272.50" r="1.25" fill="#1f9a48"/><circle cx="530.51" cy="272.60" r="1.25" fill="#1f9a48"/><circle cx="533.61" cy="272.70" r="1.25" fill="#1f9a48"/><circle cx="536.70" cy="272.80" r="1.25" fill="#1f9a48"/><path d="M431.50 262.00 L434.00 268.40 L484.00 269.00 L492.00 270.40 L536.60 270.80" fill="none" stroke="#3a3ad6" stroke-width="0.75" stroke-linejoin="round"/><rect x="430.45" y="260.95" width="2.1" height="2.1" fill="#3a3ad6"/><rect x="433.54" y="267.36" width="2.1" height="2.1" fill="#3a3ad6"/><rect x="436.64" y="267.39" width="2.1" height="2.1" fill="#3a3ad6"/><rect x="439.73" y="267.43" width="2.1" height="2.1" fill="#3a3ad6"/><rect x="442.83" y="267.47" width="2.1" height="2.1" fill="#3a3ad6"/><rect x="445.92" y="267.51" width="2.1" height="2.1" fill="#3a3ad6"/><rect x="449.01" y="267.54" width="2.1" height="2.1" fill="#3a3ad6"/><rect x="452.11" y="267.58" width="2.1" height="2.1" fill="#3a3ad6"/><rect x="455.20" y="267.62" width="2.1" height="2.1" fill="#3a3ad6"/><rect x="458.30" y="267.65" width="2.1" height="2.1" fill="#3a3ad6"/><rect x="461.39" y="267.69" width="2.1" height="2.1" fill="#3a3ad6"/><rect x="464.49" y="267.73" width="2.1" height="2.1" fill="#3a3ad6"/><rect x="467.58" y="267.77" width="2.1" height="2.1" fill="#3a3ad6"/><rect x="470.67" y="267.80" width="2.1" height="2.1" fill="#3a3ad6"/><rect x="473.77" y="267.84" width="2.1" height="2.1" fill="#3a3ad6"/><rect x="476.86" y="267.88" width="2.1" height="2.1" fill="#3a3ad6"/><rect x="479.96" y="267.91" width="2.1" height="2.1" fill="#3a3ad6"/><rect x="483.05" y="267.97" width="2.1" height="2.1" fill="#3a3ad6"/><rect x="486.14" y="268.51" width="2.1" height="2.1" fill="#3a3ad6"/><rect x="489.24" y="269.05" width="2.1" height="2.1" fill="#3a3ad6"/><rect x="492.33" y="269.36" width="2.1" height="2.1" fill="#3a3ad6"/><rect x="495.43" y="269.39" width="2.1" height="2.1" fill="#3a3ad6"/><rect x="498.52" y="269.42" width="2.1" height="2.1" fill="#3a3ad6"/><rect x="501.61" y="269.45" width="2.1" height="2.1" fill="#3a3ad6"/><rect x="504.71" y="269.47" width="2.1" height="2.1" fill="#3a3ad6"/><rect x="507.80" y="269.50" width="2.1" height="2.1" fill="#3a3ad6"/><rect x="510.90" y="269.53" width="2.1" height="2.1" fill="#3a3ad6"/><rect x="513.99" y="269.56" width="2.1" height="2.1" fill="#3a3ad6"/><rect x="517.09" y="269.58" width="2.1" height="2.1" fill="#3a3ad6"/><rect x="520.18" y="269.61" width="2.1" height="2.1" fill="#3a3ad6"/><rect x="523.27" y="269.64" width="2.1" height="2.1" fill="#3a3ad6"/><rect x="526.37" y="269.67" width="2.1" height="2.1" fill="#3a3ad6"/><rect x="529.46" y="269.70" width="2.1" height="2.1" fill="#3a3ad6"/><rect x="532.56" y="269.72" width="2.1" height="2.1" fill="#3a3ad6"/><rect x="535.65" y="269.75" width="2.1" height="2.1" fill="#3a3ad6"/><path d="M431.50 262.00 L434.00 266.40 L536.60 267.20" fill="none" stroke="#4a9fd6" stroke-width="0.75" stroke-linejoin="round"/><path d="M430.50 261.00L432.50 263.00M430.50 263.00L432.50 261.00" stroke="#4a9fd6" stroke-width="0.8" fill="none"/><path d="M433.59 265.40L435.59 267.40M433.59 267.40L435.59 265.40" stroke="#4a9fd6" stroke-width="0.8" fill="none"/><path d="M436.69 265.43L438.69 267.43M436.69 267.43L438.69 265.43" stroke="#4a9fd6" stroke-width="0.8" fill="none"/><path d="M439.78 265.45L441.78 267.45M439.78 267.45L441.78 265.45" stroke="#4a9fd6" stroke-width="0.8" fill="none"/><path d="M442.88 265.48L444.88 267.48M442.88 267.48L444.88 265.48" stroke="#4a9fd6" stroke-width="0.8" fill="none"/><path d="M445.97 265.50L447.97 267.50M445.97 267.50L447.97 265.50" stroke="#4a9fd6" stroke-width="0.8" fill="none"/><path d="M449.06 265.53L451.06 267.53M449.06 267.53L451.06 265.53" stroke="#4a9fd6" stroke-width="0.8" fill="none"/><path d="M452.16 265.55L454.16 267.55M452.16 267.55L454.16 265.55" stroke="#4a9fd6" stroke-width="0.8" fill="none"/><path d="M455.25 265.57L457.25 267.57M455.25 267.57L457.25 265.57" stroke="#4a9fd6" stroke-width="0.8" fill="none"/><path d="M458.35 265.60L460.35 267.60M458.35 267.60L460.35 265.60" stroke="#4a9fd6" stroke-width="0.8" fill="none"/><path d="M461.44 265.62L463.44 267.62M461.44 267.62L463.44 265.62" stroke="#4a9fd6" stroke-width="0.8" fill="none"/><path d="M464.54 265.65L466.54 267.65M464.54 267.65L466.54 265.65" stroke="#4a9fd6" stroke-width="0.8" fill="none"/><path d="M467.63 265.67L469.63 267.67M467.63 267.67L469.63 265.67" stroke="#4a9fd6" stroke-width="0.8" fill="none"/><path d="M470.72 265.69L472.72 267.69M470.72 267.69L472.72 265.69" stroke="#4a9fd6" stroke-width="0.8" fill="none"/><path d="M473.82 265.72L475.82 267.72M473.82 267.72L475.82 265.72" stroke="#4a9fd6" stroke-width="0.8" fill="none"/><path d="M476.91 265.74L478.91 267.74M476.91 267.74L478.91 265.74" stroke="#4a9fd6" stroke-width="0.8" fill="none"/><path d="M480.01 265.77L482.01 267.77M480.01 267.77L482.01 265.77" stroke="#4a9fd6" stroke-width="0.8" fill="none"/><path d="M483.10 265.79L485.10 267.79M483.10 267.79L485.10 265.79" stroke="#4a9fd6" stroke-width="0.8" fill="none"/><path d="M486.19 265.81L488.19 267.81M486.19 267.81L488.19 265.81" stroke="#4a9fd6" stroke-width="0.8" fill="none"/><path d="M489.29 265.84L491.29 267.84M489.29 267.84L491.29 265.84" stroke="#4a9fd6" stroke-width="0.8" fill="none"/><path d="M492.38 265.86L494.38 267.86M492.38 267.86L494.38 265.86" stroke="#4a9fd6" stroke-width="0.8" fill="none"/><path d="M495.48 265.89L497.48 267.89M495.48 267.89L497.48 265.89" stroke="#4a9fd6" stroke-width="0.8" fill="none"/><path d="M498.57 265.91L500.57 267.91M498.57 267.91L500.57 265.91" stroke="#4a9fd6" stroke-width="0.8" fill="none"/><path d="M501.66 265.94L503.66 267.94M501.66 267.94L503.66 265.94" stroke="#4a9fd6" stroke-width="0.8" fill="none"/><path d="M504.76 265.96L506.76 267.96M504.76 267.96L506.76 265.96" stroke="#4a9fd6" stroke-width="0.8" fill="none"/><path d="M507.85 265.98L509.85 267.98M507.85 267.98L509.85 265.98" stroke="#4a9fd6" stroke-width="0.8" fill="none"/><path d="M510.95 266.01L512.95 268.01M510.95 268.01L512.95 266.01" stroke="#4a9fd6" stroke-width="0.8" fill="none"/><path d="M514.04 266.03L516.04 268.03M514.04 268.03L516.04 266.03" stroke="#4a9fd6" stroke-width="0.8" fill="none"/><path d="M517.14 266.06L519.14 268.06M517.14 268.06L519.14 266.06" stroke="#4a9fd6" stroke-width="0.8" fill="none"/><path d="M520.23 266.08L522.23 268.08M520.23 268.08L522.23 266.08" stroke="#4a9fd6" stroke-width="0.8" fill="none"/><path d="M523.32 266.10L525.32 268.10M523.32 268.10L525.32 266.10" stroke="#4a9fd6" stroke-width="0.8" fill="none"/><path d="M526.42 266.13L528.42 268.13M526.42 268.13L528.42 266.13" stroke="#4a9fd6" stroke-width="0.8" fill="none"/><path d="M529.51 266.15L531.51 268.15M529.51 268.15L531.51 266.15" stroke="#4a9fd6" stroke-width="0.8" fill="none"/><path d="M532.61 266.18L534.61 268.18M532.61 268.18L534.61 266.18" stroke="#4a9fd6" stroke-width="0.8" fill="none"/><path d="M535.70 266.20L537.70 268.20M535.70 268.20L537.70 266.20" stroke="#4a9fd6" stroke-width="0.8" fill="none"/><path d="M431.50 235.00 L433.00 256.00 L436.00 268.40 L448.00 270.40 L468.00 271.60 L536.60 272.40" fill="none" stroke="#1ecc28" stroke-width="0.75" stroke-linejoin="round"/><circle cx="431.50" cy="235.00" r="1.3" fill="#1ecc28"/><circle cx="434.59" cy="262.59" r="1.3" fill="#1ecc28"/><circle cx="437.69" cy="268.68" r="1.3" fill="#1ecc28"/><circle cx="440.78" cy="269.20" r="1.3" fill="#1ecc28"/><circle cx="443.88" cy="269.71" r="1.3" fill="#1ecc28"/><circle cx="446.97" cy="270.23" r="1.3" fill="#1ecc28"/><circle cx="450.06" cy="270.52" r="1.3" fill="#1ecc28"/><circle cx="453.16" cy="270.71" r="1.3" fill="#1ecc28"/><circle cx="456.25" cy="270.90" r="1.3" fill="#1ecc28"/><circle cx="459.35" cy="271.08" r="1.3" fill="#1ecc28"/><circle cx="462.44" cy="271.27" r="1.3" fill="#1ecc28"/><circle cx="465.54" cy="271.45" r="1.3" fill="#1ecc28"/><circle cx="468.63" cy="271.61" r="1.3" fill="#1ecc28"/><circle cx="471.72" cy="271.64" r="1.3" fill="#1ecc28"/><circle cx="474.82" cy="271.68" r="1.3" fill="#1ecc28"/><circle cx="477.91" cy="271.72" r="1.3" fill="#1ecc28"/><circle cx="481.01" cy="271.75" r="1.3" fill="#1ecc28"/><circle cx="484.10" cy="271.79" r="1.3" fill="#1ecc28"/><circle cx="487.19" cy="271.82" r="1.3" fill="#1ecc28"/><circle cx="490.29" cy="271.86" r="1.3" fill="#1ecc28"/><circle cx="493.38" cy="271.90" r="1.3" fill="#1ecc28"/><circle cx="496.48" cy="271.93" r="1.3" fill="#1ecc28"/><circle cx="499.57" cy="271.97" r="1.3" fill="#1ecc28"/><circle cx="502.66" cy="272.00" r="1.3" fill="#1ecc28"/><circle cx="505.76" cy="272.04" r="1.3" fill="#1ecc28"/><circle cx="508.85" cy="272.08" r="1.3" fill="#1ecc28"/><circle cx="511.95" cy="272.11" r="1.3" fill="#1ecc28"/><circle cx="515.04" cy="272.15" r="1.3" fill="#1ecc28"/><circle cx="518.14" cy="272.18" r="1.3" fill="#1ecc28"/><circle cx="521.23" cy="272.22" r="1.3" fill="#1ecc28"/><circle cx="524.32" cy="272.26" r="1.3" fill="#1ecc28"/><circle cx="527.42" cy="272.29" r="1.3" fill="#1ecc28"/><circle cx="530.51" cy="272.33" r="1.3" fill="#1ecc28"/><circle cx="533.61" cy="272.37" r="1.3" fill="#1ecc28"/><circle cx="536.70" cy="272.40" r="1.3" fill="#1ecc28"/><path d="M431.50 262.00 L434.00 266.40 L536.60 266.40" fill="none" stroke="#5a3a98" stroke-width="0.75" stroke-linejoin="round"/><path d="M431.50 260.40L432.75 262.00L431.50 263.60L430.25 262.00Z" fill="#5a3a98"/><path d="M434.59 264.80L435.84 266.40L434.59 268.00L433.34 266.40Z" fill="#5a3a98"/><path d="M437.69 264.80L438.94 266.40L437.69 268.00L436.44 266.40Z" fill="#5a3a98"/><path d="M440.78 264.80L442.03 266.40L440.78 268.00L439.53 266.40Z" fill="#5a3a98"/><path d="M443.88 264.80L445.13 266.40L443.88 268.00L442.63 266.40Z" fill="#5a3a98"/><path d="M446.97 264.80L448.22 266.40L446.97 268.00L445.72 266.40Z" fill="#5a3a98"/><path d="M450.06 264.80L451.31 266.40L450.06 268.00L448.81 266.40Z" fill="#5a3a98"/><path d="M453.16 264.80L454.41 266.40L453.16 268.00L451.91 266.40Z" fill="#5a3a98"/><path d="M456.25 264.80L457.50 266.40L456.25 268.00L455.00 266.40Z" fill="#5a3a98"/><path d="M459.35 264.80L460.60 266.40L459.35 268.00L458.10 266.40Z" fill="#5a3a98"/><path d="M462.44 264.80L463.69 266.40L462.44 268.00L461.19 266.40Z" fill="#5a3a98"/><path d="M465.54 264.80L466.79 266.40L465.54 268.00L464.29 266.40Z" fill="#5a3a98"/><path d="M468.63 264.80L469.88 266.40L468.63 268.00L467.38 266.40Z" fill="#5a3a98"/><path d="M471.72 264.80L472.97 266.40L471.72 268.00L470.47 266.40Z" fill="#5a3a98"/><path d="M474.82 264.80L476.07 266.40L474.82 268.00L473.57 266.40Z" fill="#5a3a98"/><path d="M477.91 264.80L479.16 266.40L477.91 268.00L476.66 266.40Z" fill="#5a3a98"/><path d="M481.01 264.80L482.26 266.40L481.01 268.00L479.76 266.40Z" fill="#5a3a98"/><path d="M484.10 264.80L485.35 266.40L484.10 268.00L482.85 266.40Z" fill="#5a3a98"/><path d="M487.19 264.80L488.44 266.40L487.19 268.00L485.94 266.40Z" fill="#5a3a98"/><path d="M490.29 264.80L491.54 266.40L490.29 268.00L489.04 266.40Z" fill="#5a3a98"/><path d="M493.38 264.80L494.63 266.40L493.38 268.00L492.13 266.40Z" fill="#5a3a98"/><path d="M496.48 264.80L497.73 266.40L496.48 268.00L495.23 266.40Z" fill="#5a3a98"/><path d="M499.57 264.80L500.82 266.40L499.57 268.00L498.32 266.40Z" fill="#5a3a98"/><path d="M502.66 264.80L503.91 266.40L502.66 268.00L501.41 266.40Z" fill="#5a3a98"/><path d="M505.76 264.80L507.01 266.40L505.76 268.00L504.51 266.40Z" fill="#5a3a98"/><path d="M508.85 264.80L510.10 266.40L508.85 268.00L507.60 266.40Z" fill="#5a3a98"/><path d="M511.95 264.80L513.20 266.40L511.95 268.00L510.70 266.40Z" fill="#5a3a98"/><path d="M515.04 264.80L516.29 266.40L515.04 268.00L513.79 266.40Z" fill="#5a3a98"/><path d="M518.14 264.80L519.39 266.40L518.14 268.00L516.89 266.40Z" fill="#5a3a98"/><path d="M521.23 264.80L522.48 266.40L521.23 268.00L519.98 266.40Z" fill="#5a3a98"/><path d="M524.32 264.80L525.57 266.40L524.32 268.00L523.07 266.40Z" fill="#5a3a98"/><path d="M527.42 264.80L528.67 266.40L527.42 268.00L526.17 266.40Z" fill="#5a3a98"/><path d="M530.51 264.80L531.76 266.40L530.51 268.00L529.26 266.40Z" fill="#5a3a98"/><path d="M533.61 264.80L534.86 266.40L533.61 268.00L532.36 266.40Z" fill="#5a3a98"/><path d="M536.70 264.80L537.95 266.40L536.70 268.00L535.45 266.40Z" fill="#5a3a98"/><path d="M431.50 240.00 L434.00 265.00 L536.60 266.60" fill="none" stroke="#3a5a7e" stroke-width="0.75" stroke-linejoin="round"/><path d="M430.40 240.00H432.60M431.50 238.90V241.10" stroke="#3a5a7e" stroke-width="0.8" fill="none"/><path d="M433.49 265.01H435.69M434.59 263.91V266.11" stroke="#3a5a7e" stroke-width="0.8" fill="none"/><path d="M436.59 265.06H438.79M437.69 263.96V266.16" stroke="#3a5a7e" stroke-width="0.8" fill="none"/><path d="M439.68 265.11H441.88M440.78 264.01V266.21" stroke="#3a5a7e" stroke-width="0.8" fill="none"/><path d="M442.78 265.15H444.98M443.88 264.05V266.25" stroke="#3a5a7e" stroke-width="0.8" fill="none"/><path d="M445.87 265.20H448.07M446.97 264.10V266.30" stroke="#3a5a7e" stroke-width="0.8" fill="none"/><path d="M448.96 265.25H451.16M450.06 264.15V266.35" stroke="#3a5a7e" stroke-width="0.8" fill="none"/><path d="M452.06 265.30H454.26M453.16 264.20V266.40" stroke="#3a5a7e" stroke-width="0.8" fill="none"/><path d="M455.15 265.35H457.35M456.25 264.25V266.45" stroke="#3a5a7e" stroke-width="0.8" fill="none"/><path d="M458.25 265.40H460.45M459.35 264.30V266.50" stroke="#3a5a7e" stroke-width="0.8" fill="none"/><path d="M461.34 265.44H463.54M462.44 264.34V266.54" stroke="#3a5a7e" stroke-width="0.8" fill="none"/><path d="M464.44 265.49H466.64M465.54 264.39V266.59" stroke="#3a5a7e" stroke-width="0.8" fill="none"/><path d="M467.53 265.54H469.73M468.63 264.44V266.64" stroke="#3a5a7e" stroke-width="0.8" fill="none"/><path d="M470.62 265.59H472.82M471.72 264.49V266.69" stroke="#3a5a7e" stroke-width="0.8" fill="none"/><path d="M473.72 265.64H475.92M474.82 264.54V266.74" stroke="#3a5a7e" stroke-width="0.8" fill="none"/><path d="M476.81 265.68H479.01M477.91 264.58V266.78" stroke="#3a5a7e" stroke-width="0.8" fill="none"/><path d="M479.91 265.73H482.11M481.01 264.63V266.83" stroke="#3a5a7e" stroke-width="0.8" fill="none"/><path d="M483.00 265.78H485.20M484.10 264.68V266.88" stroke="#3a5a7e" stroke-width="0.8" fill="none"/><path d="M486.09 265.83H488.29M487.19 264.73V266.93" stroke="#3a5a7e" stroke-width="0.8" fill="none"/><path d="M489.19 265.88H491.39M490.29 264.78V266.98" stroke="#3a5a7e" stroke-width="0.8" fill="none"/><path d="M492.28 265.93H494.48M493.38 264.83V267.03" stroke="#3a5a7e" stroke-width="0.8" fill="none"/><path d="M495.38 265.97H497.58M496.48 264.87V267.07" stroke="#3a5a7e" stroke-width="0.8" fill="none"/><path d="M498.47 266.02H500.67M499.57 264.92V267.12" stroke="#3a5a7e" stroke-width="0.8" fill="none"/><path d="M501.56 266.07H503.76M502.66 264.97V267.17" stroke="#3a5a7e" stroke-width="0.8" fill="none"/><path d="M504.66 266.12H506.86M505.76 265.02V267.22" stroke="#3a5a7e" stroke-width="0.8" fill="none"/><path d="M507.75 266.17H509.95M508.85 265.07V267.27" stroke="#3a5a7e" stroke-width="0.8" fill="none"/><path d="M510.85 266.22H513.05M511.95 265.12V267.32" stroke="#3a5a7e" stroke-width="0.8" fill="none"/><path d="M513.94 266.26H516.14M515.04 265.16V267.36" stroke="#3a5a7e" stroke-width="0.8" fill="none"/><path d="M517.04 266.31H519.24M518.14 265.21V267.41" stroke="#3a5a7e" stroke-width="0.8" fill="none"/><path d="M520.13 266.36H522.33M521.23 265.26V267.46" stroke="#3a5a7e" stroke-width="0.8" fill="none"/><path d="M523.22 266.41H525.42M524.32 265.31V267.51" stroke="#3a5a7e" stroke-width="0.8" fill="none"/><path d="M526.32 266.46H528.52M527.42 265.36V267.56" stroke="#3a5a7e" stroke-width="0.8" fill="none"/><path d="M529.41 266.51H531.61M530.51 265.41V267.61" stroke="#3a5a7e" stroke-width="0.8" fill="none"/><path d="M532.51 266.55H534.71M533.61 265.45V267.65" stroke="#3a5a7e" stroke-width="0.8" fill="none"/><path d="M535.60 266.60H537.80M536.70 265.50V267.70" stroke="#3a5a7e" stroke-width="0.8" fill="none"/><path d="M431.50 249.00 L434.00 270.40 L438.00 274.40 L448.00 275.60 L536.60 275.60" fill="none" stroke="#e8203c" stroke-width="0.75" stroke-linejoin="round"/><circle cx="431.50" cy="249.00" r="1.3" fill="#e8203c"/><circle cx="434.59" cy="270.99" r="1.3" fill="#e8203c"/><circle cx="437.69" cy="274.09" r="1.3" fill="#e8203c"/><circle cx="440.78" cy="274.73" r="1.3" fill="#e8203c"/><circle cx="443.88" cy="275.11" r="1.3" fill="#e8203c"/><circle cx="446.97" cy="275.48" r="1.3" fill="#e8203c"/><circle cx="450.06" cy="275.60" r="1.3" fill="#e8203c"/><circle cx="453.16" cy="275.60" r="1.3" fill="#e8203c"/><circle cx="456.25" cy="275.60" r="1.3" fill="#e8203c"/><circle cx="459.35" cy="275.60" r="1.3" fill="#e8203c"/><circle cx="462.44" cy="275.60" r="1.3" fill="#e8203c"/><circle cx="465.54" cy="275.60" r="1.3" fill="#e8203c"/><circle cx="468.63" cy="275.60" r="1.3" fill="#e8203c"/><circle cx="471.72" cy="275.60" r="1.3" fill="#e8203c"/><circle cx="474.82" cy="275.60" r="1.3" fill="#e8203c"/><circle cx="477.91" cy="275.60" r="1.3" fill="#e8203c"/><circle cx="481.01" cy="275.60" r="1.3" fill="#e8203c"/><circle cx="484.10" cy="275.60" r="1.3" fill="#e8203c"/><circle cx="487.19" cy="275.60" r="1.3" fill="#e8203c"/><circle cx="490.29" cy="275.60" r="1.3" fill="#e8203c"/><circle cx="493.38" cy="275.60" r="1.3" fill="#e8203c"/><circle cx="496.48" cy="275.60" r="1.3" fill="#e8203c"/><circle cx="499.57" cy="275.60" r="1.3" fill="#e8203c"/><circle cx="502.66" cy="275.60" r="1.3" fill="#e8203c"/><circle cx="505.76" cy="275.60" r="1.3" fill="#e8203c"/><circle cx="508.85" cy="275.60" r="1.3" fill="#e8203c"/><circle cx="511.95" cy="275.60" r="1.3" fill="#e8203c"/><circle cx="515.04" cy="275.60" r="1.3" fill="#e8203c"/><circle cx="518.14" cy="275.60" r="1.3" fill="#e8203c"/><circle cx="521.23" cy="275.60" r="1.3" fill="#e8203c"/><circle cx="524.32" cy="275.60" r="1.3" fill="#e8203c"/><circle cx="527.42" cy="275.60" r="1.3" fill="#e8203c"/><circle cx="530.51" cy="275.60" r="1.3" fill="#e8203c"/><circle cx="533.61" cy="275.60" r="1.3" fill="#e8203c"/><circle cx="536.70" cy="275.60" r="1.3" fill="#e8203c"/></g>
<g><rect x="229.2" y="296.2" width="102.80" height="74.80" fill="#fff" stroke="#c4c4c4" stroke-width="0.7"/><path d="M229.20 371v-1M229.20 296.2v1" stroke="#c4c4c4" stroke-width="0.6"/><text x="229.20" y="377.70" class="t m" font-size="5.3" textLength="2.56" lengthAdjust="spacingAndGlyphs">0</text><path d="M249.76 371v-1M249.76 296.2v1" stroke="#c4c4c4" stroke-width="0.6"/><text x="249.76" y="377.70" class="t m" font-size="5.3" textLength="7.67" lengthAdjust="spacingAndGlyphs">100</text><path d="M270.32 371v-1M270.32 296.2v1" stroke="#c4c4c4" stroke-width="0.6"/><text x="270.32" y="377.70" class="t m" font-size="5.3" textLength="7.67" lengthAdjust="spacingAndGlyphs">200</text><path d="M290.88 371v-1M290.88 296.2v1" stroke="#c4c4c4" stroke-width="0.6"/><text x="290.88" y="377.70" class="t m" font-size="5.3" textLength="7.67" lengthAdjust="spacingAndGlyphs">300</text><path d="M311.44 371v-1M311.44 296.2v1" stroke="#c4c4c4" stroke-width="0.6"/><text x="311.44" y="377.70" class="t m" font-size="5.3" textLength="7.67" lengthAdjust="spacingAndGlyphs">400</text><path d="M332.00 371v-1M332.00 296.2v1" stroke="#c4c4c4" stroke-width="0.6"/><text x="332.00" y="377.70" class="t m" font-size="5.3" textLength="7.67" lengthAdjust="spacingAndGlyphs">500</text><text x="227.20" y="298.70" class="t e" font-size="4.6">10<tspan font-size="3.4" dx="0.3" dy="-2.3">10</tspan></text><text x="227.20" y="323.50" class="t e" font-size="4.6">10<tspan font-size="3.4" dx="0.3" dy="-2.3">8</tspan></text><text x="227.20" y="348.10" class="t e" font-size="4.6">10<tspan font-size="3.4" dx="0.3" dy="-2.3">6</tspan></text><text x="227.20" y="373.50" class="t e" font-size="4.6">10<tspan font-size="3.4" dx="0.3" dy="-2.3">4</tspan></text><text x="280.60" y="294.80" class="t m" font-size="5.4" textLength="55.5" lengthAdjust="spacingAndGlyphs">CEC2017-F30 (Dim =30)</text><text x="280.60" y="384.40" class="t m" font-size="5.4" textLength="19" lengthAdjust="spacingAndGlyphs">Iteration</text><text x="216.40" y="333.60" class="t m" font-size="5.3" textLength="34.5" lengthAdjust="spacingAndGlyphs" transform="rotate(-90 216.40 333.60)">Average fitness</text><path d="M229.20 303.91 L232.00 322.82 L234.91 343.18 L239.27 347.55 L246.55 351.91 L253.82 357.73 L261.09 362.09 L266.91 364.13 L332.00 364.13" fill="none" stroke="#a0a0a0" stroke-width="0.75" stroke-linejoin="round"/><rect x="228.10" y="302.81" width="2.2" height="2.2" fill="#a0a0a0"/><rect x="231.12" y="323.28" width="2.2" height="2.2" fill="#a0a0a0"/><rect x="234.15" y="342.42" width="2.2" height="2.2" fill="#a0a0a0"/><rect x="237.17" y="345.44" width="2.2" height="2.2" fill="#a0a0a0"/><rect x="240.19" y="347.66" width="2.2" height="2.2" fill="#a0a0a0"/><rect x="243.22" y="349.47" width="2.2" height="2.2" fill="#a0a0a0"/><rect x="246.24" y="351.45" width="2.2" height="2.2" fill="#a0a0a0"/><rect x="249.26" y="353.86" width="2.2" height="2.2" fill="#a0a0a0"/><rect x="252.29" y="356.28" width="2.2" height="2.2" fill="#a0a0a0"/><rect x="255.31" y="358.18" width="2.2" height="2.2" fill="#a0a0a0"/><rect x="258.34" y="360.00" width="2.2" height="2.2" fill="#a0a0a0"/><rect x="261.36" y="361.47" width="2.2" height="2.2" fill="#a0a0a0"/><rect x="264.38" y="362.53" width="2.2" height="2.2" fill="#a0a0a0"/><rect x="267.41" y="363.03" width="2.2" height="2.2" fill="#a0a0a0"/><rect x="270.43" y="363.03" width="2.2" height="2.2" fill="#a0a0a0"/><rect x="273.45" y="363.03" width="2.2" height="2.2" fill="#a0a0a0"/><rect x="276.48" y="363.03" width="2.2" height="2.2" fill="#a0a0a0"/><rect x="279.50" y="363.03" width="2.2" height="2.2" fill="#a0a0a0"/><rect x="282.52" y="363.03" width="2.2" height="2.2" fill="#a0a0a0"/><rect x="285.55" y="363.03" width="2.2" height="2.2" fill="#a0a0a0"/><rect x="288.57" y="363.03" width="2.2" height="2.2" fill="#a0a0a0"/><rect x="291.59" y="363.03" width="2.2" height="2.2" fill="#a0a0a0"/><rect x="294.62" y="363.03" width="2.2" height="2.2" fill="#a0a0a0"/><rect x="297.64" y="363.03" width="2.2" height="2.2" fill="#a0a0a0"/><rect x="300.66" y="363.03" width="2.2" height="2.2" fill="#a0a0a0"/><rect x="303.69" y="363.03" width="2.2" height="2.2" fill="#a0a0a0"/><rect x="306.71" y="363.03" width="2.2" height="2.2" fill="#a0a0a0"/><rect x="309.74" y="363.03" width="2.2" height="2.2" fill="#a0a0a0"/><rect x="312.76" y="363.03" width="2.2" height="2.2" fill="#a0a0a0"/><rect x="315.78" y="363.03" width="2.2" height="2.2" fill="#a0a0a0"/><rect x="318.81" y="363.03" width="2.2" height="2.2" fill="#a0a0a0"/><rect x="321.83" y="363.03" width="2.2" height="2.2" fill="#a0a0a0"/><rect x="324.85" y="363.03" width="2.2" height="2.2" fill="#a0a0a0"/><rect x="327.88" y="363.03" width="2.2" height="2.2" fill="#a0a0a0"/><rect x="330.90" y="363.03" width="2.2" height="2.2" fill="#a0a0a0"/><path d="M229.20 302.45 L233.45 317.00 L240.73 319.33 L332.00 319.33" fill="none" stroke="#1f9a48" stroke-width="0.75" stroke-linejoin="round"/><circle cx="229.20" cy="302.45" r="1.25" fill="#1f9a48"/><circle cx="232.22" cy="312.79" r="1.25" fill="#1f9a48"/><circle cx="235.25" cy="317.57" r="1.25" fill="#1f9a48"/><circle cx="238.27" cy="318.54" r="1.25" fill="#1f9a48"/><circle cx="241.29" cy="319.33" r="1.25" fill="#1f9a48"/><circle cx="244.32" cy="319.33" r="1.25" fill="#1f9a48"/><circle cx="247.34" cy="319.33" r="1.25" fill="#1f9a48"/><circle cx="250.36" cy="319.33" r="1.25" fill="#1f9a48"/><circle cx="253.39" cy="319.33" r="1.25" fill="#1f9a48"/><circle cx="256.41" cy="319.33" r="1.25" fill="#1f9a48"/><circle cx="259.44" cy="319.33" r="1.25" fill="#1f9a48"/><circle cx="262.46" cy="319.33" r="1.25" fill="#1f9a48"/><circle cx="265.48" cy="319.33" r="1.25" fill="#1f9a48"/><circle cx="268.51" cy="319.33" r="1.25" fill="#1f9a48"/><circle cx="271.53" cy="319.33" r="1.25" fill="#1f9a48"/><circle cx="274.55" cy="319.33" r="1.25" fill="#1f9a48"/><circle cx="277.58" cy="319.33" r="1.25" fill="#1f9a48"/><circle cx="280.60" cy="319.33" r="1.25" fill="#1f9a48"/><circle cx="283.62" cy="319.33" r="1.25" fill="#1f9a48"/><circle cx="286.65" cy="319.33" r="1.25" fill="#1f9a48"/><circle cx="289.67" cy="319.33" r="1.25" fill="#1f9a48"/><circle cx="292.69" cy="319.33" r="1.25" fill="#1f9a48"/><circle cx="295.72" cy="319.33" r="1.25" fill="#1f9a48"/><circle cx="298.74" cy="319.33" r="1.25" fill="#1f9a48"/><circle cx="301.76" cy="319.33" r="1.25" fill="#1f9a48"/><circle cx="304.79" cy="319.33" r="1.25" fill="#1f9a48"/><circle cx="307.81" cy="319.33" r="1.25" fill="#1f9a48"/><circle cx="310.84" cy="319.33" r="1.25" fill="#1f9a48"/><circle cx="313.86" cy="319.33" r="1.25" fill="#1f9a48"/><circle cx="316.88" cy="319.33" r="1.25" fill="#1f9a48"/><circle cx="319.91" cy="319.33" r="1.25" fill="#1f9a48"/><circle cx="322.93" cy="319.33" r="1.25" fill="#1f9a48"/><circle cx="325.95" cy="319.33" r="1.25" fill="#1f9a48"/><circle cx="328.98" cy="319.33" r="1.25" fill="#1f9a48"/><circle cx="332.00" cy="319.33" r="1.25" fill="#1f9a48"/><path d="M229.20 296.64 L233.45 309.73 L255.27 309.73 L258.18 312.64 L274.18 314.09 L284.36 315.55 L287.27 317.58 L332.00 318.45" fill="none" stroke="#3a3ad6" stroke-width="0.75" stroke-linejoin="round"/><rect x="228.15" y="295.59" width="2.1" height="2.1" fill="#3a3ad6"/><rect x="231.17" y="304.89" width="2.1" height="2.1" fill="#3a3ad6"/><rect x="234.20" y="308.68" width="2.1" height="2.1" fill="#3a3ad6"/><rect x="237.22" y="308.68" width="2.1" height="2.1" fill="#3a3ad6"/><rect x="240.24" y="308.68" width="2.1" height="2.1" fill="#3a3ad6"/><rect x="243.27" y="308.68" width="2.1" height="2.1" fill="#3a3ad6"/><rect x="246.29" y="308.68" width="2.1" height="2.1" fill="#3a3ad6"/><rect x="249.31" y="308.68" width="2.1" height="2.1" fill="#3a3ad6"/><rect x="252.34" y="308.68" width="2.1" height="2.1" fill="#3a3ad6"/><rect x="255.36" y="309.82" width="2.1" height="2.1" fill="#3a3ad6"/><rect x="258.39" y="311.70" width="2.1" height="2.1" fill="#3a3ad6"/><rect x="261.41" y="311.98" width="2.1" height="2.1" fill="#3a3ad6"/><rect x="264.43" y="312.25" width="2.1" height="2.1" fill="#3a3ad6"/><rect x="267.46" y="312.52" width="2.1" height="2.1" fill="#3a3ad6"/><rect x="270.48" y="312.80" width="2.1" height="2.1" fill="#3a3ad6"/><rect x="273.50" y="313.09" width="2.1" height="2.1" fill="#3a3ad6"/><rect x="276.53" y="313.53" width="2.1" height="2.1" fill="#3a3ad6"/><rect x="279.55" y="313.96" width="2.1" height="2.1" fill="#3a3ad6"/><rect x="282.57" y="314.39" width="2.1" height="2.1" fill="#3a3ad6"/><rect x="285.60" y="316.09" width="2.1" height="2.1" fill="#3a3ad6"/><rect x="288.62" y="316.58" width="2.1" height="2.1" fill="#3a3ad6"/><rect x="291.64" y="316.64" width="2.1" height="2.1" fill="#3a3ad6"/><rect x="294.67" y="316.70" width="2.1" height="2.1" fill="#3a3ad6"/><rect x="297.69" y="316.76" width="2.1" height="2.1" fill="#3a3ad6"/><rect x="300.71" y="316.81" width="2.1" height="2.1" fill="#3a3ad6"/><rect x="303.74" y="316.87" width="2.1" height="2.1" fill="#3a3ad6"/><rect x="306.76" y="316.93" width="2.1" height="2.1" fill="#3a3ad6"/><rect x="309.79" y="316.99" width="2.1" height="2.1" fill="#3a3ad6"/><rect x="312.81" y="317.05" width="2.1" height="2.1" fill="#3a3ad6"/><rect x="315.83" y="317.11" width="2.1" height="2.1" fill="#3a3ad6"/><rect x="318.86" y="317.17" width="2.1" height="2.1" fill="#3a3ad6"/><rect x="321.88" y="317.23" width="2.1" height="2.1" fill="#3a3ad6"/><rect x="324.90" y="317.29" width="2.1" height="2.1" fill="#3a3ad6"/><rect x="327.93" y="317.35" width="2.1" height="2.1" fill="#3a3ad6"/><rect x="330.95" y="317.40" width="2.1" height="2.1" fill="#3a3ad6"/><path d="M229.20 296.64 L232.00 298.09 L252.36 298.09 L266.91 299.55 L277.09 301.00 L281.45 304.78 L332.00 304.78" fill="none" stroke="#4a9fd6" stroke-width="0.75" stroke-linejoin="round"/><path d="M228.20 295.64L230.20 297.64M228.20 297.64L230.20 295.64" stroke="#4a9fd6" stroke-width="0.8" fill="none"/><path d="M231.22 297.09L233.22 299.09M231.22 299.09L233.22 297.09" stroke="#4a9fd6" stroke-width="0.8" fill="none"/><path d="M234.25 297.09L236.25 299.09M234.25 299.09L236.25 297.09" stroke="#4a9fd6" stroke-width="0.8" fill="none"/><path d="M237.27 297.09L239.27 299.09M237.27 299.09L239.27 297.09" stroke="#4a9fd6" stroke-width="0.8" fill="none"/><path d="M240.29 297.09L242.29 299.09M240.29 299.09L242.29 297.09" stroke="#4a9fd6" stroke-width="0.8" fill="none"/><path d="M243.32 297.09L245.32 299.09M243.32 299.09L245.32 297.09" stroke="#4a9fd6" stroke-width="0.8" fill="none"/><path d="M246.34 297.09L248.34 299.09M246.34 299.09L248.34 297.09" stroke="#4a9fd6" stroke-width="0.8" fill="none"/><path d="M249.36 297.09L251.36 299.09M249.36 299.09L251.36 297.09" stroke="#4a9fd6" stroke-width="0.8" fill="none"/><path d="M252.39 297.19L254.39 299.19M252.39 299.19L254.39 297.19" stroke="#4a9fd6" stroke-width="0.8" fill="none"/><path d="M255.41 297.50L257.41 299.50M255.41 299.50L257.41 297.50" stroke="#4a9fd6" stroke-width="0.8" fill="none"/><path d="M258.44 297.80L260.44 299.80M258.44 299.80L260.44 297.80" stroke="#4a9fd6" stroke-width="0.8" fill="none"/><path d="M261.46 298.10L263.46 300.10M261.46 300.10L263.46 298.10" stroke="#4a9fd6" stroke-width="0.8" fill="none"/><path d="M264.48 298.40L266.48 300.40M264.48 300.40L266.48 298.40" stroke="#4a9fd6" stroke-width="0.8" fill="none"/><path d="M267.51 298.77L269.51 300.77M267.51 300.77L269.51 298.77" stroke="#4a9fd6" stroke-width="0.8" fill="none"/><path d="M270.53 299.21L272.53 301.21M270.53 301.21L272.53 299.21" stroke="#4a9fd6" stroke-width="0.8" fill="none"/><path d="M273.55 299.64L275.55 301.64M273.55 301.64L275.55 299.64" stroke="#4a9fd6" stroke-width="0.8" fill="none"/><path d="M276.58 300.42L278.58 302.42M276.58 302.42L278.58 300.42" stroke="#4a9fd6" stroke-width="0.8" fill="none"/><path d="M279.60 303.04L281.60 305.04M279.60 305.04L281.60 303.04" stroke="#4a9fd6" stroke-width="0.8" fill="none"/><path d="M282.62 303.78L284.62 305.78M282.62 305.78L284.62 303.78" stroke="#4a9fd6" stroke-width="0.8" fill="none"/><path d="M285.65 303.78L287.65 305.78M285.65 305.78L287.65 303.78" stroke="#4a9fd6" stroke-width="0.8" fill="none"/><path d="M288.67 303.78L290.67 305.78M288.67 305.78L290.67 303.78" stroke="#4a9fd6" stroke-width="0.8" fill="none"/><path d="M291.69 303.78L293.69 305.78M291.69 305.78L293.69 303.78" stroke="#4a9fd6" stroke-width="0.8" fill="none"/><path d="M294.72 303.78L296.72 305.78M294.72 305.78L296.72 303.78" stroke="#4a9fd6" stroke-width="0.8" fill="none"/><path d="M297.74 303.78L299.74 305.78M297.74 305.78L299.74 303.78" stroke="#4a9fd6" stroke-width="0.8" fill="none"/><path d="M300.76 303.78L302.76 305.78M300.76 305.78L302.76 303.78" stroke="#4a9fd6" stroke-width="0.8" fill="none"/><path d="M303.79 303.78L305.79 305.78M303.79 305.78L305.79 303.78" stroke="#4a9fd6" stroke-width="0.8" fill="none"/><path d="M306.81 303.78L308.81 305.78M306.81 305.78L308.81 303.78" stroke="#4a9fd6" stroke-width="0.8" fill="none"/><path d="M309.84 303.78L311.84 305.78M309.84 305.78L311.84 303.78" stroke="#4a9fd6" stroke-width="0.8" fill="none"/><path d="M312.86 303.78L314.86 305.78M312.86 305.78L314.86 303.78" stroke="#4a9fd6" stroke-width="0.8" fill="none"/><path d="M315.88 303.78L317.88 305.78M315.88 305.78L317.88 303.78" stroke="#4a9fd6" stroke-width="0.8" fill="none"/><path d="M318.91 303.78L320.91 305.78M318.91 305.78L320.91 303.78" stroke="#4a9fd6" stroke-width="0.8" fill="none"/><path d="M321.93 303.78L323.93 305.78M321.93 305.78L323.93 303.78" stroke="#4a9fd6" stroke-width="0.8" fill="none"/><path d="M324.95 303.78L326.95 305.78M324.95 305.78L326.95 303.78" stroke="#4a9fd6" stroke-width="0.8" fill="none"/><path d="M327.98 303.78L329.98 305.78M327.98 305.78L329.98 303.78" stroke="#4a9fd6" stroke-width="0.8" fill="none"/><path d="M331.00 303.78L333.00 305.78M331.00 305.78L333.00 303.78" stroke="#4a9fd6" stroke-width="0.8" fill="none"/><path d="M229.20 302.45 L233.45 312.64 L240.73 314.09 L258.18 315.55 L284.36 317.00 L332.00 317.58" fill="none" stroke="#1ecc28" stroke-width="0.75" stroke-linejoin="round"/><circle cx="229.20" cy="302.45" r="1.3" fill="#1ecc28"/><circle cx="232.22" cy="309.69" r="1.3" fill="#1ecc28"/><circle cx="235.25" cy="312.99" r="1.3" fill="#1ecc28"/><circle cx="238.27" cy="313.60" r="1.3" fill="#1ecc28"/><circle cx="241.29" cy="314.14" r="1.3" fill="#1ecc28"/><circle cx="244.32" cy="314.39" r="1.3" fill="#1ecc28"/><circle cx="247.34" cy="314.64" r="1.3" fill="#1ecc28"/><circle cx="250.36" cy="314.89" r="1.3" fill="#1ecc28"/><circle cx="253.39" cy="315.15" r="1.3" fill="#1ecc28"/><circle cx="256.41" cy="315.40" r="1.3" fill="#1ecc28"/><circle cx="259.44" cy="315.62" r="1.3" fill="#1ecc28"/><circle cx="262.46" cy="315.78" r="1.3" fill="#1ecc28"/><circle cx="265.48" cy="315.95" r="1.3" fill="#1ecc28"/><circle cx="268.51" cy="316.12" r="1.3" fill="#1ecc28"/><circle cx="271.53" cy="316.29" r="1.3" fill="#1ecc28"/><circle cx="274.55" cy="316.45" r="1.3" fill="#1ecc28"/><circle cx="277.58" cy="316.62" r="1.3" fill="#1ecc28"/><circle cx="280.60" cy="316.79" r="1.3" fill="#1ecc28"/><circle cx="283.62" cy="316.96" r="1.3" fill="#1ecc28"/><circle cx="286.65" cy="317.03" r="1.3" fill="#1ecc28"/><circle cx="289.67" cy="317.06" r="1.3" fill="#1ecc28"/><circle cx="292.69" cy="317.10" r="1.3" fill="#1ecc28"/><circle cx="295.72" cy="317.14" r="1.3" fill="#1ecc28"/><circle cx="298.74" cy="317.18" r="1.3" fill="#1ecc28"/><circle cx="301.76" cy="317.21" r="1.3" fill="#1ecc28"/><circle cx="304.79" cy="317.25" r="1.3" fill="#1ecc28"/><circle cx="307.81" cy="317.29" r="1.3" fill="#1ecc28"/><circle cx="310.84" cy="317.32" r="1.3" fill="#1ecc28"/><circle cx="313.86" cy="317.36" r="1.3" fill="#1ecc28"/><circle cx="316.88" cy="317.40" r="1.3" fill="#1ecc28"/><circle cx="319.91" cy="317.43" r="1.3" fill="#1ecc28"/><circle cx="322.93" cy="317.47" r="1.3" fill="#1ecc28"/><circle cx="325.95" cy="317.51" r="1.3" fill="#1ecc28"/><circle cx="328.98" cy="317.54" r="1.3" fill="#1ecc28"/><circle cx="332.00" cy="317.58" r="1.3" fill="#1ecc28"/><path d="M229.20 296.64 L232.00 304.78 L332.00 304.78" fill="none" stroke="#5a3a98" stroke-width="0.75" stroke-linejoin="round"/><path d="M229.20 295.04L230.45 296.64L229.20 298.24L227.95 296.64Z" fill="#5a3a98"/><path d="M232.22 303.18L233.47 304.78L232.22 306.38L230.97 304.78Z" fill="#5a3a98"/><path d="M235.25 303.18L236.50 304.78L235.25 306.38L234.00 304.78Z" fill="#5a3a98"/><path d="M238.27 303.18L239.52 304.78L238.27 306.38L237.02 304.78Z" fill="#5a3a98"/><path d="M241.29 303.18L242.54 304.78L241.29 306.38L240.04 304.78Z" fill="#5a3a98"/><path d="M244.32 303.18L245.57 304.78L244.32 306.38L243.07 304.78Z" fill="#5a3a98"/><path d="M247.34 303.18L248.59 304.78L247.34 306.38L246.09 304.78Z" fill="#5a3a98"/><path d="M250.36 303.18L251.61 304.78L250.36 306.38L249.11 304.78Z" fill="#5a3a98"/><path d="M253.39 303.18L254.64 304.78L253.39 306.38L252.14 304.78Z" fill="#5a3a98"/><path d="M256.41 303.18L257.66 304.78L256.41 306.38L255.16 304.78Z" fill="#5a3a98"/><path d="M259.44 303.18L260.69 304.78L259.44 306.38L258.19 304.78Z" fill="#5a3a98"/><path d="M262.46 303.18L263.71 304.78L262.46 306.38L261.21 304.78Z" fill="#5a3a98"/><path d="M265.48 303.18L266.73 304.78L265.48 306.38L264.23 304.78Z" fill="#5a3a98"/><path d="M268.51 303.18L269.76 304.78L268.51 306.38L267.26 304.78Z" fill="#5a3a98"/><path d="M271.53 303.18L272.78 304.78L271.53 306.38L270.28 304.78Z" fill="#5a3a98"/><path d="M274.55 303.18L275.80 304.78L274.55 306.38L273.30 304.78Z" fill="#5a3a98"/><path d="M277.58 303.18L278.83 304.78L277.58 306.38L276.33 304.78Z" fill="#5a3a98"/><path d="M280.60 303.18L281.85 304.78L280.60 306.38L279.35 304.78Z" fill="#5a3a98"/><path d="M283.62 303.18L284.87 304.78L283.62 306.38L282.37 304.78Z" fill="#5a3a98"/><path d="M286.65 303.18L287.90 304.78L286.65 306.38L285.40 304.78Z" fill="#5a3a98"/><path d="M289.67 303.18L290.92 304.78L289.67 306.38L288.42 304.78Z" fill="#5a3a98"/><path d="M292.69 303.18L293.94 304.78L292.69 306.38L291.44 304.78Z" fill="#5a3a98"/><path d="M295.72 303.18L296.97 304.78L295.72 306.38L294.47 304.78Z" fill="#5a3a98"/><path d="M298.74 303.18L299.99 304.78L298.74 306.38L297.49 304.78Z" fill="#5a3a98"/><path d="M301.76 303.18L303.01 304.78L301.76 306.38L300.51 304.78Z" fill="#5a3a98"/><path d="M304.79 303.18L306.04 304.78L304.79 306.38L303.54 304.78Z" fill="#5a3a98"/><path d="M307.81 303.18L309.06 304.78L307.81 306.38L306.56 304.78Z" fill="#5a3a98"/><path d="M310.84 303.18L312.09 304.78L310.84 306.38L309.59 304.78Z" fill="#5a3a98"/><path d="M313.86 303.18L315.11 304.78L313.86 306.38L312.61 304.78Z" fill="#5a3a98"/><path d="M316.88 303.18L318.13 304.78L316.88 306.38L315.63 304.78Z" fill="#5a3a98"/><path d="M319.91 303.18L321.16 304.78L319.91 306.38L318.66 304.78Z" fill="#5a3a98"/><path d="M322.93 303.18L324.18 304.78L322.93 306.38L321.68 304.78Z" fill="#5a3a98"/><path d="M325.95 303.18L327.20 304.78L325.95 306.38L324.70 304.78Z" fill="#5a3a98"/><path d="M328.98 303.18L330.23 304.78L328.98 306.38L327.73 304.78Z" fill="#5a3a98"/><path d="M332.00 303.18L333.25 304.78L332.00 306.38L330.75 304.78Z" fill="#5a3a98"/><path d="M229.20 299.55 L233.45 318.45 L237.82 324.27 L243.64 328.64 L250.91 330.09 L256.73 331.55 L332.00 331.55" fill="none" stroke="#3a5a7e" stroke-width="0.75" stroke-linejoin="round"/><path d="M228.10 299.55H230.30M229.20 298.45V300.65" stroke="#3a5a7e" stroke-width="0.8" fill="none"/><path d="M231.12 312.98H233.32M232.22 311.88V314.08" stroke="#3a5a7e" stroke-width="0.8" fill="none"/><path d="M234.15 320.84H236.35M235.25 319.74V321.94" stroke="#3a5a7e" stroke-width="0.8" fill="none"/><path d="M237.17 324.61H239.37M238.27 323.51V325.71" stroke="#3a5a7e" stroke-width="0.8" fill="none"/><path d="M240.19 326.88H242.39M241.29 325.78V327.98" stroke="#3a5a7e" stroke-width="0.8" fill="none"/><path d="M243.22 328.77H245.42M244.32 327.67V329.87" stroke="#3a5a7e" stroke-width="0.8" fill="none"/><path d="M246.24 329.38H248.44M247.34 328.28V330.48" stroke="#3a5a7e" stroke-width="0.8" fill="none"/><path d="M249.26 329.98H251.46M250.36 328.88V331.08" stroke="#3a5a7e" stroke-width="0.8" fill="none"/><path d="M252.29 330.71H254.49M253.39 329.61V331.81" stroke="#3a5a7e" stroke-width="0.8" fill="none"/><path d="M255.31 331.47H257.51M256.41 330.37V332.57" stroke="#3a5a7e" stroke-width="0.8" fill="none"/><path d="M258.34 331.55H260.54M259.44 330.45V332.65" stroke="#3a5a7e" stroke-width="0.8" fill="none"/><path d="M261.36 331.55H263.56M262.46 330.45V332.65" stroke="#3a5a7e" stroke-width="0.8" fill="none"/><path d="M264.38 331.55H266.58M265.48 330.45V332.65" stroke="#3a5a7e" stroke-width="0.8" fill="none"/><path d="M267.41 331.55H269.61M268.51 330.45V332.65" stroke="#3a5a7e" stroke-width="0.8" fill="none"/><path d="M270.43 331.55H272.63M271.53 330.45V332.65" stroke="#3a5a7e" stroke-width="0.8" fill="none"/><path d="M273.45 331.55H275.65M274.55 330.45V332.65" stroke="#3a5a7e" stroke-width="0.8" fill="none"/><path d="M276.48 331.55H278.68M277.58 330.45V332.65" stroke="#3a5a7e" stroke-width="0.8" fill="none"/><path d="M279.50 331.55H281.70M280.60 330.45V332.65" stroke="#3a5a7e" stroke-width="0.8" fill="none"/><path d="M282.52 331.55H284.72M283.62 330.45V332.65" stroke="#3a5a7e" stroke-width="0.8" fill="none"/><path d="M285.55 331.55H287.75M286.65 330.45V332.65" stroke="#3a5a7e" stroke-width="0.8" fill="none"/><path d="M288.57 331.55H290.77M289.67 330.45V332.65" stroke="#3a5a7e" stroke-width="0.8" fill="none"/><path d="M291.59 331.55H293.79M292.69 330.45V332.65" stroke="#3a5a7e" stroke-width="0.8" fill="none"/><path d="M294.62 331.55H296.82M295.72 330.45V332.65" stroke="#3a5a7e" stroke-width="0.8" fill="none"/><path d="M297.64 331.55H299.84M298.74 330.45V332.65" stroke="#3a5a7e" stroke-width="0.8" fill="none"/><path d="M300.66 331.55H302.86M301.76 330.45V332.65" stroke="#3a5a7e" stroke-width="0.8" fill="none"/><path d="M303.69 331.55H305.89M304.79 330.45V332.65" stroke="#3a5a7e" stroke-width="0.8" fill="none"/><path d="M306.71 331.55H308.91M307.81 330.45V332.65" stroke="#3a5a7e" stroke-width="0.8" fill="none"/><path d="M309.74 331.55H311.94M310.84 330.45V332.65" stroke="#3a5a7e" stroke-width="0.8" fill="none"/><path d="M312.76 331.55H314.96M313.86 330.45V332.65" stroke="#3a5a7e" stroke-width="0.8" fill="none"/><path d="M315.78 331.55H317.98M316.88 330.45V332.65" stroke="#3a5a7e" stroke-width="0.8" fill="none"/><path d="M318.81 331.55H321.01M319.91 330.45V332.65" stroke="#3a5a7e" stroke-width="0.8" fill="none"/><path d="M321.83 331.55H324.03M322.93 330.45V332.65" stroke="#3a5a7e" stroke-width="0.8" fill="none"/><path d="M324.85 331.55H327.05M325.95 330.45V332.65" stroke="#3a5a7e" stroke-width="0.8" fill="none"/><path d="M327.88 331.55H330.08M328.98 330.45V332.65" stroke="#3a5a7e" stroke-width="0.8" fill="none"/><path d="M330.90 331.55H333.10M332.00 330.45V332.65" stroke="#3a5a7e" stroke-width="0.8" fill="none"/><path d="M229.20 302.45 L232.00 317.00 L236.36 334.45 L240.73 341.73 L246.55 347.55 L252.36 353.36 L258.18 360.64 L262.55 366.45 L269.82 368.78 L281.45 370.24 L332.00 370.82" fill="none" stroke="#e8203c" stroke-width="0.75" stroke-linejoin="round"/><circle cx="229.20" cy="302.45" r="1.3" fill="#e8203c"/><circle cx="232.22" cy="317.89" r="1.3" fill="#e8203c"/><circle cx="235.25" cy="329.99" r="1.3" fill="#e8203c"/><circle cx="238.27" cy="337.63" r="1.3" fill="#e8203c"/><circle cx="241.29" cy="342.29" r="1.3" fill="#e8203c"/><circle cx="244.32" cy="345.32" r="1.3" fill="#e8203c"/><circle cx="247.34" cy="348.34" r="1.3" fill="#e8203c"/><circle cx="250.36" cy="351.36" r="1.3" fill="#e8203c"/><circle cx="253.39" cy="354.64" r="1.3" fill="#e8203c"/><circle cx="256.41" cy="358.42" r="1.3" fill="#e8203c"/><circle cx="259.44" cy="362.31" r="1.3" fill="#e8203c"/><circle cx="262.46" cy="366.34" r="1.3" fill="#e8203c"/><circle cx="265.48" cy="367.39" r="1.3" fill="#e8203c"/><circle cx="268.51" cy="368.36" r="1.3" fill="#e8203c"/><circle cx="271.53" cy="369.00" r="1.3" fill="#e8203c"/><circle cx="274.55" cy="369.37" r="1.3" fill="#e8203c"/><circle cx="277.58" cy="369.75" r="1.3" fill="#e8203c"/><circle cx="280.60" cy="370.13" r="1.3" fill="#e8203c"/><circle cx="283.62" cy="370.26" r="1.3" fill="#e8203c"/><circle cx="286.65" cy="370.30" r="1.3" fill="#e8203c"/><circle cx="289.67" cy="370.33" r="1.3" fill="#e8203c"/><circle cx="292.69" cy="370.37" r="1.3" fill="#e8203c"/><circle cx="295.72" cy="370.40" r="1.3" fill="#e8203c"/><circle cx="298.74" cy="370.44" r="1.3" fill="#e8203c"/><circle cx="301.76" cy="370.47" r="1.3" fill="#e8203c"/><circle cx="304.79" cy="370.50" r="1.3" fill="#e8203c"/><circle cx="307.81" cy="370.54" r="1.3" fill="#e8203c"/><circle cx="310.84" cy="370.57" r="1.3" fill="#e8203c"/><circle cx="313.86" cy="370.61" r="1.3" fill="#e8203c"/><circle cx="316.88" cy="370.64" r="1.3" fill="#e8203c"/><circle cx="319.91" cy="370.68" r="1.3" fill="#e8203c"/><circle cx="322.93" cy="370.71" r="1.3" fill="#e8203c"/><circle cx="325.95" cy="370.75" r="1.3" fill="#e8203c"/><circle cx="328.98" cy="370.78" r="1.3" fill="#e8203c"/><circle cx="332.00" cy="370.82" r="1.3" fill="#e8203c"/></g>
<g><rect x="100.7" y="393.8" width="346.6" height="17.3" fill="#fff" stroke="#3a3a3a" stroke-width="1.2"/><path d="M104 402H121" stroke="#a0a0a0" stroke-width="1.45"/><rect x="111.0" y="400.1" width="3" height="3.8" fill="#a0a0a0"/><text x="123" y="406" font-size="9" font-weight="bold" fill="#111" textLength="16" lengthAdjust="spacingAndGlyphs">DBO</text><path d="M143.3 402H162.6" stroke="#1f9a48" stroke-width="1.45"/><ellipse cx="152.95" cy="402" rx="1.7" ry="2" fill="none" stroke="#1f9a48" stroke-width="1.1"/><text x="165" y="406" font-size="9" font-weight="bold" fill="#111" textLength="13.9" lengthAdjust="spacingAndGlyphs">PIO</text><path d="M184.2 402H202" stroke="#3a3ad6" stroke-width="1.45"/><circle cx="193.1" cy="402" r="1.4" fill="#3a3ad6"/><text x="203.7" y="406" font-size="9" font-weight="bold" fill="#111" textLength="16" lengthAdjust="spacingAndGlyphs">SCA</text><path d="M223.8 402H242.7" stroke="#4a9fd6" stroke-width="1.45"/><path d="M231.85 400.4L234.65 403.6M231.85 403.6L234.65 400.4" stroke="#4a9fd6" stroke-width="0.9"/><text x="245" y="406" font-size="9" font-weight="bold" fill="#111" textLength="17.8" lengthAdjust="spacingAndGlyphs">BOA</text><path d="M266.3 402H285.8" stroke="#1ecc28" stroke-width="1.45"/><circle cx="276.05" cy="402" r="1.8" fill="#1ecc28"/><text x="288.1" y="406" font-size="9" font-weight="bold" fill="#111" textLength="20.1" lengthAdjust="spacingAndGlyphs">WOA</text><path d="M311.2 402H331.3" stroke="#5a3a98" stroke-width="1.45"/><path d="M321.25 398.9L323.05 402L321.25 405.1L319.45 402Z" fill="none" stroke="#5a3a98" stroke-width="1.2"/><text x="333.6" y="406" font-size="9" font-weight="bold" fill="#111" textLength="18.2" lengthAdjust="spacingAndGlyphs">COA</text><path d="M357.2 402H377.9" stroke="#3a5a7e" stroke-width="1.45"/><path d="M367.54999999999995 399.8V404.2" stroke="#3a5a7e" stroke-width="0.9"/><text x="380.3" y="406" font-size="9" font-weight="bold" fill="#111" textLength="11.2" lengthAdjust="spacingAndGlyphs">SA</text><path d="M394.7 402H414.8" stroke="#e8203c" stroke-width="1.45"/><polygon points="404.75,398.80 405.51,400.95 407.79,401.01 405.99,402.40 406.63,404.59 404.75,403.30 402.87,404.59 403.51,402.40 401.71,401.01 403.99,400.95" fill="#e8203c"/><text x="417.2" y="406" font-size="9" font-weight="bold" fill="#111" textLength="23.6" lengthAdjust="spacingAndGlyphs">EDBO</text></g>
</svg></body></html>
